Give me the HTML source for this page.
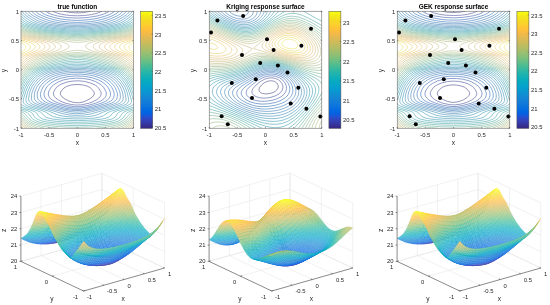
<!DOCTYPE html>
<html><head><meta charset="utf-8"><style>
html,body{margin:0;padding:0;background:#fff;}
body{width:550px;height:305px;overflow:hidden;}
svg{display:block;filter:blur(0.35px);}
text{font-family:"Liberation Sans",Arial,sans-serif;fill:#262626;}
.tk{font-size:5.9px;}
.lb{font-size:6.6px;}
.tt{font-size:6.5px;font-weight:bold;fill:#000;}
.ct path{fill:none;stroke-width:5.5;}
.sf path{stroke-width:2.5;stroke-linejoin:round;}
.c0{fill:#7c75b1;stroke:#352a87}.c1{fill:#7c79b9;stroke:#363093}.c2{fill:#7c7dc1;stroke:#3637a0}.c3{fill:#7c81c9;stroke:#353dad}.c4{fill:#7a85d2;stroke:#3243ba}.c5{fill:#768ada;stroke:#2c4ac7}.c6{fill:#6e8fe3;stroke:#2053d4}.c7{fill:#6395e9;stroke:#0f5cdd}.c8{fill:#5b99eb;stroke:#0363e1}.c9{fill:#5a9dec;stroke:#0268e1}.c10{fill:#5ca0eb;stroke:#046de0}.c11{fill:#5fa3ea;stroke:#0871de}.c12{fill:#62a5e8;stroke:#0d75dc}.c13{fill:#64a8e7;stroke:#1079da}.c14{fill:#65aae6;stroke:#127dd8}.c15{fill:#66ade4;stroke:#1481d6}.c16{fill:#66afe3;stroke:#1485d4}.c17{fill:#66b2e2;stroke:#1389d3}.c18{fill:#64b6e2;stroke:#108ed2}.c19{fill:#61b9e2;stroke:#0c93d2}.c20{fill:#5fbce1;stroke:#0998d1}.c21{fill:#5ebfe0;stroke:#079ccf}.c22{fill:#5dc1de;stroke:#06a0cd}.c23{fill:#5dc4dc;stroke:#06a4ca}.c24{fill:#5dc6da;stroke:#06a7c6}.c25{fill:#5ec7d7;stroke:#07a9c2}.c26{fill:#60c9d5;stroke:#0aacbe}.c27{fill:#63cbd1;stroke:#0faeb9}.c28{fill:#67ccce;stroke:#15b1b4}.c29{fill:#6ccecb;stroke:#1db3af}.c30{fill:#71cfc7;stroke:#25b5a9}.c31{fill:#77d0c4;stroke:#2eb7a4}.c32{fill:#7dd1c0;stroke:#38b99e}.c33{fill:#84d3bc;stroke:#42bb98}.c34{fill:#8bd4b8;stroke:#4dbc92}.c35{fill:#93d4b4;stroke:#59bd8c}.c36{fill:#9bd5b0;stroke:#65be86}.c37{fill:#a3d5ad;stroke:#71bf80}.c38{fill:#aad5a9;stroke:#7cbf7b}.c39{fill:#b1d5a7;stroke:#87bf77}.c40{fill:#b8d5a4;stroke:#92bf73}.c41{fill:#bed5a1;stroke:#9cbf6f}.c42{fill:#c5d59f;stroke:#a5be6b}.c43{fill:#cbd49c;stroke:#aebe67}.c44{fill:#d0d49a;stroke:#b7bd64}.c45{fill:#d6d498;stroke:#c0bc60}.c46{fill:#dbd395;stroke:#c8bc5d}.c47{fill:#e1d393;stroke:#d1bb59}.c48{fill:#e6d291;stroke:#d9ba56}.c49{fill:#ecd28f;stroke:#e1b952}.c50{fill:#f1d28c;stroke:#e9b94e}.c51{fill:#f6d289;stroke:#f1b94a}.c52{fill:#fbd285;stroke:#f8bb44}.c53{fill:#fed581;stroke:#fdbe3d}.c54{fill:#ffd87d;stroke:#ffc337}.c55{fill:#fedc7a;stroke:#fec832}.c56{fill:#fddf77;stroke:#fcce2e}.c57{fill:#fce274;stroke:#fad32a}.c58{fill:#fae672;stroke:#f7d826}.c59{fill:#f9ea6f;stroke:#f5de21}.c60{fill:#f8ee6c;stroke:#f5e41d}.c61{fill:#f8f269;stroke:#f5eb18}.c62{fill:#f9f766;stroke:#f6f313}.c63{fill:#fbfc62;stroke:#f9fb0e}
</style></head><body>
<svg width="550" height="305" viewBox="0 0 550 305">
<defs><linearGradient id="pg" x1="0" y1="1" x2="0" y2="0"><stop offset="0.008" stop-color="#352a87"/><stop offset="0.023" stop-color="#363093"/><stop offset="0.039" stop-color="#3637a0"/><stop offset="0.055" stop-color="#353dad"/><stop offset="0.070" stop-color="#3243ba"/><stop offset="0.086" stop-color="#2c4ac7"/><stop offset="0.102" stop-color="#2053d4"/><stop offset="0.117" stop-color="#0f5cdd"/><stop offset="0.133" stop-color="#0363e1"/><stop offset="0.148" stop-color="#0268e1"/><stop offset="0.164" stop-color="#046de0"/><stop offset="0.180" stop-color="#0871de"/><stop offset="0.195" stop-color="#0d75dc"/><stop offset="0.211" stop-color="#1079da"/><stop offset="0.227" stop-color="#127dd8"/><stop offset="0.242" stop-color="#1481d6"/><stop offset="0.258" stop-color="#1485d4"/><stop offset="0.273" stop-color="#1389d3"/><stop offset="0.289" stop-color="#108ed2"/><stop offset="0.305" stop-color="#0c93d2"/><stop offset="0.320" stop-color="#0998d1"/><stop offset="0.336" stop-color="#079ccf"/><stop offset="0.352" stop-color="#06a0cd"/><stop offset="0.367" stop-color="#06a4ca"/><stop offset="0.383" stop-color="#06a7c6"/><stop offset="0.398" stop-color="#07a9c2"/><stop offset="0.414" stop-color="#0aacbe"/><stop offset="0.430" stop-color="#0faeb9"/><stop offset="0.445" stop-color="#15b1b4"/><stop offset="0.461" stop-color="#1db3af"/><stop offset="0.477" stop-color="#25b5a9"/><stop offset="0.492" stop-color="#2eb7a4"/><stop offset="0.508" stop-color="#38b99e"/><stop offset="0.523" stop-color="#42bb98"/><stop offset="0.539" stop-color="#4dbc92"/><stop offset="0.555" stop-color="#59bd8c"/><stop offset="0.570" stop-color="#65be86"/><stop offset="0.586" stop-color="#71bf80"/><stop offset="0.602" stop-color="#7cbf7b"/><stop offset="0.617" stop-color="#87bf77"/><stop offset="0.633" stop-color="#92bf73"/><stop offset="0.648" stop-color="#9cbf6f"/><stop offset="0.664" stop-color="#a5be6b"/><stop offset="0.680" stop-color="#aebe67"/><stop offset="0.695" stop-color="#b7bd64"/><stop offset="0.711" stop-color="#c0bc60"/><stop offset="0.727" stop-color="#c8bc5d"/><stop offset="0.742" stop-color="#d1bb59"/><stop offset="0.758" stop-color="#d9ba56"/><stop offset="0.773" stop-color="#e1b952"/><stop offset="0.789" stop-color="#e9b94e"/><stop offset="0.805" stop-color="#f1b94a"/><stop offset="0.820" stop-color="#f8bb44"/><stop offset="0.836" stop-color="#fdbe3d"/><stop offset="0.852" stop-color="#ffc337"/><stop offset="0.867" stop-color="#fec832"/><stop offset="0.883" stop-color="#fcce2e"/><stop offset="0.898" stop-color="#fad32a"/><stop offset="0.914" stop-color="#f7d826"/><stop offset="0.930" stop-color="#f5de21"/><stop offset="0.945" stop-color="#f5e41d"/><stop offset="0.961" stop-color="#f5eb18"/><stop offset="0.977" stop-color="#f6f313"/><stop offset="0.992" stop-color="#f9fb0e"/></linearGradient></defs>
<g clip-path="url(#clip0)"><g class="ct" transform="scale(.1)"><path d="M835 851l37 10 28 14 28 27 10 14 5 15-2 15-15 22-28 21-41 21-28 10-35 7-35 0-35-6-42-14-34-18-28-21-15-22-2-15 10-22 27-29 27-16 36-12 42-6 42-1 48 6M909 112l-66 13-70 4-70-4-66-13" stroke="#3a3b7f"/><path d="M845 814l62 17 49 23 15 11 13 13 24 38 4 22-4 15-8 15-13 14-19 15-43 22-38 14-72 15-49 3-49-5-58-13-38-14-31-15-31-22-13-14-8-15-4-15 2-14 6-15 13-22 21-23 20-13 22-12 50-18 56-10 63-3 58 6M1021 112l-51 21-56 13-71 9-70 3-70-3-71-9-56-13-51-21" stroke="#3b4693"/><path d="M835 785l65 11 52 18 51 29 19 15 13 14 24 44 4 15-2 22-6 15-15 19-11 10-24 14-50 22-83 23-71 11-56 0-72-12-57-14-44-15-31-15-24-14-16-15-10-14-7-16-1-21 7-22 16-29 11-15 16-14 46-30 53-21 64-13 70-6 69 4M1092 112l-23 15-31 14-68 19-98 16-99 5-99-5-98-16-68-19-31-14-23-15" stroke="#3253a6"/><path d="M843 763l78 14 63 22 28 14 21 15 21 17 20 20 14 22 13 29 4 15 0 22-8 22-10 14-16 15-17 10-42 19-74 22-59 15-71 10-63 1-35-4-50-9-126-35-34-14-25-15-16-15-10-14-8-22 0-22 6-22 15-29 10-15 21-22 29-22 24-14 58-24 78-17 77-7 84 4M1146 112l-28 21-30 16-41 14-49 14-56 12-56 8-57 5-56 2-56-2-57-5-56-8-56-12-49-14-41-14-30-16-28-21" stroke="#205eb0"/><path d="M809 741l84 9 35 7 42 12 40 16 28 14 22 15 23 19 21 22 13 17 18 37 6 22 1 22-5 22-13 22-17 14-43 22-70 22-66 18-92 18-42 3-35 0-49-3-57-10-70-17-77-23-24-8-31-14-22-15-13-15-9-21-3-22 3-22 8-22 14-30 13-17 28-28 29-22 22-13 34-15 41-14 36-9 85-12 92-1M1192 112l-25 22-35 20-56 23-57 17-56 13-56 9-66 6-68 2-68-2-66-6-56-9-56-13-57-17-56-23-35-20-25-22" stroke="#2266b1"/><path d="M840 726l88 12 70 20 35 15 36 19 21 15 24 22 20 22 15 21 17 37 8 29-1 30-6 21-10 15-25 19-21 11-65 21-132 35-85 13-77 3-49-4-61-10-136-35-52-16-33-14-24-16-14-14-7-15-3-14-1-30 5-22 16-36 13-22 26-29 24-22 28-19 34-18 36-14 43-13 42-9 50-6 49-4 49 0 53 2M1231 112l-22 22-32 22-66 30-59 21-62 15-62 9-78 7-77 2-77-2-78-7-62-9-62-15-59-21-66-30-32-22-22-22" stroke="#2a6eb1"/><path d="M848 712l94 13 77 21 28 12 36 18 28 20 21 18 28 31 18 27 17 37 7 29 2 37-6 22-10 14-21 16-28 13-44 15-139 39-120 23-42 3-35 1-56-5-78-15-63-14-88-24-84-30-25-16-17-20-6-22 2-37 7-29 17-37 18-27 28-31 26-22 34-22 29-14 39-15 48-13 47-9 52-7 56-3 103 3M1266 112l-27 29-33 22-67 34-63 23-64 14-70 11-85 7-84 2-84-2-85-7-70-11-64-14-63-23-67-34-33-22-27-29" stroke="#3075b0"/><path d="M841 697l101 13 49 11 42 13 37 14 27 15 32 22 24 20 27 31 21 29 17 37 9 29 5 37-2 29-7 14-6 8-19 14-45 19-56 18-183 48-78 15-77 4-49-4-50-8-134-33-77-22-56-18-45-19-19-14-11-15-4-22 3-44 9-29 18-41 21-31 26-30 26-22 32-22 28-15 43-17 42-12 56-12 49-7 57-4 56-1 61 2M1297 112l-11 15-20 20-43 29-56 31-60 22-64 15-87 12-92 8-91 3-91-3-92-8-87-12-64-15-60-22-56-31-43-29-20-20-11-15" stroke="#337cb0"/><path d="M895 690l90 14 48 14 43 15 31 15 24 15 28 22 23 22 29 36 18 29 18 44 8 37 5 36-1 15-14 22-21 15-35 14-43 15-239 70-71 11-84 3-63-5-50-9-239-70-43-15-35-14-21-15-11-15-4-22 7-51 9-29 19-44 23-34 27-32 34-29 37-24 42-19 49-15 57-14 49-7 64-6 63-2 63 1 66 6M1325 112l-16 22-14 15-58 41-42 25-57 21-69 16-99 15-98 9-99 3-99-3-98-9-99-15-69-16-57-21-42-25-58-41-14-15-16-22" stroke="#3284b0"/><path d="M865 675l110 15 37 7 42 12 43 17 31 15 25 16 28 23 28 29 30 42 12 21 20 52 15 65 1 15-7 22-17 15-47 22-144 43-41 15-54 25-28 9-42 8-43 5-105 4-99-6-70-13-28-10-67-29-172-54-40-19-17-15-7-22 2-22 14-58 24-59 24-37 22-29 34-31 35-25 42-20 50-18 42-11 56-10 63-8 71-5 63 0 64 4M1336 135l-28 27-60 45-42 22-46 16-84 19-99 14-105 10-99 3-99-3-105-10-99-14-84-19-46-16-42-22-60-45-28-27" stroke="#2e8bb0"/><path d="M849 660l121 17 89 20 38 13 36 16 27 16 28 21 36 36 27 37 21 36 17 44 24 81 2 14-3 15-3 7-19 15-47 22-138 44-30 14-41 30-36 12-48 10-57 5-71 4-77 0-127-7-49-7-35-9-28-12-48-33-37-15-134-42-31-16-19-15-5-14 1-22 24-81 21-51 27-44 23-29 30-29 35-25 42-22 49-18 50-13 63-11 70-11 64-5 56-1 62 3M1336 162l-45 38-32 22-43 19-57 17-83 17-106 15-98 9-99 3-99-3-98-9-106-15-83-17-57-17-43-19-32-22-45-38" stroke="#2e92af"/><path d="M1336 1042l-16 13-30 15-114 36-35 15-19 15-17 22-8 7-12 7-23 9-50 11-63 7-85 5-91 2-91-2-85-5-63-7-50-11-23-9-12-7-8-7-17-22-19-15-35-15-114-36-30-15-16-13M210 995l42-115 21-41 21-32 22-26 26-25 30-23 35-20 39-16 88-23 126-24 57-6 56-2 56 2 57 6 126 24 88 23 39 16 35 20 30 23 26 25 22 26 21 32 21 41 42 115M1336 186l-33 28-37 22-50 19-68 18-86 16-99 13-99 8-91 3-91-3-99-8-99-13-86-16-68-18-50-19-37-22-33-28" stroke="#2f97ac"/><path d="M1336 1070l-39 15-72 21-34 15-17 15-12 22-12 14-24 15-22 8-57 11-77 9-98 6-99 2-99-2-98-6-77-9-57-11-22-8-24-15-12-14-12-22-17-15-34-15-72-21-39-15M210 946l28-77 37-62 43-51 26-22 28-18 35-17 28-11 134-36 113-20 91-6 91 6 113 20 134 36 28 11 35 17 28 18 26 22 43 51 37 62 28 77M1336 211l-35 24-35 16-64 21-70 16-84 14-99 12-92 7-84 2-84-2-92-7-99-12-84-14-70-16-64-21-35-16-35-24" stroke="#329ca7"/><path d="M1336 1088l-62 18-35 15-19 15-16 29-12 15-23 14-39 15-61 12-85 10-105 6-106 2-106-2-105-6-85-10-61-12-39-15-23-14-12-15-16-29-19-15-35-15-62-18M210 895l12-30 16-29 21-34 21-28 21-23 20-17 51-33 35-15 70-23 106-28 106-20 84-5 84 5 106 20 106 28 70 23 35 15 51 33 20 17 21 23 21 28 21 34 16 29 12 30M1336 232l-35 19-49 18-64 18-63 13-92 14-98 11-85 7-77 2-77-2-85-7-98-11-92-14-63-13-64-18-49-18-35-19" stroke="#3ca1a3"/><path d="M1336 1102l-35 12-30 14-15 15-25 37-15 12-29 17-41 14-70 14-85 10-105 7-113 2-113-2-105-7-85-10-70-14-41-14-29-17-15-12-25-37-15-15-30-14-35-12M210 857l28-50 38-51 40-36 42-26 112-43 106-30 106-21 49-5 42-1 42 1 49 5 106 21 106 30 112 43 42 26 40 36 38 51 28 50M1336 249l-42 18-57 19-49 12-63 13-92 13-105 12-85 7-70 2-70-2-85-7-105-12-92-13-63-13-49-12-57-19-42-18" stroke="#48a59e"/><path d="M1336 1117l-24 11-18 13-38 46-26 20-34 17-43 13-70 15-85 11-112 7-113 2-113-2-112-7-85-11-70-15-43-13-34-17-26-20-38-46-18-13-24-11M210 827l28-46 35-43 41-34 44-22 105-43 113-34 106-20 49-5 42-2 42 2 49 5 106 20 113 34 105 43 44 22 41 34 35 43 28 46M1336 263l-42 17-47 15-59 14-63 12-204 26-78 7-70 2-70-2-78-7-204-26-63-12-59-14-47-15-42-17" stroke="#5ead96"/><path d="M581 1282l-75-7-64-10-49-11-49-16-32-14-25-16-23-21-33-36-21-16M1336 1135l-21 16-33 36-23 21-25 16-32 14-49 16-49 11-64 10-75 7M210 799l41-58 40-37 32-18 91-43 92-33 91-25 92-16 84-6 84 6 92 16 91 25 92 33 91 43 32 18 40 37 41 58M1336 276l-49 19-42 12-134 26-190 25-78 6-70 3-70-3-78-6-190-25-134-26-42-12-49-19" stroke="#6fb190"/><path d="M444 1282l-72-18-35-13-28-13-25-14-20-15-54-54M1336 1155l-54 54-20 15-25 14-28 13-35 13-72 18M210 774l30-40 40-37 85-46 70-32 85-29 91-22 78-12 84-5 84 5 78 12 91 22 85 29 70 32 85 46 40 37 30 40M1336 289l-36 13-55 15-155 29-190 24-71 6-56 2-56-2-71-6-190-24-155-29-55-15-36-13" stroke="#81b48c"/><path d="M375 1282l-52-20-43-24-29-22-41-42M1336 1174l-41 42-29 22-43 24-52 20M210 750l28-34 32-26 95-55 84-37 71-23 77-18 99-14 77-4 77 4 99 14 77 18 71 23 84 37 95 55 32 26 28 34M1336 302l-91 25-141 27-204 27-71 7-56 2-56-2-71-7-204-27-141-27-91-25" stroke="#92b687"/><path d="M331 1282l-37-19-28-18-28-24-28-29M1336 1192l-28 29-28 24-28 18-37 19M210 728l30-31 76-51 63-35 63-27 64-19 77-17 106-17 84-6 84 6 106 17 77 17 64 19 63 27 63 35 76 51 30 31M1336 313l-91 24-120 23-268 39-84 5-84-5-268-39-120-23-91-24" stroke="#a1b884"/><path d="M298 1282l-46-32-42-41M1336 1209l-42 41-46 32M210 709l21-20 92-64 49-28 49-20 71-21 204-44 42-7 35-2 35 2 42 7 204 44 71 21 49 20 49 28 92 64 21 20M1336 324l-77 21-80 16-181 29-148 27-42 5-35 2-35-2-42-5-148-27-181-29-80-16-77-21" stroke="#afb980"/><path d="M272 1282l-34-27-28-29M1336 1226l-28 29-34 27M210 691l91-71 57-33 35-15 41-14 125-29 73-22 33-15 18-14 6-8 3-7-3-7-7-8-21-14-43-15-96-22-228-41-84-21M1336 335l-84 21-228 41-96 22-43 15-21 14-7 8-3 7 3 7 6 8 18 14 33 15 73 22 125 29 41 14 35 15 57 33 91 71" stroke="#bbb97d"/><path d="M251 1282l-41-40M1336 1242l-41 40M210 676l70-60 50-33 60-25 114-29 65-22 26-15 14-14 5-15-8-15-17-14-38-15-90-22-181-34-70-17M1336 346l-70 17-181 34-90 22-38 15-17 14-8 15 5 15 14 14 26 15 65 22 114 29 60 25 50 33 70 60" stroke="#c7b97a"/><path d="M232 1282l-22-23M1336 1259l-22 23M210 659l56-54 36-25 47-22 104-29 60-22 25-15 12-14 4-15-8-15-17-14-37-15-87-22-195-40M1336 357l-195 40-87 22-37 15-17 14-8 15 4 15 12 14 25 15 60 22 104 29 47 22 36 25 56 54" stroke="#d3b976"/><path d="M216 1282l-6-7M1336 1275l-6 7M210 638l41-43 30-22 35-17 90-27 56-22 24-15 11-14 3-15-8-15-18-14-37-15-85-22-142-30M1336 367l-142 30-85 22-37 15-18 14-8 15 3 15 11 14 24 15 56 22 90 27 35 17 30 22 41 43" stroke="#dfbb72"/><path d="M210 612l28-31 28-19 27-11 87-30 47-21 9-8 10-14 3-15-3-7-14-15-26-15-75-22-121-27M1336 377l-121 27-75 22-26 15-14 15-3 7 3 15 10 14 9 8 47 21 87 30 27 11 28 19 28 31" stroke="#e9c06c"/><path d="M210 581l30-23 96-37 43-21 14-15 7-15 0-7-10-15-20-14-15-8-74-22-71-17M1336 387l-71 17-74 22-15 8-20 14-10 15 0 7 7 15 14 15 43 21 96 37 30 23" stroke="#ebc866"/><path d="M210 557l82-36 29-14 20-15 11-22-1-7-3-7-27-22-37-15-74-21M1336 398l-74 21-37 15-27 22-3 7-1 7 11 22 20 15 29 14 82 36" stroke="#e9d062"/><path d="M210 540l41-19 37-21 11-15 6-15-1-7-4-7-27-22-16-8-47-15M1336 411l-47 15-16 8-27 22-4 7-1 7 6 15 11 15 37 21 41 19" stroke="#e8d95e"/><path d="M210 522l33-22 11-15 4-15-1-7-12-15-20-14-15-8M1336 426l-15 8-20 14-12 15-1 7 4 15 11 15 33 22" stroke="#eae45b"/></g></g>
<clipPath id="clip0"><rect x="21" y="11.2" width="112.6" height="117"/></clipPath>
<rect x="21" y="11.2" width="112.6" height="117" fill="none" stroke="#4d4d4d" stroke-width="0.5"/>
<path d="M21 128.2v-1.2M21 11.2v1.2M21 128.2h1.2M133.6 128.2h-1.2M49.1 128.2v-1.2M49.1 11.2v1.2M21 98.9h1.2M133.6 98.9h-1.2M77.3 128.2v-1.2M77.3 11.2v1.2M21 69.7h1.2M133.6 69.7h-1.2M105.4 128.2v-1.2M105.4 11.2v1.2M21 40.5h1.2M133.6 40.5h-1.2M133.6 128.2v-1.2M133.6 11.2v1.2M21 11.2h1.2M133.6 11.2h-1.2" stroke="#4d4d4d" stroke-width="0.5"/>
<text x="21" y="136.9" class="tk" text-anchor="middle">-1</text>
<text x="19.1" y="130.7" class="tk" text-anchor="end">-1</text>
<text x="49.1" y="136.9" class="tk" text-anchor="middle">-0.5</text>
<text x="19.1" y="101.4" class="tk" text-anchor="end">-0.5</text>
<text x="77.3" y="136.9" class="tk" text-anchor="middle">0</text>
<text x="19.1" y="72.2" class="tk" text-anchor="end">0</text>
<text x="105.4" y="136.9" class="tk" text-anchor="middle">0.5</text>
<text x="19.1" y="43" class="tk" text-anchor="end">0.5</text>
<text x="133.6" y="136.9" class="tk" text-anchor="middle">1</text>
<text x="19.1" y="13.7" class="tk" text-anchor="end">1</text>
<text x="77.3" y="145.2" class="lb" text-anchor="middle">x</text>
<text class="lb" text-anchor="middle" transform="translate(6.4 70.5) rotate(-90)">y</text>
<text x="77.3" y="8.6" class="tt" text-anchor="middle">true function</text>
<rect x="140.7" y="11.3" width="12" height="117.1" fill="url(#pg)"/>
<rect x="140.7" y="11.3" width="12" height="117.1" fill="none" stroke="#4d4d4d" stroke-width="0.5"/>
<text x="154.8" y="129.5" class="tk">20.5</text>
<text x="154.8" y="111" class="tk">21</text>
<text x="154.8" y="92.5" class="tk">21.5</text>
<text x="154.8" y="73.9" class="tk">22</text>
<text x="154.8" y="55.4" class="tk">22.5</text>
<text x="154.8" y="36.9" class="tk">23</text>
<text x="154.8" y="18.3" class="tk">23.5</text>
<path d="M152.7 126.9h-1.2M152.7 108.4h-1.2M152.7 89.9h-1.2M152.7 71.3h-1.2M152.7 52.8h-1.2M152.7 34.3h-1.2M152.7 15.7h-1.2" stroke="#4d4d4d" stroke-width="0.5"/>
<g clip-path="url(#clip1)"><g class="ct" transform="scale(.1)"><path d="M2744 814l24 16 9 13 5 15 0 14-6 15-11 15-11 10-21 12-20 7-44 8-21-1-21-3-21-9-10-10-4-7-2-15 7-22 17-21 27-22 28-14 28-7 21 0 26 6" stroke="#3a3b7f"/><path d="M2755 785l27 12 22 17 16 22 8 22 1 22-7 22-15 22-25 20-32 16-39 12-42 8-35 1-35-3-35-10-27-15-13-15-3-7-2-15 3-14 7-15 31-36 46-37 41-22 36-11 35-3 37 7" stroke="#3b4693"/><path d="M2755 763l39 14 32 22 24 30 13 29 2 29-7 29-20 29-28 23-42 21-50 15-56 8-49 1-42-5-43-12-21-10-18-11-20-22-6-15-1-14 3-15 8-15 12-14 22-22 67-51 52-30 43-14 42-5 44 5" stroke="#3253a6"/><path d="M2713 741l26 2 29 5 42 17 21 12 18 15 15 15 16 22 15 36 3 22-1 22-7 22-8 15-11 14-19 18-42 26-56 21-71 13-63 3-64-7-53-15-44-22-19-15-14-14-12-22-2-15 2-15 7-14 11-15 32-29 84-59 58-32 28-12 28-8 28-5 23-1" stroke="#205eb0"/><path d="M2713 726l26 2 31 6 26 8 30 14 26 16 25 20 20 22 14 22 10 22 6 22 2 22-2 22-8 22-12 22-20 21-18 15-24 15-28 14-63 20-78 12-70 1-35-4-36-7-63-22-53-29-19-15-20-21-8-15-4-15 0-14 4-15 15-22 34-29 105-66 73-39 56-20 28-5 30-2M2484 112l-2 15-4 7-14 15-27 11-28 3-36-5-29-9-28-15-25-22" stroke="#2266b1"/><path d="M2766 719l30 8 33 14 27 15 30 21 23 22 18 22 14 22 12 29 6 30-1 22-5 22-9 21-15 21-14 16-21 18-28 19-29 14-34 13-71 16-77 7-42-2-35-4-42-8-36-10-70-29-35-19-29-21-16-16-16-22-8-22 0-14 3-15 8-15 13-14 17-15 59-36 133-73 68-29 35-9 35-5 35 1 34 5M2533 112l-1 15-5 14-10 15-17 14-14 8-21 8-42 6-50-6-45-15-29-15-23-15-32-29" stroke="#2a6eb1"/><path d="M2753 704l36 8 39 14 31 16 33 21 27 22 27 29 21 29 13 29 7 30 0 22-5 29-9 22-15 24-22 24-28 24-28 18-35 16-35 13-35 9-43 7-42 3-42 1-77-8-43-10-42-13-42-16-42-20-37-21-31-22-23-22-16-22-7-14-3-15 1-15 5-14 9-15 14-15 42-29 200-102 53-22 39-11 35-6 35-1 35 3M2573 112l-4 22-6 15-17 22-18 14-27 15-22 7-21 4-28 2-28-2-29-5-28-8-35-14-28-14-34-21-19-15-22-22" stroke="#3075b0"/><path d="M2716 690l45 4 41 10 39 15 43 22 42 29 32 29 24 30 22 36 9 29 3 30-5 29-11 29-18 29-24 28-29 25-30 21-33 16-35 14-35 10-42 8-43 4-42 0-42-2-49-7-50-12-49-15-56-23-48-23-44-25-35-26-23-22-16-22-9-22-2-14 1-15 6-15 10-14 15-15 32-22 282-131 35-12 28-6 28-4 33 0M2608 112l-4 22-11 22-19 22-25 20-21 12-28 12-33 7-30 2-28-2-36-6-35-10-35-13-43-22-34-22-29-22-22-22" stroke="#337cb0"/><path d="M2753 682l43 9 49 17 42 21 43 27 37 29 35 36 25 37 12 29 4 29-2 30-9 29-20 36-26 35-28 27-36 27-35 20-35 16-35 11-42 9-43 5-42 1-42-3-42-5-50-11-56-16-55-21-57-24-53-27-48-29-30-22-29-29-14-22-7-22-1-15 3-14 6-15 11-15 15-14 41-25 155-64 123-57 46-18 35-9 35-5 35-1 42 3M2642 112l-6 22-18 29-19 22-27 22-30 17-29 12-34 8-35 3-35-2-43-8-42-13-41-17-42-22-35-22-30-22-31-29" stroke="#3284b0"/><path d="M2770 675l47 12 49 19 54 28 44 29 36 29 34 37 24 36 10 29 2 30-6 36-15 37-21 33-28 34-37 35-41 30-42 23-35 15-35 10-35 6-43 4-42-1-49-5-42-7-50-13-63-20-63-25-70-31-57-30-49-29-29-22-23-22-20-29-8-22-1-15 4-22 7-14 11-15 16-14 22-15 28-14 162-60 133-59 57-21 35-8 42-5 42 0 45 6M2675 112l-12 29-21 30-30 29-30 22-33 17-35 14-35 7-35 2-35-3-43-8-42-13-42-17-44-21-50-29-40-30-32-29" stroke="#2e8bb0"/><path d="M2739 660l50 9 56 17 59 26 52 29 52 36 41 37 29 37 16 36 4 37-7 36-16 37-26 41-35 43-42 40-43 33-49 28-35 14-35 10-35 6-43 2-42-2-42-6-42-8-50-14-63-22-77-31-88-39-73-37-49-29-30-22-23-22-20-29-8-22-2-15 3-22 6-14 10-15 14-14 20-15 26-15 55-22 152-49 140-60 50-17 35-9 35-5 35-1 35 2M2709 112l-16 29-23 30-30 29-41 30-35 20-36 14-38 9-39 3-42-3-43-8-44-14-47-19-52-25-51-29-43-29-37-32" stroke="#2e92af"/><path d="M2092 868l15-17 28-22 27-15 35-15 198-58 49-18 105-45 43-15 56-12 63-2 64 7 70 20 69 28 79 44 61 44 38 37 24 36 7 22 3 22-1 22-8 29-24 51-23 34-25 32-59 61-57 45-56 33-56 19-56 8-64-2-70-14-78-24-98-39-180-79-87-44-54-37-23-22-15-20M2746 112l-21 29-34 37-43 36-35 25-35 20-36 15-35 10-42 5-35-1-42-6-43-10-49-18-57-25-56-29-49-29-42-29" stroke="#2f97ac"/><path d="M2092 819l42-20 42-14 155-39 64-19 147-59 45-15 33-8 35-5 63-1 71 11 77 23 74 31 80 44 66 44 40 37 11 14 11 22 5 15 3 22-2 22-7 29-13 29-16 29-48 66-63 71-63 56-57 38-49 22-28 7-28 5-43 1-49-7-49-12-56-19-71-29-323-140-60-29-39-25M2789 112l-36 37-42 36-47 37-44 29-35 20-36 15-35 10-35 5-35 1-42-5-43-9-42-13-49-20-56-26-69-37-51-30" stroke="#329ca7"/><path d="M2621 1282l-269-125-260-102M2092 788l63-18 155-33 63-17 50-16 112-45 50-17 49-10 49-3 42 2 50 7 49 12 49 15 49 20 59 27 71 36 49 29 32 22 25 22 12 15 12 22 6 22 1 22-4 22-10 29-18 36-29 44-37 49-42 50-49 53-42 41-36 30-37 26M2852 112l-56 34-128 90-59 37-60 27-35 9-28 5-35 1-42-4-43-9-42-13-49-18-60-27-123-65M3218 212l-53-27-131-73" stroke="#3ca1a3"/><path d="M2557 1282l-120-66-111-51-107-39-127-37M3218 927l-12 26-17 29-52 73-109 132-86 95M2092 763l197-36 70-16 64-21 119-46 50-15 56-9 56 0 57 6 63 14 64 20 74 30 112 51 72 36 44 30 16 14 12 18M3218 254l-134-73-63-29-56-16-29-2-28 0-49 10-49 21-56 32-119 76-64 33-36 12-28 6-28 3-35 0-63-9-78-24-91-39-120-59" stroke="#48a59e"/><path d="M2507 1282l-46-29-52-29-57-28-49-21-49-17-56-16-57-13-49-8M3218 984l-157 196-77 102M2092 741l162-23 77-14 78-22 119-46 43-14 56-11 56-2 42 3 50 8 98 26 82 29 263 104M3218 288l-91-56-71-36-63-24-57-9-28-1-28 3-56 16-63 30-120 73-49 26-57 21-28 6-28 3-35 0-35-4-36-8-42-12-91-36-148-69" stroke="#5ead96"/><path d="M2461 1282l-43-29-39-22-48-23-54-21-49-15-45-9-49-7-42-1M3218 1022l-63 73-57 70-42 59-36 58M2092 720l141-13 91-15 78-21 119-46 43-13 49-10 56-3 70 6 78 15 86 26 195 67 64 16 56 10M3218 317l-84-56-78-41-63-24-57-11-28-1-28 3-35 7-28 9-63 29-120 70-49 25-57 19-49 7-28 0-35-4-35-7-43-12-84-32-162-73" stroke="#6fb190"/><path d="M2417 1282l-33-22-39-22-49-21-42-14-42-10-43-5-42-1-35 5M3218 1055l-54 59-46 58-38 59-27 51M2092 701l127-7 98-14 85-23 112-43 42-13 50-10 49-3 70 5 78 15 77 21 162 51 63 16 64 8 49 0M3218 346l-77-57-71-42-35-16-35-13-35-9-29-4-28-2-28 2-28 5-35 9-63 28-127 73-42 21-50 18-28 5-28 3-28-1-35-4-35-7-43-13-77-29-169-74" stroke="#81b48c"/><path d="M2368 1282l-36-22-31-15-40-13-36-8-34-4-36 0-35 7-28 12M3218 1087l-45 49-39 51-30 51-18 44M2092 683l120-4 56-5 49-8 78-21 147-55 43-9 49-5 70 4 78 14 77 19 155 45 70 16 35 5 36 1 35-3 28-7M3218 376l-32-30-37-29-72-46-35-18-35-15-35-10-36-6-35-2-28 2-28 5-35 10-71 32-112 65-42 22-50 18-49 7-28 0-35-4-71-18-70-26-190-80" stroke="#92b687"/><path d="M2304 1282l-50-19-21-4-28-2-22 2-21 4-21 9-14 10M3218 1119l-35 39-31 44-22 43-12 37M2092 665l113 0 56-5 49-7 42-10 41-12 142-54 43-10 42-3 63 3 71 12 77 18 169 45 77 14 42 3 36-3 35-8 28-14M3218 408l-29-33-32-29-37-29-36-24-42-23-35-15-35-11-36-6-35-2-28 1-35 7-35 10-64 29-119 70-42 22-50 16-42 6-28-1-35-5-71-18-63-24-197-82" stroke="#a1b884"/><path d="M3218 1155l-25 32-18 29-16 37-6 29M2092 648l56 3 57-1 56-4 49-8 79-21 139-56 28-7 36-5 56 2 70 11 78 17 183 46 49 10 42 5 49-1 43-10 21-9 14-9 21-22M3218 450l-19-31-30-36-30-30-37-29-39-25-42-22-42-15-35-8-36-3-35 1-35 6-35 10-35 14-36 18-119 73-35 19-43 16-42 6-28 0-28-4-71-19-56-20-148-63-70-27" stroke="#afb980"/><path d="M3218 1205l-10 19-9 21-4 22 0 15M2092 630l56 5 57 0 56-5 49-8 42-10 36-12 133-60 28-7 36-3 49 4 63 12 289 69 56 7 49 0 28-4 22-7 21-10 17-14 12-14 9-15 7-22 2-22-6-36-15-37-25-37-33-36-44-37-44-27-42-20-49-14-43-5-35 1-35 5-42 13-35 15-43 23-112 75-35 20-36 14-35 5-49-4-63-17-71-27-155-67-70-25" stroke="#bbb97d"/><path d="M2092 612l63 6 71-1 63-7 49-12 49-18 54-29 62-44 17-15 3-7-142-54-212-93-77-27M2922 280l-42-1-42 6-42 13-42 19-50 29-50 37-105 87-8 8-3 7 66 22 133 36 143 37 92 20 49 6 42 1 35-5 36-14 20-15 12-15 11-22 4-22-1-22-5-22-8-22-17-29-23-29-21-22-26-22-32-22-34-18-28-12-35-10-29-4" stroke="#c7b97a"/><path d="M2092 594l56 6 57 1 56-5 45-9 43-14 42-22 25-22 9-15 2-7-2-15-12-14-20-15-39-22-150-73-56-23-56-18M2922 294l-42-1-49 7-49 17-50 27-53 39-24 21-20 22-9 15-6 15 1 14 4 8 9 8 20 14 54 21 116 35 105 25 64 9 49 1 35-5 35-14 19-14 11-15 8-14 4-22 0-22-5-22-9-22-13-22-16-22-21-22-26-22-29-19-28-15-28-12-28-8-29-5" stroke="#d3b976"/><path d="M2092 574l49 7 50 2 45-3 42-7 39-13 30-17 16-14 5-8 4-14-3-15-10-14-26-22-35-22-54-30-62-29-48-18-42-13M2929 309l-42-3-42 5-45 13-46 23-42 28-36 37-10 14-7 15-1 15 5 14 13 15 10 7 44 22 89 29 89 22 57 9 49 3 42-6 34-13 15-11 10-11 8-15 6-21 0-15-4-22-8-22-13-22-31-36-45-36-49-25-50-13" stroke="#dfbb72"/><path d="M2092 552l35 6 42 4 43-2 35-5 34-12 22-13 13-16 3-14-5-15-18-22-19-15-33-22-75-37-36-14-41-11M2929 324l-42-4-42 5-45 14-42 22-37 29-23 29-7 15-2 14 4 15 5 7 25 22 45 22 63 21 64 16 56 9 49 1 35-4 34-14 10-7 13-15 7-14 4-15-2-29-15-37-29-36-36-29-42-23-50-14" stroke="#e9c06c"/><path d="M2922 338l-42-3-35 5-35 11-34 17-29 22-13 14-9 15-6 22 6 22 22 22 35 19 46 17 59 16 49 7 50 2 35-6 26-11 10-8 12-14 7-22-2-29-5-15-12-22-26-29-31-23-35-18-43-11M2092 525l28 7 28 3 28 0 29-3 21-5 21-11 9-9 4-15-4-14-11-15-38-29-58-30-57-16" stroke="#ebc866"/><path d="M2915 353l-35-2-35 5-33 12-26 15-24 21-12 22-1 22 8 15 25 22 28 14 42 15 35 9 42 6 36 1 35-6 23-10 16-14 9-22 0-22-13-30-21-26-28-21-35-17-36-9M2092 482l28 10 28 1 21-6 8-9-1-8-4-7-17-15-30-14-33-5" stroke="#e9d062"/><path d="M2929 375l-28-5-28 0-28 6-28 12-22 16-11 15-3 7-1 15 6 15 13 14 23 15 30 12 35 10 35 4 29 0 25-4 18-7 16-15 7-15 1-14-7-22-17-22-17-15-25-14-23-8" stroke="#e8d95e"/><path d="M2922 397l-21-4-21 0-21 4-14 5-14 10-11 14-1 15 3 7 9 12 14 10 35 14 42 5 22-2 14-5 14-10 5-9 2-7-2-15-8-15-11-11-17-11-19-7" stroke="#eae45b"/></g></g>
<clipPath id="clip1"><rect x="209.2" y="11.2" width="112.6" height="117"/></clipPath>
<g fill="#000"><circle cx="217.4" cy="20.4" r="2"/><circle cx="243.1" cy="15.9" r="2"/><circle cx="211" cy="32.5" r="2"/><circle cx="267" cy="39.3" r="2"/><circle cx="242" cy="54.9" r="2"/><circle cx="260.2" cy="63" r="2"/><circle cx="311" cy="28.7" r="2"/><circle cx="301.4" cy="45.7" r="2"/><circle cx="273.6" cy="50" r="2"/><circle cx="277.9" cy="65.6" r="2"/><circle cx="287.5" cy="72.6" r="2"/><circle cx="255.8" cy="79.3" r="2"/><circle cx="231.8" cy="83.1" r="2"/><circle cx="252" cy="98" r="2"/><circle cx="221.6" cy="116.2" r="2"/><circle cx="227.8" cy="124.3" r="2"/><circle cx="298.3" cy="87.8" r="2"/><circle cx="290.7" cy="103.4" r="2"/><circle cx="306.4" cy="108.7" r="2"/><circle cx="320.4" cy="116.6" r="2"/></g>
<rect x="209.2" y="11.2" width="112.6" height="117" fill="none" stroke="#4d4d4d" stroke-width="0.5"/>
<path d="M209.2 128.2v-1.2M209.2 11.2v1.2M209.2 128.2h1.2M321.8 128.2h-1.2M237.3 128.2v-1.2M237.3 11.2v1.2M209.2 98.9h1.2M321.8 98.9h-1.2M265.5 128.2v-1.2M265.5 11.2v1.2M209.2 69.7h1.2M321.8 69.7h-1.2M293.6 128.2v-1.2M293.6 11.2v1.2M209.2 40.5h1.2M321.8 40.5h-1.2M321.8 128.2v-1.2M321.8 11.2v1.2M209.2 11.2h1.2M321.8 11.2h-1.2" stroke="#4d4d4d" stroke-width="0.5"/>
<text x="209.2" y="136.9" class="tk" text-anchor="middle">-1</text>
<text x="207.3" y="130.7" class="tk" text-anchor="end">-1</text>
<text x="237.3" y="136.9" class="tk" text-anchor="middle">-0.5</text>
<text x="207.3" y="101.4" class="tk" text-anchor="end">-0.5</text>
<text x="265.5" y="136.9" class="tk" text-anchor="middle">0</text>
<text x="207.3" y="72.2" class="tk" text-anchor="end">0</text>
<text x="293.6" y="136.9" class="tk" text-anchor="middle">0.5</text>
<text x="207.3" y="43" class="tk" text-anchor="end">0.5</text>
<text x="321.8" y="136.9" class="tk" text-anchor="middle">1</text>
<text x="207.3" y="13.7" class="tk" text-anchor="end">1</text>
<text x="265.5" y="145.2" class="lb" text-anchor="middle">x</text>
<text class="lb" text-anchor="middle" transform="translate(194.6 70.5) rotate(-90)">y</text>
<text x="265.5" y="8.6" class="tt" text-anchor="middle">Kriging response surface</text>
<rect x="328.9" y="11.3" width="12" height="117.1" fill="url(#pg)"/>
<rect x="328.9" y="11.3" width="12" height="117.1" fill="none" stroke="#4d4d4d" stroke-width="0.5"/>
<text x="343" y="122.4" class="tk">20.5</text>
<text x="343" y="102.8" class="tk">21</text>
<text x="343" y="83.2" class="tk">21.5</text>
<text x="343" y="63.6" class="tk">22</text>
<text x="343" y="44.1" class="tk">22.5</text>
<text x="343" y="24.5" class="tk">23</text>
<path d="M340.9 119.8h-1.2M340.9 100.2h-1.2M340.9 80.6h-1.2M340.9 61h-1.2M340.9 41.5h-1.2M340.9 21.9h-1.2" stroke="#4d4d4d" stroke-width="0.5"/>
<g clip-path="url(#clip2)"><g class="ct" transform="scale(.1)"><path d="M4567 851l41 7 38 14 27 22 18 22 5 15 0 7-5 15-21 22-33 22-34 14-33 9-35 4-28-2-40-11-34-14-33-22-21-22-5-15 0-7 5-15 18-22 27-22 34-13 35-7 35-3 39 2M4653 112l-55 10-63 3-63-3-55-10" stroke="#3a3b7f"/><path d="M4584 814l57 11 49 18 36 22 25 29 15 30 2 14-4 15-9 15-13 14-32 22-48 22-53 15-60 8-49-2-70-14-56-22-37-22-16-14-11-15-8-22 2-14 6-15 26-37 30-21 49-21 57-14 56-5 56 3M4774 112l-42 17-56 14-64 9-77 3-77-3-64-9-56-14-42-17" stroke="#3b4693"/><path d="M4566 785l63 7 61 16 28 12 28 15 23 16 17 14 11 15 16 29 6 15 1 14-4 20-9 17-13 14-20 15-28 15-36 14-83 22-64 10-56 0-71-11-51-13-44-15-32-15-24-14-16-15-11-14-6-15-2-15 1-14 9-22 24-37 17-14 23-16 49-25 56-16 71-9 66 0M4847 112l-23 15-29 13-63 18-98 15-99 6-99-6-98-15-63-18-29-13-23-15" stroke="#3253a6"/><path d="M4579 763l76 10 70 20 49 24 28 20 23 21 13 15 18 36 7 22 0 15-5 22-8 14-13 15-21 14-48 22-120 34-78 12-63 0-42-4-43-8-120-34-34-14-25-15-17-15-10-14-8-22-1-22 7-22 11-22 13-22 14-14 49-37 28-15 30-11 70-18 71-8 79 1M4903 112l-30 22-30 15-41 14-49 13-49 10-56 9-57 5-56 1-56-1-57-5-56-9-49-10-49-13-41-14-30-15-30-22" stroke="#205eb0"/><path d="M4630 748l74 15 35 11 35 15 43 25 28 23 21 23 13 20 16 36 4 15 1 22-5 22-8 15-13 14-29 18-25 11-60 19-105 27-78 12-70 1-49-5-64-12-74-20-66-20-48-24-17-14-10-15-8-22 0-29 6-22 18-37 17-21 27-26 24-18 26-15 33-15 37-12 38-9 43-8 46-4 49-2 49 2 46 4M4949 112l-25 22-30 18-56 22-59 18-61 14-56 8-64 6-63 2-63-2-64-6-56-8-61-14-59-18-56-22-30-18-25-22" stroke="#2266b1"/><path d="M4573 726l89 9 77 18 35 13 35 16 28 17 22 17 27 27 17 22 19 37 9 29 2 29-5 22-13 22-19 15-28 14-30 11-78 23-70 18-92 16-77 4-49-4-57-8-126-32-87-28-33-18-20-18-9-22-3-29 3-22 12-30 15-29 16-21 30-30 26-19 31-18 33-14 35-12 40-10 44-8 50-5 49-2 52 0M4989 112l-22 22-33 22-68 31-61 20-59 14-56 8-78 7-77 2-77-2-78-7-56-8-59-14-61-20-68-31-33-22-22-22" stroke="#2a6eb1"/><path d="M4585 712l98 11 49 10 35 10 32 13 32 15 33 21 23 19 28 30 18 24 17 37 10 29 3 29-4 29-14 22-19 15-25 12-49 17-134 37-120 23-42 4-35 0-56-5-78-14-63-15-82-22-85-30-24-14-8-8-11-14-6-22 1-37 8-29 16-37 20-29 27-29 24-21 24-16 33-17 35-14 40-12 44-10 49-7 56-5 100 0M5024 112l-28 29-32 21-70 36-56 20-64 15-76 11-86 6-77 2-77-2-86-6-76-11-64-15-56-20-70-36-32-21-28-29" stroke="#3075b0"/><path d="M4573 697l103 10 49 9 49 13 35 12 33 15 35 21 28 22 31 33 24 33 16 37 10 29 5 37-2 29-11 17-21 18-42 18-62 20-78 22-106 26-78 14-70 3-42-3-50-8-126-30-64-18-63-19-45-16-27-15-15-15-9-22 0-36 8-37 18-44 14-21 30-37 23-22 30-22 29-17 36-15 42-13 49-12 52-9 54-5 108-2M5055 112l-25 29-45 32-62 34-57 21-70 16-78 11-92 8-91 2-91-2-92-8-78-11-70-16-57-21-62-34-45-32-25-29" stroke="#337cb0"/><path d="M4643 690l96 14 77 23 34 14 28 15 30 21 26 22 25 30 25 36 16 37 10 29 8 44 0 22-4 14-5 8-17 15-42 20-48 16-233 67-71 12-77 3-56-4-57-9-232-67-52-17-35-14-22-15-11-15-5-22 7-51 9-29 19-44 25-36 25-30 33-28 36-23 34-16 50-17 49-12 56-10 64-6 63-3 63 2 59 4M5083 112l-13 19-17 18-54 38-47 27-58 22-70 16-93 14-97 8-99 3-99-3-97-8-93-14-70-16-58-22-47-27-54-38-17-18-13-19" stroke="#3284b0"/><path d="M4607 675l111 13 48 9 36 10 43 15 35 16 29 18 28 21 29 30 32 44 12 21 20 52 14 58 2 22-8 22-18 15-56 24-137 41-41 15-54 24-28 8-78 13-105 4-92-6-42-6-31-8-113-44-88-25-63-21-42-19-18-15-8-22 2-22 14-58 23-59 22-33 25-33 31-28 31-23 39-20 42-16 50-15 42-8 70-10 71-5 63-1 58 2M5098 130l-24 26-67 50-45 23-43 15-81 18-99 14-105 10-99 3-99-3-105-10-99-14-81-18-43-15-45-23-67-50-24-26" stroke="#2e8bb0"/><path d="M4585 660l112 13 63 11 56 13 42 15 32 14 26 15 27 19 34 32 23 29 28 44 18 44 24 80 3 22-3 15-4 7-17 14-51 23-138 44-31 14-41 28-35 13-42 8-56 6-71 4-70 0-127-7-49-7-34-8-29-13-48-31-37-15-134-42-33-16-19-15-6-14 1-22 22-80 21-52 28-44 22-27 32-31 30-22 36-20 42-17 43-12 49-11 70-11 71-8 63-3 57 1M5098 159l-49 41-33 22-45 20-56 16-84 17-99 14-98 9-99 3-99-3-98-9-99-14-84-17-56-16-45-20-33-22-49-41" stroke="#2e92af"/><path d="M5098 1035l-22 20-27 13-118 38-35 15-19 15-18 21-10 8-32 15-50 10-63 7-78 5-91 2-91-2-78-5-63-7-50-10-32-15-10-8-18-21-19-15-35-15-118-38-27-13-22-20M3972 1005l35-103 14-34 14-25 21-32 22-26 29-29 30-22 32-18 35-16 85-23 70-15 63-10 57-6 56-2 56 2 57 6 63 10 70 15 85 23 35 16 32 18 30 22 29 29 22 26 21 32 14 25 14 34 35 103M5098 182l-37 32-38 22-45 17-63 17-90 18-93 12-106 9-91 2-91-2-106-9-93-12-90-18-63-17-45-17-38-22-37-32" stroke="#2f97ac"/><path d="M5098 1067l-46 18-71 21-35 15-17 15-12 22-13 14-24 14-24 8-54 11-77 8-91 6-99 1-99-1-91-6-77-8-54-11-24-8-24-14-13-14-12-22-17-15-35-15-71-21-46-18M3972 953l29-81 38-65 44-51 23-19 28-19 28-14 36-14 126-34 112-21 50-5 49-2 49 2 50 5 112 21 126 34 36 14 28 14 28 19 23 19 44 51 38 65 29 81M5098 207l-29 22-45 22-60 19-70 16-85 15-91 11-99 7-84 3-84-3-99-7-91-11-85-15-70-16-60-19-45-22-29-22" stroke="#329ca7"/><path d="M5098 1086l-69 20-35 15-18 15-16 29-13 15-23 14-43 15-57 11-85 9-98 6-106 2-106-2-98-6-85-9-57-11-43-15-23-14-13-15-16-29-18-15-35-15-69-20M3972 901l26-58 22-36 22-30 36-36 28-22 25-15 33-14 54-19 127-34 106-19 84-6 84 6 106 19 127 34 54 19 33 14 25 15 28 22 36 36 22 30 22 36 26 58M5098 229l-35 20-44 17-62 18-70 15-85 13-98 11-92 7-77 2-77-2-92-7-98-11-85-13-70-15-62-18-44-17-35-20" stroke="#3ca1a3"/><path d="M5098 1100l-42 14-29 14-13 14-20 30-14 15-30 18-42 15-70 14-85 10-105 7-113 2-113-2-105-7-85-10-70-14-42-15-30-18-14-15-20-30-13-14-29-14-42-14M3972 862l31-55 38-51 37-34 42-26 112-43 113-31 104-20 86-6 86 6 104 20 113 31 112 43 42 26 37 34 38 51 31 55M5098 246l-43 20-56 18-49 13-65 12-90 14-105 12-85 6-70 2-70-2-85-6-105-12-90-14-65-12-49-13-56-18-43-20" stroke="#48a59e"/><path d="M5098 1115l-21 9-20 12-15 14-28 37-22 16-35 18-42 14-70 15-85 10-112 8-113 2-113-2-112-8-85-10-70-15-42-14-35-18-22-16-28-37-15-14-20-12-21-9M3972 831l28-46 35-44 43-35 35-19 105-43 113-34 56-13 54-10 52-5 42-2 42 2 52 5 54 10 56 13 113 34 105 43 35 19 43 35 35 44 28 46M5098 261l-42 17-53 17-116 24-99 15-105 12-78 6-70 2-70-2-78-6-105-12-99-15-116-24-53-17-42-17" stroke="#5ead96"/><path d="M4380 1282l-84-7-71-9-56-11-49-14-41-17-24-15-26-22-32-37-25-17M5098 1133l-25 17-32 37-26 22-24 15-41 17-49 14-56 11-71 9-84 7M3972 803l38-55 39-38 36-22 84-40 92-34 98-27 92-16 84-5 84 5 92 16 98 27 92 34 84 40 36 22 39 38 38 55M5098 274l-42 17-42 12-60 14-74 13-197 26-78 7-70 2-70-2-78-7-197-26-74-13-60-14-42-12-42-17" stroke="#6fb190"/><path d="M4220 1282l-79-18-35-12-35-16-41-27-58-57M5098 1152l-58 57-41 27-35 16-35 12-79 18M3972 778l33-44 40-37 82-44 70-31 85-30 91-22 78-13 84-4 84 4 78 13 91 22 85 30 70 31 82 44 40 37 33 44M5098 287l-42 15-57 15-154 29-183 23-71 5-56 2-56-2-71-5-183-23-154-29-57-15-42-15" stroke="#81b48c"/><path d="M4146 1282l-54-20-43-22-35-26-42-43M5098 1171l-42 43-35 26-43 22-54 20M3972 754l28-35 35-29 85-49 86-39 76-25 82-19 94-13 77-4 77 4 94 13 82 19 76 25 86 39 85 49 35 29 28 35M5098 300l-42 13-57 14-139 26-205 27-64 6-56 2-56-2-64-6-205-27-139-26-57-14-42-13" stroke="#92b687"/><path d="M4099 1282l-36-17-35-23-28-23-28-29M5098 1190l-28 29-28 23-35 23-36 17M3972 732l33-35 66-44 70-39 62-27 71-22 71-15 113-17 77-5 77 5 113 17 71 15 71 22 62 27 70 39 66 44 33 35M5098 311l-91 25-127 24-239 34-64 6-42 2-42-2-64-6-239-34-127-24-91-25" stroke="#a1b884"/><path d="M4065 1282l-51-34-42-42M5098 1206l-42 42-51 34M3972 712l23-22 90-62 49-28 49-21 56-18 57-13 176-35 63-5 63 5 176 35 57 13 56 18 49 21 49 28 90 62 23 22M5098 323l-84 22-82 16-320 53-77 6-77-6-320-53-82-16-84-22" stroke="#afb980"/><path d="M4038 1282l-31-24-35-35M5098 1223l-35 35-31 24M3972 694l91-71 34-21 30-16 35-14 41-14 128-29 75-22 35-15 21-14 8-8 2-7-3-7-8-8-23-14-46-15-97-22-232-41-91-23M5098 333l-91 23-232 41-97 22-46 15-23 14-8 8-3 7 2 7 8 8 21 14 35 15 75 22 128 29 41 14 35 14 30 16 34 21 91 71" stroke="#bbb97d"/><path d="M4016 1282l-44-43M5098 1239l-44 43M3972 679l77-65 50-31 60-25 116-29 66-22 27-15 14-14 6-15-8-15-18-14-38-15-91-22-184-34-77-18M5098 345l-77 18-184 34-91 22-38 15-18 14-8 15 6 15 14 14 27 15 66 22 116 29 60 25 50 31 77 65" stroke="#c7b97a"/><path d="M3997 1282l-25-26M5098 1256l-25 26M3972 662l56-53 41-29 49-22 106-29 61-22 25-15 12-14 4-15-8-15-17-14-37-15-88-22-204-42M5098 355l-204 42-88 22-37 15-17 14-8 15 4 15 12 14 25 15 61 22 106 29 49 22 41 29 56 53" stroke="#d3b976"/><path d="M3981 1282l-9-10M5098 1272l-9 10M3972 642l42-44 35-25 36-17 91-27 57-22 24-15 11-14 4-15-9-15-18-14-37-15-85-22-151-32M5098 365l-151 32-85 22-37 15-18 14-9 15 4 15 11 14 24 15 57 22 91 27 36 17 35 25 42 44" stroke="#dfbb72"/><path d="M3972 617l28-31 35-24 26-11 90-30 46-21 10-8 10-14 3-15-3-7-14-15-26-15-75-22-130-29M5098 375l-130 29-75 22-26 15-14 15-3 7 3 15 10 14 10 8 46 21 90 30 26 11 35 24 28 31" stroke="#e9c06c"/><path d="M3972 587l14-14 22-15 98-37 44-21 14-15 7-15 0-7-10-15-19-14-16-8-74-22-80-19M5098 385l-80 19-74 22-16 8-19 14-10 15 0 7 7 15 14 15 44 21 98 37 22 15 14 14" stroke="#ebc866"/><path d="M3972 561l18-10 56-22 45-22 20-15 12-22-1-7-3-7-27-22-37-15-83-23M5098 396l-83 23-37 15-27 22-3 7-1 7 12 22 20 15 45 22 56 22 18 10" stroke="#e9d062"/><path d="M3972 543l49-22 37-21 12-15 6-15-1-7-4-7-27-22-16-8-56-18M5098 408l-56 18-16 8-27 22-4 7-1 7 6 15 12 15 37 21 49 22" stroke="#e8d95e"/><path d="M3972 526l42-26 10-15 5-15-1-7-12-15-20-14-24-11M5098 423l-24 11-20 14-12 15-1 7 5 15 10 15 42 26" stroke="#eae45b"/></g></g>
<clipPath id="clip2"><rect x="397.2" y="11.2" width="112.6" height="117"/></clipPath>
<g fill="#000"><circle cx="405.4" cy="20.4" r="2"/><circle cx="431.1" cy="15.9" r="2"/><circle cx="399" cy="32.5" r="2"/><circle cx="455" cy="39.3" r="2"/><circle cx="430" cy="54.9" r="2"/><circle cx="448.2" cy="63" r="2"/><circle cx="499" cy="28.7" r="2"/><circle cx="489.4" cy="45.7" r="2"/><circle cx="461.6" cy="50" r="2"/><circle cx="465.9" cy="65.6" r="2"/><circle cx="475.5" cy="72.6" r="2"/><circle cx="443.8" cy="79.3" r="2"/><circle cx="419.8" cy="83.1" r="2"/><circle cx="440" cy="98" r="2"/><circle cx="409.6" cy="116.2" r="2"/><circle cx="415.8" cy="124.3" r="2"/><circle cx="486.3" cy="87.8" r="2"/><circle cx="478.7" cy="103.4" r="2"/><circle cx="494.4" cy="108.7" r="2"/><circle cx="508.4" cy="116.6" r="2"/></g>
<rect x="397.2" y="11.2" width="112.6" height="117" fill="none" stroke="#4d4d4d" stroke-width="0.5"/>
<path d="M397.2 128.2v-1.2M397.2 11.2v1.2M397.2 128.2h1.2M509.8 128.2h-1.2M425.3 128.2v-1.2M425.3 11.2v1.2M397.2 98.9h1.2M509.8 98.9h-1.2M453.5 128.2v-1.2M453.5 11.2v1.2M397.2 69.7h1.2M509.8 69.7h-1.2M481.6 128.2v-1.2M481.6 11.2v1.2M397.2 40.5h1.2M509.8 40.5h-1.2M509.8 128.2v-1.2M509.8 11.2v1.2M397.2 11.2h1.2M509.8 11.2h-1.2" stroke="#4d4d4d" stroke-width="0.5"/>
<text x="397.2" y="136.9" class="tk" text-anchor="middle">-1</text>
<text x="395.3" y="130.7" class="tk" text-anchor="end">-1</text>
<text x="425.3" y="136.9" class="tk" text-anchor="middle">-0.5</text>
<text x="395.3" y="101.4" class="tk" text-anchor="end">-0.5</text>
<text x="453.5" y="136.9" class="tk" text-anchor="middle">0</text>
<text x="395.3" y="72.2" class="tk" text-anchor="end">0</text>
<text x="481.6" y="136.9" class="tk" text-anchor="middle">0.5</text>
<text x="395.3" y="43" class="tk" text-anchor="end">0.5</text>
<text x="509.8" y="136.9" class="tk" text-anchor="middle">1</text>
<text x="395.3" y="13.7" class="tk" text-anchor="end">1</text>
<text x="453.5" y="145.2" class="lb" text-anchor="middle">x</text>
<text class="lb" text-anchor="middle" transform="translate(382.6 70.5) rotate(-90)">y</text>
<text x="453.5" y="8.6" class="tt" text-anchor="middle">GEK response surface</text>
<rect x="516.9" y="11.3" width="12" height="117.1" fill="url(#pg)"/>
<rect x="516.9" y="11.3" width="12" height="117.1" fill="none" stroke="#4d4d4d" stroke-width="0.5"/>
<text x="531" y="129.1" class="tk">20.5</text>
<text x="531" y="110.6" class="tk">21</text>
<text x="531" y="92" class="tk">21.5</text>
<text x="531" y="73.4" class="tk">22</text>
<text x="531" y="54.8" class="tk">22.5</text>
<text x="531" y="36.2" class="tk">23</text>
<text x="531" y="17.6" class="tk">23.5</text>
<path d="M528.9 126.5h-1.2M528.9 108h-1.2M528.9 89.4h-1.2M528.9 70.8h-1.2M528.9 52.2h-1.2M528.9 33.6h-1.2M528.9 15h-1.2" stroke="#4d4d4d" stroke-width="0.5"/>
<path d="M83.6 291L20.9 261.4M20.9 261.4L20.9 196.2M103.8 285.2L41.1 255.6M41.1 255.6L41.1 190.4M124.1 279.5L61.4 249.9M61.4 249.9L61.4 184.7M144.3 273.8L81.7 244.1M81.7 244.1L81.7 178.9M164.6 268L101.9 238.4M101.9 238.4L101.9 173.2M83.6 291L164.6 268M164.6 268L164.6 202.8M52.2 276.2L133.2 253.2M133.2 253.2L133.2 188M20.9 261.4L101.9 238.4M101.9 238.4L101.9 173.2M20.9 261.4L101.9 238.4M101.9 238.4L164.6 268M20.9 245.1L101.9 222.1M101.9 222.1L164.6 251.7M20.9 228.8L101.9 205.8M101.9 205.8L164.6 235.4M20.9 212.5L101.9 189.5M101.9 189.5L164.6 219.1M20.9 196.2L101.9 173.2M101.9 173.2L164.6 202.8" stroke="#e3e3e3" stroke-width="0.5" fill="none"/>
<g class="sf" transform="scale(.1)"><path class="c19" d="M1015 2167l17-19-13 5-16 18z"/><path class="c17" d="M999 2184l16-17-12 4-16 17z"/><path class="c16" d="M983 2201l16-17-12 4-17 17z"/><path class="c14" d="M967 2217l16-16-13 4-16 16z"/><path class="c13" d="M951 2232l16-15-13 4-16 15z"/><path class="c11" d="M934 2246l17-14-13 4-16 14z"/><path class="c10" d="M918 2259l16-13-12 4-16 13z"/><path class="c9" d="M902 2272l16-13-12 4-17 13z"/><path class="c8" d="M886 2284l16-12-13 4-16 12z"/><path class="c7" d="M870 2296l16-12-13 4-16 12zm-17 11l17-11-13 4-16 11z"/><path class="c6" d="M837 2317l16-10-12 4-16 10z"/><path class="c5" d="M821 2327l16-10-12 4-17 10zm-16 9l16-9-13 4-16 9z"/><path class="c4" d="M789 2345l16-9-13 4-16 9z"/><path class="c3" d="M772 2353l17-8-13 4-16 8zm-16 8l16-8-12 4-16 8zm-16 8l16-8-12 4-17 8z"/><path class="c2" d="M724 2376l16-7-13 4-16 7zm-16 6l16-6-13 4-16 7zm-17 7l17-7-13 5-16 6zm-16 6l16-6-12 4-16 6z"/><path class="c1" d="M659 2400l16-5-12 4-17 5zm-16 5l16-5-13 4-16 5zm-16 5l16-5-13 4-16 5zm-17 5l17-5-13 4-16 5zm-16 4l16-4-12 4-16 4zm-16 3l16-3-12 4-17 3z"/><path class="c2" d="M562 2426l16-4-13 4-16 4zm-16 2l16-2-13 4-16 3zm-17 3l17-3-13 5-16 2zm-16 2l16-2-12 4-16 2z"/><path class="c3" d="M497 2435l16-2-12 4-17 2zm-16 1l16-1-13 4-16 1zm-16 1l16-1-13 4-16 1z"/><path class="c4" d="M448 2437l17 0-13 4-16 0z"/><path class="c5" d="M432 2437l16 0-12 4-16 0zm-16 0l16 0-12 4-17 0z"/><path class="c6" d="M400 2435l16 2-13 4-16-1z"/><path class="c7" d="M384 2434l16 1-13 5-16-2zm-17-3l17 3-13 4-16-3z"/><path class="c8" d="M351 2428l16 3-12 4-16-2z"/><path class="c9" d="M335 2425l16 3-12 5-17-4z"/><path class="c10" d="M319 2421l16 4-13 4-16-4z"/><path class="c11" d="M303 2416l16 5-13 4-16-5z"/><path class="c13" d="M286 2410l17 6-13 4-16-6z"/><path class="c14" d="M270 2403l16 7-12 4-16-7z"/><path class="c16" d="M254 2396l16 7-12 4-17-7z"/><path class="c17" d="M238 2388l16 8-13 4-16-8z"/><path class="c19" d="M222 2378l16 10-13 4-16-9z"/><path class="c20" d="M1028 2159l16-19-12 8-17 19z"/><path class="c19" d="M1012 2176l16-17-13 8-16 17z"/><path class="c17" d="M995 2192l17-16-13 8-16 17z"/><path class="c16" d="M979 2208l16-16-12 9-16 16z"/><path class="c14" d="M963 2223l16-15-12 9-16 15z"/><path class="c13" d="M947 2237l16-14-12 9-17 14z"/><path class="c12" d="M931 2251l16-14-13 9-16 13z"/><path class="c11" d="M914 2264l17-13-13 8-16 13z"/><path class="c10" d="M898 2276l16-12-12 8-16 12z"/><path class="c9" d="M882 2287l16-11-12 8-16 12z"/><path class="c8" d="M866 2298l16-11-12 9-17 11z"/><path class="c7" d="M850 2308l16-10-13 9-16 10zm-17 10l17-10-13 9-16 10z"/><path class="c6" d="M817 2328l16-10-12 9-16 9zm-16 8l16-8-12 8-16 9z"/><path class="c5" d="M785 2345l16-9-12 9-17 8zm-16 8l16-8-13 8-16 8z"/><path class="c4" d="M752 2360l17-7-13 8-16 8zm-16 7l16-7-12 9-16 7zm-16 7l16-7-12 9-16 6z"/><path class="c3" d="M704 2380l16-6-12 8-17 7zm-16 6l16-6-13 9-16 6zm-17 6l17-6-13 9-16 5zm-16 5l16-5-12 8-16 5zm-16 5l16-5-12 8-16 5zm-16 4l16-4-12 8-17 5zm-16 4l16-4-13 9-16 4zm-17 4l17-4-13 9-16 3zm-16 3l16-3-12 8-16 4zm-16 3l16-3-12 9-16 2z"/><path class="c4" d="M542 2423l16-3-12 8-17 3zm-16 2l16-2-13 8-16 2zm-17 1l17-1-13 8-16 2z"/><path class="c5" d="M493 2428l16-2-12 9-16 1zm-16 0l16 0-12 8-16 1z"/><path class="c6" d="M461 2429l16-1-12 9-17 0zm-16 0l16 0-13 8-16 0z"/><path class="c7" d="M428 2428l17 1-13 8-16 0zm-16-1l16 1-12 9-16-2z"/><path class="c8" d="M396 2425l16 2-12 8-16-1z"/><path class="c9" d="M380 2423l16 2-12 9-17-3z"/><path class="c10" d="M364 2420l16 3-13 8-16-3z"/><path class="c11" d="M347 2416l17 4-13 8-16-3z"/><path class="c12" d="M331 2412l16 4-12 9-16-4z"/><path class="c13" d="M315 2407l16 5-12 9-16-5z"/><path class="c14" d="M299 2401l16 6-12 9-17-6z"/><path class="c16" d="M283 2395l16 6-13 9-16-7z"/><path class="c17" d="M266 2388l17 7-13 8-16-7z"/><path class="c19" d="M250 2379l16 9-12 8-16-8z"/><path class="c20" d="M234 2370l16 9-12 9-16-10z"/><path class="c22" d="M1040 2148l17-18-13 10-16 19z"/><path class="c20" d="M1024 2165l16-17-12 11-16 17z"/><path class="c19" d="M1008 2182l16-17-12 11-17 16z"/><path class="c18" d="M992 2197l16-15-13 10-16 16z"/><path class="c16" d="M976 2212l16-15-13 11-16 15z"/><path class="c15" d="M959 2226l17-14-13 11-16 14z"/><path class="c14" d="M943 2240l16-14-12 11-16 14z"/><path class="c13" d="M927 2253l16-13-12 11-17 13z"/><path class="c12" d="M911 2265l16-12-13 11-16 12z"/><path class="c11" d="M895 2276l16-11-13 11-16 11z"/><path class="c10" d="M878 2287l17-11-13 11-16 11z"/><path class="c9" d="M862 2297l16-10-12 11-16 10zm-16 10l16-10-12 11-17 10z"/><path class="c8" d="M830 2317l16-10-13 11-16 10z"/><path class="c7" d="M814 2326l16-9-13 11-16 8zm-17 8l17-8-13 10-16 9zm-16 8l16-8-12 11-16 8z"/><path class="c6" d="M765 2349l16-7-12 11-17 7zm-16 8l16-8-13 11-16 7z"/><path class="c5" d="M733 2363l16-6-13 10-16 7zm-17 7l17-7-13 11-16 6zm-16 6l16-6-12 10-16 6zm-16 5l16-5-12 10-17 6zm-16 5l16-5-13 11-16 5zm-16 5l16-5-13 11-16 5zm-17 5l17-5-13 11-16 4zm-16 4l16-4-12 10-16 4zm-16 3l16-3-12 10-17 4zm-16 3l16-3-13 11-16 3zm-16 3l16-3-13 11-16 3zm-17 3l17-3-13 11-16 3z"/><path class="c6" d="M538 2414l16-2-12 11-16 2zm-16 1l16-1-12 11-17 1z"/><path class="c7" d="M506 2417l16-2-13 11-16 2zm-16 1l16-1-13 11-16 0zm-17 0l17 0-13 10-16 1z"/><path class="c8" d="M457 2418l16 0-12 11-16 0z"/><path class="c9" d="M441 2417l16 1-12 11-17-1zm-16-1l16 1-13 11-16-1z"/><path class="c10" d="M409 2414l16 2-13 11-16-2z"/><path class="c11" d="M392 2412l17 2-13 11-16-2z"/><path class="c12" d="M376 2409l16 3-12 11-16-3z"/><path class="c13" d="M360 2405l16 4-12 11-17-4z"/><path class="c14" d="M344 2401l16 4-13 11-16-4z"/><path class="c15" d="M328 2396l16 5-13 11-16-5z"/><path class="c16" d="M311 2391l17 5-13 11-16-6z"/><path class="c18" d="M295 2384l16 7-12 10-16-6z"/><path class="c19" d="M279 2377l16 7-12 11-17-7z"/><path class="c20" d="M263 2369l16 8-13 11-16-9z"/><path class="c22" d="M247 2360l16 9-13 10-16-9z"/><path class="c24" d="M1053 2138l16-18-12 10-17 18z"/><path class="c22" d="M1037 2155l16-17-13 10-16 17z"/><path class="c21" d="M1021 2171l16-16-13 10-16 17z"/><path class="c20" d="M1004 2187l17-16-13 11-16 15z"/><path class="c18" d="M988 2202l16-15-12 10-16 15z"/><path class="c17" d="M972 2216l16-14-12 10-17 14z"/><path class="c16" d="M956 2229l16-13-13 10-16 14z"/><path class="c15" d="M940 2241l16-12-13 11-16 13z"/><path class="c14" d="M923 2253l17-12-13 12-16 12z"/><path class="c13" d="M907 2265l16-12-12 12-16 11z"/><path class="c12" d="M891 2276l16-11-12 11-17 11z"/><path class="c11" d="M875 2286l16-10-13 11-16 10zm-16 10l16-10-13 11-16 10z"/><path class="c10" d="M842 2305l17-9-13 11-16 10zm-16 9l16-9-12 12-16 9z"/><path class="c9" d="M810 2322l16-8-12 12-17 8zm-16 8l16-8-13 12-16 8z"/><path class="c8" d="M778 2338l16-8-13 12-16 7zm-17 7l17-7-13 11-16 8zm-16 7l16-7-12 12-16 6z"/><path class="c7" d="M729 2358l16-6-12 11-17 7zm-16 6l16-6-13 12-16 6zm-16 6l16-6-13 12-16 5zm-17 5l17-5-13 11-16 5zm-16 5l16-5-12 11-16 5zm-16 4l16-4-12 11-17 5zm-16 4l16-4-13 12-16 4zm-16 4l16-4-13 12-16 3zm-17 3l17-3-13 11-16 3zm-16 3l16-3-12 11-16 3z"/><path class="c8" d="M567 2400l16-2-12 11-17 3zm-16 2l16-2-13 12-16 2zm-16 2l16-2-13 12-16 1z"/><path class="c9" d="M518 2405l17-1-13 11-16 2zm-16 1l16-1-12 12-16 1z"/><path class="c10" d="M486 2406l16 0-12 12-17 0zm-16 0l16 0-13 12-16 0z"/><path class="c11" d="M454 2406l16 0-13 12-16-1zm-17-1l17 1-13 11-16-1z"/><path class="c12" d="M421 2403l16 2-12 11-16-2z"/><path class="c13" d="M405 2401l16 2-12 11-17-2z"/><path class="c14" d="M389 2398l16 3-13 11-16-3z"/><path class="c15" d="M373 2394l16 4-13 11-16-4z"/><path class="c16" d="M356 2390l17 4-13 11-16-4z"/><path class="c17" d="M340 2386l16 4-12 11-16-5z"/><path class="c18" d="M324 2380l16 6-12 10-17-5z"/><path class="c20" d="M308 2374l16 6-13 11-16-7z"/><path class="c21" d="M292 2367l16 7-13 10-16-7z"/><path class="c22" d="M275 2359l17 8-13 10-16-8z"/><path class="c24" d="M259 2350l16 9-12 10-16-9z"/><path class="c26" d="M1066 2126l16-17-13 11-16 18z"/><path class="c25" d="M1049 2143l17-17-13 12-16 17z"/><path class="c23" d="M1033 2159l16-16-12 12-16 16z"/><path class="c22" d="M1017 2174l16-15-12 12-17 16z"/><path class="c20" d="M1001 2188l16-14-13 13-16 15z"/><path class="c19" d="M984 2202l17-14-13 14-16 14z"/><path class="c18" d="M968 2215l16-13-12 14-16 13z"/><path class="c17" d="M952 2227l16-12-12 14-16 12z"/><path class="c16" d="M936 2239l16-12-12 14-17 12z"/><path class="c15" d="M920 2251l16-12-13 14-16 12zm-16 10l16-10-13 14-16 11z"/><path class="c14" d="M887 2272l17-11-13 15-16 10z"/><path class="c13" d="M871 2281l16-9-12 14-16 10z"/><path class="c12" d="M855 2291l16-10-12 15-17 9zm-16 9l16-9-13 14-16 9z"/><path class="c11" d="M822 2308l17-8-13 14-16 8zm-16 8l16-8-12 14-16 8zm-16 8l16-8-12 14-16 8z"/><path class="c10" d="M774 2331l16-7-12 14-17 7zm-16 7l16-7-13 14-16 7zm-17 6l17-6-13 14-16 6z"/><path class="c9" d="M725 2350l16-6-12 14-16 6zm-16 6l16-6-12 14-16 6zm-16 5l16-5-12 14-17 5zm-16 5l16-5-13 14-16 5zm-17 4l17-4-13 14-16 4zm-16 4l16-4-12 14-16 4zm-16 4l16-4-12 14-16 4zm-16 3l16-3-12 14-17 3z"/><path class="c10" d="M596 2384l16-3-13 14-16 3zm-16 2l16-2-13 14-16 2zm-17 2l17-2-13 14-16 2z"/><path class="c11" d="M547 2390l16-2-12 14-16 2zm-16 1l16-1-12 14-17 1zm-16 1l16-1-13 14-16 1z"/><path class="c12" d="M499 2392l16 0-13 14-16 0zm-17 0l17 0-13 14-16 0z"/><path class="c13" d="M466 2391l16 1-12 14-16 0z"/><path class="c14" d="M450 2390l16 1-12 15-17-1z"/><path class="c15" d="M434 2389l16 1-13 15-16-2zm-16-2l16 2-13 14-16-2z"/><path class="c16" d="M401 2384l17 3-13 14-16-3z"/><path class="c17" d="M385 2381l16 3-12 14-16-4z"/><path class="c18" d="M369 2377l16 4-12 13-17-4z"/><path class="c19" d="M353 2372l16 5-13 13-16-4z"/><path class="c20" d="M337 2367l16 5-13 14-16-6z"/><path class="c22" d="M320 2361l17 6-13 13-16-6z"/><path class="c23" d="M304 2355l16 6-12 13-16-7z"/><path class="c25" d="M288 2347l16 8-12 12-17-8z"/><path class="c26" d="M272 2339l16 8-13 12-16-9z"/><path class="c29" d="M1078 2108l16-17-12 18-16 17z"/><path class="c27" d="M1062 2124l16-16-12 18-17 17z"/><path class="c26" d="M1046 2140l16-16-13 19-16 16z"/><path class="c24" d="M1029 2155l17-15-13 19-16 15z"/><path class="c23" d="M1013 2169l16-14-12 19-16 14z"/><path class="c22" d="M997 2182l16-13-12 19-17 14z"/><path class="c21" d="M981 2195l16-13-13 20-16 13z"/><path class="c20" d="M965 2207l16-12-13 20-16 12z"/><path class="c19" d="M948 2219l17-12-13 20-16 12z"/><path class="c18" d="M932 2230l16-11-12 20-16 12z"/><path class="c17" d="M916 2241l16-11-12 21-16 10zm-16 10l16-10-12 20-17 11z"/><path class="c16" d="M884 2261l16-10-13 21-16 9z"/><path class="c15" d="M867 2270l17-9-13 20-16 10zm-16 9l16-9-12 21-16 9z"/><path class="c14" d="M835 2287l16-8-12 21-17 8zm-16 8l16-8-13 21-16 8z"/><path class="c13" d="M803 2303l16-8-13 21-16 8zm-17 7l17-7-13 21-16 7zm-16 7l16-7-12 21-16 7zm-16 7l16-7-12 21-17 6z"/><path class="c12" d="M738 2330l16-6-13 20-16 6zm-16 5l16-5-13 20-16 6zm-17 6l17-6-13 21-16 5zm-16 4l16-4-12 20-16 5zm-16 5l16-5-12 21-17 4zm-16 4l16-4-13 20-16 4zm-16 3l16-3-13 20-16 4zm-17 3l17-3-13 21-16 3z"/><path class="c13" d="M608 2363l16-3-12 21-16 3zm-16 2l16-2-12 21-16 2zm-16 2l16-2-12 21-17 2zm-16 2l16-2-13 21-16 2z"/><path class="c14" d="M543 2370l17-1-13 21-16 1zm-16 1l16-1-12 21-16 1z"/><path class="c15" d="M511 2371l16 0-12 21-16 0zm-16 0l16 0-12 21-17 0z"/><path class="c16" d="M479 2370l16 1-13 21-16-1z"/><path class="c17" d="M462 2369l17 1-13 21-16-1zm-16-1l16 1-12 21-16-1z"/><path class="c18" d="M430 2366l16 2-12 21-16-2z"/><path class="c19" d="M414 2364l16 2-12 21-17-3z"/><path class="c20" d="M398 2360l16 4-13 20-16-3z"/><path class="c21" d="M381 2357l17 3-13 21-16-4z"/><path class="c22" d="M365 2353l16 4-12 20-16-5z"/><path class="c23" d="M349 2348l16 5-12 19-16-5z"/><path class="c24" d="M333 2342l16 6-12 19-17-6z"/><path class="c26" d="M317 2336l16 6-13 19-16-6z"/><path class="c27" d="M300 2329l17 7-13 19-16-8z"/><path class="c29" d="M284 2321l16 8-12 18-16-8z"/><path class="c32" d="M1091 2085l16-16-13 22-16 17z"/><path class="c31" d="M1074 2101l17-16-13 23-16 16z"/><path class="c29" d="M1058 2116l16-15-12 23-16 16z"/><path class="c28" d="M1042 2130l16-14-12 24-17 15z"/><path class="c27" d="M1026 2144l16-14-13 25-16 14z"/><path class="c26" d="M1010 2157l16-13-13 25-16 13z"/><path class="c25" d="M993 2169l17-12-13 25-16 13z"/><path class="c24" d="M977 2181l16-12-12 26-16 12z"/><path class="c23" d="M961 2193l16-12-12 26-17 12z"/><path class="c22" d="M945 2204l16-11-13 26-16 11z"/><path class="c21" d="M929 2215l16-11-13 26-16 11z"/><path class="c20" d="M912 2225l17-10-13 26-16 10zm-16 9l16-9-12 26-16 10z"/><path class="c19" d="M880 2244l16-10-12 27-17 9z"/><path class="c18" d="M864 2253l16-9-13 26-16 9zm-16 8l16-8-13 26-16 8zm-17 8l17-8-13 26-16 8z"/><path class="c17" d="M815 2277l16-8-12 26-16 8zm-16 8l16-8-12 26-17 7z"/><path class="c16" d="M783 2292l16-7-13 25-16 7zm-16 6l16-6-13 25-16 7zm-17 6l17-6-13 26-16 6zm-16 6l16-6-12 26-16 5zm-16 5l16-5-12 25-17 6zm-16 5l16-5-13 26-16 4zm-16 5l16-5-13 25-16 5zm-17 4l17-4-13 25-16 4zm-16 3l16-3-12 25-16 3zm-16 3l16-3-12 25-17 3zm-16 3l16-3-13 25-16 3zm-16 2l16-2-13 25-16 2z"/><path class="c17" d="M588 2342l17-2-13 25-16 2zm-16 1l16-1-12 25-16 2z"/><path class="c18" d="M556 2344l16-1-12 26-17 1zm-16 1l16-1-13 26-16 1zm-16 0l16 0-13 26-16 0z"/><path class="c19" d="M507 2345l17 0-13 26-16 0z"/><path class="c20" d="M491 2344l16 1-12 26-16-1zm-16-1l16 1-12 26-17-1z"/><path class="c21" d="M459 2342l16 1-13 26-16-1z"/><path class="c22" d="M443 2340l16 2-13 26-16-2z"/><path class="c23" d="M426 2338l17 2-13 26-16-2z"/><path class="c24" d="M410 2335l16 3-12 26-16-4z"/><path class="c25" d="M394 2331l16 4-12 25-17-3z"/><path class="c26" d="M378 2328l16 3-13 26-16-4z"/><path class="c27" d="M362 2323l16 5-13 25-16-5z"/><path class="c28" d="M345 2318l17 5-13 25-16-6z"/><path class="c29" d="M329 2312l16 6-12 24-16-6z"/><path class="c31" d="M313 2306l16 6-12 24-17-7z"/><path class="c32" d="M297 2299l16 7-13 23-16-8z"/><path class="c36" d="M1103 2060l16-16-12 25-16 16z"/><path class="c34" d="M1087 2075l16-15-12 25-17 16z"/><path class="c33" d="M1071 2089l16-14-13 26-16 15z"/><path class="c32" d="M1055 2103l16-14-13 27-16 14z"/><path class="c31" d="M1038 2116l17-13-13 27-16 14z"/><path class="c30" d="M1022 2129l16-13-12 28-16 13z"/><path class="c29" d="M1006 2141l16-12-12 28-17 12z"/><path class="c28" d="M990 2153l16-12-13 28-16 12z"/><path class="c27" d="M974 2165l16-12-13 28-16 12z"/><path class="c26" d="M957 2175l17-10-13 28-16 11z"/><path class="c25" d="M941 2186l16-11-12 29-16 11z"/><path class="c24" d="M925 2196l16-10-12 29-17 10zm-16 10l16-10-13 29-16 9z"/><path class="c23" d="M893 2215l16-9-13 28-16 10zm-17 9l17-9-13 29-16 9z"/><path class="c22" d="M860 2233l16-9-12 29-16 8zm-16 8l16-8-12 28-17 8z"/><path class="c21" d="M828 2249l16-8-13 28-16 8zm-16 8l16-8-13 28-16 8z"/><path class="c20" d="M795 2264l17-7-13 28-16 7zm-16 7l16-7-12 28-16 6zm-16 6l16-6-12 27-17 6zm-16 6l16-6-13 27-16 6zm-16 5l16-5-13 27-16 5zm-17 5l17-5-13 27-16 5zm-16 4l16-4-12 27-16 5zm-16 4l16-4-12 28-17 4zm-16 4l16-4-13 28-16 3zm-16 3l16-3-13 27-16 3zm-17 2l17-2-13 27-16 3zm-16 2l16-2-12 28-16 2z"/><path class="c21" d="M601 2314l16-2-12 28-17 2zm-16 1l16-1-13 28-16 1z"/><path class="c22" d="M569 2316l16-1-13 28-16 1zm-17 0l17 0-13 28-16 1z"/><path class="c23" d="M536 2317l16-1-12 29-16 0zm-16-1l16 1-12 28-17 0z"/><path class="c24" d="M504 2316l16 0-13 29-16-1zm-16-1l16 1-13 28-16-1z"/><path class="c25" d="M471 2313l17 2-13 28-16-1z"/><path class="c26" d="M455 2312l16 1-12 29-16-2z"/><path class="c27" d="M439 2310l16 2-12 28-17-2z"/><path class="c28" d="M423 2307l16 3-13 28-16-3z"/><path class="c29" d="M407 2304l16 3-13 28-16-4z"/><path class="c30" d="M390 2300l17 4-13 27-16-3z"/><path class="c31" d="M374 2296l16 4-12 28-16-5z"/><path class="c32" d="M358 2292l16 4-12 27-17-5z"/><path class="c33" d="M342 2286l16 6-13 26-16-6z"/><path class="c34" d="M326 2281l16 5-13 26-16-6z"/><path class="c36" d="M309 2274l17 7-13 25-16-7z"/><path class="c40" d="M1116 2031l16-15-13 28-16 16z"/><path class="c38" d="M1099 2045l17-14-13 29-16 15z"/><path class="c37" d="M1083 2059l16-14-12 30-16 14z"/><path class="c36" d="M1067 2072l16-13-12 30-16 14z"/><path class="c35" d="M1051 2085l16-13-12 31-17 13z"/><path class="c34" d="M1035 2097l16-12-13 31-16 13z"/><path class="c33" d="M1018 2109l17-12-13 32-16 12z"/><path class="c32" d="M1002 2121l16-12-12 32-16 12z"/><path class="c31" d="M986 2132l16-11-12 32-16 12z"/><path class="c30" d="M970 2143l16-11-12 33-17 10zm-16 10l16-10-13 32-16 11z"/><path class="c29" d="M937 2163l17-10-13 33-16 10z"/><path class="c28" d="M921 2173l16-10-12 33-16 10zm-16 10l16-10-12 33-16 9z"/><path class="c27" d="M889 2192l16-9-12 32-17 9zm-16 9l16-9-13 32-16 9z"/><path class="c26" d="M856 2209l17-8-13 32-16 8zm-16 8l16-8-12 32-16 8z"/><path class="c25" d="M824 2225l16-8-12 32-16 8zm-16 8l16-8-12 32-17 7zm-16 7l16-7-13 31-16 7z"/><path class="c24" d="M775 2246l17-6-13 31-16 6zm-16 6l16-6-12 31-16 6zm-16 6l16-6-12 31-16 5zm-16 4l16-4-12 30-17 5zm-16 5l16-5-13 31-16 4zm-17 3l17-3-13 30-16 4zm-16 4l16-4-12 31-16 4zm-16 2l16-2-12 31-16 3z"/><path class="c25" d="M646 2279l16-3-12 32-17 2zm-16 1l16-1-13 31-16 2zm-17 2l17-2-13 32-16 2z"/><path class="c26" d="M597 2283l16-1-12 32-16 1zm-16 1l16-1-12 32-16 1z"/><path class="c27" d="M565 2284l16 0-12 32-17 0zm-16 0l16 0-13 32-16 1z"/><path class="c28" d="M532 2284l17 0-13 33-16-1zm-16-1l16 1-12 32-16 0z"/><path class="c29" d="M500 2282l16 1-12 33-16-1z"/><path class="c30" d="M484 2281l16 1-12 33-17-2zm-16-2l16 2-13 32-16-1z"/><path class="c31" d="M451 2277l17 2-13 33-16-2z"/><path class="c32" d="M435 2275l16 2-12 33-16-3z"/><path class="c33" d="M419 2272l16 3-12 32-16-3z"/><path class="c34" d="M403 2269l16 3-12 32-17-4z"/><path class="c35" d="M387 2265l16 4-13 31-16-4z"/><path class="c36" d="M370 2261l17 4-13 31-16-4z"/><path class="c37" d="M354 2257l16 4-12 31-16-6z"/><path class="c38" d="M338 2252l16 5-12 29-16-5z"/><path class="c40" d="M322 2246l16 6-12 29-17-7z"/><path class="c44" d="M1128 2001l16-14-12 29-16 15z"/><path class="c43" d="M1112 2014l16-13-12 30-17 14z"/><path class="c42" d="M1096 2027l16-13-13 31-16 14z"/><path class="c41" d="M1080 2040l16-13-13 32-16 13z"/><path class="c40" d="M1063 2053l17-13-13 32-16 13z"/><path class="c39" d="M1047 2065l16-12-12 32-16 12z"/><path class="c38" d="M1031 2076l16-11-12 32-17 12z"/><path class="c37" d="M1015 2088l16-12-13 33-16 12z"/><path class="c36" d="M999 2099l16-11-13 33-16 11z"/><path class="c35" d="M982 2110l17-11-13 33-16 11zm-16 10l16-10-12 33-16 10z"/><path class="c34" d="M950 2131l16-11-12 33-17 10z"/><path class="c33" d="M934 2141l16-10-13 32-16 10zm-16 9l16-9-13 32-16 10z"/><path class="c32" d="M901 2160l17-10-13 33-16 9z"/><path class="c31" d="M885 2169l16-9-12 32-16 9zm-16 8l16-8-12 32-17 8z"/><path class="c30" d="M853 2186l16-9-13 32-16 8zm-16 8l16-8-13 31-16 8zm-17 8l17-8-13 31-16 8z"/><path class="c29" d="M804 2209l16-7-12 31-16 7zm-16 7l16-7-12 31-17 6zm-16 6l16-6-13 30-16 6zm-16 5l16-5-13 30-16 6z"/><path class="c28" d="M739 2232l17-5-13 31-16 4zm-16 5l16-5-12 30-16 5z"/><path class="c29" d="M707 2240l16-3-12 30-17 3zm-16 3l16-3-13 30-16 4zm-16 3l16-3-13 31-16 2zm-17 2l17-2-13 30-16 3z"/><path class="c30" d="M642 2249l16-1-12 31-16 1zm-16 1l16-1-12 31-17 2zm-16 1l16-1-13 32-16 1z"/><path class="c31" d="M594 2252l16-1-13 32-16 1zm-17 0l17 0-13 32-16 0z"/><path class="c32" d="M561 2251l16 1-12 32-16 0z"/><path class="c33" d="M545 2251l16 0-12 33-17 0zm-16-1l16 1-13 33-16-1z"/><path class="c34" d="M513 2249l16 1-13 33-16-1z"/><path class="c35" d="M496 2248l17 1-13 33-16-1zm-16-2l16 2-12 33-16-2z"/><path class="c36" d="M464 2244l16 2-12 33-17-2z"/><path class="c37" d="M448 2242l16 2-13 33-16-2z"/><path class="c38" d="M432 2239l16 3-13 33-16-3z"/><path class="c39" d="M415 2237l17 2-13 33-16-3z"/><path class="c40" d="M399 2233l16 4-12 32-16-4z"/><path class="c41" d="M383 2230l16 3-12 32-17-4z"/><path class="c42" d="M367 2226l16 4-13 31-16-4z"/><path class="c43" d="M351 2222l16 4-13 31-16-5z"/><path class="c44" d="M334 2217l17 5-13 30-16-6z"/><path class="c49" d="M1141 1968l16-13-13 32-16 14z"/><path class="c48" d="M1125 1981l16-13-13 33-16 13z"/><path class="c47" d="M1108 1994l17-13-13 33-16 13z"/><path class="c46" d="M1092 2006l16-12-12 33-16 13z"/><path class="c45" d="M1076 2018l16-12-12 34-17 13z"/><path class="c44" d="M1060 2030l16-12-13 35-16 12z"/><path class="c43" d="M1044 2042l16-12-13 35-16 11z"/><path class="c42" d="M1027 2053l17-11-13 34-16 12z"/><path class="c41" d="M1011 2065l16-12-12 35-16 11z"/><path class="c40" d="M995 2076l16-11-12 34-17 11z"/><path class="c39" d="M979 2086l16-10-13 34-16 10zm-16 11l16-11-13 34-16 11z"/><path class="c38" d="M946 2107l17-10-13 34-16 10z"/><path class="c37" d="M930 2117l16-10-12 34-16 9zm-16 10l16-10-12 33-17 10z"/><path class="c36" d="M898 2136l16-9-13 33-16 9zm-16 9l16-9-13 33-16 8z"/><path class="c35" d="M865 2154l17-9-13 32-16 9zm-16 9l16-9-12 32-16 8z"/><path class="c34" d="M833 2171l16-8-12 31-17 8zm-16 7l16-7-13 31-16 7z"/><path class="c33" d="M801 2185l16-7-13 31-16 7zm-17 7l17-7-13 31-16 6zm-16 5l16-5-12 30-16 5zm-16 5l16-5-12 30-17 5zm-16 5l16-5-13 30-16 5zm-16 3l16-3-13 30-16 3zm-17 3l17-3-13 30-16 3zm-16 2l16-2-12 30-16 3z"/><path class="c34" d="M671 2217l16-2-12 31-17 2zm-16 1l16-1-13 31-16 1z"/><path class="c35" d="M639 2219l16-1-13 31-16 1zm-17 0l17 0-13 31-16 1z"/><path class="c36" d="M606 2219l16 0-12 32-16 1zm-16 0l16 0-12 33-17 0z"/><path class="c37" d="M574 2218l16 1-13 33-16-1zm-16-1l16 1-13 33-16 0z"/><path class="c38" d="M541 2216l17 1-13 34-16-1z"/><path class="c39" d="M525 2215l16 1-12 34-16-1zm-16-1l16 1-12 34-17-1z"/><path class="c40" d="M493 2212l16 2-13 34-16-2z"/><path class="c41" d="M477 2210l16 2-13 34-16-2z"/><path class="c42" d="M460 2208l17 2-13 34-16-2z"/><path class="c43" d="M444 2205l16 3-12 34-16-3z"/><path class="c44" d="M428 2202l16 3-12 34-17-2z"/><path class="c45" d="M412 2199l16 3-13 35-16-4z"/><path class="c46" d="M396 2196l16 3-13 34-16-3z"/><path class="c47" d="M379 2193l17 3-13 34-16-4z"/><path class="c48" d="M363 2189l16 4-12 33-16-4z"/><path class="c49" d="M347 2185l16 4-12 33-17-5z"/><path class="c53" d="M1153 1935l16-13-12 33-16 13z"/><path class="c52" d="M1137 1948l16-13-12 33-16 13z"/><path class="c51" d="M1121 1960l16-12-12 33-17 13z"/><path class="c50" d="M1105 1973l16-13-13 34-16 12z"/><path class="c49" d="M1088 1985l17-12-13 33-16 12zm-16 12l16-12-12 33-16 12z"/><path class="c48" d="M1056 2008l16-11-12 33-16 12z"/><path class="c47" d="M1040 2020l16-12-12 34-17 11z"/><path class="c46" d="M1024 2031l16-11-13 33-16 12z"/><path class="c45" d="M1007 2043l17-12-13 34-16 11z"/><path class="c44" d="M991 2054l16-11-12 33-16 10zm-16 11l16-11-12 32-16 11z"/><path class="c43" d="M959 2075l16-10-12 32-17 10z"/><path class="c42" d="M943 2086l16-11-13 32-16 10z"/><path class="c41" d="M926 2096l17-10-13 31-16 10zm-16 10l16-10-12 31-16 9z"/><path class="c40" d="M894 2116l16-10-12 30-16 9zm-16 9l16-9-12 29-17 9z"/><path class="c39" d="M862 2134l16-9-13 29-16 9zm-17 8l17-8-13 29-16 8z"/><path class="c38" d="M829 2150l16-8-12 29-16 7zm-16 8l16-8-12 28-16 7zm-16 6l16-6-12 27-17 7z"/><path class="c37" d="M781 2170l16-6-13 28-16 5zm-17 5l17-5-13 27-16 5zm-16 4l16-4-12 27-16 5zm-16 4l16-4-12 28-16 3z"/><path class="c38" d="M716 2185l16-2-12 27-17 3zm-16 2l16-2-13 28-16 2zm-17 1l17-1-13 28-16 2z"/><path class="c39" d="M667 2189l16-1-12 29-16 1zm-16 0l16 0-12 29-16 1z"/><path class="c40" d="M635 2189l16 0-12 30-17 0zm-16 0l16 0-13 30-16 0z"/><path class="c41" d="M602 2188l17 1-13 30-16 0zm-16-1l16 1-12 31-16-1z"/><path class="c42" d="M570 2186l16 1-12 31-16-1z"/><path class="c43" d="M554 2184l16 2-12 31-17-1z"/><path class="c44" d="M538 2183l16 1-13 32-16-1zm-17-2l17 2-13 32-16-1z"/><path class="c45" d="M505 2179l16 2-12 33-16-2z"/><path class="c46" d="M489 2176l16 3-12 33-16-2z"/><path class="c47" d="M473 2174l16 2-12 34-17-2z"/><path class="c48" d="M457 2171l16 3-13 34-16-3z"/><path class="c49" d="M440 2169l17 2-13 34-16-3zm-16-3l16 3-12 33-16-3z"/><path class="c50" d="M408 2163l16 3-12 33-16-3z"/><path class="c51" d="M392 2159l16 4-12 33-17-3z"/><path class="c52" d="M376 2156l16 3-13 34-16-4z"/><path class="c53" d="M359 2152l17 4-13 33-16-4z"/><path class="c58" d="M1166 1911l16-13-13 24-16 13z"/><path class="c57" d="M1150 1923l16-12-13 24-16 13z"/><path class="c56" d="M1133 1936l17-13-13 25-16 12z"/><path class="c55" d="M1117 1948l16-12-12 24-16 13z"/><path class="c54" d="M1101 1960l16-12-12 25-17 12z"/><path class="c53" d="M1085 1972l16-12-13 25-16 12z"/><path class="c52" d="M1069 1984l16-12-13 25-16 11z"/><path class="c51" d="M1052 1996l17-12-13 24-16 12z"/><path class="c50" d="M1036 2008l16-12-12 24-16 11z"/><path class="c49" d="M1020 2019l16-11-12 23-17 12zm-16 12l16-12-13 24-16 11z"/><path class="c48" d="M988 2042l16-11-13 23-16 11z"/><path class="c47" d="M971 2053l17-11-13 23-16 10z"/><path class="c46" d="M955 2064l16-11-12 22-16 11z"/><path class="c45" d="M939 2075l16-11-12 22-17 10zm-16 10l16-10-13 21-16 10z"/><path class="c44" d="M907 2095l16-10-13 21-16 10z"/><path class="c43" d="M890 2105l17-10-13 21-16 9zm-16 10l16-10-12 20-16 9z"/><path class="c42" d="M858 2124l16-9-12 19-17 8zm-16 8l16-8-13 18-16 8z"/><path class="c41" d="M826 2140l16-8-13 18-16 8zm-17 7l17-7-13 18-16 6zm-16 6l16-6-12 17-16 6zm-16 5l16-5-12 17-17 5zm-16 4l16-4-13 17-16 4zm-16 3l16-3-13 17-16 4zm-17 2l17-2-13 18-16 2zm-16 2l16-2-12 18-16 2z"/><path class="c42" d="M696 2170l16-1-12 18-17 1zm-16 0l16 0-13 18-16 1z"/><path class="c43" d="M664 2170l16 0-13 19-16 0zm-17-1l17 1-13 19-16 0z"/><path class="c44" d="M631 2168l16 1-12 20-16 0z"/><path class="c45" d="M615 2167l16 1-12 21-17-1zm-16-2l16 2-13 21-16-1z"/><path class="c46" d="M583 2164l16 1-13 22-16-1z"/><path class="c47" d="M566 2162l17 2-13 22-16-2z"/><path class="c48" d="M550 2160l16 2-12 22-16-1z"/><path class="c49" d="M534 2157l16 3-12 23-17-2zm-16-2l16 2-13 24-16-2z"/><path class="c50" d="M502 2152l16 3-13 24-16-3z"/><path class="c51" d="M485 2150l17 2-13 24-16-2z"/><path class="c52" d="M469 2147l16 3-12 24-16-3z"/><path class="c53" d="M453 2144l16 3-12 24-17-2z"/><path class="c54" d="M437 2141l16 3-13 25-16-3z"/><path class="c55" d="M421 2138l16 3-13 25-16-3z"/><path class="c56" d="M404 2135l17 3-13 25-16-4z"/><path class="c57" d="M388 2131l16 4-12 24-16-3z"/><path class="c58" d="M372 2128l16 3-12 25-17-4z"/><path class="c61" d="M1178 1898l17-13-13 13-16 13z"/><path class="c60" d="M1162 1910l16-12-12 13-16 12z"/><path class="c59" d="M1146 1923l16-13-12 13-17 13z"/><path class="c58" d="M1130 1935l16-12-13 13-16 12z"/><path class="c57" d="M1114 1947l16-12-13 13-16 12z"/><path class="c56" d="M1097 1959l17-12-13 13-16 12z"/><path class="c55" d="M1081 1972l16-13-12 13-16 12z"/><path class="c54" d="M1065 1984l16-12-12 12-17 12z"/><path class="c53" d="M1049 1996l16-12-13 12-16 12z"/><path class="c52" d="M1033 2008l16-12-13 12-16 11z"/><path class="c51" d="M1016 2020l17-12-13 11-16 12zm-16 11l16-11-12 11-16 11z"/><path class="c50" d="M984 2043l16-12-12 11-17 11z"/><path class="c49" d="M968 2054l16-11-13 10-16 11z"/><path class="c48" d="M952 2065l16-11-13 10-16 11z"/><path class="c47" d="M935 2076l17-11-13 10-16 10zm-16 11l16-11-12 9-16 10z"/><path class="c46" d="M903 2097l16-10-12 8-17 10z"/><path class="c45" d="M887 2107l16-10-13 8-16 10zm-16 10l16-10-13 8-16 9z"/><path class="c44" d="M854 2125l17-8-13 7-16 8zm-16 8l16-8-12 7-16 8z"/><path class="c43" d="M822 2140l16-7-12 7-17 7zm-16 7l16-7-13 7-16 6zm-16 5l16-5-13 6-16 5zm-17 4l17-4-13 6-16 4zm-16 3l16-3-12 6-16 3zm-16 2l16-2-12 6-17 2z"/><path class="c44" d="M725 2162l16-1-13 6-16 2zm-16 1l16-1-13 7-16 1z"/><path class="c45" d="M692 2162l17 1-13 7-16 0zm-16 0l16 0-12 8-16 0z"/><path class="c46" d="M660 2161l16 1-12 8-17-1z"/><path class="c47" d="M644 2159l16 2-13 8-16-1zm-16-2l16 2-13 9-16-1z"/><path class="c48" d="M611 2155l17 2-13 10-16-2z"/><path class="c49" d="M595 2153l16 2-12 10-16-1z"/><path class="c50" d="M579 2151l16 2-12 11-17-2z"/><path class="c51" d="M563 2148l16 3-13 11-16-2zm-16-2l16 2-13 12-16-3z"/><path class="c52" d="M530 2143l17 3-13 11-16-2z"/><path class="c53" d="M514 2140l16 3-12 12-16-3z"/><path class="c54" d="M498 2137l16 3-12 12-17-2z"/><path class="c55" d="M482 2134l16 3-13 13-16-3z"/><path class="c56" d="M466 2131l16 3-13 13-16-3z"/><path class="c57" d="M449 2128l17 3-13 13-16-3z"/><path class="c58" d="M433 2125l16 3-12 13-16-3z"/><path class="c59" d="M417 2122l16 3-12 13-17-3z"/><path class="c60" d="M401 2118l16 4-13 13-16-4z"/><path class="c61" d="M385 2115l16 3-13 13-16-3z"/><path class="c62" d="M1191 1895l16-12-12 2-17 13zm-16 13l16-13-13 3-16 12z"/><path class="c61" d="M1158 1921l17-13-13 2-16 13z"/><path class="c60" d="M1142 1933l16-12-12 2-16 12z"/><path class="c59" d="M1126 1946l16-13-12 2-16 12z"/><path class="c58" d="M1110 1958l16-12-12 1-17 12z"/><path class="c57" d="M1094 1970l16-12-13 1-16 13z"/><path class="c56" d="M1077 1983l17-13-13 2-16 12z"/><path class="c55" d="M1061 1995l16-12-12 1-16 12z"/><path class="c54" d="M1045 2007l16-12-12 1-16 12z"/><path class="c53" d="M1029 2019l16-12-12 1-17 12z"/><path class="c52" d="M1013 2031l16-12-13 1-16 11z"/><path class="c51" d="M996 2043l17-12-13 0-16 12z"/><path class="c50" d="M980 2055l16-12-12 0-16 11z"/><path class="c49" d="M964 2066l16-11-12-1-16 11zm-16 11l16-11-12-1-17 11z"/><path class="c48" d="M932 2088l16-11-13-1-16 11z"/><path class="c47" d="M916 2099l16-11-13-1-16 10z"/><path class="c46" d="M899 2109l17-10-13-2-16 10zm-16 9l16-9-12-2-16 10z"/><path class="c45" d="M867 2127l16-9-12-1-17 8zm-16 9l16-9-13-2-16 8z"/><path class="c44" d="M834 2143l17-7-13-3-16 7zm-16 6l16-6-12-3-16 7zm-16 5l16-5-12-2-16 5zm-16 4l16-4-12-2-17 4zm-16 3l16-3-13-2-16 3zm-16 2l16-2-13-2-16 2z"/><path class="c45" d="M737 2164l17-1-13-2-16 1zm-16 0l16 0-12-2-16 1z"/><path class="c46" d="M705 2164l16 0-12-1-17-1zm-16-1l16 1-13-2-16 0z"/><path class="c47" d="M672 2162l17 1-13-1-16-1z"/><path class="c48" d="M656 2160l16 2-12-1-16-2z"/><path class="c49" d="M640 2158l16 2-12-1-16-2zm-16-2l16 2-12-1-17-2z"/><path class="c50" d="M608 2153l16 3-13-1-16-2z"/><path class="c51" d="M591 2151l17 2-13 0-16-2z"/><path class="c52" d="M575 2148l16 3-12 0-16-3z"/><path class="c53" d="M559 2145l16 3-12 0-16-2z"/><path class="c54" d="M543 2142l16 3-12 1-17-3z"/><path class="c55" d="M527 2139l16 3-13 1-16-3z"/><path class="c56" d="M510 2136l17 3-13 1-16-3z"/><path class="c57" d="M494 2133l16 3-12 1-16-3z"/><path class="c58" d="M478 2130l16 3-12 1-16-3z"/><path class="c59" d="M462 2126l16 4-12 1-17-3z"/><path class="c60" d="M446 2123l16 3-13 2-16-3z"/><path class="c61" d="M429 2120l17 3-13 2-16-3z"/><path class="c62" d="M413 2116l16 4-12 2-16-4zm-16-3l16 3-12 2-16-3z"/><path class="c63" d="M1203 1902l17-13-13-6-16 12z"/><path class="c62" d="M1187 1915l16-13-12-7-16 13z"/><path class="c61" d="M1171 1928l16-13-12-7-17 13z"/><path class="c60" d="M1155 1941l16-13-13-7-16 12z"/><path class="c59" d="M1139 1954l16-13-13-8-16 13z"/><path class="c58" d="M1122 1966l17-12-13-8-16 12z"/><path class="c57" d="M1106 1979l16-13-12-8-16 12z"/><path class="c56" d="M1090 1991l16-12-12-9-17 13z"/><path class="c55" d="M1074 2004l16-13-13-8-16 12z"/><path class="c54" d="M1058 2016l16-12-13-9-16 12z"/><path class="c53" d="M1041 2028l17-12-13-9-16 12z"/><path class="c52" d="M1025 2040l16-12-12-9-16 12z"/><path class="c51" d="M1009 2052l16-12-12-9-17 12z"/><path class="c50" d="M993 2064l16-12-13-9-16 12zm-16 11l16-11-13-9-16 11z"/><path class="c49" d="M960 2086l17-11-13-9-16 11z"/><path class="c48" d="M944 2097l16-11-12-9-16 11z"/><path class="c47" d="M928 2108l16-11-12-9-16 11z"/><path class="c46" d="M912 2118l16-10-12-9-17 10zm-16 10l16-10-13-9-16 9z"/><path class="c45" d="M879 2137l17-9-13-10-16 9zm-16 8l16-8-12-10-16 9z"/><path class="c44" d="M847 2152l16-7-12-9-17 7zm-16 6l16-6-13-9-16 6zm-16 6l16-6-13-9-16 5zm-17 4l17-4-13-10-16 4zm-16 3l16-3-12-10-16 3zm-16 2l16-2-12-10-16 2z"/><path class="c45" d="M750 2174l16-1-12-10-17 1zm-16 0l16 0-13-10-16 0z"/><path class="c46" d="M717 2173l17 1-13-10-16 0zm-16-1l16 1-12-9-16-1z"/><path class="c47" d="M685 2171l16 1-12-9-17-1z"/><path class="c48" d="M669 2169l16 2-13-9-16-2z"/><path class="c49" d="M653 2167l16 2-13-9-16-2z"/><path class="c50" d="M636 2165l17 2-13-9-16-2zm-16-3l16 3-12-9-16-3z"/><path class="c51" d="M604 2160l16 2-12-9-17-2z"/><path class="c52" d="M588 2157l16 3-13-9-16-3z"/><path class="c53" d="M572 2154l16 3-13-9-16-3z"/><path class="c54" d="M555 2151l17 3-13-9-16-3z"/><path class="c55" d="M539 2148l16 3-12-9-16-3z"/><path class="c56" d="M523 2144l16 4-12-9-17-3z"/><path class="c57" d="M507 2141l16 3-13-8-16-3z"/><path class="c58" d="M491 2138l16 3-13-8-16-3z"/><path class="c59" d="M474 2134l17 4-13-8-16-4z"/><path class="c60" d="M458 2131l16 3-12-8-16-3z"/><path class="c61" d="M442 2127l16 4-12-8-17-3z"/><path class="c62" d="M426 2123l16 4-13-7-16-4z"/><path class="c63" d="M410 2119l16 4-13-7-16-3z"/><path class="c62" d="M1216 1917l16-13-12-15-17 13z"/><path class="c61" d="M1200 1931l16-14-13-15-16 13z"/><path class="c60" d="M1184 1944l16-13-13-16-16 13z"/><path class="c59" d="M1167 1957l17-13-13-16-16 13z"/><path class="c58" d="M1151 1970l16-13-12-16-16 13z"/><path class="c57" d="M1135 1983l16-13-12-16-17 12z"/><path class="c56" d="M1119 1996l16-13-13-17-16 13z"/><path class="c55" d="M1103 2008l16-12-13-17-16 12z"/><path class="c54" d="M1086 2021l17-13-13-17-16 13z"/><path class="c53" d="M1070 2033l16-12-12-17-16 12z"/><path class="c52" d="M1054 2046l16-13-12-17-17 12z"/><path class="c51" d="M1038 2058l16-12-13-18-16 12z"/><path class="c50" d="M1022 2070l16-12-13-18-16 12z"/><path class="c49" d="M1005 2081l17-11-13-18-16 12zm-16 12l16-12-12-17-16 11z"/><path class="c48" d="M973 2104l16-11-12-18-17 11z"/><path class="c47" d="M957 2115l16-11-13-18-16 11z"/><path class="c46" d="M941 2125l16-10-13-18-16 11zm-17 10l17-10-13-17-16 10z"/><path class="c45" d="M908 2145l16-10-12-17-16 10z"/><path class="c44" d="M892 2153l16-8-12-17-17 9zm-16 8l16-8-13-16-16 8z"/><path class="c43" d="M860 2169l16-8-13-16-16 7zm-17 6l17-6-13-17-16 6zm-16 5l16-5-12-17-16 6zm-16 4l16-4-12-16-17 4zm-16 3l16-3-13-16-16 3zm-16 2l16-2-13-16-16 2z"/><path class="c44" d="M762 2190l17-1-13-16-16 1zm-16 1l16-1-12-16-16 0z"/><path class="c45" d="M730 2190l16 1-12-17-17-1z"/><path class="c46" d="M714 2189l16 1-13-17-16-1zm-16-1l16 1-13-17-16-1z"/><path class="c47" d="M681 2187l17 1-13-17-16-2z"/><path class="c48" d="M665 2185l16 2-12-18-16-2z"/><path class="c49" d="M649 2182l16 3-12-18-17-2zm-16-2l16 2-13-17-16-3z"/><path class="c50" d="M617 2177l16 3-13-18-16-2z"/><path class="c51" d="M600 2174l17 3-13-17-16-3z"/><path class="c52" d="M584 2171l16 3-12-17-16-3z"/><path class="c53" d="M568 2168l16 3-12-17-17-3z"/><path class="c54" d="M552 2165l16 3-13-17-16-3z"/><path class="c55" d="M536 2161l16 4-13-17-16-4z"/><path class="c56" d="M519 2158l17 3-13-17-16-3z"/><path class="c57" d="M503 2154l16 4-12-17-16-3z"/><path class="c58" d="M487 2150l16 4-12-16-17-4z"/><path class="c59" d="M471 2146l16 4-13-16-16-3z"/><path class="c60" d="M455 2142l16 4-13-15-16-4z"/><path class="c61" d="M438 2138l17 4-13-15-16-4z"/><path class="c62" d="M422 2134l16 4-12-15-16-4z"/><path class="c61" d="M1229 1941l16-14-13-23-16 13z"/><path class="c60" d="M1212 1955l17-14-13-24-16 14z"/><path class="c58" d="M1196 1970l16-15-12-24-16 13z"/><path class="c57" d="M1180 1983l16-13-12-26-17 13z"/><path class="c56" d="M1164 1997l16-14-13-26-16 13z"/><path class="c55" d="M1148 2010l16-13-13-27-16 13z"/><path class="c54" d="M1131 2024l17-14-13-27-16 13z"/><path class="c53" d="M1115 2037l16-13-12-28-16 12z"/><path class="c52" d="M1099 2049l16-12-12-29-17 13z"/><path class="c51" d="M1083 2062l16-13-13-28-16 12z"/><path class="c50" d="M1067 2074l16-12-13-29-16 13z"/><path class="c49" d="M1050 2086l17-12-13-28-16 12z"/><path class="c48" d="M1034 2098l16-12-12-28-16 12z"/><path class="c47" d="M1018 2110l16-12-12-28-17 11z"/><path class="c46" d="M1002 2121l16-11-13-29-16 12zm-16 11l16-11-13-28-16 11z"/><path class="c45" d="M969 2143l17-11-13-28-16 11z"/><path class="c44" d="M953 2153l16-10-12-28-16 10z"/><path class="c43" d="M937 2163l16-10-12-28-17 10zm-16 9l16-9-13-28-16 10z"/><path class="c42" d="M905 2181l16-9-13-27-16 8zm-17 8l17-8-13-28-16 8z"/><path class="c41" d="M872 2196l16-7-12-28-16 8zm-16 6l16-6-12-27-17 6zm-16 5l16-5-13-27-16 5zm-16 4l16-4-13-27-16 4zm-17 3l17-3-13-27-16 3zm-16 3l16-3-12-27-16 2z"/><path class="c42" d="M775 2218l16-1-12-28-17 1zm-16 0l16 0-13-28-16 1z"/><path class="c43" d="M743 2218l16 0-13-27-16-1zm-17 0l17 0-13-28-16-1z"/><path class="c44" d="M710 2217l16 1-12-29-16-1z"/><path class="c45" d="M694 2215l16 2-12-29-17-1z"/><path class="c46" d="M678 2213l16 2-13-28-16-2zm-16-2l16 2-13-28-16-3z"/><path class="c47" d="M645 2209l17 2-13-29-16-2z"/><path class="c48" d="M629 2206l16 3-12-29-16-3z"/><path class="c49" d="M613 2203l16 3-12-29-17-3z"/><path class="c50" d="M597 2200l16 3-13-29-16-3z"/><path class="c51" d="M581 2197l16 3-13-29-16-3z"/><path class="c52" d="M564 2193l17 4-13-29-16-3z"/><path class="c53" d="M548 2189l16 4-12-28-16-4z"/><path class="c54" d="M532 2185l16 4-12-28-17-3z"/><path class="c55" d="M516 2181l16 4-13-27-16-4z"/><path class="c56" d="M500 2177l16 4-13-27-16-4z"/><path class="c57" d="M483 2172l17 5-13-27-16-4z"/><path class="c58" d="M467 2167l16 5-12-26-16-4z"/><path class="c60" d="M451 2162l16 5-12-25-17-4z"/><path class="c61" d="M435 2157l16 5-13-24-16-4z"/><path class="c58" d="M1241 1972l16-16-12-29-16 14z"/><path class="c57" d="M1225 1988l16-16-12-31-17 14z"/><path class="c56" d="M1209 2003l16-15-13-33-16 15z"/><path class="c54" d="M1192 2018l17-15-13-33-16 13z"/><path class="c53" d="M1176 2033l16-15-12-35-16 14z"/><path class="c52" d="M1160 2047l16-14-12-36-16 13z"/><path class="c51" d="M1144 2061l16-14-12-37-17 14z"/><path class="c50" d="M1128 2074l16-13-13-37-16 13z"/><path class="c49" d="M1111 2088l17-14-13-37-16 12z"/><path class="c48" d="M1095 2101l16-13-12-39-16 13z"/><path class="c47" d="M1079 2113l16-12-12-39-16 12z"/><path class="c46" d="M1063 2126l16-13-12-39-17 12z"/><path class="c45" d="M1047 2138l16-12-13-40-16 12z"/><path class="c44" d="M1030 2149l17-11-13-40-16 12z"/><path class="c43" d="M1014 2161l16-12-12-39-16 11z"/><path class="c42" d="M998 2172l16-11-12-40-16 11z"/><path class="c41" d="M982 2182l16-10-12-40-17 11zm-16 10l16-10-13-39-16 10z"/><path class="c40" d="M949 2202l17-10-13-39-16 10z"/><path class="c39" d="M933 2211l16-9-12-39-16 9zm-16 9l16-9-12-39-16 9z"/><path class="c38" d="M901 2227l16-7-12-39-17 8zm-16 7l16-7-13-38-16 7zm-17 6l17-6-13-38-16 6zm-16 6l16-6-12-38-16 5zm-16 4l16-4-12-39-16 4zm-16 3l16-3-12-39-17 3zm-16 2l16-2-13-39-16 3zm-17 2l17-2-13-38-16 1z"/><path class="c39" d="M771 2257l16 0-12-39-16 0zm-16 0l16 0-12-39-16 0z"/><path class="c40" d="M739 2257l16 0-12-39-17 0z"/><path class="c41" d="M723 2256l16 1-13-39-16-1zm-17-2l17 2-13-39-16-2z"/><path class="c42" d="M690 2253l16 1-12-39-16-2z"/><path class="c43" d="M674 2251l16 2-12-40-16-2z"/><path class="c44" d="M658 2248l16 3-12-40-17-2z"/><path class="c45" d="M642 2245l16 3-13-39-16-3z"/><path class="c46" d="M625 2242l17 3-13-39-16-3z"/><path class="c47" d="M609 2239l16 3-12-39-16-3z"/><path class="c48" d="M593 2235l16 4-12-39-16-3z"/><path class="c49" d="M577 2231l16 4-12-38-17-4z"/><path class="c50" d="M561 2226l16 5-13-38-16-4z"/><path class="c51" d="M544 2222l17 4-13-37-16-4z"/><path class="c52" d="M528 2217l16 5-12-37-16-4z"/><path class="c53" d="M512 2211l16 6-12-36-16-4z"/><path class="c54" d="M496 2206l16 5-12-34-17-5z"/><path class="c56" d="M480 2200l16 6-13-34-16-5z"/><path class="c57" d="M463 2193l17 7-13-33-16-5z"/><path class="c58" d="M447 2186l16 7-12-31-16-5z"/><path class="c56" d="M1254 1996l16-18-13-22-16 16z"/><path class="c54" d="M1237 2013l17-17-13-24-16 16z"/><path class="c53" d="M1221 2030l16-17-12-25-16 15z"/><path class="c51" d="M1205 2046l16-16-12-27-17 15z"/><path class="c50" d="M1189 2062l16-16-13-28-16 15z"/><path class="c49" d="M1173 2077l16-15-13-29-16 14z"/><path class="c47" d="M1156 2092l17-15-13-30-16 14z"/><path class="c46" d="M1140 2106l16-14-12-31-16 13z"/><path class="c45" d="M1124 2120l16-14-12-32-17 14z"/><path class="c44" d="M1108 2134l16-14-13-32-16 13z"/><path class="c43" d="M1092 2147l16-13-13-33-16 12z"/><path class="c42" d="M1075 2159l17-12-13-34-16 13z"/><path class="c41" d="M1059 2172l16-13-12-33-16 12z"/><path class="c40" d="M1043 2183l16-11-12-34-17 11z"/><path class="c39" d="M1027 2195l16-12-13-34-16 12z"/><path class="c38" d="M1011 2206l16-11-13-34-16 11zm-17 10l17-10-13-34-16 10z"/><path class="c37" d="M978 2226l16-10-12-34-16 10z"/><path class="c36" d="M962 2236l16-10-12-34-17 10zm-16 9l16-9-13-34-16 9z"/><path class="c35" d="M930 2253l16-8-13-34-16 9zm-17 8l17-8-13-33-16 7z"/><path class="c34" d="M897 2268l16-7-12-34-16 7zm-16 6l16-6-12-34-17 6zm-16 5l16-5-13-34-16 6zm-16 4l16-4-13-33-16 4zm-17 3l17-3-13-33-16 3zm-16 2l16-2-12-33-16 2z"/><path class="c35" d="M800 2290l16-2-12-33-17 2zm-16 1l16-1-13-33-16 0z"/><path class="c36" d="M768 2291l16 0-13-34-16 0zm-17 0l17 0-13-34-16 0z"/><path class="c37" d="M735 2290l16 1-12-34-16-1z"/><path class="c38" d="M719 2289l16 1-12-34-17-2zm-16-2l16 2-13-35-16-1z"/><path class="c39" d="M687 2285l16 2-13-34-16-2z"/><path class="c40" d="M670 2282l17 3-13-34-16-3z"/><path class="c41" d="M654 2279l16 3-12-34-16-3z"/><path class="c42" d="M638 2276l16 3-12-34-17-3z"/><path class="c43" d="M622 2272l16 4-13-34-16-3z"/><path class="c44" d="M606 2267l16 5-13-33-16-4z"/><path class="c45" d="M589 2263l17 4-13-32-16-4z"/><path class="c46" d="M573 2258l16 5-12-32-16-5z"/><path class="c47" d="M557 2252l16 6-12-32-17-4z"/><path class="c49" d="M541 2246l16 6-13-30-16-5z"/><path class="c50" d="M525 2239l16 7-13-29-16-6z"/><path class="c51" d="M508 2232l17 7-13-28-16-5z"/><path class="c53" d="M492 2225l16 7-12-26-16-6z"/><path class="c54" d="M476 2217l16 8-12-25-17-7z"/><path class="c56" d="M460 2208l16 9-13-24-16-7z"/><path class="c54" d="M1266 2016l16-19-12-19-16 18z"/><path class="c52" d="M1250 2036l16-20-12-20-17 17z"/><path class="c50" d="M1234 2054l16-18-13-23-16 17z"/><path class="c49" d="M1218 2071l16-17-13-24-16 16z"/><path class="c47" d="M1201 2088l17-17-13-25-16 16z"/><path class="c46" d="M1185 2105l16-17-12-26-16 15z"/><path class="c44" d="M1169 2120l16-15-12-28-17 15z"/><path class="c43" d="M1153 2136l16-16-13-28-16 14z"/><path class="c42" d="M1137 2150l16-14-13-30-16 14z"/><path class="c41" d="M1120 2164l17-14-13-30-16 14z"/><path class="c40" d="M1104 2178l16-14-12-30-16 13z"/><path class="c39" d="M1088 2191l16-13-12-31-17 12z"/><path class="c38" d="M1072 2203l16-12-13-32-16 13z"/><path class="c37" d="M1056 2215l16-12-13-31-16 11z"/><path class="c36" d="M1039 2226l17-11-13-32-16 12z"/><path class="c35" d="M1023 2237l16-11-12-31-16 11z"/><path class="c34" d="M1007 2248l16-11-12-31-17 10zm-16 10l16-10-13-32-16 10z"/><path class="c33" d="M975 2267l16-9-13-32-16 10z"/><path class="c32" d="M958 2276l17-9-13-31-16 9zm-16 8l16-8-12-31-16 8z"/><path class="c31" d="M926 2292l16-8-12-31-17 8zm-16 6l16-6-13-31-16 7zm-16 6l16-6-13-30-16 6zm-17 5l17-5-13-30-16 5zm-16 4l16-4-12-30-16 4zm-16 4l16-4-12-30-17 3zm-16 2l16-2-13-31-16 2zm-16 2l16-2-13-31-16 2z"/><path class="c32" d="M796 2322l17-1-13-31-16 1zm-16 0l16 0-12-31-16 0z"/><path class="c33" d="M764 2322l16 0-12-31-17 0z"/><path class="c34" d="M748 2321l16 1-13-31-16-1zm-16-1l16 1-13-31-16-1z"/><path class="c35" d="M715 2318l17 2-13-31-16-2z"/><path class="c36" d="M699 2316l16 2-12-31-16-2z"/><path class="c37" d="M683 2313l16 3-12-31-17-3z"/><path class="c38" d="M667 2310l16 3-13-31-16-3z"/><path class="c39" d="M651 2306l16 4-13-31-16-3z"/><path class="c40" d="M634 2302l17 4-13-30-16-4z"/><path class="c41" d="M618 2297l16 5-12-30-16-5z"/><path class="c42" d="M602 2292l16 5-12-30-17-4z"/><path class="c43" d="M586 2286l16 6-13-29-16-5z"/><path class="c44" d="M570 2280l16 6-13-28-16-6z"/><path class="c46" d="M553 2272l17 8-13-28-16-6z"/><path class="c47" d="M537 2265l16 7-12-26-16-7z"/><path class="c49" d="M521 2256l16 9-12-26-17-7z"/><path class="c50" d="M505 2247l16 9-13-24-16-7z"/><path class="c52" d="M489 2237l16 10-13-22-16-8z"/><path class="c54" d="M472 2227l17 10-13-20-16-9z"/><path class="c52" d="M1279 2038l16-22-13-19-16 19z"/><path class="c50" d="M1262 2058l17-20-13-22-16 20z"/><path class="c48" d="M1246 2078l16-20-12-22-16 18z"/><path class="c46" d="M1230 2097l16-19-12-24-16 17z"/><path class="c45" d="M1214 2115l16-18-12-26-17 17z"/><path class="c43" d="M1198 2132l16-17-13-27-16 17z"/><path class="c42" d="M1181 2149l17-17-13-27-16 15z"/><path class="c40" d="M1165 2165l16-16-12-29-16 16z"/><path class="c39" d="M1149 2180l16-15-12-29-16 14z"/><path class="c38" d="M1133 2194l16-14-12-30-17 14z"/><path class="c37" d="M1117 2208l16-14-13-30-16 14z"/><path class="c36" d="M1100 2221l17-13-13-30-16 13z"/><path class="c34" d="M1084 2234l16-13-12-30-16 12zm-16 12l16-12-12-31-16 12z"/><path class="c33" d="M1052 2258l16-12-12-31-17 11z"/><path class="c32" d="M1036 2268l16-10-13-32-16 11z"/><path class="c31" d="M1019 2279l17-11-13-31-16 11z"/><path class="c30" d="M1003 2289l16-10-12-31-16 10zm-16 9l16-9-12-31-16 9z"/><path class="c29" d="M971 2306l16-8-12-31-17 9zm-16 8l16-8-13-30-16 8z"/><path class="c28" d="M938 2322l17-8-13-30-16 8zm-16 6l16-6-12-30-16 6zm-16 6l16-6-12-30-16 6zm-16 5l16-5-12-30-17 5zm-16 4l16-4-13-30-16 4zm-17 4l17-4-13-30-16 4zm-16 2l16-2-12-30-16 2zm-16 2l16-2-12-30-16 2z"/><path class="c29" d="M809 2352l16-1-12-30-17 1zm-16 1l16-1-13-30-16 0z"/><path class="c30" d="M776 2353l17 0-13-31-16 0zm-16-1l16 1-12-31-16-1z"/><path class="c31" d="M744 2351l16 1-12-31-16-1z"/><path class="c32" d="M728 2350l16 1-12-31-17-2z"/><path class="c33" d="M712 2347l16 3-13-32-16-2z"/><path class="c34" d="M695 2344l17 3-13-31-16-3zm-16-3l16 3-12-31-16-3z"/><path class="c36" d="M663 2337l16 4-12-31-16-4z"/><path class="c37" d="M647 2332l16 5-12-31-17-4z"/><path class="c38" d="M631 2327l16 5-13-30-16-5z"/><path class="c39" d="M614 2321l17 6-13-30-16-5z"/><path class="c40" d="M598 2315l16 6-12-29-16-6z"/><path class="c42" d="M582 2307l16 8-12-29-16-6z"/><path class="c43" d="M566 2299l16 8-12-27-17-8z"/><path class="c45" d="M550 2290l16 9-13-27-16-7z"/><path class="c46" d="M533 2280l17 10-13-25-16-9z"/><path class="c48" d="M517 2270l16 10-12-24-16-9z"/><path class="c50" d="M501 2258l16 12-12-23-16-10z"/><path class="c52" d="M485 2246l16 12-12-21-17-10z"/><path class="c50" d="M1291 2062l16-23-12-23-16 22z"/><path class="c48" d="M1275 2084l16-22-12-24-17 20z"/><path class="c46" d="M1259 2105l16-21-13-26-16 20z"/><path class="c44" d="M1243 2125l16-20-13-27-16 19z"/><path class="c42" d="M1226 2144l17-19-13-28-16 18z"/><path class="c40" d="M1210 2162l16-18-12-29-16 17z"/><path class="c39" d="M1194 2179l16-17-12-30-17 17z"/><path class="c37" d="M1178 2196l16-17-13-30-16 16z"/><path class="c36" d="M1162 2211l16-15-13-31-16 15z"/><path class="c35" d="M1145 2226l17-15-13-31-16 14z"/><path class="c33" d="M1129 2240l16-14-12-32-16 14z"/><path class="c32" d="M1113 2254l16-14-12-32-17 13z"/><path class="c31" d="M1097 2266l16-12-13-33-16 13z"/><path class="c30" d="M1081 2278l16-12-13-32-16 12z"/><path class="c29" d="M1064 2290l17-12-13-32-16 12zm-16 11l16-11-12-32-16 10z"/><path class="c28" d="M1032 2311l16-10-12-33-17 11z"/><path class="c27" d="M1016 2320l16-9-13-32-16 10zm-16 9l16-9-13-31-16 9z"/><path class="c26" d="M983 2338l17-9-13-31-16 8zm-16 8l16-8-12-32-16 8z"/><path class="c25" d="M951 2353l16-7-12-32-17 8zm-16 6l16-6-13-31-16 6zm-16 6l16-6-13-31-16 6zm-17 5l17-5-13-31-16 5zm-16 4l16-4-12-31-16 4zm-16 3l16-3-12-31-17 4zm-16 3l16-3-13-30-16 2zm-16 2l16-2-13-31-16 2z"/><path class="c26" d="M821 2384l17-2-13-31-16 1zm-16 1l16-1-12-32-16 1z"/><path class="c27" d="M789 2385l16 0-12-32-17 0zm-16-1l16 1-13-32-16-1z"/><path class="c28" d="M757 2383l16 1-13-32-16-1z"/><path class="c29" d="M740 2382l17 1-13-32-16-1zm-16-2l16 2-12-32-16-3z"/><path class="c30" d="M708 2377l16 3-12-33-17-3z"/><path class="c31" d="M692 2373l16 4-13-33-16-3z"/><path class="c32" d="M676 2369l16 4-13-32-16-4z"/><path class="c33" d="M659 2364l17 5-13-32-16-5z"/><path class="c35" d="M643 2359l16 5-12-32-16-5z"/><path class="c36" d="M627 2352l16 7-12-32-17-6z"/><path class="c37" d="M611 2345l16 7-13-31-16-6z"/><path class="c39" d="M595 2337l16 8-13-30-16-8z"/><path class="c40" d="M578 2328l17 9-13-30-16-8z"/><path class="c42" d="M562 2318l16 10-12-29-16-9z"/><path class="c44" d="M546 2308l16 10-12-28-17-10z"/><path class="c46" d="M530 2296l16 12-13-28-16-10z"/><path class="c48" d="M514 2283l16 13-13-26-16-12z"/><path class="c50" d="M497 2269l17 14-13-25-16-12z"/><path class="c47" d="M1304 2090l16-24-13-27-16 23z"/><path class="c45" d="M1288 2114l16-24-13-28-16 22z"/><path class="c43" d="M1271 2135l17-21-13-30-16 21z"/><path class="c41" d="M1255 2156l16-21-12-30-16 20z"/><path class="c39" d="M1239 2176l16-20-12-31-17 19z"/><path class="c37" d="M1223 2195l16-19-13-32-16 18z"/><path class="c36" d="M1207 2213l16-18-13-33-16 17z"/><path class="c34" d="M1190 2229l17-16-13-34-16 17z"/><path class="c33" d="M1174 2245l16-16-12-33-16 15z"/><path class="c31" d="M1158 2260l16-15-12-34-17 15z"/><path class="c30" d="M1142 2275l16-15-13-34-16 14z"/><path class="c29" d="M1126 2288l16-13-13-35-16 14z"/><path class="c28" d="M1109 2301l17-13-13-34-16 12z"/><path class="c27" d="M1093 2313l16-12-12-35-16 12z"/><path class="c26" d="M1077 2325l16-12-12-35-17 12z"/><path class="c25" d="M1061 2335l16-10-13-35-16 11z"/><path class="c24" d="M1045 2346l16-11-13-34-16 10zm-17 9l17-9-13-35-16 9z"/><path class="c23" d="M1012 2364l16-9-12-35-16 9zm-16 8l16-8-12-35-17 9z"/><path class="c22" d="M980 2380l16-8-13-34-16 8zm-16 7l16-7-13-34-16 7zm-17 6l17-6-13-34-16 6zm-16 6l16-6-12-34-16 6z"/><path class="c21" d="M915 2404l16-5-12-34-17 5zm-16 4l16-4-13-34-16 4z"/><path class="c22" d="M883 2411l16-3-13-34-16 3zm-17 3l17-3-13-34-16 3zm-16 3l16-3-12-34-16 2zm-16 1l16-1-12-35-17 2z"/><path class="c23" d="M818 2419l16-1-13-34-16 1zm-16 0l16 0-13-34-16 0z"/><path class="c24" d="M785 2419l17 0-13-34-16-1zm-16-1l16 1-12-35-16-1z"/><path class="c25" d="M753 2417l16 1-12-35-17-1z"/><path class="c26" d="M737 2414l16 3-13-35-16-2z"/><path class="c27" d="M721 2412l16 2-13-34-16-3z"/><path class="c28" d="M704 2408l17 4-13-35-16-4z"/><path class="c29" d="M688 2404l16 4-12-35-16-4z"/><path class="c30" d="M672 2398l16 6-12-35-17-5z"/><path class="c31" d="M656 2393l16 5-13-34-16-5z"/><path class="c33" d="M640 2386l16 7-13-34-16-7z"/><path class="c34" d="M623 2378l17 8-13-34-16-7z"/><path class="c36" d="M607 2370l16 8-12-33-16-8z"/><path class="c37" d="M591 2360l16 10-12-33-17-9z"/><path class="c39" d="M575 2349l16 11-13-32-16-10z"/><path class="c41" d="M559 2338l16 11-13-31-16-10z"/><path class="c43" d="M542 2325l17 13-13-30-16-12z"/><path class="c45" d="M526 2311l16 14-12-29-16-13z"/><path class="c47" d="M510 2296l16 15-12-28-17-14z"/><path class="c44" d="M1316 2123l16-26-12-31-16 24z"/><path class="c42" d="M1300 2147l16-24-12-33-16 24z"/><path class="c40" d="M1284 2170l16-23-12-33-17 21z"/><path class="c38" d="M1268 2192l16-22-13-35-16 21z"/><path class="c36" d="M1252 2212l16-20-13-36-16 20z"/><path class="c34" d="M1235 2231l17-19-13-36-16 19z"/><path class="c32" d="M1219 2250l16-19-12-36-16 18z"/><path class="c30" d="M1203 2267l16-17-12-37-17 16z"/><path class="c29" d="M1187 2283l16-16-13-38-16 16z"/><path class="c28" d="M1170 2299l17-16-13-38-16 15z"/><path class="c26" d="M1154 2313l16-14-12-39-16 15z"/><path class="c25" d="M1138 2327l16-14-12-38-16 13z"/><path class="c24" d="M1122 2340l16-13-12-39-17 13z"/><path class="c23" d="M1106 2352l16-12-13-39-16 12z"/><path class="c22" d="M1090 2364l16-12-13-39-16 12z"/><path class="c21" d="M1073 2374l17-10-13-39-16 10zm-16 11l16-11-12-39-16 11z"/><path class="c20" d="M1041 2394l16-9-12-39-17 9z"/><path class="c19" d="M1025 2403l16-9-13-39-16 9zm-17 8l17-8-13-39-16 8zm-16 7l16-7-12-39-16 8z"/><path class="c18" d="M976 2425l16-7-12-38-16 7zm-16 7l16-7-12-38-17 6zm-16 5l16-5-13-39-16 6zm-16 5l16-5-13-38-16 5zm-17 4l17-4-13-38-16 4zm-16 4l16-4-12-38-16 3zm-16 3l16-3-12-39-17 3zm-16 2l16-2-13-39-16 3z"/><path class="c19" d="M846 2457l17-2-13-38-16 1zm-16 1l16-1-12-39-16 1zm-16 0l16 0-12-39-16 0z"/><path class="c20" d="M798 2458l16 0-12-39-17 0z"/><path class="c21" d="M782 2457l16 1-13-39-16-1zm-16-1l16 1-13-39-16-1z"/><path class="c22" d="M749 2453l17 3-13-39-16-3z"/><path class="c23" d="M733 2450l16 3-12-39-16-2z"/><path class="c24" d="M717 2447l16 3-12-38-17-4z"/><path class="c25" d="M701 2442l16 5-13-39-16-4z"/><path class="c26" d="M684 2437l17 5-13-38-16-6z"/><path class="c28" d="M668 2430l16 7-12-39-16-5z"/><path class="c29" d="M652 2423l16 7-12-37-16-7z"/><path class="c30" d="M636 2415l16 8-12-37-17-8z"/><path class="c32" d="M620 2406l16 9-13-37-16-8z"/><path class="c34" d="M604 2396l16 10-13-36-16-10z"/><path class="c36" d="M587 2385l17 11-13-36-16-11z"/><path class="c38" d="M571 2372l16 13-12-36-16-11z"/><path class="c40" d="M555 2359l16 13-12-34-17-13z"/><path class="c42" d="M539 2344l16 15-13-34-16-14z"/><path class="c44" d="M522 2327l17 17-13-33-16-15z"/><path class="c42" d="M1329 2150l16-26-13-27-16 26z"/><path class="c39" d="M1313 2175l16-25-13-27-16 24z"/><path class="c37" d="M1296 2199l17-24-13-28-16 23z"/><path class="c34" d="M1280 2221l16-22-12-29-16 22z"/><path class="c32" d="M1264 2242l16-21-12-29-16 20z"/><path class="c30" d="M1248 2262l16-20-12-30-17 19z"/><path class="c29" d="M1232 2281l16-19-13-31-16 19z"/><path class="c27" d="M1215 2299l17-18-13-31-16 17z"/><path class="c25" d="M1199 2315l16-16-12-32-16 16z"/><path class="c24" d="M1183 2331l16-16-12-32-17 16z"/><path class="c23" d="M1167 2346l16-15-13-32-16 14z"/><path class="c21" d="M1151 2360l16-14-13-33-16 14z"/><path class="c20" d="M1134 2373l17-13-13-33-16 13z"/><path class="c19" d="M1118 2385l16-12-12-33-16 12z"/><path class="c18" d="M1102 2397l16-12-12-33-16 12zm-16 10l16-10-12-33-17 10z"/><path class="c17" d="M1070 2418l16-11-13-33-16 11z"/><path class="c16" d="M1053 2427l17-9-13-33-16 9zm-16 9l16-9-12-33-16 9z"/><path class="c15" d="M1021 2444l16-8-12-33-17 8zm-16 7l16-7-13-33-16 7z"/><path class="c14" d="M989 2458l16-7-13-33-16 7zm-17 6l17-6-13-33-16 7zm-16 6l16-6-12-32-16 5zm-16 5l16-5-12-33-16 5zm-16 4l16-4-12-33-17 4zm-16 4l16-4-13-33-16 4zm-17 3l17-3-13-33-16 3zm-16 2l16-2-12-33-16 2z"/><path class="c15" d="M859 2490l16-2-12-33-17 2zm-16 1l16-1-13-33-16 1z"/><path class="c16" d="M827 2491l16 0-13-33-16 0zm-17 0l17 0-13-33-16 0z"/><path class="c17" d="M794 2490l16 1-12-33-16-1z"/><path class="c18" d="M778 2489l16 1-12-33-16-1zm-16-3l16 3-12-33-17-3z"/><path class="c19" d="M746 2483l16 3-13-33-16-3z"/><path class="c20" d="M729 2479l17 4-13-33-16-3z"/><path class="c21" d="M713 2475l16 4-12-32-16-5z"/><path class="c23" d="M697 2469l16 6-12-33-17-5z"/><path class="c24" d="M681 2462l16 7-13-32-16-7z"/><path class="c25" d="M665 2455l16 7-13-32-16-7z"/><path class="c27" d="M648 2446l17 9-13-32-16-8z"/><path class="c29" d="M632 2437l16 9-12-31-16-9z"/><path class="c30" d="M616 2426l16 11-12-31-16-10z"/><path class="c32" d="M600 2414l16 12-12-30-17-11z"/><path class="c34" d="M584 2401l16 13-13-29-16-13z"/><path class="c37" d="M567 2387l17 14-13-29-16-13z"/><path class="c39" d="M551 2371l16 16-12-28-16-15z"/><path class="c42" d="M535 2354l16 17-12-27-17-17z"/><path class="c39" d="M1341 2176l17-27-13-25-16 26z"/><path class="c36" d="M1325 2201l16-25-12-26-16 25z"/><path class="c34" d="M1309 2225l16-24-12-26-17 24z"/><path class="c32" d="M1293 2248l16-23-13-26-16 22z"/><path class="c29" d="M1277 2270l16-22-13-27-16 21z"/><path class="c27" d="M1260 2290l17-20-13-28-16 20z"/><path class="c26" d="M1244 2309l16-19-12-28-16 19z"/><path class="c24" d="M1228 2327l16-18-12-28-17 18z"/><path class="c22" d="M1212 2344l16-17-13-28-16 16z"/><path class="c21" d="M1196 2360l16-16-13-29-16 16z"/><path class="c20" d="M1179 2375l17-15-13-29-16 15z"/><path class="c18" d="M1163 2389l16-14-12-29-16 14z"/><path class="c17" d="M1147 2402l16-13-12-29-17 13z"/><path class="c16" d="M1131 2414l16-12-13-29-16 12z"/><path class="c15" d="M1115 2426l16-12-13-29-16 12z"/><path class="c14" d="M1098 2437l17-11-13-29-16 10zm-16 10l16-10-12-30-16 11z"/><path class="c13" d="M1066 2457l16-10-12-29-17 9zm-16 8l16-8-13-30-16 9z"/><path class="c12" d="M1034 2473l16-8-13-29-16 8zm-17 8l17-8-13-29-16 7z"/><path class="c11" d="M1001 2488l16-7-12-30-16 7zm-16 6l16-6-12-30-17 6zm-16 5l16-5-13-30-16 6zm-16 5l16-5-13-29-16 5zm-17 5l17-5-13-29-16 4zm-16 3l16-3-12-30-16 4zm-16 3l16-3-12-29-17 3zm-16 3l16-3-13-29-16 2z"/><path class="c12" d="M872 2519l16-1-13-30-16 2zm-17 2l17-2-13-29-16 1z"/><path class="c13" d="M839 2521l16 0-12-30-16 0zm-16 0l16 0-12-30-17 0z"/><path class="c14" d="M807 2520l16 1-13-30-16-1zm-16-2l16 2-13-30-16-1z"/><path class="c15" d="M774 2516l17 2-13-29-16-3z"/><path class="c16" d="M758 2512l16 4-12-30-16-3z"/><path class="c17" d="M742 2508l16 4-12-29-17-4z"/><path class="c18" d="M726 2504l16 4-13-29-16-4z"/><path class="c20" d="M710 2498l16 6-13-29-16-6z"/><path class="c21" d="M693 2491l17 7-13-29-16-7z"/><path class="c22" d="M677 2483l16 8-12-29-16-7z"/><path class="c24" d="M661 2474l16 9-12-28-17-9z"/><path class="c26" d="M645 2465l16 9-13-28-16-9z"/><path class="c27" d="M629 2454l16 11-13-28-16-11z"/><path class="c29" d="M612 2441l17 13-13-28-16-12z"/><path class="c32" d="M596 2428l16 13-12-27-16-13z"/><path class="c34" d="M580 2413l16 15-12-27-17-14z"/><path class="c36" d="M564 2396l16 17-13-26-16-16z"/><path class="c39" d="M548 2379l16 17-13-25-16-17z"/><path class="c37" d="M1354 2198l16-27-12-22-17 27z"/><path class="c34" d="M1338 2224l16-26-13-22-16 25z"/><path class="c32" d="M1322 2249l16-25-13-23-16 24z"/><path class="c29" d="M1305 2272l17-23-13-24-16 23z"/><path class="c27" d="M1289 2294l16-22-12-24-16 22z"/><path class="c25" d="M1273 2314l16-20-12-24-17 20z"/><path class="c23" d="M1257 2333l16-19-13-24-16 19z"/><path class="c21" d="M1241 2352l16-19-13-24-16 18z"/><path class="c20" d="M1224 2369l17-17-13-25-16 17z"/><path class="c18" d="M1208 2385l16-16-12-25-16 16z"/><path class="c17" d="M1192 2400l16-15-12-25-17 15z"/><path class="c16" d="M1176 2414l16-14-13-25-16 14z"/><path class="c15" d="M1160 2427l16-13-13-25-16 13z"/><path class="c14" d="M1143 2440l17-13-13-25-16 12z"/><path class="c13" d="M1127 2451l16-11-12-26-16 12z"/><path class="c12" d="M1111 2462l16-11-12-25-17 11z"/><path class="c11" d="M1095 2473l16-11-13-25-16 10z"/><path class="c10" d="M1079 2482l16-9-13-26-16 10zm-17 9l17-9-13-25-16 8z"/><path class="c9" d="M1046 2499l16-8-12-26-16 8zm-16 7l16-7-12-26-17 8zm-16 7l16-7-13-25-16 7z"/><path class="c8" d="M998 2519l16-6-13-25-16 6zm-17 6l17-6-13-25-16 5zm-16 5l16-5-12-26-16 5zm-16 4l16-4-12-26-17 5zm-16 4l16-4-13-25-16 3zm-16 3l16-3-13-26-16 3z"/><path class="c9" d="M900 2543l17-2-13-26-16 3zm-16 2l16-2-12-25-16 1zm-16 1l16-1-12-26-17 2z"/><path class="c10" d="M852 2546l16 0-13-25-16 0zm-16 0l16 0-13-25-16 0z"/><path class="c11" d="M819 2545l17 1-13-25-16-1z"/><path class="c12" d="M803 2543l16 2-12-25-16-2z"/><path class="c13" d="M787 2541l16 2-12-25-17-2z"/><path class="c14" d="M771 2538l16 3-13-25-16-4z"/><path class="c15" d="M755 2534l16 4-13-26-16-4z"/><path class="c16" d="M738 2529l17 5-13-26-16-4z"/><path class="c17" d="M722 2523l16 6-12-25-16-6z"/><path class="c18" d="M706 2516l16 7-12-25-17-7z"/><path class="c20" d="M690 2508l16 8-13-25-16-8z"/><path class="c21" d="M674 2499l16 9-13-25-16-9z"/><path class="c23" d="M657 2489l17 10-13-25-16-9z"/><path class="c25" d="M641 2478l16 11-12-24-16-11z"/><path class="c27" d="M625 2465l16 13-12-24-17-13z"/><path class="c29" d="M609 2451l16 14-13-24-16-13z"/><path class="c32" d="M593 2436l16 15-13-23-16-15z"/><path class="c34" d="M576 2419l17 17-13-23-16-17z"/><path class="c37" d="M560 2401l16 18-12-23-16-17z"/><path class="c35" d="M1366 2220l17-27-13-22-16 27z"/><path class="c32" d="M1350 2246l16-26-12-22-16 26z"/><path class="c30" d="M1334 2271l16-25-12-22-16 25z"/><path class="c27" d="M1318 2294l16-23-12-22-17 23z"/><path class="c25" d="M1302 2316l16-22-13-22-16 22z"/><path class="c23" d="M1285 2336l17-20-13-22-16 20z"/><path class="c21" d="M1269 2356l16-20-12-22-16 19z"/><path class="c19" d="M1253 2374l16-18-12-23-16 19z"/><path class="c18" d="M1237 2391l16-17-12-22-17 17z"/><path class="c16" d="M1221 2407l16-16-13-22-16 16z"/><path class="c15" d="M1204 2422l17-15-13-22-16 15z"/><path class="c13" d="M1188 2437l16-15-12-22-16 14z"/><path class="c12" d="M1172 2450l16-13-12-23-16 13z"/><path class="c11" d="M1156 2462l16-12-12-23-17 13z"/><path class="c10" d="M1140 2474l16-12-13-22-16 11zm-17 11l17-11-13-23-16 11z"/><path class="c9" d="M1107 2495l16-10-12-23-16 11z"/><path class="c8" d="M1091 2505l16-10-12-22-16 9zm-16 8l16-8-12-23-17 9z"/><path class="c7" d="M1059 2521l16-8-13-22-16 8zm-17 8l17-8-13-22-16 7z"/><path class="c6" d="M1026 2536l16-7-12-23-16 7zm-16 6l16-6-12-23-16 6zm-16 5l16-5-12-23-17 6zm-16 5l16-5-13-22-16 5zm-17 4l17-4-13-22-16 4zm-16 4l16-4-12-22-16 4zm-16 3l16-3-12-22-16 3zm-16 3l16-3-12-22-17 2z"/><path class="c7" d="M897 2567l16-1-13-23-16 2zm-17 1l17-1-13-22-16 1z"/><path class="c8" d="M864 2569l16-1-12-22-16 0zm-16 0l16 0-12-23-16 0z"/><path class="c9" d="M832 2568l16 1-12-23-17-1z"/><path class="c10" d="M816 2566l16 2-13-23-16-2zm-17-2l17 2-13-23-16-2z"/><path class="c11" d="M783 2560l16 4-12-23-16-3z"/><path class="c12" d="M767 2556l16 4-12-22-16-4z"/><path class="c13" d="M751 2551l16 5-12-22-17-5z"/><path class="c15" d="M735 2545l16 6-13-22-16-6z"/><path class="c16" d="M718 2538l17 7-13-22-16-7z"/><path class="c18" d="M702 2530l16 8-12-22-16-8z"/><path class="c19" d="M686 2521l16 9-12-22-16-9z"/><path class="c21" d="M670 2511l16 10-12-22-17-10z"/><path class="c23" d="M654 2500l16 11-13-22-16-11z"/><path class="c25" d="M637 2487l17 13-13-22-16-13z"/><path class="c27" d="M621 2473l16 14-12-22-16-14z"/><path class="c30" d="M605 2458l16 15-12-22-16-15z"/><path class="c32" d="M589 2441l16 17-12-22-17-17z"/><path class="c35" d="M573 2423l16 18-13-22-16-18z"/><path class="c33" d="M1379 2241l16-28-12-20-17 27z"/><path class="c30" d="M1363 2267l16-26-13-21-16 26z"/><path class="c28" d="M1347 2291l16-24-13-21-16 25z"/><path class="c25" d="M1330 2314l17-23-13-20-16 23z"/><path class="c23" d="M1314 2336l16-22-12-20-16 22z"/><path class="c21" d="M1298 2357l16-21-12-20-17 20z"/><path class="c19" d="M1282 2376l16-19-13-21-16 20z"/><path class="c17" d="M1266 2394l16-18-13-20-16 18z"/><path class="c16" d="M1249 2411l17-17-13-20-16 17z"/><path class="c14" d="M1233 2427l16-16-12-20-16 16z"/><path class="c13" d="M1217 2442l16-15-12-20-17 15z"/><path class="c12" d="M1201 2456l16-14-13-20-16 15z"/><path class="c10" d="M1185 2470l16-14-13-19-16 13z"/><path class="c9" d="M1168 2482l17-12-13-20-16 12z"/><path class="c8" d="M1152 2494l16-12-12-20-16 12zm-16 11l16-11-12-20-17 11z"/><path class="c7" d="M1120 2515l16-10-13-20-16 10z"/><path class="c6" d="M1104 2524l16-9-13-20-16 10zm-17 9l17-9-13-19-16 8z"/><path class="c5" d="M1071 2541l16-8-12-20-16 8zm-16 7l16-7-12-20-17 8zm-16 7l16-7-13-19-16 7z"/><path class="c4" d="M1023 2561l16-6-13-19-16 6zm-17 6l17-6-13-19-16 5zm-16 5l16-5-12-20-16 5zm-16 4l16-4-12-20-17 4zm-16 4l16-4-13-20-16 4zm-16 3l16-3-13-20-16 3z"/><path class="c5" d="M925 2585l17-2-13-20-16 3zm-16 2l16-2-12-19-16 1zm-16 1l16-1-12-20-17 1z"/><path class="c6" d="M877 2588l16 0-13-20-16 1zm-16 0l16 0-13-19-16 0z"/><path class="c7" d="M844 2587l17 1-13-19-16-1z"/><path class="c8" d="M828 2586l16 1-12-19-16-2zm-16-3l16 3-12-20-17-2z"/><path class="c9" d="M796 2580l16 3-13-19-16-4z"/><path class="c10" d="M780 2576l16 4-13-20-16-4z"/><path class="c12" d="M763 2571l17 5-13-20-16-5z"/><path class="c13" d="M747 2565l16 6-12-20-16-6z"/><path class="c14" d="M731 2558l16 7-12-20-17-7z"/><path class="c16" d="M715 2550l16 8-13-20-16-8z"/><path class="c17" d="M699 2542l16 8-13-20-16-9z"/><path class="c19" d="M682 2531l17 11-13-21-16-10z"/><path class="c21" d="M666 2520l16 11-12-20-16-11z"/><path class="c23" d="M650 2508l16 12-12-20-17-13z"/><path class="c25" d="M634 2494l16 14-13-21-16-14z"/><path class="c28" d="M618 2478l16 16-13-21-16-15z"/><path class="c30" d="M601 2462l17 16-13-20-16-17z"/><path class="c33" d="M585 2443l16 19-12-21-16-18z"/><path class="c31" d="M1392 2260l16-27-13-20-16 28z"/><path class="c28" d="M1375 2286l17-26-13-19-16 26z"/><path class="c26" d="M1359 2310l16-24-12-19-16 24z"/><path class="c24" d="M1343 2333l16-23-12-19-17 23z"/><path class="c21" d="M1327 2354l16-21-13-19-16 22z"/><path class="c19" d="M1311 2375l16-21-13-18-16 21z"/><path class="c17" d="M1294 2394l17-19-13-18-16 19z"/><path class="c16" d="M1278 2412l16-18-12-18-16 18z"/><path class="c14" d="M1262 2429l16-17-12-18-17 17z"/><path class="c13" d="M1246 2445l16-16-13-18-16 16z"/><path class="c11" d="M1230 2460l16-15-13-18-16 15z"/><path class="c10" d="M1213 2474l17-14-13-18-16 14z"/><path class="c9" d="M1197 2487l16-13-12-18-16 14z"/><path class="c8" d="M1181 2499l16-12-12-17-17 12z"/><path class="c7" d="M1165 2511l16-12-13-17-16 12z"/><path class="c6" d="M1149 2521l16-10-13-17-16 11z"/><path class="c5" d="M1132 2531l17-10-13-16-16 10zm-16 10l16-10-12-16-16 9z"/><path class="c4" d="M1100 2549l16-8-12-17-17 9zm-16 8l16-8-13-16-16 8z"/><path class="c3" d="M1068 2565l16-8-13-16-16 7zm-17 6l17-6-13-17-16 7zm-16 7l16-7-12-16-16 6zm-16 5l16-5-12-17-17 6zm-16 5l16-5-13-16-16 5zm-16 4l16-4-13-16-16 4zm-17 4l17-4-13-16-16 4zm-16 3l16-3-12-16-16 3zm-16 3l16-3-12-16-17 2zm-16 1l16-1-13-17-16 2z"/><path class="c4" d="M906 2605l16-2-13-16-16 1zm-17 0l17 0-13-17-16 0z"/><path class="c5" d="M873 2605l16 0-12-17-16 0zm-16-1l16 1-12-17-17-1z"/><path class="c6" d="M841 2603l16 1-13-17-16-1z"/><path class="c7" d="M825 2600l16 3-13-17-16-3z"/><path class="c8" d="M808 2597l17 3-13-17-16-3z"/><path class="c9" d="M792 2593l16 4-12-17-16-4z"/><path class="c10" d="M776 2588l16 5-12-17-17-5z"/><path class="c11" d="M760 2583l16 5-13-17-16-6z"/><path class="c13" d="M744 2576l16 7-13-18-16-7z"/><path class="c14" d="M727 2568l17 8-13-18-16-8z"/><path class="c16" d="M711 2559l16 9-12-18-16-8z"/><path class="c17" d="M695 2549l16 10-12-17-17-11z"/><path class="c19" d="M679 2538l16 11-13-18-16-11z"/><path class="c21" d="M663 2526l16 12-13-18-16-12z"/><path class="c24" d="M646 2512l17 14-13-18-16-14z"/><path class="c26" d="M630 2497l16 15-12-18-16-16z"/><path class="c28" d="M614 2481l16 16-12-19-17-16z"/><path class="c31" d="M598 2463l16 18-13-19-16-19z"/><path class="c30" d="M1404 2278l16-27-12-18-16 27z"/><path class="c27" d="M1388 2303l16-25-12-18-17 26z"/><path class="c24" d="M1372 2327l16-24-13-17-16 24z"/><path class="c22" d="M1355 2350l17-23-13-17-16 23z"/><path class="c20" d="M1339 2371l16-21-12-17-16 21z"/><path class="c18" d="M1323 2391l16-20-12-17-16 21z"/><path class="c16" d="M1307 2410l16-19-12-16-17 19z"/><path class="c14" d="M1291 2428l16-18-13-16-16 18z"/><path class="c13" d="M1274 2445l17-17-13-16-16 17z"/><path class="c11" d="M1258 2460l16-15-12-16-16 16z"/><path class="c10" d="M1242 2475l16-15-12-15-16 15z"/><path class="c9" d="M1226 2489l16-14-12-15-17 14z"/><path class="c8" d="M1210 2502l16-13-13-15-16 13z"/><path class="c7" d="M1193 2514l17-12-13-15-16 12z"/><path class="c6" d="M1177 2526l16-12-12-15-16 12z"/><path class="c5" d="M1161 2536l16-10-12-15-16 10z"/><path class="c4" d="M1145 2546l16-10-12-15-17 10zm-16 10l16-10-13-15-16 10z"/><path class="c3" d="M1112 2564l17-8-13-15-16 8zm-16 8l16-8-12-15-16 8z"/><path class="c2" d="M1080 2579l16-7-12-15-16 8zm-16 7l16-7-12-14-17 6zm-16 6l16-6-13-15-16 7z"/><path class="c1" d="M1031 2598l17-6-13-14-16 5zm-16 5l16-5-12-15-16 5zm-16 4l16-4-12-15-16 4zm-16 4l16-4-12-15-17 4z"/><path class="c2" d="M967 2614l16-3-13-15-16 3zm-17 2l17-2-13-15-16 3zm-16 2l16-2-12-14-16 1z"/><path class="c3" d="M918 2619l16-1-12-15-16 2zm-16 1l16-1-12-14-17 0z"/><path class="c4" d="M886 2620l16 0-13-15-16 0zm-17-1l17 1-13-15-16-1z"/><path class="c5" d="M853 2618l16 1-12-15-16-1z"/><path class="c6" d="M837 2616l16 2-12-15-16-3z"/><path class="c7" d="M821 2613l16 3-12-16-17-3z"/><path class="c8" d="M805 2609l16 4-13-16-16-4z"/><path class="c9" d="M788 2604l17 5-13-16-16-5z"/><path class="c10" d="M772 2598l16 6-12-16-16-5z"/><path class="c11" d="M756 2592l16 6-12-15-16-7z"/><path class="c13" d="M740 2584l16 8-12-16-17-8z"/><path class="c14" d="M724 2576l16 8-13-16-16-9z"/><path class="c16" d="M707 2566l17 10-13-17-16-10z"/><path class="c18" d="M691 2555l16 11-12-17-16-11z"/><path class="c20" d="M675 2543l16 12-12-17-16-12z"/><path class="c22" d="M659 2530l16 13-12-17-17-14z"/><path class="c24" d="M643 2515l16 15-13-18-16-15z"/><path class="c27" d="M626 2499l17 16-13-18-16-16z"/><path class="c30" d="M610 2481l16 18-12-18-16-18z"/><path class="c28" d="M1417 2294l16-27-13-16-16 27z"/><path class="c26" d="M1400 2319l17-25-13-16-16 25z"/><path class="c23" d="M1384 2342l16-23-12-16-16 24z"/><path class="c21" d="M1368 2364l16-22-12-15-17 23z"/><path class="c19" d="M1352 2385l16-21-13-14-16 21z"/><path class="c17" d="M1336 2405l16-20-13-14-16 20z"/><path class="c15" d="M1319 2424l17-19-13-14-16 19z"/><path class="c13" d="M1303 2441l16-17-12-14-16 18z"/><path class="c12" d="M1287 2458l16-17-12-13-17 17z"/><path class="c10" d="M1271 2473l16-15-13-13-16 15z"/><path class="c9" d="M1255 2488l16-15-13-13-16 15z"/><path class="c8" d="M1238 2501l17-13-13-13-16 14z"/><path class="c7" d="M1222 2514l16-13-12-12-16 13z"/><path class="c6" d="M1206 2526l16-12-12-12-17 12z"/><path class="c5" d="M1190 2538l16-12-13-12-16 12z"/><path class="c4" d="M1174 2548l16-10-13-12-16 10z"/><path class="c3" d="M1157 2558l17-10-13-12-16 10zm-16 9l16-9-12-12-16 10z"/><path class="c2" d="M1125 2576l16-9-12-11-17 8zm-16 7l16-7-13-12-16 8z"/><path class="c1" d="M1093 2591l16-8-13-11-16 7zm-17 6l17-6-13-12-16 7zm-16 6l16-6-12-11-16 6zm-16 6l16-6-12-11-17 6zm-16 5l16-5-13-11-16 5zm-16 4l16-4-13-11-16 4zm-17 4l17-4-13-11-16 4zm-16 3l16-3-12-11-16 3zm-16 3l16-3-12-11-17 2zm-16 1l16-1-13-12-16 2z"/><path class="c2" d="M931 2631l16-2-13-11-16 1zm-17 0l17 0-13-12-16 1z"/><path class="c3" d="M898 2632l16-1-12-11-16 0zm-16-1l16 1-12-12-17-1z"/><path class="c4" d="M866 2630l16 1-13-12-16-1z"/><path class="c5" d="M850 2627l16 3-13-12-16-2z"/><path class="c6" d="M833 2625l17 2-13-11-16-3z"/><path class="c7" d="M817 2621l16 4-12-12-16-4z"/><path class="c8" d="M801 2617l16 4-12-12-17-5z"/><path class="c9" d="M785 2611l16 6-13-13-16-6z"/><path class="c10" d="M769 2605l16 6-13-13-16-6z"/><path class="c12" d="M752 2598l17 7-13-13-16-8z"/><path class="c13" d="M736 2589l16 9-12-14-16-8z"/><path class="c15" d="M720 2580l16 9-12-13-17-10z"/><path class="c17" d="M704 2569l16 11-13-14-16-11z"/><path class="c19" d="M688 2558l16 11-13-14-16-12z"/><path class="c21" d="M671 2545l17 13-13-15-16-13z"/><path class="c23" d="M655 2530l16 15-12-15-16-15z"/><path class="c26" d="M639 2515l16 15-12-15-17-16z"/><path class="c28" d="M623 2497l16 18-13-16-16-18z"/><path class="c27" d="M1429 2308l16-26-12-15-16 27z"/><path class="c24" d="M1413 2333l16-25-12-14-17 25z"/><path class="c22" d="M1397 2356l16-23-13-14-16 23z"/><path class="c20" d="M1381 2377l16-21-13-14-16 22z"/><path class="c18" d="M1364 2398l17-21-13-13-16 21z"/><path class="c16" d="M1348 2417l16-19-12-13-16 20z"/><path class="c14" d="M1332 2436l16-19-12-12-17 19z"/><path class="c12" d="M1316 2453l16-17-13-12-16 17z"/><path class="c11" d="M1300 2469l16-16-13-12-16 17z"/><path class="c9" d="M1283 2484l17-15-13-11-16 15z"/><path class="c8" d="M1267 2498l16-14-12-11-16 15z"/><path class="c7" d="M1251 2512l16-14-12-10-17 13z"/><path class="c6" d="M1235 2525l16-13-13-11-16 13z"/><path class="c5" d="M1219 2536l16-11-13-11-16 12z"/><path class="c4" d="M1202 2548l17-12-13-10-16 12z"/><path class="c3" d="M1186 2558l16-10-12-10-16 10zm-16 10l16-10-12-10-17 10z"/><path class="c2" d="M1154 2577l16-9-13-10-16 9zm-16 8l16-8-13-10-16 9z"/><path class="c1" d="M1121 2593l17-8-13-9-16 7zm-16 7l16-7-12-10-16 8z"/><path class="c0" d="M1089 2607l16-7-12-9-17 6zm-16 6l16-6-13-10-16 6zm-16 5l16-5-13-10-16 6zm-17 5l17-5-13-9-16 5zm-16 5l16-5-12-9-16 4zm-16 3l16-3-12-10-17 4zm-16 3l16-3-13-9-16 3zm-16 3l16-3-13-9-16 3z"/><path class="c1" d="M959 2639l17-2-13-9-16 1zm-16 1l16-1-12-10-16 2z"/><path class="c2" d="M927 2641l16-1-12-9-17 0zm-16 0l16 0-13-10-16 1z"/><path class="c3" d="M895 2641l16 0-13-9-16-1zm-17-1l17 1-13-10-16-1z"/><path class="c4" d="M862 2638l16 2-12-10-16-3z"/><path class="c5" d="M846 2635l16 3-12-11-17-2z"/><path class="c6" d="M830 2632l16 3-13-10-16-4z"/><path class="c7" d="M814 2627l16 5-13-11-16-4z"/><path class="c8" d="M797 2622l17 5-13-10-16-6z"/><path class="c9" d="M781 2616l16 6-12-11-16-6z"/><path class="c11" d="M765 2609l16 7-12-11-17-7z"/><path class="c12" d="M749 2601l16 8-13-11-16-9z"/><path class="c14" d="M733 2592l16 9-13-12-16-9z"/><path class="c16" d="M716 2582l17 10-13-12-16-11z"/><path class="c18" d="M700 2571l16 11-12-13-16-11z"/><path class="c20" d="M684 2558l16 13-12-13-17-13z"/><path class="c22" d="M668 2544l16 14-13-13-16-15z"/><path class="c24" d="M652 2529l16 15-13-14-16-15z"/><path class="c27" d="M635 2512l17 17-13-14-16-18z"/><path class="c26" d="M1442 2321l16-25-13-14-16 26z"/><path class="c24" d="M1425 2345l17-24-13-13-16 25z"/><path class="c21" d="M1409 2368l16-23-12-12-16 23z"/><path class="c19" d="M1393 2389l16-21-12-12-16 21z"/><path class="c17" d="M1377 2409l16-20-12-12-17 21z"/><path class="c15" d="M1361 2428l16-19-13-11-16 19z"/><path class="c13" d="M1344 2446l17-18-13-11-16 19z"/><path class="c12" d="M1328 2462l16-16-12-10-16 17z"/><path class="c10" d="M1312 2478l16-16-12-9-16 16z"/><path class="c9" d="M1296 2493l16-15-12-9-17 15z"/><path class="c8" d="M1280 2507l16-14-13-9-16 14z"/><path class="c7" d="M1264 2521l16-14-13-9-16 14z"/><path class="c5" d="M1247 2533l17-12-13-9-16 13zm-16 12l16-12-12-8-16 11z"/><path class="c4" d="M1215 2556l16-11-12-9-17 12z"/><path class="c3" d="M1199 2566l16-10-13-8-16 10z"/><path class="c2" d="M1183 2576l16-10-13-8-16 10zm-17 9l17-9-13-8-16 9z"/><path class="c1" d="M1150 2593l16-8-12-8-16 8zm-16 8l16-8-12-8-17 8z"/><path class="c0" d="M1118 2608l16-7-13-8-16 7zm-16 7l16-7-13-8-16 7zm-17 6l17-6-13-8-16 6zm-16 5l16-5-12-8-16 5zm-16 5l16-5-12-8-17 5zm-16 4l16-4-13-8-16 5zm-16 4l16-4-13-7-16 3zm-17 3l17-3-13-8-16 3zm-16 3l16-3-12-8-16 3zm-16 2l16-2-12-8-17 2z"/><path class="c1" d="M956 2648l16-1-13-8-16 1zm-16 1l16-1-13-8-16 1z"/><path class="c2" d="M923 2649l17 0-13-8-16 0zm-16 0l16 0-12-8-16 0z"/><path class="c3" d="M891 2648l16 1-12-8-17-1z"/><path class="c4" d="M875 2646l16 2-13-8-16-2z"/><path class="c5" d="M859 2643l16 3-13-8-16-3zm-17-3l17 3-13-8-16-3z"/><path class="c7" d="M826 2636l16 4-12-8-16-5z"/><path class="c8" d="M810 2631l16 5-12-9-17-5z"/><path class="c9" d="M794 2625l16 6-13-9-16-6z"/><path class="c10" d="M778 2619l16 6-13-9-16-7z"/><path class="c12" d="M761 2611l17 8-13-10-16-8z"/><path class="c13" d="M745 2603l16 8-12-10-16-9z"/><path class="c15" d="M729 2593l16 10-12-11-17-10z"/><path class="c17" d="M713 2582l16 11-13-11-16-11z"/><path class="c19" d="M696 2570l17 12-13-11-16-13z"/><path class="c21" d="M680 2557l16 13-12-12-16-14z"/><path class="c24" d="M664 2542l16 15-12-13-16-15z"/><path class="c26" d="M648 2526l16 16-12-13-17-17z"/><path class="c25" d="M1454 2333l16-24-12-13-16 25z"/><path class="c23" d="M1438 2356l16-23-12-12-17 24z"/><path class="c21" d="M1422 2377l16-21-13-11-16 23z"/><path class="c18" d="M1406 2398l16-21-13-9-16 21z"/><path class="c16" d="M1389 2417l17-19-13-9-16 20z"/><path class="c15" d="M1373 2435l16-18-12-8-16 19z"/><path class="c13" d="M1357 2453l16-18-12-7-17 18z"/><path class="c11" d="M1341 2469l16-16-13-7-16 16z"/><path class="c10" d="M1325 2484l16-15-13-7-16 16z"/><path class="c9" d="M1308 2499l17-15-13-6-16 15z"/><path class="c8" d="M1292 2513l16-14-12-6-16 14z"/><path class="c6" d="M1276 2526l16-13-12-6-16 14z"/><path class="c5" d="M1260 2538l16-12-12-5-17 12z"/><path class="c4" d="M1244 2550l16-12-13-5-16 12zm-17 11l17-11-13-5-16 11z"/><path class="c3" d="M1211 2571l16-10-12-5-16 10z"/><path class="c2" d="M1195 2580l16-9-12-5-16 10zm-16 9l16-9-12-4-17 9z"/><path class="c1" d="M1163 2598l16-9-13-4-16 8zm-17 8l17-8-13-5-16 8z"/><path class="c0" d="M1130 2613l16-7-12-5-16 7zm-16 7l16-7-12-5-16 7zm-16 6l16-6-12-5-17 6zm-16 5l16-5-13-5-16 5zm-17 5l17-5-13-5-16 5zm-16 5l16-5-12-5-16 4zm-16 3l16-3-12-6-16 4zm-16 3l16-3-12-5-17 3zm-16 3l16-3-13-5-16 3zm-17 2l17-2-13-5-16 2z"/><path class="c1" d="M968 2653l16-1-12-5-16 1zm-16 1l16-1-12-5-16 1z"/><path class="c2" d="M936 2654l16 0-12-5-17 0zm-16 0l16 0-13-5-16 0z"/><path class="c3" d="M903 2653l17 1-13-5-16-1z"/><path class="c4" d="M887 2651l16 2-12-5-16-2zm-16-3l16 3-12-5-16-3z"/><path class="c5" d="M855 2645l16 3-12-5-17-3z"/><path class="c6" d="M839 2642l16 3-13-5-16-4z"/><path class="c8" d="M822 2637l17 5-13-6-16-5z"/><path class="c9" d="M806 2632l16 5-12-6-16-6z"/><path class="c10" d="M790 2625l16 7-12-7-16-6z"/><path class="c11" d="M774 2618l16 7-12-6-17-8z"/><path class="c13" d="M758 2610l16 8-13-7-16-8z"/><path class="c15" d="M741 2601l17 9-13-7-16-10z"/><path class="c16" d="M725 2591l16 10-12-8-16-11z"/><path class="c18" d="M709 2580l16 11-12-9-17-12z"/><path class="c21" d="M693 2567l16 13-13-10-16-13z"/><path class="c23" d="M677 2554l16 13-13-10-16-15z"/><path class="c25" d="M660 2539l17 15-13-12-16-16z"/><path class="c24" d="M1467 2345l16-22-13-14-16 24z"/><path class="c22" d="M1451 2366l16-21-13-12-16 23z"/><path class="c20" d="M1434 2386l17-20-13-10-16 21z"/><path class="c18" d="M1418 2405l16-19-12-9-16 21z"/><path class="c16" d="M1402 2423l16-18-12-7-17 19z"/><path class="c15" d="M1386 2441l16-18-13-6-16 18z"/><path class="c13" d="M1370 2457l16-16-13-6-16 18z"/><path class="c12" d="M1353 2473l17-16-13-4-16 16z"/><path class="c10" d="M1337 2487l16-14-12-4-16 15z"/><path class="c9" d="M1321 2502l16-15-12-3-17 15z"/><path class="c8" d="M1305 2515l16-13-13-3-16 14z"/><path class="c7" d="M1289 2528l16-13-13-2-16 13z"/><path class="c6" d="M1272 2540l17-12-13-2-16 12z"/><path class="c5" d="M1256 2551l16-11-12-2-16 12z"/><path class="c4" d="M1240 2562l16-11-12-1-17 11z"/><path class="c3" d="M1224 2572l16-10-13-1-16 10zm-16 10l16-10-13-1-16 9z"/><path class="c2" d="M1191 2591l17-9-13-2-16 9z"/><path class="c1" d="M1175 2600l16-9-12-2-16 9zm-16 8l16-8-12-2-17 8zm-16 7l16-7-13-2-16 7z"/><path class="c0" d="M1127 2622l16-7-13-2-16 7zm-17 7l17-7-13-2-16 6zm-16 5l16-5-12-3-16 5zm-16 5l16-5-12-3-17 5zm-16 5l16-5-13-3-16 5zm-16 3l16-3-13-3-16 3zm-17 3l17-3-13-3-16 3zm-16 2l16-2-12-3-16 3z"/><path class="c1" d="M997 2654l16-2-12-2-17 2zm-16 1l16-1-13-2-16 1zm-16 1l16-1-13-2-16 1z"/><path class="c2" d="M948 2656l17 0-13-2-16 0z"/><path class="c3" d="M932 2655l16 1-12-2-16 0zm-16-1l16 1-12-1-17-1z"/><path class="c4" d="M900 2652l16 2-13-1-16-2z"/><path class="c5" d="M884 2650l16 2-13-1-16-3z"/><path class="c6" d="M867 2647l17 3-13-2-16-3z"/><path class="c7" d="M851 2644l16 3-12-2-16-3z"/><path class="c8" d="M835 2640l16 4-12-2-17-5z"/><path class="c9" d="M819 2635l16 5-13-3-16-5z"/><path class="c10" d="M803 2629l16 6-13-3-16-7z"/><path class="c12" d="M786 2623l17 6-13-4-16-7z"/><path class="c13" d="M770 2616l16 7-12-5-16-8z"/><path class="c15" d="M754 2607l16 9-12-6-17-9z"/><path class="c16" d="M738 2599l16 8-13-6-16-10z"/><path class="c18" d="M722 2589l16 10-13-8-16-11z"/><path class="c20" d="M705 2578l17 11-13-9-16-13z"/><path class="c22" d="M689 2566l16 12-12-11-16-13z"/><path class="c24" d="M673 2553l16 13-12-12-17-15zm806-197l17-20-13-13-16 22z"/><path class="c22" d="M1463 2375l16-19-12-11-16 21z"/><path class="c20" d="M1447 2393l16-18-12-9-17 20z"/><path class="c18" d="M1431 2410l16-17-13-7-16 19z"/><path class="c16" d="M1415 2427l16-17-13-5-16 18z"/><path class="c15" d="M1398 2443l17-16-13-4-16 18z"/><path class="c13" d="M1382 2458l16-15-12-2-16 16z"/><path class="c12" d="M1366 2473l16-15-12-1-17 16z"/><path class="c11" d="M1350 2487l16-14-13 0-16 14z"/><path class="c10" d="M1334 2500l16-13-13 0-16 15z"/><path class="c8" d="M1317 2513l17-13-13 2-16 13z"/><path class="c7" d="M1301 2526l16-13-12 2-16 13z"/><path class="c6" d="M1285 2538l16-12-12 2-17 12zm-16 11l16-11-13 2-16 11z"/><path class="c5" d="M1253 2560l16-11-13 2-16 11z"/><path class="c4" d="M1236 2571l17-11-13 2-16 10z"/><path class="c3" d="M1220 2581l16-10-12 1-16 10zm-16 9l16-9-12 1-17 9z"/><path class="c2" d="M1188 2599l16-9-13 1-16 9zm-16 9l16-9-13 1-16 8z"/><path class="c1" d="M1155 2616l17-8-13 0-16 7zm-16 7l16-7-12-1-16 7zm-16 7l16-7-12-1-17 7z"/><path class="c0" d="M1107 2636l16-6-13-1-16 5zm-16 5l16-5-13-2-16 5zm-17 4l17-4-13-2-16 5zm-16 4l16-4-12-1-16 3z"/><path class="c1" d="M1042 2651l16-2-12-2-17 3zm-16 2l16-2-13-1-16 2zm-16 1l16-1-13-1-16 2z"/><path class="c2" d="M993 2655l17-1-13 0-16 1zm-16 0l16 0-12 0-16 1z"/><path class="c3" d="M961 2654l16 1-12 1-17 0zm-16 0l16 0-13 2-16-1z"/><path class="c4" d="M929 2652l16 2-13 1-16-1z"/><path class="c5" d="M912 2650l17 2-13 2-16-2z"/><path class="c6" d="M896 2648l16 2-12 2-16-2zm-16-3l16 3-12 2-17-3z"/><path class="c7" d="M864 2642l16 3-13 2-16-3z"/><path class="c8" d="M848 2638l16 4-13 2-16-4z"/><path class="c10" d="M831 2634l17 4-13 2-16-5z"/><path class="c11" d="M815 2629l16 5-12 1-16-6z"/><path class="c12" d="M799 2624l16 5-12 0-17-6z"/><path class="c13" d="M783 2618l16 6-13-1-16-7z"/><path class="c15" d="M767 2611l16 7-13-2-16-9z"/><path class="c16" d="M750 2603l17 8-13-4-16-8z"/><path class="c18" d="M734 2595l16 8-12-4-16-10z"/><path class="c20" d="M718 2586l16 9-12-6-17-11z"/><path class="c22" d="M702 2577l16 9-13-8-16-12z"/><path class="c24" d="M686 2566l16 11-13-11-16-13z"/><path class="c23" d="M1492 2361l16-17-12-8-17 20z"/><path class="c21" d="M1476 2378l16-17-13-5-16 19z"/><path class="c20" d="M1459 2394l17-16-13-3-16 18z"/><path class="c18" d="M1443 2409l16-15-12-1-16 17z"/><path class="c17" d="M1427 2424l16-15-12 1-16 17z"/><path class="c16" d="M1411 2439l16-15-12 3-17 16z"/><path class="c14" d="M1395 2453l16-14-13 4-16 15z"/><path class="c13" d="M1378 2467l17-14-13 5-16 15z"/><path class="c12" d="M1362 2480l16-13-12 6-16 14z"/><path class="c11" d="M1346 2493l16-13-12 7-16 13z"/><path class="c10" d="M1330 2506l16-13-12 7-17 13z"/><path class="c9" d="M1314 2518l16-12-13 7-16 13z"/><path class="c8" d="M1297 2530l17-12-13 8-16 12z"/><path class="c7" d="M1281 2542l16-12-12 8-16 11z"/><path class="c6" d="M1265 2553l16-11-12 7-16 11z"/><path class="c5" d="M1249 2564l16-11-12 7-17 11zm-16 11l16-11-13 7-16 10z"/><path class="c4" d="M1216 2585l17-10-13 6-16 9z"/><path class="c3" d="M1200 2595l16-10-12 5-16 9zm-16 9l16-9-12 4-16 9z"/><path class="c2" d="M1168 2613l16-9-12 4-17 8zm-16 8l16-8-13 3-16 7z"/><path class="c1" d="M1135 2628l17-7-13 2-16 7zm-16 7l16-7-12 2-16 6zm-16 5l16-5-12 1-16 5zm-16 4l16-4-12 1-17 4zm-16 3l16-3-13 1-16 4zm-17 2l17-2-13 2-16 2z"/><path class="c2" d="M1038 2650l16-1-12 2-16 2zm-16 0l16 0-12 3-16 1z"/><path class="c3" d="M1006 2650l16 0-12 4-17 1zm-16-1l16 1-13 5-16 0z"/><path class="c4" d="M973 2648l17 1-13 6-16-1z"/><path class="c5" d="M957 2647l16 1-12 6-16 0zm-16-2l16 2-12 7-16-2z"/><path class="c6" d="M925 2643l16 2-12 7-17-2z"/><path class="c7" d="M909 2641l16 2-13 7-16-2z"/><path class="c8" d="M892 2638l17 3-13 7-16-3z"/><path class="c9" d="M876 2635l16 3-12 7-16-3z"/><path class="c10" d="M860 2631l16 4-12 7-16-4z"/><path class="c11" d="M844 2627l16 4-12 7-17-4z"/><path class="c12" d="M828 2623l16 4-13 7-16-5z"/><path class="c13" d="M811 2619l17 4-13 6-16-5z"/><path class="c14" d="M795 2614l16 5-12 5-16-6z"/><path class="c16" d="M779 2608l16 6-12 4-16-7z"/><path class="c17" d="M763 2602l16 6-12 3-17-8z"/><path class="c18" d="M747 2596l16 6-13 1-16-8z"/><path class="c20" d="M730 2589l17 7-13-1-16-9z"/><path class="c21" d="M714 2582l16 7-12-3-16-9z"/><path class="c23" d="M698 2574l16 8-12-5-16-11z"/><path class="c24" d="M1504 2358l17-14-13 0-16 17z"/><path class="c22" d="M1488 2372l16-14-12 3-16 17z"/><path class="c21" d="M1472 2386l16-14-12 6-17 16z"/><path class="c20" d="M1456 2400l16-14-13 8-16 15z"/><path class="c18" d="M1440 2413l16-13-13 9-16 15z"/><path class="c17" d="M1423 2426l17-13-13 11-16 15z"/><path class="c16" d="M1407 2439l16-13-12 13-16 14z"/><path class="c15" d="M1391 2452l16-13-12 14-17 14z"/><path class="c14" d="M1375 2465l16-13-13 15-16 13z"/><path class="c13" d="M1359 2478l16-13-13 15-16 13z"/><path class="c12" d="M1342 2490l17-12-13 15-16 13z"/><path class="c11" d="M1326 2502l16-12-12 16-16 12z"/><path class="c10" d="M1310 2514l16-12-12 16-17 12z"/><path class="c9" d="M1294 2526l16-12-13 16-16 12z"/><path class="c8" d="M1278 2538l16-12-13 16-16 11z"/><path class="c7" d="M1261 2549l17-11-13 15-16 11zm-16 12l16-12-12 15-16 11z"/><path class="c6" d="M1229 2571l16-10-12 14-17 10z"/><path class="c5" d="M1213 2582l16-11-13 14-16 10z"/><path class="c4" d="M1197 2592l16-10-13 13-16 9zm-17 9l17-9-13 12-16 9z"/><path class="c3" d="M1164 2610l16-9-12 12-16 8zm-16 8l16-8-12 11-17 7zm-16 7l16-7-13 10-16 7z"/><path class="c2" d="M1116 2630l16-5-13 10-16 5zm-17 4l17-4-13 10-16 4z"/><path class="c3" d="M1083 2636l16-2-12 10-16 3zm-16 2l16-2-12 11-17 2zm-16 0l16 0-13 11-16 1z"/><path class="c4" d="M1035 2638l16 0-13 12-16 0zm-17-1l17 1-13 12-16 0z"/><path class="c5" d="M1002 2636l16 1-12 13-16-1z"/><path class="c6" d="M986 2634l16 2-12 13-17-1z"/><path class="c7" d="M970 2632l16 2-13 14-16-1zm-16-2l16 2-13 15-16-2z"/><path class="c8" d="M937 2628l17 2-13 15-16-2z"/><path class="c9" d="M921 2625l16 3-12 15-16-2z"/><path class="c10" d="M905 2622l16 3-12 16-17-3z"/><path class="c11" d="M889 2619l16 3-13 16-16-3z"/><path class="c12" d="M873 2616l16 3-13 16-16-4z"/><path class="c13" d="M856 2612l17 4-13 15-16-4z"/><path class="c14" d="M840 2609l16 3-12 15-16-4z"/><path class="c15" d="M824 2605l16 4-12 14-17-4z"/><path class="c16" d="M808 2601l16 4-13 14-16-5z"/><path class="c17" d="M792 2597l16 4-13 13-16-6z"/><path class="c18" d="M775 2593l17 4-13 11-16-6z"/><path class="c20" d="M759 2588l16 5-12 9-16-6z"/><path class="c21" d="M743 2584l16 4-12 8-17-7z"/><path class="c22" d="M727 2579l16 5-13 5-16-7z"/><path class="c24" d="M711 2574l16 5-13 3-16-8z"/><path class="c25" d="M1517 2347l16-12-12 9-17 14z"/><path class="c24" d="M1501 2360l16-13-13 11-16 14z"/><path class="c23" d="M1485 2372l16-12-13 12-16 14z"/><path class="c22" d="M1468 2385l17-13-13 14-16 14z"/><path class="c21" d="M1452 2397l16-12-12 15-16 13z"/><path class="c20" d="M1436 2410l16-13-12 16-17 13z"/><path class="c19" d="M1420 2422l16-12-13 16-16 13z"/><path class="c18" d="M1404 2434l16-12-13 17-16 13z"/><path class="c17" d="M1387 2446l17-12-13 18-16 13z"/><path class="c16" d="M1371 2459l16-13-12 19-16 13z"/><path class="c15" d="M1355 2471l16-12-12 19-17 12z"/><path class="c14" d="M1339 2483l16-12-13 19-16 12z"/><path class="c13" d="M1323 2495l16-12-13 19-16 12z"/><path class="c12" d="M1306 2507l17-12-13 19-16 12z"/><path class="c11" d="M1290 2518l16-11-12 19-16 12z"/><path class="c10" d="M1274 2530l16-12-12 20-17 11z"/><path class="c9" d="M1258 2541l16-11-13 19-16 12zm-16 11l16-11-13 20-16 10z"/><path class="c8" d="M1225 2563l17-11-13 19-16 11z"/><path class="c7" d="M1209 2574l16-11-12 19-16 10z"/><path class="c6" d="M1193 2584l16-10-12 18-17 9zm-16 9l16-9-13 17-16 9z"/><path class="c5" d="M1161 2601l16-8-13 17-16 8zm-17 7l17-7-13 17-16 7zm-16 5l16-5-12 17-16 5zm-16 4l16-4-12 17-17 4zm-16 2l16-2-13 17-16 2zm-16 1l16-1-13 17-16 2z"/><path class="c6" d="M1063 2620l17 0-13 18-16 0zm-16 0l16 0-12 18-16 0z"/><path class="c7" d="M1031 2619l16 1-12 18-17-1z"/><path class="c8" d="M1015 2617l16 2-13 18-16-1z"/><path class="c9" d="M999 2615l16 2-13 19-16-2zm-17-2l17 2-13 19-16-2z"/><path class="c10" d="M966 2610l16 3-12 19-16-2z"/><path class="c11" d="M950 2608l16 2-12 20-17-2z"/><path class="c12" d="M934 2605l16 3-13 20-16-3z"/><path class="c13" d="M918 2602l16 3-13 20-16-3z"/><path class="c14" d="M901 2600l17 2-13 20-16-3z"/><path class="c15" d="M885 2597l16 3-12 19-16-3z"/><path class="c16" d="M869 2594l16 3-12 19-17-4z"/><path class="c17" d="M853 2591l16 3-13 18-16-3z"/><path class="c18" d="M837 2588l16 3-13 18-16-4z"/><path class="c19" d="M820 2584l17 4-13 17-16-4z"/><path class="c20" d="M804 2581l16 3-12 17-16-4z"/><path class="c21" d="M788 2578l16 3-12 16-17-4z"/><path class="c22" d="M772 2575l16 3-13 15-16-5z"/><path class="c23" d="M756 2571l16 4-13 13-16-4z"/><path class="c24" d="M739 2568l17 3-13 13-16-5z"/><path class="c25" d="M723 2565l16 3-12 11-16-5z"/><path class="c27" d="M1529 2330l17-12-13 17-16 12z"/><path class="c26" d="M1513 2342l16-12-12 17-16 13z"/><path class="c25" d="M1497 2354l16-12-12 18-16 12zm-16 12l16-12-12 18-17 13z"/><path class="c24" d="M1465 2379l16-13-13 19-16 12z"/><path class="c23" d="M1448 2391l17-12-13 18-16 13z"/><path class="c22" d="M1432 2403l16-12-12 19-16 12z"/><path class="c21" d="M1416 2415l16-12-12 19-16 12z"/><path class="c20" d="M1400 2427l16-12-12 19-17 12z"/><path class="c19" d="M1384 2439l16-12-13 19-16 13z"/><path class="c18" d="M1367 2450l17-11-13 20-16 12z"/><path class="c17" d="M1351 2462l16-12-12 21-16 12z"/><path class="c16" d="M1335 2474l16-12-12 21-16 12z"/><path class="c15" d="M1319 2485l16-11-12 21-17 12z"/><path class="c14" d="M1303 2497l16-12-13 22-16 11zm-17 11l17-11-13 21-16 12z"/><path class="c13" d="M1270 2519l16-11-12 22-16 11z"/><path class="c12" d="M1254 2530l16-11-12 22-16 11z"/><path class="c11" d="M1238 2541l16-11-12 22-17 11z"/><path class="c10" d="M1222 2551l16-10-13 22-16 11zm-17 10l17-10-13 23-16 10z"/><path class="c9" d="M1189 2569l16-8-12 23-16 9zm-16 8l16-8-12 24-16 8z"/><path class="c8" d="M1157 2584l16-7-12 24-17 7zm-16 6l16-6-13 24-16 5zm-17 3l17-3-13 23-16 4zm-16 3l16-3-12 24-16 2z"/><path class="c9" d="M1092 2597l16-1-12 23-16 1zm-16 0l16 0-12 23-17 0z"/><path class="c10" d="M1060 2597l16 0-13 23-16 0zm-17-1l17 1-13 23-16-1z"/><path class="c11" d="M1027 2595l16 1-12 23-16-2z"/><path class="c12" d="M1011 2593l16 2-12 22-16-2z"/><path class="c13" d="M995 2591l16 2-12 22-17-2z"/><path class="c14" d="M979 2589l16 2-13 22-16-3zm-17-2l17 2-13 21-16-2z"/><path class="c15" d="M946 2584l16 3-12 21-16-3z"/><path class="c16" d="M930 2582l16 2-12 21-16-3z"/><path class="c17" d="M914 2579l16 3-12 20-17-2z"/><path class="c18" d="M898 2577l16 2-13 21-16-3z"/><path class="c19" d="M881 2574l17 3-13 20-16-3z"/><path class="c20" d="M865 2571l16 3-12 20-16-3z"/><path class="c21" d="M849 2568l16 3-12 20-16-3z"/><path class="c22" d="M833 2565l16 3-12 20-17-4z"/><path class="c23" d="M817 2563l16 2-13 19-16-3z"/><path class="c24" d="M800 2560l17 3-13 18-16-3z"/><path class="c25" d="M784 2557l16 3-12 18-16-3zm-16-3l16 3-12 18-16-4z"/><path class="c26" d="M752 2551l16 3-12 17-17-3z"/><path class="c27" d="M736 2548l16 3-13 17-16-3z"/><path class="c30" d="M1542 2310l16-13-12 21-17 12z"/><path class="c29" d="M1526 2323l16-13-13 20-16 12z"/><path class="c28" d="M1510 2336l16-13-13 19-16 12z"/><path class="c27" d="M1493 2349l17-13-13 18-16 12zm-16 12l16-12-12 17-16 13z"/><path class="c26" d="M1461 2374l16-13-12 18-17 12z"/><path class="c25" d="M1445 2386l16-12-13 17-16 12z"/><path class="c24" d="M1429 2398l16-12-13 17-16 12z"/><path class="c23" d="M1412 2410l17-12-13 17-16 12z"/><path class="c22" d="M1396 2422l16-12-12 17-16 12z"/><path class="c21" d="M1380 2433l16-11-12 17-17 11z"/><path class="c20" d="M1364 2445l16-12-13 17-16 12z"/><path class="c19" d="M1348 2456l16-11-13 17-16 12z"/><path class="c18" d="M1331 2467l17-11-13 18-16 11zm-16 11l16-11-12 18-16 12z"/><path class="c17" d="M1299 2489l16-11-12 19-17 11z"/><path class="c16" d="M1283 2499l16-10-13 19-16 11z"/><path class="c15" d="M1267 2509l16-10-13 20-16 11zm-17 10l17-10-13 21-16 11z"/><path class="c14" d="M1234 2529l16-10-12 22-16 10z"/><path class="c13" d="M1218 2538l16-9-12 22-17 10zm-16 8l16-8-13 23-16 8z"/><path class="c12" d="M1186 2553l16-7-13 23-16 8zm-17 7l17-7-13 24-16 7zm-16 5l16-5-12 24-16 6zm-16 4l16-4-12 25-17 3zm-16 3l16-3-13 24-16 3zm-16 2l16-2-13 24-16 1z"/><path class="c13" d="M1088 2574l17 0-13 23-16 0zm-16 1l16-1-12 23-16 0z"/><path class="c14" d="M1056 2574l16 1-12 22-17-1z"/><path class="c15" d="M1040 2574l16 0-13 22-16-1zm-16-1l16 1-13 21-16-2z"/><path class="c16" d="M1007 2571l17 2-13 20-16-2z"/><path class="c17" d="M991 2570l16 1-12 20-16-2z"/><path class="c18" d="M975 2568l16 2-12 19-17-2zm-16-2l16 2-13 19-16-3z"/><path class="c19" d="M943 2564l16 2-13 18-16-2z"/><path class="c20" d="M926 2562l17 2-13 18-16-3z"/><path class="c21" d="M910 2560l16 2-12 17-16-2z"/><path class="c22" d="M894 2557l16 3-12 17-17-3z"/><path class="c23" d="M878 2555l16 2-13 17-16-3z"/><path class="c24" d="M862 2552l16 3-13 16-16-3z"/><path class="c25" d="M845 2549l17 3-13 16-16-3z"/><path class="c26" d="M829 2545l16 4-12 16-16-2z"/><path class="c27" d="M813 2542l16 3-12 18-17-3zm-16-3l16 3-13 18-16-3z"/><path class="c28" d="M781 2535l16 4-13 18-16-3z"/><path class="c29" d="M764 2531l17 4-13 19-16-3z"/><path class="c30" d="M748 2527l16 4-12 20-16-3z"/><path class="c33" d="M1555 2298l16-16-13 15-16 13z"/><path class="c32" d="M1538 2314l17-16-13 12-16 13z"/><path class="c31" d="M1522 2329l16-15-12 9-16 13z"/><path class="c30" d="M1506 2343l16-14-12 7-17 13z"/><path class="c29" d="M1490 2357l16-14-13 6-16 12z"/><path class="c28" d="M1474 2370l16-13-13 4-16 13z"/><path class="c27" d="M1457 2383l17-13-13 4-16 12z"/><path class="c26" d="M1441 2395l16-12-12 3-16 12z"/><path class="c25" d="M1425 2407l16-12-12 3-17 12z"/><path class="c24" d="M1409 2418l16-11-13 3-16 12z"/><path class="c23" d="M1393 2429l16-11-13 4-16 11z"/><path class="c22" d="M1376 2440l17-11-13 4-16 12z"/><path class="c21" d="M1360 2450l16-10-12 5-16 11zm-16 10l16-10-12 6-17 11z"/><path class="c20" d="M1328 2470l16-10-13 7-16 11z"/><path class="c19" d="M1312 2479l16-9-13 8-16 11zm-17 10l17-10-13 10-16 10z"/><path class="c18" d="M1279 2498l16-9-12 10-16 10z"/><path class="c17" d="M1263 2506l16-8-12 11-17 10zm-16 8l16-8-13 13-16 10z"/><path class="c16" d="M1231 2522l16-8-13 15-16 9zm-17 7l17-7-13 16-16 8zm-16 7l16-7-12 17-16 7z"/><path class="c15" d="M1182 2542l16-6-12 17-17 7zm-16 5l16-5-13 18-16 5zm-16 4l16-4-13 18-16 4zm-17 3l17-3-13 18-16 3z"/><path class="c16" d="M1117 2557l16-3-12 18-16 2zm-16 2l16-2-12 17-17 0zm-16 1l16-1-13 15-16 1z"/><path class="c17" d="M1069 2561l16-1-13 15-16-1zm-17 1l17-1-13 13-16 0z"/><path class="c18" d="M1036 2562l16 0-12 12-16-1z"/><path class="c19" d="M1020 2562l16 0-12 11-17-2zm-16 0l16 0-13 9-16-1z"/><path class="c20" d="M988 2561l16 1-13 8-16-2z"/><path class="c21" d="M971 2561l17 0-13 7-16-2zm-16-2l16 2-12 5-16-2z"/><path class="c22" d="M939 2558l16 1-12 5-17-2z"/><path class="c23" d="M923 2556l16 2-13 4-16-2z"/><path class="c24" d="M907 2554l16 2-13 4-16-3z"/><path class="c25" d="M890 2551l17 3-13 3-16-2z"/><path class="c26" d="M874 2548l16 3-12 4-16-3z"/><path class="c27" d="M858 2545l16 3-12 4-17-3z"/><path class="c28" d="M842 2541l16 4-13 4-16-4z"/><path class="c29" d="M826 2537l16 4-13 4-16-3z"/><path class="c30" d="M809 2531l17 6-13 5-16-3z"/><path class="c31" d="M793 2526l16 5-12 8-16-4z"/><path class="c32" d="M777 2519l16 7-12 9-17-4z"/><path class="c33" d="M761 2512l16 7-13 12-16-4z"/><path class="c36" d="M1567 2289l16-21-12 14-16 16z"/><path class="c34" d="M1551 2309l16-20-12 9-17 16z"/><path class="c32" d="M1535 2327l16-18-13 5-16 15z"/><path class="c31" d="M1519 2343l16-16-13 2-16 14z"/><path class="c30" d="M1502 2358l17-15-13 0-16 14z"/><path class="c29" d="M1486 2372l16-14-12-1-16 13z"/><path class="c27" d="M1470 2385l16-13-12-2-17 13z"/><path class="c26" d="M1454 2397l16-12-13-2-16 12zm-16 11l16-11-13-2-16 12z"/><path class="c25" d="M1421 2419l17-11-13-1-16 11z"/><path class="c24" d="M1405 2429l16-10-12-1-16 11z"/><path class="c23" d="M1389 2438l16-9-12 0-17 11zm-16 10l16-10-13 2-16 10z"/><path class="c22" d="M1356 2456l17-8-13 2-16 10z"/><path class="c21" d="M1340 2465l16-9-12 4-16 10zm-16 8l16-8-12 5-16 9z"/><path class="c20" d="M1308 2481l16-8-12 6-17 10zm-16 7l16-7-13 8-16 9z"/><path class="c19" d="M1276 2495l16-7-13 10-16 8zm-17 7l17-7-13 11-16 8zm-16 7l16-7-12 12-16 8z"/><path class="c18" d="M1227 2515l16-6-12 13-17 7zm-16 6l16-6-13 14-16 7zm-17 5l17-5-13 15-16 6zm-16 5l16-5-12 16-16 5zm-16 4l16-4-12 16-16 4zm-16 4l16-4-12 16-17 3zm-16 3l16-3-13 15-16 3zm-16 3l16-3-13 15-16 2z"/><path class="c19" d="M1097 2548l17-3-13 14-16 1zm-16 3l16-3-12 12-16 1zm-16 2l16-2-12 10-17 1z"/><path class="c20" d="M1049 2554l16-1-13 9-16 0zm-17 2l17-2-13 8-16 0z"/><path class="c21" d="M1016 2557l16-1-12 6-16 0zm-16 1l16-1-12 5-16-1z"/><path class="c22" d="M984 2558l16 0-12 3-17 0z"/><path class="c23" d="M968 2558l16 0-13 3-16-2zm-17-1l17 1-13 1-16-1z"/><path class="c24" d="M935 2557l16 0-12 1-16-2z"/><path class="c25" d="M919 2555l16 2-12-1-16-2z"/><path class="c26" d="M903 2553l16 2-12-1-17-3zm-16-3l16 3-13-2-16-3z"/><path class="c27" d="M870 2546l17 4-13-2-16-3z"/><path class="c29" d="M854 2542l16 4-12-1-16-4z"/><path class="c30" d="M838 2536l16 6-12-1-16-4z"/><path class="c31" d="M822 2529l16 7-12 1-17-6z"/><path class="c32" d="M806 2520l16 9-13 2-16-5z"/><path class="c34" d="M790 2510l16 10-13 6-16-7z"/><path class="c36" d="M773 2498l17 12-13 9-16-7z"/><path class="c38" d="M1580 2278l16-25-13 15-16 21z"/><path class="c36" d="M1563 2301l17-23-13 11-16 20z"/><path class="c34" d="M1547 2321l16-20-12 8-16 18z"/><path class="c32" d="M1531 2339l16-18-12 6-16 16z"/><path class="c31" d="M1515 2354l16-15-12 4-17 15z"/><path class="c29" d="M1499 2369l16-15-13 4-16 14z"/><path class="c28" d="M1482 2381l17-12-13 3-16 13z"/><path class="c27" d="M1466 2393l16-12-12 4-16 12z"/><path class="c26" d="M1450 2404l16-11-12 4-16 11zm-16 10l16-10-12 4-17 11z"/><path class="c25" d="M1418 2423l16-9-13 5-16 10z"/><path class="c24" d="M1401 2432l17-9-13 6-16 9zm-16 8l16-8-12 6-16 10z"/><path class="c23" d="M1369 2448l16-8-12 8-17 8zm-16 8l16-8-13 8-16 9zm-16 7l16-7-13 9-16 8z"/><path class="c22" d="M1320 2469l17-6-13 10-16 8zm-16 7l16-7-12 12-16 7zm-16 6l16-6-12 12-16 7z"/><path class="c21" d="M1272 2488l16-6-12 13-17 7zm-16 6l16-6-13 14-16 7zm-17 6l17-6-13 15-16 6zm-16 5l16-5-12 15-16 6zm-16 5l16-5-12 16-17 5zm-16 5l16-5-13 16-16 5zm-16 4l16-4-13 16-16 4zm-17 4l17-4-13 16-16 4zm-16 4l16-4-12 16-16 3zm-16 4l16-4-12 15-16 3zm-16 3l16-3-12 14-17 3zm-16 3l16-3-13 14-16 3z"/><path class="c22" d="M1077 2540l17-3-13 14-16 2zm-16 3l16-3-12 13-16 1zm-16 2l16-2-12 11-17 2z"/><path class="c23" d="M1029 2548l16-3-13 11-16 1zm-16 1l16-1-13 9-16 1zm-17 2l17-2-13 9-16 0z"/><path class="c24" d="M980 2552l16-1-12 7-16 0zm-16 0l16 0-12 6-17-1z"/><path class="c25" d="M948 2552l16 0-13 5-16 0z"/><path class="c26" d="M932 2551l16 1-13 5-16-2zm-17-1l17 1-13 4-16-2z"/><path class="c27" d="M899 2547l16 3-12 3-16-3z"/><path class="c28" d="M883 2543l16 4-12 3-17-4z"/><path class="c29" d="M867 2538l16 5-13 3-16-4z"/><path class="c31" d="M851 2532l16 6-13 4-16-6z"/><path class="c32" d="M834 2523l17 9-13 4-16-7z"/><path class="c34" d="M818 2513l16 10-12 6-16-9z"/><path class="c36" d="M802 2499l16 14-12 7-16-10z"/><path class="c38" d="M786 2483l16 16-12 11-17-12z"/><path class="c40" d="M1592 2264l16-28-12 17-16 25z"/><path class="c38" d="M1576 2288l16-24-12 14-17 23z"/><path class="c36" d="M1560 2309l16-21-13 13-16 20z"/><path class="c34" d="M1544 2327l16-18-13 12-16 18z"/><path class="c32" d="M1527 2344l17-17-13 12-16 15z"/><path class="c31" d="M1511 2358l16-14-12 10-16 15z"/><path class="c30" d="M1495 2371l16-13-12 11-17 12z"/><path class="c29" d="M1479 2382l16-11-13 10-16 12z"/><path class="c28" d="M1463 2393l16-11-13 11-16 11z"/><path class="c27" d="M1446 2402l17-9-13 11-16 10zm-16 9l16-9-12 12-16 9z"/><path class="c26" d="M1414 2419l16-8-12 12-17 9zm-16 8l16-8-13 13-16 8z"/><path class="c25" d="M1382 2434l16-7-13 13-16 8zm-17 7l17-7-13 14-16 8zm-16 7l16-7-12 15-16 7zm-16 6l16-6-12 15-17 6z"/><path class="c24" d="M1317 2460l16-6-13 15-16 7zm-16 6l16-6-13 16-16 6zm-17 6l17-6-13 16-16 6zm-16 5l16-5-12 16-16 6zm-16 6l16-6-12 17-17 6zm-16 5l16-5-13 17-16 5zm-16 5l16-5-13 17-16 5zm-17 4l17-4-13 17-16 5zm-16 5l16-5-12 18-16 4zm-16 4l16-4-12 17-17 4zm-16 4l16-4-13 17-16 4zm-16 4l16-4-13 17-16 4zm-17 4l17-4-13 17-16 3zm-16 3l16-3-12 16-16 3zm-16 4l16-4-12 16-17 3zm-16 3l16-3-13 15-16 3z"/><path class="c25" d="M1058 2531l16-3-13 15-16 2zm-17 2l17-2-13 14-16 3zm-16 2l16-2-12 15-16 1zm-16 2l16-2-12 14-17 2z"/><path class="c26" d="M993 2539l16-2-13 14-16 1zm-16 1l16-1-13 13-16 0z"/><path class="c27" d="M960 2540l17 0-13 12-16 0zm-16 0l16 0-12 12-16-1z"/><path class="c28" d="M928 2539l16 1-12 11-17-1z"/><path class="c29" d="M912 2536l16 3-13 11-16-3z"/><path class="c30" d="M896 2533l16 3-13 11-16-4z"/><path class="c31" d="M879 2528l17 5-13 10-16-5z"/><path class="c32" d="M863 2521l16 7-12 10-16-6z"/><path class="c34" d="M847 2511l16 10-12 11-17-9z"/><path class="c36" d="M831 2499l16 12-13 12-16-10z"/><path class="c38" d="M815 2484l16 15-13 14-16-14z"/><path class="c40" d="M798 2466l17 18-13 15-16-16z"/><path class="c43" d="M1605 2246l16-28-13 18-16 28z"/><path class="c41" d="M1589 2271l16-25-13 18-16 24z"/><path class="c38" d="M1572 2292l17-21-13 17-16 21z"/><path class="c36" d="M1556 2311l16-19-12 17-16 18z"/><path class="c35" d="M1540 2327l16-16-12 16-17 17z"/><path class="c33" d="M1524 2341l16-14-13 17-16 14z"/><path class="c32" d="M1508 2354l16-13-13 17-16 13z"/><path class="c31" d="M1491 2366l17-12-13 17-16 11zm-16 10l16-10-12 16-16 11z"/><path class="c30" d="M1459 2385l16-9-12 17-17 9z"/><path class="c29" d="M1443 2394l16-9-13 17-16 9zm-16 8l16-8-13 17-16 8z"/><path class="c28" d="M1410 2410l17-8-13 17-16 8zm-16 7l16-7-12 17-16 7zm-16 7l16-7-12 17-17 7zm-16 6l16-6-13 17-16 7z"/><path class="c27" d="M1346 2437l16-7-13 18-16 6zm-17 6l17-6-13 17-16 6zm-16 6l16-6-12 17-16 6zm-16 5l16-5-12 17-17 6zm-16 6l16-6-13 18-16 5zm-16 5l16-5-13 17-16 6zm-17 5l17-5-13 18-16 5z"/><path class="c26" d="M1232 2475l16-5-12 18-16 5zm-16 5l16-5-12 18-17 4zm-16 4l16-4-13 17-16 5zm-16 5l16-5-13 18-16 4z"/><path class="c27" d="M1167 2493l17-4-13 17-16 4zm-16 4l16-4-12 17-16 4zm-16 3l16-3-12 17-17 4zm-16 4l16-4-13 18-16 3zm-16 3l16-3-13 17-16 4zm-17 3l17-3-13 18-16 3zm-16 3l16-3-12 18-16 3z"/><path class="c28" d="M1054 2516l16-3-12 18-17 2zm-16 2l16-2-13 17-16 2zm-16 2l16-2-13 17-16 2zm-17 2l17-2-13 17-16 2z"/><path class="c29" d="M989 2523l16-1-12 17-16 1zm-16 0l16 0-12 17-17 0z"/><path class="c30" d="M957 2523l16 0-13 17-16 0z"/><path class="c31" d="M941 2522l16 1-13 17-16-1zm-17-2l17 2-13 17-16-3z"/><path class="c32" d="M908 2516l16 4-12 16-16-3z"/><path class="c33" d="M892 2511l16 5-12 17-17-5z"/><path class="c35" d="M876 2504l16 7-13 17-16-7z"/><path class="c36" d="M860 2495l16 9-13 17-16-10z"/><path class="c38" d="M843 2482l17 13-13 16-16-12z"/><path class="c41" d="M827 2467l16 15-12 17-16-15z"/><path class="c43" d="M811 2448l16 19-12 17-17-18z"/><path class="c46" d="M1617 2229l16-29-12 18-16 28z"/><path class="c43" d="M1601 2253l16-24-12 17-16 25z"/><path class="c41" d="M1585 2275l16-22-12 18-17 21z"/><path class="c39" d="M1569 2293l16-18-13 17-16 19z"/><path class="c38" d="M1552 2310l17-17-13 18-16 16z"/><path class="c36" d="M1536 2324l16-14-12 17-16 14z"/><path class="c35" d="M1520 2337l16-13-12 17-16 13z"/><path class="c34" d="M1504 2348l16-11-12 17-17 12z"/><path class="c33" d="M1488 2358l16-10-13 18-16 10zm-17 10l17-10-13 18-16 9z"/><path class="c32" d="M1455 2377l16-9-12 17-16 9zm-16 8l16-8-12 17-16 8z"/><path class="c31" d="M1423 2392l16-7-12 17-17 8zm-16 8l16-8-13 18-16 7zm-17 6l17-6-13 17-16 7z"/><path class="c30" d="M1374 2413l16-7-12 18-16 6zm-16 6l16-6-12 17-16 7zm-16 6l16-6-12 18-17 6zm-16 6l16-6-13 18-16 6zm-17 6l17-6-13 18-16 5zm-16 5l16-5-12 17-16 6z"/><path class="c29" d="M1277 2447l16-5-12 18-16 5zm-16 6l16-6-12 18-17 5zm-16 4l16-4-13 17-16 5zm-17 5l17-5-13 18-16 5zm-16 5l16-5-12 18-16 4zm-16 4l16-4-12 17-16 5zm-16 4l16-4-12 18-17 4zm-16 4l16-4-13 18-16 4z"/><path class="c30" d="M1147 2483l17-4-13 18-16 3zm-16 3l16-3-12 17-16 4zm-16 4l16-4-12 18-16 3zm-16 3l16-3-12 17-17 3zm-16 3l16-3-13 17-16 3zm-17 2l17-2-13 17-16 3z"/><path class="c31" d="M1050 2501l16-3-12 18-16 2zm-16 2l16-2-12 17-16 2zm-16 1l16-1-12 17-17 2z"/><path class="c32" d="M1002 2505l16-1-13 18-16 1zm-17 1l17-1-13 18-16 0z"/><path class="c33" d="M969 2506l16 0-12 17-16 0zm-16-2l16 2-12 17-16-1z"/><path class="c34" d="M937 2502l16 2-12 18-17-2z"/><path class="c35" d="M921 2499l16 3-13 18-16-4z"/><path class="c36" d="M904 2494l17 5-13 17-16-5z"/><path class="c38" d="M888 2486l16 8-12 17-16-7z"/><path class="c39" d="M872 2477l16 9-12 18-16-9z"/><path class="c41" d="M856 2465l16 12-12 18-17-13z"/><path class="c43" d="M840 2450l16 15-13 17-16-15z"/><path class="c46" d="M823 2430l17 20-13 17-16-19z"/><path class="c49" d="M1630 2211l16-28-13 17-16 29z"/><path class="c46" d="M1614 2236l16-25-13 18-16 24z"/><path class="c44" d="M1597 2257l17-21-13 17-16 22z"/><path class="c42" d="M1581 2276l16-19-12 18-16 18z"/><path class="c41" d="M1565 2292l16-16-12 17-17 17z"/><path class="c39" d="M1549 2306l16-14-13 18-16 14z"/><path class="c38" d="M1533 2319l16-13-13 18-16 13z"/><path class="c37" d="M1516 2331l17-12-13 18-16 11z"/><path class="c36" d="M1500 2341l16-10-12 17-16 10zm-16 9l16-9-12 17-17 10z"/><path class="c35" d="M1468 2359l16-9-13 18-16 9zm-16 8l16-8-13 18-16 8z"/><path class="c34" d="M1435 2375l17-8-13 18-16 7zm-16 7l16-7-12 17-16 8zm-16 7l16-7-12 18-17 6z"/><path class="c33" d="M1387 2395l16-6-13 17-16 7zm-16 7l16-7-13 18-16 6zm-17 6l17-6-13 17-16 6zm-16 6l16-6-12 17-16 6zm-16 5l16-5-12 17-17 6zm-16 6l16-6-13 18-16 5z"/><path class="c32" d="M1290 2430l16-5-13 17-16 5zm-17 5l17-5-13 17-16 6zm-16 5l16-5-12 18-16 4zm-16 5l16-5-12 17-17 5zm-16 4l16-4-13 17-16 5zm-16 4l16-4-13 18-16 4zm-17 5l17-5-13 18-16 4zm-16 3l16-3-12 17-16 4z"/><path class="c33" d="M1160 2465l16-4-12 18-17 4zm-16 4l16-4-13 18-16 3zm-16 3l16-3-13 17-16 4zm-17 3l17-3-13 18-16 3zm-16 3l16-3-12 18-16 3zm-16 3l16-3-12 18-17 2z"/><path class="c34" d="M1063 2483l16-2-13 17-16 3zm-16 2l16-2-13 18-16 2zm-17 2l17-2-13 18-16 1z"/><path class="c35" d="M1014 2488l16-1-12 17-16 1zm-16 0l16 0-12 17-17 1z"/><path class="c36" d="M982 2488l16 0-13 18-16 0zm-16-1l16 1-13 18-16-2z"/><path class="c37" d="M949 2485l17 2-13 17-16-2z"/><path class="c38" d="M933 2481l16 4-12 17-16-3z"/><path class="c39" d="M917 2476l16 5-12 18-17-5z"/><path class="c41" d="M901 2469l16 7-13 18-16-8z"/><path class="c42" d="M885 2459l16 10-13 17-16-9z"/><path class="c44" d="M868 2447l17 12-13 18-16-12z"/><path class="c46" d="M852 2432l16 15-12 18-16-15z"/><path class="c49" d="M836 2413l16 19-12 18-17-20z"/></g>
<path d="M20.9 261.4L20.9 196.2M20.9 261.4L83.6 291M83.6 291L164.6 268M20.9 261.4h-1.5M20.9 245.1h-1.5M20.9 228.8h-1.5M20.9 212.5h-1.5M20.9 196.2h-1.5" stroke="#262626" stroke-width="0.5" fill="none"/>
<text x="17.3" y="263.4" class="tk" text-anchor="end">20</text>
<text x="17.3" y="247.1" class="tk" text-anchor="end">21</text>
<text x="17.3" y="230.8" class="tk" text-anchor="end">22</text>
<text x="17.3" y="214.5" class="tk" text-anchor="end">23</text>
<text x="17.3" y="198.2" class="tk" text-anchor="end">24</text>
<text x="15.5" y="269.1" class="tk" text-anchor="middle">1</text>
<text x="46.4" y="284" class="tk" text-anchor="middle">0</text>
<text x="75.5" y="298.9" class="tk" text-anchor="middle">-1</text>
<text x="86.9" y="299.1" class="tk">-1</text>
<text x="107.1" y="293.4" class="tk">-0.5</text>
<text x="127.4" y="287.6" class="tk">0</text>
<text x="147.7" y="281.9" class="tk">0.5</text>
<text x="167.9" y="276.1" class="tk">1</text>
<text x="123.2" y="301.3" class="lb" text-anchor="middle">x</text>
<path d="M83.6 291L82.3 290.4M103.8 285.2L102.6 284.7M124.1 279.5L122.8 278.9M144.3 273.8L143.1 273.2M164.6 268L163.3 267.4M83.6 291L85.2 290.5M52.2 276.2L53.9 275.7M20.9 261.4L22.5 260.9" stroke="#262626" stroke-width="0.5" fill="none"/>
<text x="51.8" y="300.7" class="lb" text-anchor="middle">y</text>
<text class="lb" text-anchor="middle" transform="translate(6.4 230.3) rotate(-90)">z</text>
<path d="M271.8 291L209.1 261.4M209.1 261.4L209.1 196.2M292.1 285.2L229.3 255.6M229.3 255.6L229.3 190.4M312.3 279.5L249.6 249.9M249.6 249.9L249.6 184.7M332.6 273.8L269.8 244.1M269.8 244.1L269.8 178.9M352.8 268L290.1 238.4M290.1 238.4L290.1 173.2M271.8 291L352.8 268M352.8 268L352.8 202.8M240.4 276.2L321.4 253.2M321.4 253.2L321.4 188M209.1 261.4L290.1 238.4M290.1 238.4L290.1 173.2M209.1 261.4L290.1 238.4M290.1 238.4L352.8 268M209.1 245.1L290.1 222.1M290.1 222.1L352.8 251.7M209.1 228.8L290.1 205.8M290.1 205.8L352.8 235.4M209.1 212.5L290.1 189.5M290.1 189.5L352.8 219.1M209.1 196.2L290.1 173.2M290.1 173.2L352.8 202.8" stroke="#e3e3e3" stroke-width="0.5" fill="none"/>
<g class="sf" transform="scale(.1)"><path class="c27" d="M2897 2142l17-4-13-5-16 5zm-16 3l16-3-12-4-16 3zm-16 3l16-3-12-4-17 4zm-16 2l16-2-13-3-16 2zm-16 1l16-1-13-3-16 3z"/><path class="c28" d="M2816 2153l17-2-13-1-16 2zm-16 1l16-1-12-1-16 2z"/><path class="c29" d="M2784 2155l16-1-12 0-17 1zm-16 1l16-1-13 0-16 3zm-16 2l16-2-13 2-16 2z"/><path class="c30" d="M2735 2160l17-2-13 2-16 3zm-16 3l16-3-12 3-16 3zm-16 4l16-4-12 3-17 5zm-16 6l16-6-13 4-16 5zm-16 6l16-6-13 3-16 7z"/><path class="c29" d="M2654 2187l17-8-13 4-16 8zm-16 9l16-9-12 4-16 9z"/><path class="c28" d="M2622 2207l16-11-12 4-17 10z"/><path class="c27" d="M2606 2219l16-12-13 3-16 11z"/><path class="c26" d="M2590 2231l16-12-13 2-16 12z"/><path class="c25" d="M2573 2245l17-14-13 2-16 14z"/><path class="c24" d="M2557 2260l16-15-12 2-16 14z"/><path class="c23" d="M2541 2276l16-16-12 1-17 14z"/><path class="c21" d="M2525 2292l16-16-13-1-16 15z"/><path class="c20" d="M2509 2308l16-16-13-2-16 16z"/><path class="c18" d="M2492 2324l17-16-13-2-16 15z"/><path class="c17" d="M2476 2339l16-15-12-3-16 15z"/><path class="c16" d="M2460 2355l16-16-12-3-17 15z"/><path class="c14" d="M2444 2369l16-14-13-4-16 14z"/><path class="c13" d="M2428 2383l16-14-13-4-16 14z"/><path class="c12" d="M2411 2396l17-13-13-4-16 12z"/><path class="c11" d="M2395 2408l16-12-12-5-16 12z"/><path class="c10" d="M2379 2418l16-10-12-5-17 11z"/><path class="c9" d="M2363 2427l16-9-13-4-16 9zm-16 8l16-8-13-4-16 8z"/><path class="c8" d="M2330 2441l17-6-13-4-16 7zm-16 4l16-4-12-3-16 5zm-16 3l16-3-12-2-17 4z"/><path class="c9" d="M2282 2449l16-1-13-1-16 2zm-16 0l16 0-13 0-16 1z"/><path class="c10" d="M2249 2448l17 1-13 1-16-1z"/><path class="c11" d="M2233 2445l16 3-12 1-16-2z"/><path class="c12" d="M2217 2440l16 5-12 2-17-3z"/><path class="c13" d="M2201 2435l16 5-13 4-16-4z"/><path class="c14" d="M2185 2429l16 6-13 5-16-6z"/><path class="c16" d="M2168 2421l17 8-13 5-16-6z"/><path class="c17" d="M2152 2414l16 7-12 7-16-7z"/><path class="c19" d="M2136 2406l16 8-12 7-17-8z"/><path class="c20" d="M2120 2398l16 8-13 7-16-7z"/><path class="c22" d="M2104 2390l16 8-13 8-16-8z"/><path class="c27" d="M2910 2145l16-3-12-4-17 4zm-16 2l16-2-13-3-16 3zm-17 2l17-2-13-2-16 3z"/><path class="c28" d="M2861 2150l16-1-12-1-16 2zm-16 1l16-1-12 0-16 1z"/><path class="c29" d="M2829 2151l16 0-12 0-17 2zm-16 0l16 0-13 2-16 1z"/><path class="c30" d="M2796 2151l17 0-13 3-16 1zm-16 1l16-1-12 4-16 1z"/><path class="c31" d="M2764 2153l16-1-12 4-16 2zm-16 1l16-1-12 5-17 2zm-16 3l16-3-13 6-16 3zm-17 4l17-4-13 6-16 4zm-16 5l16-5-12 6-16 6zm-16 6l16-6-12 7-16 6zm-16 8l16-8-12 7-17 8z"/><path class="c30" d="M2651 2189l16-9-13 7-16 9zm-17 11l17-11-13 7-16 11z"/><path class="c29" d="M2618 2212l16-12-12 7-16 12z"/><path class="c28" d="M2602 2226l16-14-12 7-16 12z"/><path class="c27" d="M2586 2241l16-15-12 5-17 14z"/><path class="c25" d="M2570 2256l16-15-13 4-16 15z"/><path class="c24" d="M2553 2272l17-16-13 4-16 16z"/><path class="c22" d="M2537 2289l16-17-12 4-16 16z"/><path class="c21" d="M2521 2306l16-17-12 3-16 16z"/><path class="c19" d="M2505 2323l16-17-12 2-17 16z"/><path class="c18" d="M2489 2339l16-16-13 1-16 15z"/><path class="c16" d="M2472 2355l17-16-13 0-16 16z"/><path class="c15" d="M2456 2370l16-15-12 0-16 14z"/><path class="c13" d="M2440 2384l16-14-12-1-16 14z"/><path class="c12" d="M2424 2397l16-13-12-1-17 13z"/><path class="c11" d="M2408 2408l16-11-13-1-16 12zm-17 10l17-10-13 0-16 10z"/><path class="c10" d="M2375 2427l16-9-12 0-16 9z"/><path class="c9" d="M2359 2434l16-7-12 0-16 8zm-16 5l16-5-12 1-17 6zm-16 4l16-4-13 2-16 4zm-17 2l17-2-13 2-16 3z"/><path class="c10" d="M2294 2445l16 0-12 3-16 1zm-16-1l16 1-12 4-16 0z"/><path class="c11" d="M2262 2441l16 3-12 5-17-1z"/><path class="c12" d="M2246 2437l16 4-13 7-16-3z"/><path class="c13" d="M2229 2432l17 5-13 8-16-5z"/><path class="c14" d="M2213 2426l16 6-12 8-16-5z"/><path class="c16" d="M2197 2419l16 7-12 9-16-6z"/><path class="c17" d="M2181 2411l16 8-12 10-17-8z"/><path class="c19" d="M2165 2403l16 8-13 10-16-7z"/><path class="c21" d="M2148 2394l17 9-13 11-16-8z"/><path class="c22" d="M2132 2386l16 8-12 12-16-8z"/><path class="c24" d="M2116 2378l16 8-12 12-16-8z"/><path class="c27" d="M2922 2146l17-2-13-2-16 3z"/><path class="c28" d="M2906 2147l16-1-12-1-16 2zm-16 1l16-1-12 0-17 2zm-16 0l16 0-13 1-16 1z"/><path class="c29" d="M2858 2148l16 0-13 2-16 1z"/><path class="c30" d="M2841 2147l17 1-13 3-16 0zm-16-1l16 1-12 4-16 0z"/><path class="c31" d="M2809 2145l16 1-12 5-17 0z"/><path class="c32" d="M2793 2144l16 1-13 6-16 1zm-16 0l16 0-13 8-16 1z"/><path class="c33" d="M2760 2145l17-1-13 9-16 1zm-16 2l16-2-12 9-16 3zm-16 3l16-3-12 10-17 4zm-16 5l16-5-13 11-16 5zm-16 6l16-6-13 11-16 6zm-17 8l17-8-13 11-16 8z"/><path class="c32" d="M2663 2179l16-10-12 11-16 9zm-16 11l16-11-12 10-17 11z"/><path class="c31" d="M2631 2203l16-13-13 10-16 12z"/><path class="c29" d="M2615 2217l16-14-13 9-16 14z"/><path class="c28" d="M2598 2232l17-15-13 9-16 15z"/><path class="c27" d="M2582 2248l16-16-12 9-16 15z"/><path class="c25" d="M2566 2265l16-17-12 8-17 16z"/><path class="c24" d="M2550 2283l16-18-13 7-16 17z"/><path class="c22" d="M2534 2300l16-17-13 6-16 17z"/><path class="c20" d="M2517 2318l17-18-13 6-16 17z"/><path class="c19" d="M2501 2335l16-17-12 5-16 16z"/><path class="c17" d="M2485 2351l16-16-12 4-17 16z"/><path class="c16" d="M2469 2366l16-15-13 4-16 15z"/><path class="c14" d="M2453 2380l16-14-13 4-16 14z"/><path class="c13" d="M2436 2393l17-13-13 4-16 13z"/><path class="c12" d="M2420 2404l16-11-12 4-16 11zm-16 10l16-10-12 4-17 10z"/><path class="c11" d="M2388 2422l16-8-13 4-16 9zm-16 6l16-6-13 5-16 7z"/><path class="c10" d="M2355 2433l17-5-13 6-16 5zm-16 3l16-3-12 6-16 4z"/><path class="c11" d="M2323 2437l16-1-12 7-17 2zm-16-1l16 1-13 8-16 0z"/><path class="c12" d="M2291 2434l16 2-13 9-16-1z"/><path class="c13" d="M2274 2431l17 3-13 10-16-3z"/><path class="c14" d="M2258 2426l16 5-12 10-16-4z"/><path class="c15" d="M2242 2419l16 7-12 11-17-5z"/><path class="c17" d="M2226 2412l16 7-13 13-16-6z"/><path class="c18" d="M2210 2405l16 7-13 14-16-7z"/><path class="c20" d="M2193 2396l17 9-13 14-16-8z"/><path class="c22" d="M2177 2388l16 8-12 15-16-8z"/><path class="c23" d="M2161 2379l16 9-12 15-17-9z"/><path class="c25" d="M2145 2371l16 8-13 15-16-8z"/><path class="c27" d="M2129 2363l16 8-13 15-16-8z"/><path class="c28" d="M2935 2145l16-1-12 0-17 2zm-16 0l16 0-13 1-16 1z"/><path class="c29" d="M2903 2145l16 0-13 2-16 1z"/><path class="c30" d="M2886 2144l17 1-13 3-16 0zm-16-2l16 2-12 4-16 0z"/><path class="c31" d="M2854 2140l16 2-12 6-17-1z"/><path class="c32" d="M2838 2138l16 2-13 7-16-1z"/><path class="c33" d="M2822 2136l16 2-13 8-16-1zm-17-2l17 2-13 9-16-1z"/><path class="c34" d="M2789 2133l16 1-12 10-16 0z"/><path class="c35" d="M2773 2133l16 0-12 11-17 1zm-16 2l16-2-13 12-16 2z"/><path class="c36" d="M2741 2137l16-2-13 12-16 3zm-17 4l17-4-13 13-16 5zm-16 6l16-6-12 14-16 6z"/><path class="c35" d="M2692 2155l16-8-12 14-17 8zm-16 10l16-10-13 14-16 10z"/><path class="c34" d="M2660 2176l16-11-13 14-16 11z"/><path class="c33" d="M2643 2189l17-13-13 14-16 13z"/><path class="c32" d="M2627 2204l16-15-12 14-16 14z"/><path class="c30" d="M2611 2220l16-16-12 13-17 15z"/><path class="c29" d="M2595 2237l16-17-13 12-16 16z"/><path class="c27" d="M2579 2255l16-18-13 11-16 17z"/><path class="c26" d="M2562 2273l17-18-13 10-16 18z"/><path class="c24" d="M2546 2291l16-18-12 10-16 17z"/><path class="c22" d="M2530 2309l16-18-12 9-17 18z"/><path class="c20" d="M2514 2326l16-17-13 9-16 17z"/><path class="c19" d="M2498 2343l16-17-13 9-16 16z"/><path class="c17" d="M2481 2358l17-15-13 8-16 15z"/><path class="c16" d="M2465 2372l16-14-12 8-16 14z"/><path class="c15" d="M2449 2385l16-13-12 8-17 13z"/><path class="c14" d="M2433 2396l16-11-13 8-16 11z"/><path class="c13" d="M2417 2406l16-10-13 8-16 10zm-17 7l17-7-13 8-16 8z"/><path class="c12" d="M2384 2419l16-6-12 9-16 6zm-16 4l16-4-12 9-17 5zm-16 2l16-2-13 10-16 3z"/><path class="c13" d="M2336 2425l16 0-13 11-16 1zm-17-2l17 2-13 12-16-1z"/><path class="c14" d="M2303 2420l16 3-12 13-16-2z"/><path class="c15" d="M2287 2416l16 4-12 14-17-3z"/><path class="c17" d="M2271 2410l16 6-13 15-16-5z"/><path class="c18" d="M2255 2403l16 7-13 16-16-7z"/><path class="c19" d="M2238 2395l17 8-13 16-16-7z"/><path class="c21" d="M2222 2387l16 8-12 17-16-7z"/><path class="c23" d="M2206 2378l16 9-12 18-17-9z"/><path class="c24" d="M2190 2370l16 8-13 18-16-8z"/><path class="c26" d="M2174 2361l16 9-13 18-16-9z"/><path class="c28" d="M2157 2353l17 8-13 18-16-8z"/><path class="c29" d="M2141 2346l16 7-12 18-16-8zm807-204l16 0-13 2-16 1zm-17-1l17 1-13 3-16 0z"/><path class="c30" d="M2915 2140l16 1-12 4-16 0z"/><path class="c31" d="M2899 2137l16 3-12 5-17-1z"/><path class="c32" d="M2883 2134l16 3-13 7-16-2z"/><path class="c33" d="M2867 2131l16 3-13 8-16-2z"/><path class="c34" d="M2850 2128l17 3-13 9-16-2z"/><path class="c35" d="M2834 2124l16 4-12 10-16-2z"/><path class="c36" d="M2818 2122l16 2-12 12-17-2zm-16-2l16 2-13 12-16-1z"/><path class="c37" d="M2786 2119l16 1-13 13-16 0z"/><path class="c38" d="M2769 2119l17 0-13 14-16 2zm-16 2l16-2-12 16-16 2zm-16 4l16-4-12 16-17 4zm-16 6l16-6-13 16-16 6zm-17 7l17-7-13 16-16 8z"/><path class="c37" d="M2688 2148l16-10-12 17-16 10zm-16 12l16-12-12 17-16 11z"/><path class="c36" d="M2656 2173l16-13-12 16-17 13z"/><path class="c34" d="M2640 2188l16-15-13 16-16 15z"/><path class="c33" d="M2624 2205l16-17-13 16-16 16z"/><path class="c31" d="M2607 2222l17-17-13 15-16 17z"/><path class="c30" d="M2591 2240l16-18-12 15-16 18z"/><path class="c28" d="M2575 2259l16-19-12 15-17 18z"/><path class="c26" d="M2559 2278l16-19-13 14-16 18z"/><path class="c24" d="M2542 2296l17-18-13 13-16 18z"/><path class="c23" d="M2526 2314l16-18-12 13-16 17z"/><path class="c21" d="M2510 2331l16-17-12 12-16 17z"/><path class="c19" d="M2494 2346l16-15-12 12-17 15z"/><path class="c18" d="M2478 2361l16-15-13 12-16 14z"/><path class="c17" d="M2462 2373l16-12-13 11-16 13z"/><path class="c16" d="M2445 2384l17-11-13 12-16 11z"/><path class="c15" d="M2429 2393l16-9-12 12-16 10zm-16 7l16-7-12 13-17 7zm-16 5l16-5-13 13-16 6zm-17 3l17-3-13 14-16 4zm-16 1l16-1-12 15-16 2zm-16 0l16 0-12 16-16 0z"/><path class="c16" d="M2332 2406l16 3-12 16-17-2z"/><path class="c17" d="M2316 2402l16 4-13 17-16-3z"/><path class="c18" d="M2299 2397l17 5-13 18-16-4z"/><path class="c20" d="M2283 2391l16 6-12 19-16-6z"/><path class="c21" d="M2267 2383l16 8-12 19-16-7z"/><path class="c23" d="M2251 2375l16 8-12 20-17-8z"/><path class="c24" d="M2235 2366l16 9-13 20-16-8z"/><path class="c26" d="M2218 2358l17 8-13 21-16-9z"/><path class="c28" d="M2202 2349l16 9-12 20-16-8z"/><path class="c29" d="M2186 2341l16 8-12 21-16-9z"/><path class="c31" d="M2170 2333l16 8-12 20-17-8z"/><path class="c33" d="M2154 2327l16 6-13 20-16-7z"/><path class="c30" d="M2960 2138l16 1-12 3-16 0z"/><path class="c31" d="M2944 2136l16 2-12 4-17-1z"/><path class="c32" d="M2928 2133l16 3-13 5-16-1z"/><path class="c33" d="M2911 2129l17 4-13 7-16-3z"/><path class="c34" d="M2895 2124l16 5-12 8-16-3z"/><path class="c35" d="M2879 2120l16 4-12 10-16-3z"/><path class="c36" d="M2863 2115l16 5-12 11-17-3z"/><path class="c37" d="M2847 2111l16 4-13 13-16-4z"/><path class="c38" d="M2830 2107l17 4-13 13-16-2z"/><path class="c39" d="M2814 2104l16 3-12 15-16-2z"/><path class="c40" d="M2798 2102l16 2-12 16-16-1z"/><path class="c41" d="M2782 2101l16 1-12 17-17 0zm-16 2l16-2-13 18-16 2zm-17 3l17-3-13 18-16 4zm-16 5l16-5-12 19-16 6zm-16 8l16-8-12 20-17 7zm-16 10l16-10-13 19-16 10z"/><path class="c40" d="M2685 2140l16-11-13 19-16 12z"/><path class="c39" d="M2668 2154l17-14-13 20-16 13z"/><path class="c37" d="M2652 2170l16-16-12 19-16 15z"/><path class="c36" d="M2636 2186l16-16-12 18-16 17z"/><path class="c34" d="M2620 2204l16-18-12 19-17 17z"/><path class="c33" d="M2604 2223l16-19-13 18-16 18z"/><path class="c31" d="M2587 2242l17-19-13 17-16 19z"/><path class="c29" d="M2571 2262l16-20-12 17-16 19z"/><path class="c27" d="M2555 2280l16-18-12 16-17 18z"/><path class="c25" d="M2539 2298l16-18-13 16-16 18z"/><path class="c23" d="M2523 2315l16-17-13 16-16 17z"/><path class="c22" d="M2506 2331l17-16-13 16-16 15z"/><path class="c21" d="M2490 2345l16-14-12 15-16 15z"/><path class="c19" d="M2474 2358l16-13-12 16-16 12zm-16 10l16-10-12 15-17 11z"/><path class="c18" d="M2442 2377l16-9-13 16-16 9z"/><path class="c17" d="M2425 2383l17-6-13 16-16 7zm-16 5l16-5-12 17-16 5zm-16 2l16-2-12 17-17 3z"/><path class="c18" d="M2377 2390l16 0-13 18-16 1zm-16-1l16 1-13 19-16 0z"/><path class="c19" d="M2344 2386l17 3-13 20-16-3z"/><path class="c20" d="M2328 2381l16 5-12 20-16-4z"/><path class="c22" d="M2312 2375l16 6-12 21-17-5z"/><path class="c23" d="M2296 2368l16 7-13 22-16-6z"/><path class="c25" d="M2280 2361l16 7-13 23-16-8z"/><path class="c26" d="M2263 2352l17 9-13 22-16-8z"/><path class="c28" d="M2247 2344l16 8-12 23-16-9z"/><path class="c30" d="M2231 2335l16 9-12 22-17-8z"/><path class="c31" d="M2215 2327l16 8-13 23-16-9z"/><path class="c33" d="M2199 2319l16 8-13 22-16-8z"/><path class="c35" d="M2182 2312l17 7-13 22-16-8z"/><path class="c36" d="M2166 2306l16 6-12 21-16-6z"/><path class="c31" d="M2973 2132l16 2-13 5-16-1z"/><path class="c32" d="M2956 2128l17 4-13 6-16-2z"/><path class="c33" d="M2940 2124l16 4-12 8-16-3z"/><path class="c35" d="M2924 2119l16 5-12 9-17-4z"/><path class="c36" d="M2908 2113l16 6-13 10-16-5z"/><path class="c37" d="M2892 2107l16 6-13 11-16-4z"/><path class="c38" d="M2875 2101l17 6-13 13-16-5z"/><path class="c40" d="M2859 2095l16 6-12 14-16-4z"/><path class="c41" d="M2843 2090l16 5-12 16-17-4z"/><path class="c42" d="M2827 2086l16 4-13 17-16-3z"/><path class="c43" d="M2811 2083l16 3-13 18-16-2z"/><path class="c44" d="M2794 2082l17 1-13 19-16-1zm-16 1l16-1-12 19-16 2z"/><path class="c45" d="M2762 2086l16-3-12 20-17 3zm-16 5l16-5-13 20-16 5zm-16 7l16-7-13 20-16 8z"/><path class="c44" d="M2713 2108l17-10-13 21-16 10z"/><path class="c43" d="M2697 2120l16-12-12 21-16 11z"/><path class="c42" d="M2681 2134l16-14-12 20-17 14z"/><path class="c41" d="M2665 2149l16-15-13 20-16 16z"/><path class="c39" d="M2649 2166l16-17-13 21-16 16z"/><path class="c38" d="M2632 2185l17-19-13 20-16 18z"/><path class="c36" d="M2616 2204l16-19-12 19-16 19z"/><path class="c34" d="M2600 2223l16-19-12 19-17 19z"/><path class="c32" d="M2584 2243l16-20-13 19-16 20z"/><path class="c30" d="M2568 2262l16-19-13 19-16 18z"/><path class="c28" d="M2551 2280l17-18-13 18-16 18z"/><path class="c26" d="M2535 2297l16-17-12 18-16 17z"/><path class="c25" d="M2519 2313l16-16-12 18-17 16z"/><path class="c24" d="M2503 2327l16-14-13 18-16 14z"/><path class="c22" d="M2487 2339l16-12-13 18-16 13zm-17 10l17-10-13 19-16 10z"/><path class="c21" d="M2454 2357l16-8-12 19-16 9zm-16 6l16-6-12 20-17 6zm-16 4l16-4-13 20-16 5zm-16 2l16-2-13 21-16 2zm-17 0l17 0-13 21-16 0z"/><path class="c22" d="M2373 2367l16 2-12 21-16-1z"/><path class="c23" d="M2357 2363l16 4-12 22-17-3z"/><path class="c24" d="M2341 2358l16 5-13 23-16-5z"/><path class="c25" d="M2325 2352l16 6-13 23-16-6z"/><path class="c27" d="M2308 2345l17 7-13 23-16-7z"/><path class="c28" d="M2292 2337l16 8-12 23-16-7z"/><path class="c30" d="M2276 2328l16 9-12 24-17-9z"/><path class="c32" d="M2260 2320l16 8-13 24-16-8z"/><path class="c33" d="M2244 2312l16 8-13 24-16-9z"/><path class="c35" d="M2227 2304l17 8-13 23-16-8z"/><path class="c37" d="M2211 2297l16 7-12 23-16-8z"/><path class="c38" d="M2195 2291l16 6-12 22-17-7z"/><path class="c40" d="M2179 2286l16 5-13 21-16-6z"/><path class="c33" d="M2985 2125l16 3-12 6-16-2z"/><path class="c34" d="M2969 2120l16 5-12 7-17-4z"/><path class="c35" d="M2953 2114l16 6-13 8-16-4z"/><path class="c37" d="M2937 2107l16 7-13 10-16-5z"/><path class="c38" d="M2920 2100l17 7-13 12-16-6z"/><path class="c40" d="M2904 2093l16 7-12 13-16-6z"/><path class="c41" d="M2888 2086l16 7-12 14-17-6z"/><path class="c42" d="M2872 2079l16 7-13 15-16-6z"/><path class="c44" d="M2856 2073l16 6-13 16-16-5z"/><path class="c45" d="M2839 2068l17 5-13 17-16-4z"/><path class="c46" d="M2823 2064l16 4-12 18-16-3z"/><path class="c47" d="M2807 2062l16 2-12 19-17-1z"/><path class="c48" d="M2791 2063l16-1-13 20-16 1zm-16 2l16-2-13 20-16 3zm-17 5l17-5-13 21-16 5zm-16 7l16-7-12 21-16 7zm-16 9l16-9-12 21-17 10z"/><path class="c47" d="M2710 2098l16-12-13 22-16 12z"/><path class="c46" d="M2694 2112l16-14-13 22-16 14z"/><path class="c44" d="M2677 2128l17-16-13 22-16 15z"/><path class="c43" d="M2661 2146l16-18-12 21-16 17z"/><path class="c41" d="M2645 2164l16-18-12 20-17 19z"/><path class="c39" d="M2629 2184l16-20-13 21-16 19z"/><path class="c37" d="M2613 2203l16-19-13 20-16 19z"/><path class="c35" d="M2596 2223l17-20-13 20-16 20z"/><path class="c33" d="M2580 2242l16-19-12 20-16 19z"/><path class="c31" d="M2564 2260l16-18-12 20-17 18z"/><path class="c30" d="M2548 2278l16-18-13 20-16 17z"/><path class="c28" d="M2532 2293l16-15-13 19-16 16z"/><path class="c27" d="M2515 2307l17-14-13 20-16 14z"/><path class="c26" d="M2499 2319l16-12-12 20-16 12z"/><path class="c25" d="M2483 2328l16-9-12 20-17 10z"/><path class="c24" d="M2467 2336l16-8-13 21-16 8zm-16 5l16-5-13 21-16 6zm-17 4l17-4-13 22-16 4zm-16 1l16-1-12 22-16 2z"/><path class="c25" d="M2402 2345l16 1-12 23-17 0z"/><path class="c26" d="M2386 2343l16 2-13 24-16-2z"/><path class="c27" d="M2370 2339l16 4-13 24-16-4z"/><path class="c28" d="M2353 2333l17 6-13 24-16-5z"/><path class="c29" d="M2337 2327l16 6-12 25-16-6z"/><path class="c31" d="M2321 2320l16 7-12 25-17-7z"/><path class="c32" d="M2305 2312l16 8-13 25-16-8z"/><path class="c34" d="M2289 2304l16 8-13 25-16-9z"/><path class="c36" d="M2272 2296l17 8-13 24-16-8z"/><path class="c37" d="M2256 2288l16 8-12 24-16-8z"/><path class="c39" d="M2240 2281l16 7-12 24-17-8z"/><path class="c41" d="M2224 2275l16 6-13 23-16-7z"/><path class="c42" d="M2208 2270l16 5-13 22-16-6z"/><path class="c43" d="M2191 2266l17 4-13 21-16-5z"/><path class="c35" d="M2998 2117l16 5-13 6-16-3z"/><path class="c36" d="M2981 2111l17 6-13 8-16-5z"/><path class="c37" d="M2965 2104l16 7-12 9-16-6z"/><path class="c39" d="M2949 2096l16 8-12 10-16-7z"/><path class="c40" d="M2933 2088l16 8-12 11-17-7z"/><path class="c42" d="M2917 2079l16 9-13 12-16-7z"/><path class="c44" d="M2900 2071l17 8-13 14-16-7z"/><path class="c45" d="M2884 2063l16 8-12 15-16-7z"/><path class="c47" d="M2868 2056l16 7-12 16-16-6z"/><path class="c48" d="M2852 2050l16 6-12 17-17-5z"/><path class="c49" d="M2836 2046l16 4-13 18-16-4z"/><path class="c50" d="M2819 2043l17 3-13 18-16-2z"/><path class="c51" d="M2803 2043l16 0-12 19-16 1z"/><path class="c52" d="M2787 2045l16-2-12 20-16 2zm-16 4l16-4-12 20-17 5zm-16 7l16-7-13 21-16 7z"/><path class="c51" d="M2738 2066l17-10-13 21-16 9z"/><path class="c50" d="M2722 2078l16-12-12 20-16 12z"/><path class="c49" d="M2706 2092l16-14-12 20-16 14z"/><path class="c48" d="M2690 2108l16-16-12 20-17 16z"/><path class="c46" d="M2674 2125l16-17-13 20-16 18z"/><path class="c45" d="M2657 2144l17-19-13 21-16 18z"/><path class="c43" d="M2641 2163l16-19-12 20-16 20z"/><path class="c41" d="M2625 2183l16-20-12 21-16 19z"/><path class="c39" d="M2609 2203l16-20-12 20-17 20z"/><path class="c37" d="M2593 2222l16-19-13 20-16 19z"/><path class="c35" d="M2576 2240l17-18-13 20-16 18z"/><path class="c33" d="M2560 2257l16-17-12 20-16 18z"/><path class="c32" d="M2544 2272l16-15-12 21-16 15z"/><path class="c30" d="M2528 2286l16-14-12 21-17 14z"/><path class="c29" d="M2512 2297l16-11-13 21-16 12zm-17 9l17-9-13 22-16 9z"/><path class="c28" d="M2479 2313l16-7-12 22-16 8zm-16 5l16-5-12 23-16 5zm-16 3l16-3-12 23-17 4zm-16 1l16-1-13 24-16 1z"/><path class="c29" d="M2414 2321l17 1-13 24-16-1z"/><path class="c30" d="M2398 2318l16 3-12 24-16-2z"/><path class="c31" d="M2382 2314l16 4-12 25-16-4z"/><path class="c32" d="M2366 2308l16 6-12 25-17-6z"/><path class="c33" d="M2350 2302l16 6-13 25-16-6z"/><path class="c35" d="M2333 2295l17 7-13 25-16-7z"/><path class="c36" d="M2317 2287l16 8-12 25-16-8z"/><path class="c38" d="M2301 2280l16 7-12 25-16-8z"/><path class="c40" d="M2285 2272l16 8-12 24-17-8z"/><path class="c41" d="M2269 2265l16 7-13 24-16-8z"/><path class="c43" d="M2252 2259l17 6-13 23-16-7z"/><path class="c44" d="M2236 2254l16 5-12 22-16-6z"/><path class="c45" d="M2220 2251l16 3-12 21-16-5z"/><path class="c46" d="M2204 2248l16 3-12 19-17-4z"/><path class="c36" d="M3010 2109l16 6-12 7-16-5z"/><path class="c38" d="M2994 2101l16 8-12 8-17-6z"/><path class="c39" d="M2978 2093l16 8-13 10-16-7z"/><path class="c41" d="M2962 2084l16 9-13 11-16-8z"/><path class="c43" d="M2945 2075l17 9-13 12-16-8z"/><path class="c45" d="M2929 2066l16 9-12 13-16-9z"/><path class="c46" d="M2913 2056l16 10-12 13-17-8z"/><path class="c48" d="M2897 2048l16 8-13 15-16-8z"/><path class="c50" d="M2881 2040l16 8-13 15-16-7z"/><path class="c51" d="M2864 2033l17 7-13 16-16-6z"/><path class="c52" d="M2848 2029l16 4-12 17-16-4z"/><path class="c54" d="M2832 2026l16 3-12 17-17-3zm-16-1l16 1-13 17-16 0z"/><path class="c55" d="M2800 2027l16-2-13 18-16 2zm-17 4l17-4-13 18-16 4zm-16 7l16-7-12 18-16 7z"/><path class="c54" d="M2751 2048l16-10-12 18-17 10zm-16 11l16-11-13 18-16 12z"/><path class="c53" d="M2719 2073l16-14-13 19-16 14z"/><path class="c51" d="M2702 2089l17-16-13 19-16 16z"/><path class="c50" d="M2686 2107l16-18-12 19-16 17z"/><path class="c48" d="M2670 2125l16-18-12 18-17 19z"/><path class="c46" d="M2654 2145l16-20-13 19-16 19z"/><path class="c44" d="M2638 2164l16-19-13 18-16 20z"/><path class="c42" d="M2621 2184l17-20-13 19-16 20z"/><path class="c40" d="M2605 2202l16-18-12 19-16 19z"/><path class="c38" d="M2589 2220l16-18-12 20-17 18z"/><path class="c37" d="M2573 2237l16-17-13 20-16 17z"/><path class="c35" d="M2557 2252l16-15-13 20-16 15z"/><path class="c34" d="M2540 2265l17-13-13 20-16 14z"/><path class="c33" d="M2524 2276l16-11-12 21-16 11z"/><path class="c32" d="M2508 2284l16-8-12 21-17 9zm-16 7l16-7-13 22-16 7zm-16 4l16-4-13 22-16 5zm-17 3l17-3-13 23-16 3zm-16 0l16 0-12 23-16 1z"/><path class="c33" d="M2427 2297l16 1-12 24-17-1z"/><path class="c34" d="M2411 2294l16 3-13 24-16-3z"/><path class="c35" d="M2395 2290l16 4-13 24-16-4z"/><path class="c36" d="M2378 2284l17 6-13 24-16-6z"/><path class="c37" d="M2362 2278l16 6-12 24-16-6z"/><path class="c39" d="M2346 2271l16 7-12 24-17-7z"/><path class="c40" d="M2330 2264l16 7-13 24-16-8z"/><path class="c42" d="M2314 2257l16 7-13 23-16-7z"/><path class="c43" d="M2297 2251l17 6-13 23-16-8z"/><path class="c45" d="M2281 2245l16 6-12 21-16-7z"/><path class="c46" d="M2265 2240l16 5-12 20-17-6z"/><path class="c48" d="M2249 2236l16 4-13 19-16-5z"/><path class="c49" d="M2233 2234l16 2-13 18-16-3z"/><path class="c50" d="M2216 2233l17 1-13 17-16-3z"/><path class="c38" d="M3023 2101l16 7-13 7-16-6z"/><path class="c40" d="M3007 2093l16 8-13 8-16-8z"/><path class="c41" d="M2990 2083l17 10-13 8-16-8z"/><path class="c43" d="M2974 2074l16 9-12 10-16-9z"/><path class="c45" d="M2958 2064l16 10-12 10-17-9z"/><path class="c47" d="M2942 2053l16 11-13 11-16-9z"/><path class="c49" d="M2926 2044l16 9-13 13-16-10z"/><path class="c51" d="M2909 2034l17 10-13 12-16-8z"/><path class="c52" d="M2893 2026l16 8-12 14-16-8z"/><path class="c54" d="M2877 2019l16 7-12 14-17-7z"/><path class="c55" d="M2861 2014l16 5-13 14-16-4z"/><path class="c56" d="M2845 2011l16 3-13 15-16-3z"/><path class="c57" d="M2828 2011l17 0-13 15-16-1z"/><path class="c58" d="M2812 2012l16-1-12 14-16 2zm-16 5l16-5-12 15-17 4zm-16 6l16-6-13 14-16 7z"/><path class="c57" d="M2764 2033l16-10-13 15-16 10zm-17 12l17-12-13 15-16 11z"/><path class="c56" d="M2731 2059l16-14-12 14-16 14z"/><path class="c54" d="M2715 2074l16-15-12 14-17 16z"/><path class="c53" d="M2699 2092l16-18-13 15-16 18z"/><path class="c51" d="M2683 2110l16-18-13 15-16 18z"/><path class="c49" d="M2666 2129l17-19-13 15-16 20z"/><path class="c47" d="M2650 2148l16-19-12 16-16 19z"/><path class="c45" d="M2634 2167l16-19-12 16-17 20z"/><path class="c43" d="M2618 2185l16-18-13 17-16 18z"/><path class="c41" d="M2602 2203l16-18-13 17-16 18z"/><path class="c40" d="M2585 2219l17-16-13 17-16 17z"/><path class="c38" d="M2569 2233l16-14-12 18-16 15z"/><path class="c37" d="M2553 2245l16-12-12 19-17 13z"/><path class="c36" d="M2537 2255l16-10-13 20-16 11zm-16 9l16-9-13 21-16 8z"/><path class="c35" d="M2504 2270l17-6-13 20-16 7zm-16 4l16-4-12 21-16 4zm-16 2l16-2-12 21-17 3z"/><path class="c36" d="M2456 2276l16 0-13 22-16 0z"/><path class="c37" d="M2440 2274l16 2-13 22-16-1zm-17-3l17 3-13 23-16-3z"/><path class="c39" d="M2407 2267l16 4-12 23-16-4z"/><path class="c40" d="M2391 2262l16 5-12 23-17-6z"/><path class="c41" d="M2375 2256l16 6-13 22-16-6z"/><path class="c43" d="M2359 2250l16 6-13 22-16-7z"/><path class="c44" d="M2342 2244l17 6-13 21-16-7z"/><path class="c45" d="M2326 2238l16 6-12 20-16-7z"/><path class="c47" d="M2310 2232l16 6-12 19-17-6z"/><path class="c48" d="M2294 2227l16 5-13 19-16-6z"/><path class="c49" d="M2278 2224l16 3-13 18-16-5z"/><path class="c51" d="M2261 2221l17 3-13 16-16-4zm-16-1l16 1-12 15-16-2z"/><path class="c52" d="M2229 2221l16-1-12 14-17-1z"/><path class="c40" d="M3035 2094l16 8-12 6-16-7z"/><path class="c42" d="M3019 2085l16 9-12 7-16-8z"/><path class="c43" d="M3003 2075l16 10-12 8-17-10z"/><path class="c45" d="M2987 2065l16 10-13 8-16-9z"/><path class="c47" d="M2970 2054l17 11-13 9-16-10z"/><path class="c49" d="M2954 2044l16 10-12 10-16-11z"/><path class="c51" d="M2938 2033l16 11-12 9-16-9z"/><path class="c53" d="M2922 2024l16 9-12 11-17-10z"/><path class="c55" d="M2906 2016l16 8-13 10-16-8z"/><path class="c56" d="M2889 2009l17 7-13 10-16-7z"/><path class="c58" d="M2873 2004l16 5-12 10-16-5z"/><path class="c59" d="M2857 2001l16 3-12 10-16-3z"/><path class="c60" d="M2841 2000l16 1-12 10-17 0zm-16 2l16-2-13 11-16 1zm-17 5l17-5-13 10-16 5zm-16 7l16-7-12 10-16 6zm-16 9l16-9-12 9-16 10z"/><path class="c59" d="M2760 2035l16-12-12 10-17 12z"/><path class="c58" d="M2744 2049l16-14-13 10-16 14z"/><path class="c57" d="M2727 2064l17-15-13 10-16 15z"/><path class="c55" d="M2711 2081l16-17-12 10-16 18z"/><path class="c53" d="M2695 2099l16-18-12 11-16 18z"/><path class="c52" d="M2679 2118l16-19-12 11-17 19z"/><path class="c50" d="M2663 2136l16-18-13 11-16 19z"/><path class="c48" d="M2646 2154l17-18-13 12-16 19z"/><path class="c46" d="M2630 2172l16-18-12 13-16 18z"/><path class="c44" d="M2614 2188l16-16-12 13-16 18z"/><path class="c43" d="M2598 2203l16-15-12 15-17 16z"/><path class="c41" d="M2582 2217l16-14-13 16-16 14z"/><path class="c40" d="M2565 2228l17-11-13 16-16 12zm-16 10l16-10-12 17-16 10z"/><path class="c39" d="M2533 2245l16-7-12 17-16 9zm-16 6l16-6-12 19-17 6zm-16 3l16-3-13 19-16 4zm-17 2l17-2-13 20-16 2zm-16 0l16 0-12 20-16 0z"/><path class="c40" d="M2452 2254l16 2-12 20-16-2z"/><path class="c41" d="M2436 2251l16 3-12 20-17-3z"/><path class="c42" d="M2420 2247l16 4-13 20-16-4z"/><path class="c43" d="M2403 2242l17 5-13 20-16-5z"/><path class="c45" d="M2387 2237l16 5-12 20-16-6z"/><path class="c46" d="M2371 2232l16 5-12 19-16-6z"/><path class="c47" d="M2355 2226l16 6-12 18-17-6z"/><path class="c49" d="M2339 2221l16 5-13 18-16-6z"/><path class="c50" d="M2322 2217l17 4-13 17-16-6z"/><path class="c51" d="M2306 2214l16 3-12 15-16-5z"/><path class="c52" d="M2290 2211l16 3-12 13-16-3z"/><path class="c53" d="M2274 2210l16 1-12 13-17-3z"/><path class="c54" d="M2258 2211l16-1-13 11-16-1zm-17 2l17-2-13 9-16 1z"/><path class="c41" d="M3048 2089l16 8-13 5-16-8z"/><path class="c43" d="M3032 2079l16 10-13 5-16-9z"/><path class="c45" d="M3015 2069l17 10-13 6-16-10z"/><path class="c47" d="M2999 2058l16 11-12 6-16-10z"/><path class="c49" d="M2983 2047l16 11-12 7-17-11z"/><path class="c51" d="M2967 2037l16 10-13 7-16-10z"/><path class="c53" d="M2951 2027l16 10-13 7-16-11z"/><path class="c55" d="M2934 2017l17 10-13 6-16-9z"/><path class="c57" d="M2918 2009l16 8-12 7-16-8z"/><path class="c58" d="M2902 2003l16 6-12 7-17-7z"/><path class="c60" d="M2886 1998l16 5-13 6-16-5z"/><path class="c61" d="M2870 1996l16 2-13 6-16-3zm-17-1l17 1-13 5-16-1z"/><path class="c62" d="M2837 1998l16-3-12 5-16 2zm-16 4l16-4-12 4-17 5zm-16 8l16-8-13 5-16 7z"/><path class="c61" d="M2789 2019l16-9-13 4-16 9zm-17 12l17-12-13 4-16 12z"/><path class="c60" d="M2756 2045l16-14-12 4-16 14z"/><path class="c58" d="M2740 2060l16-15-12 4-17 15z"/><path class="c57" d="M2724 2077l16-17-13 4-16 17z"/><path class="c55" d="M2708 2094l16-17-13 4-16 18z"/><path class="c53" d="M2691 2112l17-18-13 5-16 19z"/><path class="c52" d="M2675 2130l16-18-12 6-16 18z"/><path class="c50" d="M2659 2147l16-17-12 6-17 18z"/><path class="c48" d="M2643 2164l16-17-13 7-16 18z"/><path class="c47" d="M2627 2179l16-15-13 8-16 16z"/><path class="c45" d="M2610 2193l17-14-13 9-16 15z"/><path class="c44" d="M2594 2205l16-12-12 10-16 14z"/><path class="c43" d="M2578 2215l16-10-12 12-17 11z"/><path class="c42" d="M2562 2224l16-9-13 13-16 10zm-16 7l16-7-13 14-16 7zm-17 4l17-4-13 14-16 6zm-16 3l16-3-12 16-16 3zm-16 1l16-1-12 16-17 2z"/><path class="c43" d="M2481 2239l16 0-13 17-16 0zm-16-2l16 2-13 17-16-2z"/><path class="c44" d="M2448 2235l17 2-13 17-16-3z"/><path class="c45" d="M2432 2231l16 4-12 16-16-4z"/><path class="c46" d="M2416 2227l16 4-12 16-17-5z"/><path class="c48" d="M2400 2222l16 5-13 15-16-5z"/><path class="c49" d="M2384 2218l16 4-13 15-16-5z"/><path class="c50" d="M2367 2213l17 5-13 14-16-6z"/><path class="c51" d="M2351 2210l16 3-12 13-16-5z"/><path class="c52" d="M2335 2206l16 4-12 11-17-4z"/><path class="c54" d="M2319 2204l16 2-13 11-16-3zm-16-1l16 1-13 10-16-3z"/><path class="c55" d="M2286 2203l17 0-13 8-16-1z"/><path class="c56" d="M2270 2205l16-2-12 7-16 1zm-16 4l16-4-12 6-17 2z"/><path class="c43" d="M3060 2085l17 9-13 3-16-8z"/><path class="c45" d="M3044 2076l16 9-12 4-16-10z"/><path class="c46" d="M3028 2065l16 11-12 3-17-10z"/><path class="c48" d="M3012 2055l16 10-13 4-16-11z"/><path class="c50" d="M2996 2044l16 11-13 3-16-11z"/><path class="c52" d="M2979 2034l17 10-13 3-16-10z"/><path class="c54" d="M2963 2024l16 10-12 3-16-10z"/><path class="c56" d="M2947 2015l16 9-12 3-17-10z"/><path class="c58" d="M2931 2008l16 7-13 2-16-8z"/><path class="c59" d="M2915 2002l16 6-13 1-16-6z"/><path class="c61" d="M2898 1998l17 4-13 1-16-5z"/><path class="c62" d="M2882 1996l16 2-12 0-16-2zm-16 1l16-1-12 0-17-1z"/><path class="c63" d="M2850 2000l16-3-13-2-16 3zm-16 5l16-5-13-2-16 4zm-17 8l17-8-13-3-16 8z"/><path class="c62" d="M2801 2023l16-10-12-3-16 9z"/><path class="c61" d="M2785 2034l16-11-12-4-17 12z"/><path class="c60" d="M2769 2048l16-14-13-3-16 14z"/><path class="c59" d="M2753 2063l16-15-13-3-16 15z"/><path class="c58" d="M2736 2079l17-16-13-3-16 17z"/><path class="c56" d="M2720 2096l16-17-12-2-16 17z"/><path class="c54" d="M2704 2113l16-17-12-2-17 18z"/><path class="c53" d="M2688 2129l16-16-13-1-16 18z"/><path class="c51" d="M2672 2146l16-17-13 1-16 17z"/><path class="c50" d="M2655 2161l17-15-13 1-16 17z"/><path class="c48" d="M2639 2175l16-14-12 3-16 15z"/><path class="c47" d="M2623 2187l16-12-12 4-17 14z"/><path class="c46" d="M2607 2198l16-11-13 6-16 12z"/><path class="c45" d="M2591 2208l16-10-13 7-16 10zm-17 7l17-7-13 7-16 9z"/><path class="c44" d="M2558 2221l16-6-12 9-16 7zm-16 3l16-3-12 10-17 4zm-16 3l16-3-13 11-16 3z"/><path class="c45" d="M2510 2227l16 0-13 11-16 1zm-17 0l17 0-13 12-16 0z"/><path class="c46" d="M2477 2225l16 2-12 12-16-2z"/><path class="c47" d="M2461 2222l16 3-12 12-17-2z"/><path class="c48" d="M2445 2219l16 3-13 13-16-4z"/><path class="c49" d="M2429 2216l16 3-13 12-16-4z"/><path class="c50" d="M2412 2212l17 4-13 11-16-5z"/><path class="c51" d="M2396 2208l16 4-12 10-16-4z"/><path class="c52" d="M2380 2205l16 3-12 10-17-5z"/><path class="c53" d="M2364 2202l16 3-13 8-16-3z"/><path class="c54" d="M2348 2201l16 1-13 8-16-4z"/><path class="c55" d="M2331 2200l17 1-13 5-16-2z"/><path class="c56" d="M2315 2200l16 0-12 4-16-1z"/><path class="c57" d="M2299 2202l16-2-12 3-17 0zm-16 3l16-3-13 1-16 2zm-16 4l16-4-13 0-16 4z"/><path class="c44" d="M3073 2084l16 9-12 1-17-9z"/><path class="c46" d="M3057 2075l16 9-13 1-16-9z"/><path class="c48" d="M3040 2065l17 10-13 1-16-11z"/><path class="c49" d="M3024 2054l16 11-12 0-16-10z"/><path class="c51" d="M3008 2044l16 10-12 1-16-11z"/><path class="c53" d="M2992 2035l16 9-12 0-17-10z"/><path class="c55" d="M2976 2026l16 9-13-1-16-10z"/><path class="c57" d="M2960 2018l16 8-13-2-16-9z"/><path class="c59" d="M2943 2011l17 7-13-3-16-7z"/><path class="c60" d="M2927 2007l16 4-12-3-16-6z"/><path class="c61" d="M2911 2004l16 3-12-5-17-4z"/><path class="c62" d="M2895 2003l16 1-13-6-16-2z"/><path class="c63" d="M2878 2005l17-2-13-7-16 1zm-16 4l16-4-12-8-16 3zm-16 6l16-6-12-9-16 5zm-16 8l16-8-12-10-17 8z"/><path class="c62" d="M2814 2033l16-10-13-10-16 10z"/><path class="c61" d="M2797 2045l17-12-13-10-16 11z"/><path class="c60" d="M2781 2059l16-14-12-11-16 14z"/><path class="c59" d="M2765 2074l16-15-12-11-16 15z"/><path class="c58" d="M2749 2089l16-15-12-11-17 16z"/><path class="c56" d="M2733 2105l16-16-13-10-16 17z"/><path class="c55" d="M2716 2121l17-16-13-9-16 17z"/><path class="c53" d="M2700 2136l16-15-12-8-16 16z"/><path class="c52" d="M2684 2151l16-15-12-7-16 17z"/><path class="c50" d="M2668 2165l16-14-12-5-17 15z"/><path class="c49" d="M2652 2177l16-12-13-4-16 14z"/><path class="c48" d="M2635 2188l17-11-13-2-16 12z"/><path class="c47" d="M2619 2198l16-10-12-1-16 11z"/><path class="c46" d="M2603 2205l16-7-12 0-16 10zm-16 6l16-6-12 3-17 7zm-16 5l16-5-13 4-16 6zm-17 3l17-3-13 5-16 3zm-16 1l16-1-12 5-16 3z"/><path class="c47" d="M2522 2220l16 0-12 7-16 0zm-16-1l16 1-12 7-17 0z"/><path class="c48" d="M2490 2218l16 1-13 8-16-2z"/><path class="c49" d="M2474 2215l16 3-13 7-16-3z"/><path class="c50" d="M2457 2213l17 2-13 7-16-3z"/><path class="c51" d="M2441 2210l16 3-12 6-16-3z"/><path class="c52" d="M2425 2207l16 3-12 6-17-4z"/><path class="c53" d="M2409 2204l16 3-13 5-16-4z"/><path class="c54" d="M2392 2202l17 2-13 4-16-3z"/><path class="c55" d="M2376 2200l16 2-12 3-16-3z"/><path class="c56" d="M2360 2200l16 0-12 2-16-1zm-16 0l16 0-12 1-17-1z"/><path class="c57" d="M2328 2202l16-2-13 0-16 0zm-16 2l16-2-13-2-16 2z"/><path class="c58" d="M2295 2209l17-5-13-2-16 3zm-16 5l16-5-12-4-16 4z"/><path class="c45" d="M3085 2086l17 9-13-2-16-9z"/><path class="c46" d="M3069 2077l16 9-12-2-16-9z"/><path class="c48" d="M3053 2067l16 10-12-2-17-10z"/><path class="c50" d="M3037 2058l16 9-13-2-16-11z"/><path class="c52" d="M3021 2049l16 9-13-4-16-10z"/><path class="c54" d="M3004 2040l17 9-13-5-16-9z"/><path class="c56" d="M2988 2032l16 8-12-5-16-9z"/><path class="c57" d="M2972 2026l16 6-12-6-16-8z"/><path class="c59" d="M2956 2021l16 5-12-8-17-7z"/><path class="c60" d="M2940 2018l16 3-13-10-16-4z"/><path class="c61" d="M2923 2016l17 2-13-11-16-3z"/><path class="c62" d="M2907 2017l16-1-12-12-16-1zm-16 3l16-3-12-14-17 2zm-16 5l16-5-13-15-16 4zm-16 7l16-7-13-16-16 6zm-17 9l17-9-13-17-16 8z"/><path class="c61" d="M2826 2052l16-11-12-18-16 10z"/><path class="c60" d="M2810 2064l16-12-12-19-17 12z"/><path class="c59" d="M2794 2078l16-14-13-19-16 14z"/><path class="c58" d="M2778 2092l16-14-13-19-16 15z"/><path class="c56" d="M2761 2107l17-15-13-18-16 15z"/><path class="c55" d="M2745 2122l16-15-12-18-16 16z"/><path class="c54" d="M2729 2136l16-14-12-17-17 16z"/><path class="c52" d="M2713 2150l16-14-13-15-16 15z"/><path class="c51" d="M2697 2164l16-14-13-14-16 15z"/><path class="c50" d="M2680 2176l17-12-13-13-16 14z"/><path class="c49" d="M2664 2186l16-10-12-11-16 12z"/><path class="c48" d="M2648 2196l16-10-12-9-17 11z"/><path class="c47" d="M2632 2203l16-7-13-8-16 10zm-16 6l16-6-13-5-16 7zm-17 5l17-5-13-4-16 6zm-16 3l16-3-12-3-16 5zm-16 2l16-2-12-1-17 3zm-16 0l16 0-13 0-16 1z"/><path class="c48" d="M2535 2219l16 0-13 1-16 0z"/><path class="c49" d="M2518 2218l17 1-13 1-16-1zm-16-2l16 2-12 1-16-1z"/><path class="c50" d="M2486 2214l16 2-12 2-16-3z"/><path class="c51" d="M2470 2211l16 3-12 1-17-2z"/><path class="c52" d="M2454 2209l16 2-13 2-16-3z"/><path class="c53" d="M2437 2207l17 2-13 1-16-3z"/><path class="c54" d="M2421 2205l16 2-12 0-16-3z"/><path class="c55" d="M2405 2204l16 1-12-1-17-2z"/><path class="c56" d="M2389 2204l16 0-13-2-16-2zm-16 0l16 0-13-4-16 0z"/><path class="c57" d="M2356 2206l17-2-13-4-16 0zm-16 2l16-2-12-6-16 2z"/><path class="c58" d="M2324 2212l16-4-12-6-16 2zm-16 5l16-5-12-8-17 5zm-16 7l16-7-13-8-16 5z"/><path class="c45" d="M3098 2090l16 8-12-3-17-9z"/><path class="c47" d="M3082 2082l16 8-13-4-16-9z"/><path class="c48" d="M3066 2073l16 9-13-5-16-10z"/><path class="c50" d="M3049 2065l17 8-13-6-16-9z"/><path class="c52" d="M3033 2057l16 8-12-7-16-9z"/><path class="c54" d="M3017 2050l16 7-12-8-17-9z"/><path class="c55" d="M3001 2044l16 6-13-10-16-8z"/><path class="c57" d="M2985 2039l16 5-13-12-16-6z"/><path class="c58" d="M2968 2036l17 3-13-13-16-5z"/><path class="c59" d="M2952 2034l16 2-12-15-16-3z"/><path class="c60" d="M2936 2035l16-1-12-16-17-2zm-16 2l16-2-13-19-16 1z"/><path class="c61" d="M2904 2042l16-5-13-20-16 3zm-17 6l17-6-13-22-16 5z"/><path class="c60" d="M2871 2056l16-8-12-23-16 7zm-16 10l16-10-12-24-17 9z"/><path class="c59" d="M2839 2078l16-12-13-25-16 11z"/><path class="c58" d="M2823 2090l16-12-13-26-16 12z"/><path class="c57" d="M2806 2104l17-14-13-26-16 14z"/><path class="c56" d="M2790 2118l16-14-12-26-16 14z"/><path class="c54" d="M2774 2132l16-14-12-26-17 15z"/><path class="c53" d="M2758 2146l16-14-13-25-16 15z"/><path class="c52" d="M2742 2159l16-13-13-24-16 14z"/><path class="c51" d="M2725 2172l17-13-13-23-16 14z"/><path class="c50" d="M2709 2183l16-11-12-22-16 14z"/><path class="c49" d="M2693 2194l16-11-12-19-17 12z"/><path class="c48" d="M2677 2202l16-8-13-18-16 10z"/><path class="c47" d="M2661 2210l16-8-13-16-16 10zm-17 5l17-5-13-14-16 7zm-16 5l16-5-12-12-16 6zm-16 3l16-3-12-11-17 5zm-16 1l16-1-13-9-16 3zm-16 1l16-1-13-7-16 2z"/><path class="c48" d="M2563 2225l17 0-13-6-16 0zm-16-1l16 1-12-6-16 0z"/><path class="c49" d="M2531 2222l16 2-12-5-17-1z"/><path class="c50" d="M2515 2220l16 2-13-4-16-2z"/><path class="c51" d="M2499 2218l16 2-13-4-16-2z"/><path class="c52" d="M2482 2216l17 2-13-4-16-3z"/><path class="c53" d="M2466 2214l16 2-12-5-16-2z"/><path class="c54" d="M2450 2213l16 1-12-5-17-2zm-16-1l16 1-13-6-16-2z"/><path class="c55" d="M2418 2211l16 1-13-7-16-1z"/><path class="c56" d="M2401 2212l17-1-13-7-16 0zm-16 2l16-2-12-8-16 0z"/><path class="c57" d="M2369 2216l16-2-12-10-17 2zm-16 4l16-4-13-10-16 2zm-16 4l16-4-13-12-16 4zm-17 6l17-6-13-12-16 5zm-16 7l16-7-12-13-16 7z"/><path class="c45" d="M3111 2097l16 8-13-7-16-8z"/><path class="c47" d="M3094 2090l17 7-13-7-16-8z"/><path class="c48" d="M3078 2083l16 7-12-8-16-9z"/><path class="c50" d="M3062 2076l16 7-12-10-17-8z"/><path class="c51" d="M3046 2069l16 7-13-11-16-8z"/><path class="c53" d="M3030 2064l16 5-13-12-16-7z"/><path class="c54" d="M3013 2060l17 4-13-14-16-6z"/><path class="c56" d="M2997 2057l16 3-12-16-16-5z"/><path class="c57" d="M2981 2056l16 1-12-18-17-3zm-16 0l16 0-13-20-16-2z"/><path class="c58" d="M2949 2059l16-3-13-22-16 1zm-17 4l17-4-13-24-16 2zm-16 6l16-6-12-26-16 5zm-16 8l16-8-12-27-17 6z"/><path class="c57" d="M2884 2087l16-10-13-29-16 8zm-16 11l16-11-13-31-16 10z"/><path class="c56" d="M2851 2110l17-12-13-32-16 12z"/><path class="c55" d="M2835 2123l16-13-12-32-16 12z"/><path class="c54" d="M2819 2137l16-14-12-33-17 14z"/><path class="c53" d="M2803 2151l16-14-13-33-16 14z"/><path class="c51" d="M2787 2164l16-13-13-33-16 14z"/><path class="c50" d="M2770 2177l17-13-13-32-16 14z"/><path class="c49" d="M2754 2189l16-12-12-31-16 13z"/><path class="c48" d="M2738 2200l16-11-12-30-17 13z"/><path class="c47" d="M2722 2210l16-10-13-28-16 11zm-16 8l16-8-13-27-16 11z"/><path class="c46" d="M2689 2225l17-7-13-24-16 8zm-16 5l16-5-12-23-16 8zm-16 4l16-4-12-20-17 5zm-16 2l16-2-13-19-16 5zm-16 1l16-1-13-16-16 3zm-17 1l17-1-13-14-16 1z"/><path class="c47" d="M2592 2237l16 1-12-14-16 1zm-16-1l16 1-12-12-17 0z"/><path class="c48" d="M2560 2234l16 2-13-11-16-1z"/><path class="c49" d="M2544 2232l16 2-13-10-16-2z"/><path class="c50" d="M2527 2230l17 2-13-10-16-2z"/><path class="c51" d="M2511 2228l16 2-12-10-16-2z"/><path class="c52" d="M2495 2226l16 2-12-10-17-2z"/><path class="c53" d="M2479 2224l16 2-13-10-16-2zm-16 0l16 0-13-10-16-1z"/><path class="c54" d="M2446 2223l17 1-13-11-16-1z"/><path class="c55" d="M2430 2224l16-1-12-11-16-1zm-16 1l16-1-12-13-17 1z"/><path class="c56" d="M2398 2228l16-3-13-13-16 2zm-16 3l16-3-13-14-16 2zm-17 4l17-4-13-15-16 4zm-16 6l16-6-12-15-16 4zm-16 6l16-6-12-17-17 6zm-16 8l16-8-13-17-16 7z"/><path class="c45" d="M3123 2107l16 6-12-8-16-8z"/><path class="c46" d="M3107 2101l16 6-12-10-17-7z"/><path class="c48" d="M3091 2095l16 6-13-11-16-7z"/><path class="c49" d="M3074 2090l17 5-13-12-16-7z"/><path class="c51" d="M3058 2086l16 4-12-14-16-7z"/><path class="c52" d="M3042 2082l16 4-12-17-16-5z"/><path class="c53" d="M3026 2080l16 2-12-18-17-4z"/><path class="c54" d="M3010 2079l16 1-13-20-16-3z"/><path class="c55" d="M2993 2080l17-1-13-22-16-1zm-16 3l16-3-12-24-16 0zm-16 5l16-5-12-27-16 3zm-16 6l16-6-12-29-17 4zm-16 8l16-8-13-31-16 6zm-17 10l17-10-13-33-16 8z"/><path class="c54" d="M2896 2123l16-11-12-35-16 10z"/><path class="c53" d="M2880 2135l16-12-12-36-16 11z"/><path class="c52" d="M2864 2148l16-13-12-37-17 12z"/><path class="c51" d="M2848 2162l16-14-13-38-16 13z"/><path class="c50" d="M2831 2176l17-14-13-39-16 14z"/><path class="c49" d="M2815 2189l16-13-12-39-16 14z"/><path class="c48" d="M2799 2202l16-13-12-38-16 13z"/><path class="c46" d="M2783 2213l16-11-12-38-17 13zm-16 11l16-11-13-36-16 12z"/><path class="c45" d="M2750 2234l17-10-13-35-16 11z"/><path class="c44" d="M2734 2241l16-7-12-34-16 10zm-16 7l16-7-12-31-16 8z"/><path class="c43" d="M2702 2253l16-5-12-30-17 7zm-16 3l16-3-13-28-16 5zm-17 2l17-2-13-26-16 4z"/><path class="c44" d="M2653 2258l16 0-12-24-16 2zm-16 0l16 0-12-22-16 1z"/><path class="c45" d="M2621 2257l16 1-12-21-17 1z"/><path class="c46" d="M2605 2255l16 2-13-19-16-1zm-17-3l17 3-13-18-16-1z"/><path class="c47" d="M2572 2250l16 2-12-16-16-2z"/><path class="c48" d="M2556 2247l16 3-12-16-16-2z"/><path class="c49" d="M2540 2245l16 2-12-15-17-2z"/><path class="c50" d="M2524 2243l16 2-13-15-16-2z"/><path class="c51" d="M2507 2241l17 2-13-15-16-2z"/><path class="c52" d="M2491 2240l16 1-12-15-16-2zm-16 0l16 0-12-16-16 0z"/><path class="c53" d="M2459 2240l16 0-12-16-17-1zm-16 1l16-1-13-17-16 1z"/><path class="c54" d="M2426 2243l17-2-13-17-16 1zm-16 3l16-3-12-18-16 3zm-16 4l16-4-12-18-16 3z"/><path class="c55" d="M2378 2255l16-5-12-19-17 4z"/><path class="c54" d="M2362 2261l16-6-13-20-16 6zm-17 7l17-7-13-20-16 6zm-16 7l16-7-12-21-16 8z"/><path class="c44" d="M3136 2119l16 5-13-11-16-6z"/><path class="c45" d="M3119 2115l17 4-13-12-16-6z"/><path class="c47" d="M3103 2111l16 4-12-14-16-6z"/><path class="c48" d="M3087 2107l16 4-12-16-17-5z"/><path class="c49" d="M3071 2105l16 2-13-17-16-4z"/><path class="c50" d="M3055 2104l16 1-13-19-16-4z"/><path class="c51" d="M3038 2104l17 0-13-22-16-2z"/><path class="c52" d="M3022 2105l16-1-12-24-16-1zm-16 4l16-4-12-26-17 1zm-16 5l16-5-13-29-16 3zm-16 7l16-7-13-31-16 5zm-17 8l17-8-13-33-16 6z"/><path class="c51" d="M2941 2139l16-10-12-35-16 8zm-16 12l16-12-12-37-17 10z"/><path class="c50" d="M2909 2164l16-13-13-39-16 11z"/><path class="c49" d="M2893 2177l16-13-13-41-16 12z"/><path class="c48" d="M2876 2191l17-14-13-42-16 13z"/><path class="c46" d="M2860 2205l16-14-12-43-16 14z"/><path class="c45" d="M2844 2219l16-14-12-43-17 14z"/><path class="c44" d="M2828 2232l16-13-13-43-16 13z"/><path class="c43" d="M2812 2244l16-12-13-43-16 13z"/><path class="c42" d="M2795 2255l17-11-13-42-16 11z"/><path class="c41" d="M2779 2264l16-9-12-42-16 11zm-16 8l16-8-12-40-17 10z"/><path class="c40" d="M2747 2278l16-6-13-38-16 7zm-16 4l16-4-13-37-16 7zm-17 3l17-3-13-34-16 5zm-16 2l16-2-12-32-16 3z"/><path class="c41" d="M2682 2286l16 1-12-31-17 2zm-16-1l16 1-13-28-16 0z"/><path class="c42" d="M2650 2283l16 2-13-27-16 0z"/><path class="c43" d="M2633 2280l17 3-13-25-16-1z"/><path class="c44" d="M2617 2277l16 3-12-23-16-2z"/><path class="c45" d="M2601 2274l16 3-12-22-17-3z"/><path class="c46" d="M2585 2271l16 3-13-22-16-2z"/><path class="c47" d="M2569 2267l16 4-13-21-16-3z"/><path class="c48" d="M2552 2265l17 2-13-20-16-2zm-16-2l16 2-12-20-16-2z"/><path class="c49" d="M2520 2261l16 2-12-20-17-2z"/><path class="c50" d="M2504 2260l16 1-13-20-16-1z"/><path class="c51" d="M2488 2260l16 0-13-20-16 0zm-17 1l17-1-13-20-16 0z"/><path class="c52" d="M2455 2263l16-2-12-21-16 1zm-16 2l16-2-12-22-17 2zm-16 4l16-4-13-22-16 3zm-16 4l16-4-13-23-16 4z"/><path class="c53" d="M2390 2278l17-5-13-23-16 5z"/><path class="c52" d="M2374 2284l16-6-12-23-16 6zm-16 7l16-7-12-23-17 7zm-16 7l16-7-13-23-16 7z"/><path class="c43" d="M3148 2134l16 3-12-13-16-5z"/><path class="c44" d="M3132 2131l16 3-12-15-17-4z"/><path class="c45" d="M3116 2129l16 2-13-16-16-4z"/><path class="c46" d="M3100 2127l16 2-13-18-16-4z"/><path class="c47" d="M3083 2127l17 0-13-20-16-2z"/><path class="c48" d="M3067 2128l16-1-12-22-16-1z"/><path class="c49" d="M3051 2130l16-2-12-24-17 0zm-16 4l16-4-13-26-16 1zm-16 6l16-6-13-29-16 4zm-17 7l17-7-13-31-16 5zm-16 10l16-10-12-33-16 7z"/><path class="c48" d="M2970 2167l16-10-12-36-17 8z"/><path class="c47" d="M2954 2179l16-12-13-38-16 10z"/><path class="c46" d="M2938 2193l16-14-13-40-16 12z"/><path class="c45" d="M2921 2207l17-14-13-42-16 13z"/><path class="c44" d="M2905 2221l16-14-12-43-16 13z"/><path class="c43" d="M2889 2236l16-15-12-44-17 14z"/><path class="c41" d="M2873 2250l16-14-13-45-16 14z"/><path class="c40" d="M2857 2264l16-14-13-45-16 14z"/><path class="c39" d="M2840 2277l17-13-13-45-16 13z"/><path class="c38" d="M2824 2289l16-12-12-45-16 12z"/><path class="c37" d="M2808 2298l16-9-12-45-17 11zm-16 9l16-9-13-43-16 9z"/><path class="c36" d="M2776 2313l16-6-13-43-16 8zm-17 5l17-5-13-41-16 6zm-16 2l16-2-12-40-16 4zm-16 1l16-1-12-38-17 3z"/><path class="c37" d="M2711 2321l16 0-13-36-16 2zm-16-2l16 2-13-34-16-1z"/><path class="c38" d="M2678 2316l17 3-13-33-16-1z"/><path class="c39" d="M2662 2313l16 3-12-31-16-2z"/><path class="c40" d="M2646 2308l16 5-12-30-17-3z"/><path class="c41" d="M2630 2304l16 4-13-28-16-3z"/><path class="c42" d="M2614 2300l16 4-13-27-16-3z"/><path class="c43" d="M2597 2296l17 4-13-26-16-3z"/><path class="c44" d="M2581 2292l16 4-12-25-16-4z"/><path class="c45" d="M2565 2289l16 3-12-25-17-2z"/><path class="c46" d="M2549 2287l16 2-13-24-16-2z"/><path class="c47" d="M2533 2285l16 2-13-24-16-2z"/><path class="c48" d="M2516 2285l17 0-13-24-16-1z"/><path class="c49" d="M2500 2285l16 0-12-25-16 0zm-16 1l16-1-12-25-17 1zm-16 2l16-2-13-25-16 2z"/><path class="c50" d="M2452 2291l16-3-13-25-16 2zm-17 3l17-3-13-26-16 4zm-16 5l16-5-12-25-16 4zm-16 5l16-5-12-26-17 5zm-16 5l16-5-13-26-16 6zm-16 7l16-7-13-25-16 7z"/><path class="c49" d="M2354 2323l17-7-13-25-16 7z"/><path class="c42" d="M3161 2150l16 1-13-14-16-3z"/><path class="c43" d="M3144 2149l17 1-13-16-16-3z"/><path class="c44" d="M3128 2148l16 1-12-18-16-2z"/><path class="c45" d="M3112 2149l16-1-12-19-16-2zm-16 2l16-2-12-22-17 0z"/><path class="c46" d="M3080 2154l16-3-13-24-16 1zm-17 5l17-5-13-26-16 2zm-16 6l16-6-12-29-16 4zm-16 8l16-8-12-31-16 6z"/><path class="c45" d="M3015 2183l16-10-12-33-17 7zm-16 11l16-11-13-36-16 10z"/><path class="c44" d="M2982 2207l17-13-13-37-16 10z"/><path class="c43" d="M2966 2221l16-14-12-40-16 12z"/><path class="c42" d="M2950 2236l16-15-12-42-16 14z"/><path class="c40" d="M2934 2251l16-15-12-43-17 14z"/><path class="c39" d="M2918 2267l16-16-13-44-16 14z"/><path class="c38" d="M2901 2282l17-15-13-46-16 15z"/><path class="c36" d="M2885 2297l16-15-12-46-16 14z"/><path class="c35" d="M2869 2311l16-14-12-47-16 14z"/><path class="c34" d="M2853 2324l16-13-12-47-17 13z"/><path class="c33" d="M2837 2335l16-11-13-47-16 12z"/><path class="c32" d="M2820 2344l17-9-13-46-16 9zm-16 7l16-7-12-46-16 9z"/><path class="c31" d="M2788 2356l16-5-12-44-16 6zm-16 3l16-3-12-43-17 5z"/><path class="c32" d="M2756 2360l16-1-13-41-16 2zm-17 0l17 0-13-40-16 1z"/><path class="c33" d="M2723 2357l16 3-12-39-16 0zm-16-3l16 3-12-36-16-2z"/><path class="c35" d="M2691 2350l16 4-12-35-17-3z"/><path class="c36" d="M2675 2345l16 5-13-34-16-3z"/><path class="c37" d="M2658 2340l17 5-13-32-16-5z"/><path class="c38" d="M2642 2334l16 6-12-32-16-4z"/><path class="c39" d="M2626 2329l16 5-12-30-16-4z"/><path class="c40" d="M2610 2324l16 5-12-29-17-4z"/><path class="c42" d="M2594 2320l16 4-13-28-16-4z"/><path class="c43" d="M2577 2317l17 3-13-28-16-3z"/><path class="c44" d="M2561 2315l16 2-12-28-16-2z"/><path class="c45" d="M2545 2313l16 2-12-28-16-2zm-16-1l16 1-12-28-17 0z"/><path class="c46" d="M2513 2313l16-1-13-27-16 0zm-17 1l17-1-13-28-16 1z"/><path class="c47" d="M2480 2316l16-2-12-28-16 2zm-16 3l16-3-12-28-16 3zm-16 3l16-3-12-28-17 3zm-16 4l16-4-13-28-16 5zm-17 5l17-5-13-27-16 5zm-16 6l16-6-12-27-16 5zm-16 6l16-6-12-28-16 7zm-16 7l16-7-12-27-17 7z"/><path class="c41" d="M3173 2167l16 0-12-16-16-1z"/><path class="c42" d="M3157 2168l16-1-12-17-17-1zm-16 1l16-1-13-19-16-1z"/><path class="c43" d="M3125 2172l16-3-13-21-16 1zm-17 4l17-4-13-23-16 2zm-16 5l16-5-12-25-16 3zm-16 7l16-7-12-27-17 5zm-16 9l16-9-13-29-16 6z"/><path class="c42" d="M3044 2207l16-10-13-32-16 8zm-17 12l17-12-13-34-16 10z"/><path class="c41" d="M3011 2232l16-13-12-36-16 11z"/><path class="c39" d="M2995 2247l16-15-12-38-17 13z"/><path class="c38" d="M2979 2262l16-15-13-40-16 14z"/><path class="c37" d="M2963 2279l16-17-13-41-16 15z"/><path class="c35" d="M2946 2295l17-16-13-43-16 15z"/><path class="c34" d="M2930 2312l16-17-12-44-16 16z"/><path class="c32" d="M2914 2328l16-16-12-45-17 15z"/><path class="c31" d="M2898 2343l16-15-13-46-16 15z"/><path class="c30" d="M2882 2357l16-14-13-46-16 14z"/><path class="c28" d="M2865 2370l17-13-13-46-16 13zm-16 10l16-10-12-46-16 11z"/><path class="c27" d="M2833 2389l16-9-12-45-17 9zm-16 6l16-6-13-45-16 7z"/><path class="c26" d="M2801 2399l16-4-13-44-16 5z"/><path class="c27" d="M2784 2401l17-2-13-43-16 3zm-16 0l16 0-12-42-16 1z"/><path class="c28" d="M2752 2399l16 2-12-41-17 0zm-16-4l16 4-13-39-16-3z"/><path class="c29" d="M2720 2391l16 4-13-38-16-3z"/><path class="c31" d="M2703 2385l17 6-13-37-16-4z"/><path class="c32" d="M2687 2379l16 6-12-35-16-5z"/><path class="c33" d="M2671 2373l16 6-12-34-17-5z"/><path class="c35" d="M2655 2367l16 6-13-33-16-6z"/><path class="c36" d="M2639 2361l16 6-13-33-16-5z"/><path class="c37" d="M2622 2356l17 5-13-32-16-5z"/><path class="c38" d="M2606 2351l16 5-12-32-16-4z"/><path class="c40" d="M2590 2348l16 3-12-31-17-3z"/><path class="c41" d="M2574 2345l16 3-13-31-16-2zm-16-2l16 2-13-30-16-2z"/><path class="c42" d="M2541 2343l17 0-13-30-16-1z"/><path class="c43" d="M2525 2343l16 0-12-31-16 1zm-16 1l16-1-12-30-17 1z"/><path class="c44" d="M2493 2346l16-2-13-30-16 2zm-16 2l16-2-13-30-16 3zm-17 4l17-4-13-29-16 3zm-16 3l16-3-12-30-16 4zm-16 5l16-5-12-29-17 5zm-16 5l16-5-13-29-16 6zm-16 5l16-5-13-28-16 6zm-17 6l17-6-13-27-16 7z"/><path class="c39" d="M3186 2185l16-2-13-16-16 0z"/><path class="c40" d="M3170 2188l16-3-13-18-16 1zm-17 3l17-3-13-20-16 1zm-16 5l16-5-12-22-16 3zm-16 6l16-6-12-24-17 4zm-16 7l16-7-13-26-16 5zm-16 9l16-9-13-28-16 7z"/><path class="c39" d="M3072 2229l17-11-13-30-16 9zm-16 12l16-12-12-32-16 10z"/><path class="c38" d="M3040 2255l16-14-12-34-17 12z"/><path class="c37" d="M3024 2270l16-15-13-36-16 13z"/><path class="c35" d="M3008 2286l16-16-13-38-16 15z"/><path class="c34" d="M2991 2303l17-17-13-39-16 15z"/><path class="c32" d="M2975 2320l16-17-12-41-16 17z"/><path class="c30" d="M2959 2338l16-18-12-41-17 16z"/><path class="c29" d="M2943 2355l16-17-13-43-16 17z"/><path class="c27" d="M2927 2372l16-17-13-43-16 16z"/><path class="c26" d="M2910 2388l17-16-13-44-16 15z"/><path class="c24" d="M2894 2402l16-14-12-45-16 14z"/><path class="c23" d="M2878 2414l16-12-12-45-17 13z"/><path class="c22" d="M2862 2424l16-10-13-44-16 10zm-16 8l16-8-13-44-16 9zm-17 5l17-5-13-43-16 6zm-16 3l16-3-12-42-16 4zm-16 1l16-1-12-41-17 2zm-16-1l16 1-13-40-16 0z"/><path class="c23" d="M2765 2437l16 3-13-39-16-2z"/><path class="c24" d="M2748 2433l17 4-13-38-16-4z"/><path class="c25" d="M2732 2427l16 6-12-38-16-4z"/><path class="c27" d="M2716 2421l16 6-12-36-17-6z"/><path class="c28" d="M2700 2414l16 7-13-36-16-6z"/><path class="c30" d="M2684 2407l16 7-13-35-16-6z"/><path class="c31" d="M2667 2401l17 6-13-34-16-6z"/><path class="c32" d="M2651 2394l16 7-12-34-16-6z"/><path class="c34" d="M2635 2389l16 5-12-33-17-5z"/><path class="c35" d="M2619 2384l16 5-13-33-16-5z"/><path class="c36" d="M2603 2380l16 4-13-33-16-3z"/><path class="c37" d="M2586 2377l17 3-13-32-16-3z"/><path class="c38" d="M2570 2375l16 2-12-32-16-2z"/><path class="c39" d="M2554 2375l16 0-12-32-17 0z"/><path class="c40" d="M2538 2375l16 0-13-32-16 0zm-16 0l16 0-13-32-16 1z"/><path class="c41" d="M2505 2377l17-2-13-31-16 2zm-16 2l16-2-12-31-16 2zm-16 3l16-3-12-31-17 4zm-16 3l16-3-13-30-16 3zm-16 4l16-4-13-30-16 5zm-17 4l17-4-13-29-16 5zm-16 5l16-5-12-28-16 5zm-16 5l16-5-12-28-17 6z"/><path class="c38" d="M3198 2204l16-4-12-17-16 2zm-16 4l16-4-12-19-16 3zm-16 5l16-5-12-20-17 3zm-16 7l16-7-13-22-16 5zm-17 8l17-8-13-24-16 6zm-16 9l16-9-12-26-16 7z"/><path class="c37" d="M3101 2248l16-11-12-28-16 9z"/><path class="c36" d="M3085 2260l16-12-12-30-17 11z"/><path class="c35" d="M3069 2274l16-14-13-31-16 12z"/><path class="c34" d="M3052 2289l17-15-13-33-16 14z"/><path class="c33" d="M3036 2306l16-17-12-34-16 15z"/><path class="c31" d="M3020 2323l16-17-12-36-16 16z"/><path class="c29" d="M3004 2341l16-18-12-37-17 17z"/><path class="c28" d="M2988 2360l16-19-13-38-16 17z"/><path class="c26" d="M2972 2378l16-18-13-40-16 18z"/><path class="c24" d="M2955 2396l17-18-13-40-16 17z"/><path class="c23" d="M2939 2413l16-17-12-41-16 17z"/><path class="c21" d="M2923 2429l16-16-12-41-17 16z"/><path class="c20" d="M2907 2443l16-14-13-41-16 14z"/><path class="c19" d="M2890 2455l17-12-13-41-16 12z"/><path class="c18" d="M2874 2464l16-9-12-41-16 10z"/><path class="c17" d="M2858 2472l16-8-12-40-16 8zm-16 5l16-5-12-40-17 5zm-16 2l16-2-13-40-16 3zm-16 1l16-1-13-39-16 1z"/><path class="c18" d="M2793 2478l17 2-13-39-16-1z"/><path class="c19" d="M2777 2474l16 4-12-38-16-3z"/><path class="c20" d="M2761 2469l16 5-12-37-17-4z"/><path class="c21" d="M2745 2463l16 6-13-36-16-6z"/><path class="c23" d="M2728 2456l17 7-13-36-16-6z"/><path class="c24" d="M2712 2449l16 7-12-35-16-7z"/><path class="c26" d="M2696 2442l16 7-12-35-16-7z"/><path class="c27" d="M2680 2435l16 7-12-35-17-6z"/><path class="c29" d="M2664 2428l16 7-13-34-16-7z"/><path class="c30" d="M2648 2422l16 6-13-34-16-5z"/><path class="c31" d="M2631 2417l17 5-13-33-16-5z"/><path class="c33" d="M2615 2413l16 4-12-33-16-4z"/><path class="c34" d="M2599 2410l16 3-12-33-17-3z"/><path class="c35" d="M2583 2408l16 2-13-33-16-2zm-17-1l17 1-13-33-16 0z"/><path class="c36" d="M2550 2407l16 0-12-32-16 0z"/><path class="c37" d="M2534 2407l16 0-12-32-16 0zm-16 2l16-2-12-32-17 2z"/><path class="c38" d="M2502 2410l16-1-13-32-16 2zm-16 3l16-3-13-31-16 3zm-17 2l17-2-13-31-16 3zm-16 3l16-3-12-30-16 4zm-16 4l16-4-12-29-17 4zm-16 4l16-4-13-29-16 5zm-17 4l17-4-13-28-16 5z"/><path class="c36" d="M3211 2222l16-5-13-17-16 4zm-16 6l16-6-13-18-16 4zm-17 7l17-7-13-20-16 5zm-16 8l16-8-12-22-16 7zm-16 10l16-10-12-23-17 8z"/><path class="c35" d="M3130 2264l16-11-13-25-16 9z"/><path class="c34" d="M3114 2276l16-12-13-27-16 11z"/><path class="c33" d="M3097 2290l17-14-13-28-16 12z"/><path class="c32" d="M3081 2305l16-15-12-30-16 14z"/><path class="c30" d="M3065 2322l16-17-12-31-17 15z"/><path class="c29" d="M3049 2339l16-17-13-33-16 17z"/><path class="c27" d="M3033 2358l16-19-13-33-16 17z"/><path class="c25" d="M3016 2377l17-19-13-35-16 18z"/><path class="c24" d="M3000 2396l16-19-12-36-16 19z"/><path class="c22" d="M2984 2414l16-18-12-36-16 18z"/><path class="c20" d="M2968 2433l16-19-12-36-17 18z"/><path class="c18" d="M2952 2450l16-17-13-37-16 17z"/><path class="c17" d="M2935 2466l17-16-13-37-16 16z"/><path class="c15" d="M2919 2479l16-13-12-37-16 14z"/><path class="c14" d="M2903 2491l16-12-12-36-17 12z"/><path class="c13" d="M2887 2501l16-10-13-36-16 9zm-16 7l16-7-13-37-16 8zm-17 4l17-4-13-36-16 5zm-16 3l16-3-12-35-16 2zm-16 0l16 0-12-36-16 1z"/><path class="c14" d="M2806 2512l16 3-12-35-17-2z"/><path class="c15" d="M2790 2509l16 3-13-34-16-4z"/><path class="c16" d="M2773 2503l17 6-13-35-16-5z"/><path class="c18" d="M2757 2497l16 6-12-34-16-6z"/><path class="c19" d="M2741 2490l16 7-12-34-17-7z"/><path class="c21" d="M2725 2483l16 7-13-34-16-7z"/><path class="c22" d="M2709 2475l16 8-13-34-16-7z"/><path class="c24" d="M2692 2468l17 7-13-33-16-7z"/><path class="c25" d="M2676 2462l16 6-12-33-16-7z"/><path class="c27" d="M2660 2456l16 6-12-34-16-6z"/><path class="c28" d="M2644 2451l16 5-12-34-17-5z"/><path class="c29" d="M2628 2447l16 4-13-34-16-4z"/><path class="c30" d="M2611 2444l17 3-13-34-16-3z"/><path class="c31" d="M2595 2441l16 3-12-34-16-2z"/><path class="c32" d="M2579 2440l16 1-12-33-17-1z"/><path class="c33" d="M2563 2439l16 1-13-33-16 0zm-16 0l16 0-13-32-16 0z"/><path class="c34" d="M2530 2440l17-1-13-32-16 2zm-16 1l16-1-12-31-16 1z"/><path class="c35" d="M2498 2443l16-2-12-31-16 3zm-16 2l16-2-12-30-17 2zm-16 2l16-2-13-30-16 3zm-17 2l17-2-13-29-16 4z"/><path class="c36" d="M2433 2452l16-3-12-27-16 4zm-16 3l16-3-12-26-17 4z"/><path class="c35" d="M3223 2240l17-7-13-16-16 5zm-16 7l16-7-12-18-16 6z"/><path class="c34" d="M3191 2256l16-9-12-19-17 7zm-16 10l16-10-13-21-16 8z"/><path class="c33" d="M3159 2277l16-11-13-23-16 10z"/><path class="c32" d="M3142 2289l17-12-13-24-16 11z"/><path class="c31" d="M3126 2303l16-14-12-25-16 12z"/><path class="c30" d="M3110 2318l16-15-12-27-17 14z"/><path class="c29" d="M3094 2334l16-16-13-28-16 15z"/><path class="c27" d="M3078 2351l16-17-13-29-16 17z"/><path class="c26" d="M3061 2370l17-19-13-29-16 17z"/><path class="c24" d="M3045 2389l16-19-12-31-16 19z"/><path class="c22" d="M3029 2408l16-19-12-31-17 19z"/><path class="c20" d="M3013 2428l16-20-13-31-16 19z"/><path class="c18" d="M2997 2447l16-19-13-32-16 18z"/><path class="c16" d="M2980 2465l17-18-13-33-16 19z"/><path class="c14" d="M2964 2482l16-17-12-32-16 17z"/><path class="c13" d="M2948 2498l16-16-12-32-17 16z"/><path class="c12" d="M2932 2511l16-13-13-32-16 13z"/><path class="c10" d="M2916 2523l16-12-13-32-16 12zm-17 9l17-9-13-32-16 10z"/><path class="c9" d="M2883 2539l16-7-12-31-16 7zm-16 5l16-5-12-31-17 4zm-16 2l16-2-13-32-16 3z"/><path class="c10" d="M2835 2546l16 0-13-31-16 0zm-17-2l17 2-13-31-16-3z"/><path class="c11" d="M2802 2540l16 4-12-32-16-3z"/><path class="c13" d="M2786 2535l16 5-12-31-17-6z"/><path class="c14" d="M2770 2528l16 7-13-32-16-6z"/><path class="c15" d="M2754 2522l16 6-13-31-16-7z"/><path class="c17" d="M2737 2514l17 8-13-32-16-7z"/><path class="c19" d="M2721 2507l16 7-12-31-16-8z"/><path class="c20" d="M2705 2500l16 7-12-32-17-7z"/><path class="c22" d="M2689 2494l16 6-13-32-16-6z"/><path class="c23" d="M2673 2488l16 6-13-32-16-6z"/><path class="c24" d="M2656 2483l17 5-13-32-16-5z"/><path class="c26" d="M2640 2479l16 4-12-32-16-4z"/><path class="c27" d="M2624 2476l16 3-12-32-17-3z"/><path class="c28" d="M2608 2474l16 2-13-32-16-3zm-16-2l16 2-13-33-16-1z"/><path class="c29" d="M2575 2471l17 1-13-32-16-1z"/><path class="c30" d="M2559 2470l16 1-12-32-16 0zm-16 0l16 0-12-31-17 1z"/><path class="c31" d="M2527 2471l16-1-13-30-16 1zm-16 1l16-1-13-30-16 2z"/><path class="c32" d="M2494 2473l17-1-13-29-16 2zm-16 1l16-1-12-28-16 2z"/><path class="c33" d="M2462 2475l16-1-12-27-17 2zm-16 2l16-2-13-26-16 3zm-16 2l16-2-13-25-16 3z"/><path class="c34" d="M3236 2256l16-8-12-15-17 7z"/><path class="c33" d="M3220 2265l16-9-13-16-16 7zm-16 10l16-10-13-18-16 9z"/><path class="c32" d="M3187 2287l17-12-13-19-16 10z"/><path class="c31" d="M3171 2299l16-12-12-21-16 11z"/><path class="c30" d="M3155 2312l16-13-12-22-17 12z"/><path class="c29" d="M3139 2327l16-15-13-23-16 14z"/><path class="c27" d="M3123 2343l16-16-13-24-16 15z"/><path class="c26" d="M3106 2360l17-17-13-25-16 16z"/><path class="c24" d="M3090 2378l16-18-12-26-16 17z"/><path class="c23" d="M3074 2397l16-19-12-27-17 19z"/><path class="c21" d="M3058 2416l16-19-13-27-16 19z"/><path class="c19" d="M3042 2436l16-20-13-27-16 19z"/><path class="c17" d="M3025 2455l17-19-13-28-16 20z"/><path class="c15" d="M3009 2474l16-19-12-27-16 19z"/><path class="c13" d="M2993 2492l16-18-12-27-17 18z"/><path class="c11" d="M2977 2509l16-17-13-27-16 17z"/><path class="c10" d="M2961 2525l16-16-13-27-16 16z"/><path class="c8" d="M2944 2538l17-13-13-27-16 13z"/><path class="c7" d="M2928 2550l16-12-12-27-16 12zm-16 9l16-9-12-27-17 9z"/><path class="c6" d="M2896 2566l16-7-13-27-16 7zm-16 4l16-4-13-27-16 5zm-17 2l17-2-13-26-16 2z"/><path class="c7" d="M2847 2572l16 0-12-26-16 0zm-16-1l16 1-12-26-17-2z"/><path class="c8" d="M2815 2567l16 4-13-27-16-4z"/><path class="c10" d="M2799 2562l16 5-13-27-16-5z"/><path class="c11" d="M2782 2557l17 5-13-27-16-7z"/><path class="c12" d="M2766 2550l16 7-12-29-16-6z"/><path class="c14" d="M2750 2544l16 6-12-28-17-8z"/><path class="c15" d="M2734 2537l16 7-13-30-16-7z"/><path class="c17" d="M2718 2530l16 7-13-30-16-7z"/><path class="c18" d="M2701 2524l17 6-13-30-16-6z"/><path class="c20" d="M2685 2519l16 5-12-30-16-6z"/><path class="c21" d="M2669 2514l16 5-12-31-17-5z"/><path class="c22" d="M2653 2510l16 4-13-31-16-4z"/><path class="c23" d="M2637 2507l16 3-13-31-16-3z"/><path class="c24" d="M2620 2504l17 3-13-31-16-2z"/><path class="c25" d="M2604 2502l16 2-12-30-16-2z"/><path class="c26" d="M2588 2501l16 1-12-30-17-1z"/><path class="c27" d="M2572 2500l16 1-13-30-16-1zm-16-1l16 1-13-30-16 0z"/><path class="c28" d="M2539 2499l17 0-13-29-16 1zm-16 0l16 0-12-28-16 1z"/><path class="c29" d="M2507 2499l16 0-12-27-17 1z"/><path class="c30" d="M2491 2499l16 0-13-26-16 1zm-16 1l16-1-13-25-16 1z"/><path class="c31" d="M2458 2500l17 0-13-25-16 2zm-16 1l16-1-12-23-16 2z"/><path class="c32" d="M3248 2272l17-10-13-14-16 8zm-16 10l16-10-12-16-16 9z"/><path class="c31" d="M3216 2293l16-11-12-17-16 10z"/><path class="c30" d="M3200 2306l16-13-12-18-17 12z"/><path class="c29" d="M3184 2319l16-13-13-19-16 12z"/><path class="c28" d="M3167 2334l17-15-13-20-16 13z"/><path class="c27" d="M3151 2349l16-15-12-22-16 15z"/><path class="c25" d="M3135 2366l16-17-12-22-16 16z"/><path class="c24" d="M3119 2384l16-18-12-23-17 17z"/><path class="c22" d="M3103 2402l16-18-13-24-16 18z"/><path class="c20" d="M3086 2421l17-19-13-24-16 19z"/><path class="c18" d="M3070 2440l16-19-12-24-16 19z"/><path class="c16" d="M3054 2460l16-20-12-24-16 20z"/><path class="c14" d="M3038 2479l16-19-12-24-17 19z"/><path class="c12" d="M3022 2497l16-18-13-24-16 19z"/><path class="c10" d="M3005 2515l17-18-13-23-16 18z"/><path class="c9" d="M2989 2532l16-17-12-23-16 17z"/><path class="c7" d="M2973 2547l16-15-12-23-16 16z"/><path class="c6" d="M2957 2560l16-13-12-22-17 13z"/><path class="c5" d="M2941 2571l16-11-13-22-16 12z"/><path class="c4" d="M2924 2580l17-9-13-21-16 9zm-16 7l16-7-12-21-16 7zm-16 5l16-5-12-21-16 4zm-16 2l16-2-12-22-17 2zm-16 1l16-1-13-22-16 0z"/><path class="c5" d="M2843 2593l17 2-13-23-16-1z"/><path class="c6" d="M2827 2591l16 2-12-22-16-4z"/><path class="c7" d="M2811 2587l16 4-12-24-16-5z"/><path class="c8" d="M2795 2582l16 5-12-25-17-5z"/><path class="c10" d="M2779 2576l16 6-13-25-16-7z"/><path class="c11" d="M2762 2570l17 6-13-26-16-6z"/><path class="c12" d="M2746 2564l16 6-12-26-16-7z"/><path class="c14" d="M2730 2558l16 6-12-27-16-7z"/><path class="c15" d="M2714 2553l16 5-12-28-17-6z"/><path class="c17" d="M2698 2548l16 5-13-29-16-5z"/><path class="c18" d="M2681 2543l17 5-13-29-16-5z"/><path class="c19" d="M2665 2539l16 4-12-29-16-4z"/><path class="c20" d="M2649 2536l16 3-12-29-16-3z"/><path class="c21" d="M2633 2533l16 3-12-29-17-3z"/><path class="c22" d="M2617 2531l16 2-13-29-16-2z"/><path class="c23" d="M2600 2529l17 2-13-29-16-1z"/><path class="c24" d="M2584 2527l16 2-12-28-16-1zm-16-1l16 1-12-27-16-1z"/><path class="c25" d="M2552 2525l16 1-12-27-17 0z"/><path class="c26" d="M2536 2524l16 1-13-26-16 0zm-17-1l17 1-13-25-16 0z"/><path class="c27" d="M2503 2522l16 1-12-24-16 0z"/><path class="c28" d="M2487 2522l16 0-12-23-16 1zm-16-1l16 1-12-22-17 0z"/><path class="c29" d="M2455 2521l16 0-13-21-16 1z"/><path class="c31" d="M3261 2286l16-11-12-13-17 10z"/><path class="c30" d="M3245 2297l16-11-13-14-16 10zm-16 13l16-13-13-15-16 11z"/><path class="c29" d="M3212 2323l17-13-13-17-16 13z"/><path class="c27" d="M3196 2337l16-14-12-17-16 13z"/><path class="c26" d="M3180 2353l16-16-12-18-17 15z"/><path class="c25" d="M3164 2369l16-16-13-19-16 15z"/><path class="c23" d="M3148 2386l16-17-13-20-16 17z"/><path class="c21" d="M3131 2404l17-18-13-20-16 18z"/><path class="c20" d="M3115 2422l16-18-12-20-16 18z"/><path class="c18" d="M3099 2441l16-19-12-20-17 19z"/><path class="c16" d="M3083 2460l16-19-13-20-16 19z"/><path class="c14" d="M3067 2479l16-19-13-20-16 20z"/><path class="c12" d="M3050 2498l17-19-13-19-16 19z"/><path class="c10" d="M3034 2516l16-18-12-19-16 18z"/><path class="c9" d="M3018 2533l16-17-12-19-17 18z"/><path class="c7" d="M3002 2549l16-16-13-18-16 17z"/><path class="c5" d="M2986 2564l16-15-13-17-16 15z"/><path class="c4" d="M2969 2577l17-13-13-17-16 13z"/><path class="c3" d="M2953 2588l16-11-12-17-16 11zm-16 9l16-9-12-17-17 9z"/><path class="c2" d="M2921 2604l16-7-13-17-16 7zm-16 5l16-5-13-17-16 5zm-17 3l17-3-13-17-16 2zm-16 1l16-1-12-18-16 1z"/><path class="c3" d="M2856 2612l16 1-12-18-17-2z"/><path class="c4" d="M2840 2610l16 2-13-19-16-2z"/><path class="c5" d="M2824 2607l16 3-13-19-16-4z"/><path class="c6" d="M2807 2603l17 4-13-20-16-5z"/><path class="c7" d="M2791 2598l16 5-12-21-16-6z"/><path class="c9" d="M2775 2593l16 5-12-22-17-6z"/><path class="c10" d="M2759 2588l16 5-13-23-16-6z"/><path class="c11" d="M2743 2583l16 5-13-24-16-6z"/><path class="c13" d="M2726 2578l17 5-13-25-16-5z"/><path class="c14" d="M2710 2573l16 5-12-25-16-5z"/><path class="c15" d="M2694 2569l16 4-12-25-17-5z"/><path class="c16" d="M2678 2565l16 4-13-26-16-4z"/><path class="c17" d="M2662 2562l16 3-13-26-16-3z"/><path class="c18" d="M2645 2559l17 3-13-26-16-3z"/><path class="c19" d="M2629 2556l16 3-12-26-16-2z"/><path class="c20" d="M2613 2554l16 2-12-25-17-2z"/><path class="c21" d="M2597 2552l16 2-13-25-16-2z"/><path class="c22" d="M2581 2550l16 2-13-25-16-1z"/><path class="c23" d="M2564 2548l17 2-13-24-16-1zm-16-2l16 2-12-23-16-1z"/><path class="c24" d="M2532 2545l16 1-12-22-17-1z"/><path class="c25" d="M2516 2543l16 2-13-22-16-1z"/><path class="c26" d="M2500 2542l16 1-13-21-16 0zm-17-2l17 2-13-20-16-1z"/><path class="c27" d="M2467 2539l16 1-12-19-16 0z"/><path class="c30" d="M3274 2298l16-12-13-11-16 11z"/><path class="c29" d="M3257 2310l17-12-13-12-16 11z"/><path class="c28" d="M3241 2324l16-14-12-13-16 13z"/><path class="c27" d="M3225 2338l16-14-12-14-17 13z"/><path class="c26" d="M3209 2353l16-15-13-15-16 14z"/><path class="c25" d="M3193 2369l16-16-13-16-16 16z"/><path class="c23" d="M3176 2386l17-17-13-16-16 16z"/><path class="c21" d="M3160 2403l16-17-12-17-16 17z"/><path class="c20" d="M3144 2421l16-18-12-17-17 18z"/><path class="c18" d="M3128 2440l16-19-13-17-16 18z"/><path class="c16" d="M3112 2458l16-18-13-18-16 19z"/><path class="c14" d="M3095 2477l17-19-13-17-16 19z"/><path class="c12" d="M3079 2495l16-18-12-17-16 19z"/><path class="c11" d="M3063 2513l16-18-12-16-17 19z"/><path class="c9" d="M3047 2531l16-18-13-15-16 18z"/><path class="c7" d="M3031 2547l16-16-13-15-16 17z"/><path class="c6" d="M3014 2562l17-15-13-14-16 16z"/><path class="c4" d="M2998 2577l16-15-12-13-16 15z"/><path class="c3" d="M2982 2589l16-12-12-13-17 13z"/><path class="c2" d="M2966 2600l16-11-13-12-16 11z"/><path class="c1" d="M2950 2609l16-9-13-12-16 9zm-17 7l17-7-13-12-16 7zm-16 5l16-5-12-12-16 5zm-16 4l16-4-12-12-17 3zm-16 1l16-1-13-13-16 1z"/><path class="c2" d="M2869 2627l16-1-13-13-16-1zm-17-1l17 1-13-15-16-2z"/><path class="c3" d="M2836 2623l16 3-12-16-16-3z"/><path class="c4" d="M2820 2620l16 3-12-16-17-4z"/><path class="c5" d="M2804 2617l16 3-13-17-16-5z"/><path class="c7" d="M2788 2613l16 4-13-19-16-5z"/><path class="c8" d="M2771 2608l17 5-13-20-16-5z"/><path class="c9" d="M2755 2604l16 4-12-20-16-5z"/><path class="c10" d="M2739 2600l16 4-12-21-17-5z"/><path class="c11" d="M2723 2596l16 4-13-22-16-5z"/><path class="c13" d="M2707 2592l16 4-13-23-16-4z"/><path class="c14" d="M2690 2588l17 4-13-23-16-4z"/><path class="c15" d="M2674 2585l16 3-12-23-16-3z"/><path class="c16" d="M2658 2582l16 3-12-23-17-3z"/><path class="c17" d="M2642 2579l16 3-13-23-16-3z"/><path class="c18" d="M2626 2576l16 3-13-23-16-2z"/><path class="c19" d="M2609 2573l17 3-13-22-16-2z"/><path class="c20" d="M2593 2571l16 2-12-21-16-2zm-16-3l16 3-12-21-17-2z"/><path class="c21" d="M2561 2566l16 2-13-20-16-2z"/><path class="c22" d="M2545 2563l16 3-13-20-16-1z"/><path class="c23" d="M2528 2561l17 2-13-18-16-2z"/><path class="c24" d="M2512 2559l16 2-12-18-16-1z"/><path class="c25" d="M2496 2556l16 3-12-17-17-2z"/><path class="c26" d="M2480 2555l16 1-13-16-16-1z"/><path class="c30" d="M3286 2307l16-12-12-9-16 12z"/><path class="c29" d="M3270 2321l16-14-12-9-17 12z"/><path class="c28" d="M3254 2335l16-14-13-11-16 14z"/><path class="c26" d="M3237 2351l17-16-13-11-16 14z"/><path class="c25" d="M3221 2366l16-15-12-13-16 15z"/><path class="c23" d="M3205 2383l16-17-12-13-16 16z"/><path class="c22" d="M3189 2400l16-17-12-14-17 17z"/><path class="c20" d="M3173 2418l16-18-13-14-16 17z"/><path class="c18" d="M3156 2435l17-17-13-15-16 18z"/><path class="c17" d="M3140 2453l16-18-12-14-16 19z"/><path class="c15" d="M3124 2472l16-19-12-13-16 18z"/><path class="c13" d="M3108 2490l16-18-12-14-17 19z"/><path class="c11" d="M3092 2507l16-17-13-13-16 18z"/><path class="c10" d="M3075 2525l17-18-13-12-16 18z"/><path class="c8" d="M3059 2541l16-16-12-12-16 18z"/><path class="c6" d="M3043 2557l16-16-12-10-16 16z"/><path class="c5" d="M3027 2572l16-15-12-10-17 15z"/><path class="c4" d="M3011 2585l16-13-13-10-16 15z"/><path class="c3" d="M2994 2597l17-12-13-8-16 12z"/><path class="c2" d="M2978 2608l16-11-12-8-16 11z"/><path class="c1" d="M2962 2617l16-9-12-8-16 9z"/><path class="c0" d="M2946 2624l16-7-12-8-17 7zm-16 6l16-6-13-8-16 5zm-17 4l17-4-13-9-16 4zm-16 2l16-2-12-9-16 1z"/><path class="c1" d="M2881 2637l16-1-12-10-16 1zm-16 0l16 0-12-10-17-1z"/><path class="c2" d="M2849 2636l16 1-13-11-16-3z"/><path class="c3" d="M2832 2634l17 2-13-13-16-3z"/><path class="c4" d="M2816 2632l16 2-12-14-16-3z"/><path class="c5" d="M2800 2629l16 3-12-15-16-4z"/><path class="c6" d="M2784 2626l16 3-12-16-17-5z"/><path class="c7" d="M2768 2622l16 4-13-18-16-4z"/><path class="c8" d="M2751 2618l17 4-13-18-16-4z"/><path class="c10" d="M2735 2615l16 3-12-18-16-4z"/><path class="c11" d="M2719 2611l16 4-12-19-16-4z"/><path class="c12" d="M2703 2608l16 3-12-19-17-4z"/><path class="c13" d="M2687 2604l16 4-13-20-16-3z"/><path class="c14" d="M2670 2601l17 3-13-19-16-3z"/><path class="c15" d="M2654 2598l16 3-12-19-16-3z"/><path class="c16" d="M2638 2595l16 3-12-19-16-3z"/><path class="c17" d="M2622 2591l16 4-12-19-17-3z"/><path class="c18" d="M2606 2588l16 3-13-18-16-2z"/><path class="c19" d="M2589 2585l17 3-13-17-16-3z"/><path class="c20" d="M2573 2582l16 3-12-17-16-2z"/><path class="c21" d="M2557 2579l16 3-12-16-16-3z"/><path class="c22" d="M2541 2576l16 3-12-16-17-2z"/><path class="c23" d="M2525 2573l16 3-13-15-16-2z"/><path class="c24" d="M2508 2570l17 3-13-14-16-3z"/><path class="c25" d="M2492 2568l16 2-12-14-16-1z"/><path class="c29" d="M3299 2315l16-13-13-7-16 12z"/><path class="c28" d="M3282 2330l17-15-13-8-16 14z"/><path class="c27" d="M3266 2345l16-15-12-9-16 14z"/><path class="c26" d="M3250 2361l16-16-12-10-17 16z"/><path class="c24" d="M3234 2377l16-16-13-10-16 15z"/><path class="c23" d="M3218 2394l16-17-13-11-16 17z"/><path class="c21" d="M3201 2411l17-17-13-11-16 17z"/><path class="c19" d="M3185 2429l16-18-12-11-16 18z"/><path class="c18" d="M3169 2447l16-18-12-11-17 17z"/><path class="c16" d="M3153 2464l16-17-13-12-16 18z"/><path class="c14" d="M3137 2482l16-18-13-11-16 19z"/><path class="c12" d="M3120 2499l17-17-13-10-16 18z"/><path class="c11" d="M3104 2517l16-18-12-9-16 17z"/><path class="c9" d="M3088 2533l16-16-12-10-17 18z"/><path class="c7" d="M3072 2549l16-16-13-8-16 16z"/><path class="c6" d="M3056 2564l16-15-13-8-16 16z"/><path class="c5" d="M3039 2578l17-14-13-7-16 15z"/><path class="c3" d="M3023 2591l16-13-12-6-16 13z"/><path class="c2" d="M3007 2602l16-11-12-6-17 12zm-16 10l16-10-13-5-16 11z"/><path class="c1" d="M2975 2621l16-9-13-4-16 9z"/><path class="c0" d="M2958 2629l17-8-13-4-16 7zm-16 6l16-6-12-5-16 6zm-16 4l16-4-12-5-17 4zm-16 4l16-4-13-5-16 2z"/><path class="c1" d="M2894 2645l16-2-13-7-16 1zm-17 1l17-1-13-8-16 0z"/><path class="c2" d="M2861 2646l16 0-12-9-16-1zm-16-1l16 1-12-10-17-2z"/><path class="c3" d="M2829 2644l16 1-13-11-16-2z"/><path class="c4" d="M2813 2642l16 2-13-12-16-3z"/><path class="c5" d="M2796 2639l17 3-13-13-16-3z"/><path class="c6" d="M2780 2636l16 3-12-13-16-4z"/><path class="c7" d="M2764 2633l16 3-12-14-17-4z"/><path class="c8" d="M2748 2630l16 3-13-15-16-3z"/><path class="c9" d="M2732 2627l16 3-13-15-16-4z"/><path class="c10" d="M2715 2624l17 3-13-16-16-3z"/><path class="c11" d="M2699 2620l16 4-12-16-16-4z"/><path class="c12" d="M2683 2617l16 3-12-16-17-3z"/><path class="c13" d="M2667 2613l16 4-13-16-16-3z"/><path class="c14" d="M2651 2610l16 3-13-15-16-3z"/><path class="c15" d="M2634 2606l17 4-13-15-16-4z"/><path class="c16" d="M2618 2602l16 4-12-15-16-3z"/><path class="c18" d="M2602 2598l16 4-12-14-17-3z"/><path class="c19" d="M2586 2595l16 3-13-13-16-3z"/><path class="c20" d="M2570 2591l16 4-13-13-16-3z"/><path class="c21" d="M2553 2587l17 4-13-12-16-3z"/><path class="c22" d="M2537 2584l16 3-12-11-16-3z"/><path class="c23" d="M2521 2581l16 3-12-11-17-3z"/><path class="c24" d="M2505 2578l16 3-13-11-16-2z"/><path class="c29" d="M3311 2321l16-15-12-4-16 13z"/><path class="c28" d="M3295 2336l16-15-12-6-17 15z"/><path class="c27" d="M3279 2352l16-16-13-6-16 15z"/><path class="c25" d="M3263 2368l16-16-13-7-16 16z"/><path class="c24" d="M3246 2385l17-17-13-7-16 16z"/><path class="c22" d="M3230 2403l16-18-12-8-16 17z"/><path class="c20" d="M3214 2420l16-17-12-9-17 17z"/><path class="c19" d="M3198 2438l16-18-13-9-16 18z"/><path class="c17" d="M3182 2455l16-17-13-9-16 18z"/><path class="c15" d="M3165 2473l17-18-13-8-16 17z"/><path class="c14" d="M3149 2490l16-17-12-9-16 18z"/><path class="c12" d="M3133 2507l16-17-12-8-17 17z"/><path class="c10" d="M3117 2523l16-16-13-8-16 18z"/><path class="c9" d="M3101 2538l16-15-13-6-16 16z"/><path class="c7" d="M3084 2553l17-15-13-5-16 16z"/><path class="c6" d="M3068 2568l16-15-12-4-16 15z"/><path class="c5" d="M3052 2581l16-13-12-4-17 14z"/><path class="c4" d="M3036 2593l16-12-13-3-16 13z"/><path class="c3" d="M3020 2604l16-11-13-2-16 11z"/><path class="c2" d="M3003 2614l17-10-13-2-16 10z"/><path class="c1" d="M2987 2623l16-9-12-2-16 9zm-16 8l16-8-12-2-17 8z"/><path class="c0" d="M2955 2637l16-6-13-2-16 6zm-16 5l16-5-13-2-16 4zm-17 4l17-4-13-3-16 4z"/><path class="c1" d="M2906 2649l16-3-12-3-16 2zm-16 2l16-2-12-4-17 1zm-16 1l16-1-13-5-16 0z"/><path class="c2" d="M2858 2652l16 0-13-6-16-1z"/><path class="c3" d="M2841 2652l17 0-13-7-16-1zm-16-1l16 1-12-8-16-2z"/><path class="c4" d="M2809 2649l16 2-12-9-17-3z"/><path class="c5" d="M2793 2647l16 2-13-10-16-3z"/><path class="c6" d="M2777 2645l16 2-13-11-16-3z"/><path class="c7" d="M2760 2642l17 3-13-12-16-3z"/><path class="c8" d="M2744 2639l16 3-12-12-16-3z"/><path class="c9" d="M2728 2636l16 3-12-12-17-3z"/><path class="c10" d="M2712 2632l16 4-13-12-16-4z"/><path class="c11" d="M2696 2628l16 4-13-12-16-3z"/><path class="c12" d="M2679 2625l17 3-13-11-16-4z"/><path class="c13" d="M2663 2621l16 4-12-12-16-3z"/><path class="c15" d="M2647 2617l16 4-12-11-17-4z"/><path class="c16" d="M2631 2612l16 5-13-11-16-4z"/><path class="c17" d="M2615 2608l16 4-13-10-16-4z"/><path class="c18" d="M2598 2604l17 4-13-10-16-3z"/><path class="c19" d="M2582 2600l16 4-12-9-16-4z"/><path class="c20" d="M2566 2596l16 4-12-9-17-4z"/><path class="c21" d="M2550 2592l16 4-13-9-16-3z"/><path class="c22" d="M2534 2589l16 3-13-8-16-3z"/><path class="c23" d="M2517 2586l17 3-13-8-16-3z"/><path class="c30" d="M3324 2324l16-15-13-3-16 15z"/><path class="c28" d="M3308 2340l16-16-13-3-16 15z"/><path class="c27" d="M3291 2356l17-16-13-4-16 16z"/><path class="c25" d="M3275 2373l16-17-12-4-16 16z"/><path class="c24" d="M3259 2391l16-18-12-5-17 17z"/><path class="c22" d="M3243 2408l16-17-13-6-16 18z"/><path class="c20" d="M3227 2426l16-18-13-5-16 17z"/><path class="c19" d="M3210 2444l17-18-13-6-16 18z"/><path class="c17" d="M3194 2461l16-17-12-6-16 17z"/><path class="c15" d="M3178 2478l16-17-12-6-17 18z"/><path class="c14" d="M3162 2495l16-17-13-5-16 17z"/><path class="c12" d="M3146 2511l16-16-13-5-16 17z"/><path class="c10" d="M3129 2527l17-16-13-4-16 16z"/><path class="c9" d="M3113 2541l16-14-12-4-16 15z"/><path class="c8" d="M3097 2556l16-15-12-3-17 15z"/><path class="c6" d="M3081 2569l16-13-13-3-16 15z"/><path class="c5" d="M3064 2582l17-13-13-1-16 13z"/><path class="c4" d="M3048 2593l16-11-12-1-16 12z"/><path class="c3" d="M3032 2604l16-11-12 0-16 11zm-16 10l16-10-12 0-17 10z"/><path class="c2" d="M3000 2622l16-8-13 0-16 9z"/><path class="c1" d="M2984 2630l16-8-13 1-16 8zm-17 7l17-7-13 1-16 6zm-16 5l16-5-12 0-16 5zm-16 5l16-5-12 0-17 4zm-16 4l16-4-13-1-16 3zm-17 2l17-2-13-2-16 2z"/><path class="c2" d="M2886 2655l16-2-12-2-16 1zm-16 1l16-1-12-3-16 0z"/><path class="c3" d="M2854 2657l16-1-12-4-17 0zm-16 0l16 0-13-5-16-1z"/><path class="c4" d="M2822 2656l16 1-13-6-16-2z"/><path class="c5" d="M2805 2654l17 2-13-7-16-2z"/><path class="c6" d="M2789 2652l16 2-12-7-16-2z"/><path class="c7" d="M2773 2650l16 2-12-7-17-3z"/><path class="c8" d="M2757 2647l16 3-13-8-16-3z"/><path class="c9" d="M2740 2643l17 4-13-8-16-3z"/><path class="c10" d="M2724 2640l16 3-12-7-16-4z"/><path class="c11" d="M2708 2636l16 4-12-8-16-4z"/><path class="c12" d="M2692 2632l16 4-12-8-17-3z"/><path class="c13" d="M2676 2628l16 4-13-7-16-4z"/><path class="c14" d="M2660 2623l16 5-13-7-16-4z"/><path class="c15" d="M2643 2619l17 4-13-6-16-5z"/><path class="c16" d="M2627 2615l16 4-12-7-16-4z"/><path class="c18" d="M2611 2610l16 5-12-7-17-4z"/><path class="c19" d="M2595 2606l16 4-13-6-16-4z"/><path class="c20" d="M2578 2602l17 4-13-6-16-4z"/><path class="c21" d="M2562 2598l16 4-12-6-16-4z"/><path class="c22" d="M2546 2594l16 4-12-6-16-3z"/><path class="c23" d="M2530 2591l16 3-12-5-17-3z"/><path class="c30" d="M3336 2325l16-15-12-1-16 15z"/><path class="c29" d="M3320 2341l16-16-12-1-16 16z"/><path class="c27" d="M3304 2359l16-18-12-1-17 16z"/><path class="c26" d="M3288 2376l16-17-13-3-16 17z"/><path class="c24" d="M3271 2394l17-18-13-3-16 18z"/><path class="c22" d="M3255 2412l16-18-12-3-16 17z"/><path class="c20" d="M3239 2430l16-18-12-4-16 18z"/><path class="c19" d="M3223 2447l16-17-12-4-17 18z"/><path class="c17" d="M3207 2465l16-18-13-3-16 17z"/><path class="c15" d="M3190 2481l17-16-13-4-16 17z"/><path class="c14" d="M3174 2498l16-17-12-3-16 17z"/><path class="c12" d="M3158 2513l16-15-12-3-16 16z"/><path class="c11" d="M3142 2528l16-15-12-2-17 16z"/><path class="c9" d="M3126 2542l16-14-13-1-16 14z"/><path class="c8" d="M3109 2556l17-14-13-1-16 15z"/><path class="c7" d="M3093 2569l16-13-12 0-16 13z"/><path class="c6" d="M3077 2580l16-11-12 0-17 13z"/><path class="c5" d="M3061 2591l16-11-13 2-16 11z"/><path class="c4" d="M3045 2602l16-11-13 2-16 11zm-17 9l17-9-13 2-16 10z"/><path class="c3" d="M3012 2620l16-9-12 3-16 8z"/><path class="c2" d="M2996 2628l16-8-12 2-16 8zm-16 6l16-6-12 2-17 7zm-16 6l16-6-13 3-16 5zm-17 6l17-6-13 2-16 5zm-16 4l16-4-12 1-16 4zm-16 3l16-3-12 1-17 2zm-16 3l16-3-13 0-16 2z"/><path class="c3" d="M2883 2658l16-2-13-1-16 1zm-17 1l17-1-13-2-16 1z"/><path class="c4" d="M2850 2659l16 0-12-2-16 0zm-16 0l16 0-12-2-16-1z"/><path class="c5" d="M2818 2658l16 1-12-3-17-2z"/><path class="c6" d="M2802 2656l16 2-13-4-16-2z"/><path class="c7" d="M2785 2654l17 2-13-4-16-2z"/><path class="c8" d="M2769 2651l16 3-12-4-16-3z"/><path class="c9" d="M2753 2647l16 4-12-4-17-4z"/><path class="c10" d="M2737 2644l16 3-13-4-16-3z"/><path class="c11" d="M2721 2640l16 4-13-4-16-4z"/><path class="c12" d="M2704 2636l17 4-13-4-16-4z"/><path class="c13" d="M2688 2631l16 5-12-4-16-4z"/><path class="c14" d="M2672 2627l16 4-12-3-16-5z"/><path class="c15" d="M2656 2622l16 5-12-4-17-4z"/><path class="c17" d="M2640 2617l16 5-13-3-16-4z"/><path class="c18" d="M2623 2613l17 4-13-2-16-5z"/><path class="c19" d="M2607 2608l16 5-12-3-16-4z"/><path class="c20" d="M2591 2604l16 4-12-2-17-4z"/><path class="c21" d="M2575 2601l16 3-13-2-16-4z"/><path class="c22" d="M2559 2597l16 4-13-3-16-4z"/><path class="c23" d="M2542 2594l17 3-13-3-16-3z"/><path class="c31" d="M3349 2324l16-16-13 2-16 15z"/><path class="c29" d="M3333 2341l16-17-13 1-16 16z"/><path class="c28" d="M3316 2359l17-18-13 0-16 18z"/><path class="c26" d="M3300 2377l16-18-12 0-16 17z"/><path class="c24" d="M3284 2395l16-18-12-1-17 18z"/><path class="c23" d="M3268 2413l16-18-13-1-16 18z"/><path class="c21" d="M3252 2431l16-18-13-1-16 18z"/><path class="c19" d="M3235 2449l17-18-13-1-16 17z"/><path class="c17" d="M3219 2466l16-17-12-2-16 18z"/><path class="c16" d="M3203 2482l16-16-12-1-17 16z"/><path class="c14" d="M3187 2498l16-16-13-1-16 17z"/><path class="c13" d="M3171 2514l16-16-13 0-16 15z"/><path class="c11" d="M3154 2528l17-14-13-1-16 15z"/><path class="c10" d="M3138 2542l16-14-12 0-16 14z"/><path class="c9" d="M3122 2554l16-12-12 0-17 14z"/><path class="c8" d="M3106 2566l16-12-13 2-16 13z"/><path class="c7" d="M3090 2578l16-12-13 3-16 11z"/><path class="c6" d="M3073 2588l17-10-13 2-16 11z"/><path class="c5" d="M3057 2598l16-10-12 3-16 11zm-16 9l16-9-12 4-17 9z"/><path class="c4" d="M3025 2616l16-9-13 4-16 9zm-16 7l16-7-13 4-16 8z"/><path class="c3" d="M2992 2630l17-7-13 5-16 6zm-16 7l16-7-12 4-16 6zm-16 5l16-5-12 3-17 6zm-16 5l16-5-13 4-16 4zm-16 4l16-4-13 3-16 3zm-17 3l17-3-13 2-16 3zm-16 2l16-2-12 2-16 2z"/><path class="c4" d="M2879 2658l16-2-12 2-17 1zm-16 0l16 0-13 1-16 0z"/><path class="c5" d="M2847 2658l16 0-13 1-16 0z"/><path class="c6" d="M2830 2658l17 0-13 1-16-1zm-16-2l16 2-12 0-16-2z"/><path class="c7" d="M2798 2654l16 2-12 0-17-2z"/><path class="c8" d="M2782 2651l16 3-13 0-16-3z"/><path class="c9" d="M2766 2648l16 3-13 0-16-4z"/><path class="c10" d="M2749 2644l17 4-13-1-16-3z"/><path class="c11" d="M2733 2640l16 4-12 0-16-4z"/><path class="c12" d="M2717 2635l16 5-12 0-17-4z"/><path class="c14" d="M2701 2631l16 4-13 1-16-5z"/><path class="c15" d="M2685 2626l16 5-13 0-16-4z"/><path class="c16" d="M2668 2621l17 5-13 1-16-5z"/><path class="c17" d="M2652 2617l16 4-12 1-16-5z"/><path class="c18" d="M2636 2612l16 5-12 0-17-4z"/><path class="c20" d="M2620 2608l16 4-13 1-16-5z"/><path class="c21" d="M2604 2604l16 4-13 0-16-4z"/><path class="c22" d="M2587 2601l17 3-13 0-16-3z"/><path class="c23" d="M2571 2598l16 3-12 0-16-4z"/><path class="c24" d="M2555 2595l16 3-12-1-17-3z"/><path class="c32" d="M3361 2322l17-17-13 3-16 16z"/><path class="c30" d="M3345 2339l16-17-12 2-16 17z"/><path class="c29" d="M3329 2357l16-18-12 2-17 18z"/><path class="c27" d="M3313 2375l16-18-13 2-16 18z"/><path class="c25" d="M3297 2393l16-18-13 2-16 18z"/><path class="c23" d="M3280 2412l17-19-13 2-16 18z"/><path class="c22" d="M3264 2430l16-18-12 1-16 18z"/><path class="c20" d="M3248 2448l16-18-12 1-17 18z"/><path class="c18" d="M3232 2465l16-17-13 1-16 17z"/><path class="c17" d="M3216 2482l16-17-13 1-16 16z"/><path class="c15" d="M3199 2497l17-15-13 0-16 16z"/><path class="c14" d="M3183 2512l16-15-12 1-16 16z"/><path class="c12" d="M3167 2526l16-14-12 2-17 14z"/><path class="c11" d="M3151 2539l16-13-13 2-16 14z"/><path class="c10" d="M3135 2551l16-12-13 3-16 12z"/><path class="c9" d="M3118 2563l17-12-13 3-16 12z"/><path class="c8" d="M3102 2574l16-11-12 3-16 12z"/><path class="c7" d="M3086 2584l16-10-12 4-17 10zm-16 9l16-9-13 4-16 10z"/><path class="c6" d="M3054 2602l16-9-13 5-16 9zm-17 8l17-8-13 5-16 9z"/><path class="c5" d="M3021 2618l16-8-12 6-16 7zm-16 7l16-7-12 5-17 7z"/><path class="c4" d="M2989 2632l16-7-13 5-16 7zm-16 5l16-5-13 5-16 5zm-17 5l17-5-13 5-16 5zm-16 4l16-4-12 5-16 4zm-16 4l16-4-12 5-17 3z"/><path class="c5" d="M2908 2652l16-2-13 4-16 2zm-16 2l16-2-13 4-16 2zm-17 1l17-1-13 4-16 0z"/><path class="c6" d="M2859 2655l16 0-12 3-16 0z"/><path class="c7" d="M2843 2654l16 1-12 3-17 0zm-16-1l16 1-13 4-16-2z"/><path class="c8" d="M2811 2651l16 2-13 3-16-2z"/><path class="c9" d="M2794 2648l17 3-13 3-16-3z"/><path class="c10" d="M2778 2644l16 4-12 3-16-3z"/><path class="c11" d="M2762 2640l16 4-12 4-17-4z"/><path class="c12" d="M2746 2636l16 4-13 4-16-4z"/><path class="c13" d="M2730 2632l16 4-13 4-16-5z"/><path class="c15" d="M2713 2627l17 5-13 3-16-4z"/><path class="c16" d="M2697 2622l16 5-12 4-16-5z"/><path class="c17" d="M2681 2618l16 4-12 4-17-5z"/><path class="c18" d="M2665 2613l16 5-13 3-16-4z"/><path class="c19" d="M2649 2609l16 4-13 4-16-5z"/><path class="c21" d="M2632 2605l17 4-13 3-16-4z"/><path class="c22" d="M2616 2602l16 3-12 3-16-4z"/><path class="c23" d="M2600 2599l16 3-12 2-17-3z"/><path class="c24" d="M2584 2596l16 3-13 2-16-3z"/><path class="c25" d="M2568 2594l16 2-13 2-16-3z"/><path class="c33" d="M3374 2317l16-16-12 4-17 17z"/><path class="c32" d="M3358 2335l16-18-13 5-16 17z"/><path class="c30" d="M3341 2353l17-18-13 4-16 18z"/><path class="c28" d="M3325 2372l16-19-12 4-16 18z"/><path class="c26" d="M3309 2390l16-18-12 3-16 18z"/><path class="c24" d="M3293 2409l16-19-12 3-17 19z"/><path class="c23" d="M3277 2428l16-19-13 3-16 18z"/><path class="c21" d="M3260 2445l17-17-13 2-16 18z"/><path class="c19" d="M3244 2463l16-18-12 3-16 17z"/><path class="c18" d="M3228 2479l16-16-12 2-16 17z"/><path class="c16" d="M3212 2495l16-16-12 3-17 15z"/><path class="c15" d="M3196 2509l16-14-13 2-16 15z"/><path class="c13" d="M3179 2523l17-14-13 3-16 14z"/><path class="c12" d="M3163 2536l16-13-12 3-16 13z"/><path class="c11" d="M3147 2547l16-11-12 3-16 12z"/><path class="c10" d="M3131 2558l16-11-12 4-17 12z"/><path class="c9" d="M3115 2569l16-11-13 5-16 11zm-17 10l17-10-13 5-16 10z"/><path class="c8" d="M3082 2588l16-9-12 5-16 9zm-16 8l16-8-12 5-16 9z"/><path class="c7" d="M3050 2604l16-8-12 6-17 8zm-16 8l16-8-13 6-16 8z"/><path class="c6" d="M3017 2619l17-7-13 6-16 7zm-16 6l16-6-12 6-16 7zm-16 6l16-6-12 7-16 5zm-16 5l16-5-12 6-17 5zm-16 4l16-4-13 6-16 4zm-17 4l17-4-13 6-16 4zm-16 2l16-2-12 6-16 2zm-16 2l16-2-12 6-16 2z"/><path class="c7" d="M2888 2649l16-1-12 6-17 1zm-16 0l16 0-13 6-16 0z"/><path class="c8" d="M2855 2648l17 1-13 6-16-1z"/><path class="c9" d="M2839 2647l16 1-12 6-16-1z"/><path class="c10" d="M2823 2644l16 3-12 6-16-2zm-16-3l16 3-12 7-17-3z"/><path class="c11" d="M2791 2638l16 3-13 7-16-4z"/><path class="c13" d="M2774 2634l17 4-13 6-16-4z"/><path class="c14" d="M2758 2630l16 4-12 6-16-4z"/><path class="c15" d="M2742 2625l16 5-12 6-16-4z"/><path class="c16" d="M2726 2620l16 5-12 7-17-5z"/><path class="c17" d="M2710 2616l16 4-13 7-16-5z"/><path class="c19" d="M2693 2612l17 4-13 6-16-4z"/><path class="c20" d="M2677 2607l16 5-12 6-16-5z"/><path class="c21" d="M2661 2604l16 3-12 6-16-4z"/><path class="c22" d="M2645 2600l16 4-12 5-17-4z"/><path class="c23" d="M2629 2597l16 3-13 5-16-3z"/><path class="c24" d="M2612 2595l17 2-13 5-16-3z"/><path class="c25" d="M2596 2593l16 2-12 4-16-3z"/><path class="c26" d="M2580 2592l16 1-12 3-16-2z"/><path class="c35" d="M3386 2312l17-16-13 5-16 16z"/><path class="c33" d="M3370 2330l16-18-12 5-16 18z"/><path class="c31" d="M3354 2348l16-18-12 5-17 18z"/><path class="c29" d="M3338 2367l16-19-13 5-16 19z"/><path class="c28" d="M3322 2386l16-19-13 5-16 18z"/><path class="c26" d="M3305 2405l17-19-13 4-16 19z"/><path class="c24" d="M3289 2423l16-18-12 4-16 19z"/><path class="c22" d="M3273 2441l16-18-12 5-17 17z"/><path class="c20" d="M3257 2459l16-18-13 4-16 18z"/><path class="c19" d="M3241 2475l16-16-13 4-16 16z"/><path class="c17" d="M3224 2491l17-16-13 4-16 16z"/><path class="c16" d="M3208 2505l16-14-12 4-16 14z"/><path class="c15" d="M3192 2518l16-13-12 4-17 14z"/><path class="c14" d="M3176 2531l16-13-13 5-16 13z"/><path class="c13" d="M3160 2542l16-11-13 5-16 11z"/><path class="c12" d="M3143 2553l17-11-13 5-16 11z"/><path class="c11" d="M3127 2563l16-10-12 5-16 11z"/><path class="c10" d="M3111 2572l16-9-12 6-17 10zm-16 9l16-9-13 7-16 9z"/><path class="c9" d="M3079 2589l16-8-13 7-16 8zm-17 8l17-8-13 7-16 8z"/><path class="c8" d="M3046 2604l16-7-12 7-16 8zm-16 7l16-7-12 8-17 7zm-16 6l16-6-13 8-16 6z"/><path class="c7" d="M2998 2623l16-6-13 8-16 6zm-17 5l17-5-13 8-16 5zm-16 4l16-4-12 8-16 4zm-16 4l16-4-12 8-17 4z"/><path class="c8" d="M2933 2638l16-2-13 8-16 2zm-16 2l16-2-13 8-16 2zm-17 1l17-1-13 8-16 1z"/><path class="c9" d="M2884 2641l16 0-12 8-16 0z"/><path class="c10" d="M2868 2640l16 1-12 8-17-1zm-16-2l16 2-13 8-16-1z"/><path class="c11" d="M2836 2635l16 3-13 9-16-3z"/><path class="c12" d="M2819 2632l17 3-13 9-16-3z"/><path class="c13" d="M2803 2629l16 3-12 9-16-3z"/><path class="c14" d="M2787 2624l16 5-12 9-17-4z"/><path class="c16" d="M2771 2620l16 4-13 10-16-4z"/><path class="c17" d="M2755 2616l16 4-13 10-16-5z"/><path class="c18" d="M2738 2611l17 5-13 9-16-5z"/><path class="c19" d="M2722 2607l16 4-12 9-16-4z"/><path class="c20" d="M2706 2603l16 4-12 9-17-4z"/><path class="c21" d="M2690 2599l16 4-13 9-16-5z"/><path class="c23" d="M2674 2596l16 3-13 8-16-3z"/><path class="c24" d="M2657 2593l17 3-13 8-16-4z"/><path class="c25" d="M2641 2591l16 2-12 7-16-3zm-16-2l16 2-12 6-17-2z"/><path class="c26" d="M2609 2588l16 1-13 6-16-2z"/><path class="c27" d="M2593 2588l16 0-13 5-16-1z"/><path class="c36" d="M3399 2306l16-16-12 6-17 16z"/><path class="c35" d="M3383 2324l16-18-13 6-16 18z"/><path class="c33" d="M3367 2342l16-18-13 6-16 18z"/><path class="c31" d="M3350 2361l17-19-13 6-16 19z"/><path class="c29" d="M3334 2380l16-19-12 6-16 19z"/><path class="c27" d="M3318 2399l16-19-12 6-17 19z"/><path class="c25" d="M3302 2418l16-19-13 6-16 18z"/><path class="c24" d="M3286 2436l16-18-13 5-16 18z"/><path class="c22" d="M3269 2454l17-18-13 5-16 18z"/><path class="c20" d="M3253 2470l16-16-12 5-16 16z"/><path class="c19" d="M3237 2485l16-15-12 5-17 16z"/><path class="c17" d="M3221 2500l16-15-13 6-16 14z"/><path class="c16" d="M3205 2513l16-13-13 5-16 13z"/><path class="c15" d="M3188 2525l17-12-13 5-16 13z"/><path class="c14" d="M3172 2537l16-12-12 6-16 11z"/><path class="c13" d="M3156 2547l16-10-12 5-17 11zm-16 10l16-10-13 6-16 10z"/><path class="c12" d="M3124 2566l16-9-13 6-16 9z"/><path class="c11" d="M3107 2574l17-8-13 6-16 9zm-16 8l16-8-12 7-16 8z"/><path class="c10" d="M3075 2590l16-8-12 7-17 8zm-16 7l16-7-13 7-16 7zm-16 6l16-6-13 7-16 7z"/><path class="c9" d="M3026 2609l17-6-13 8-16 6zm-16 5l16-5-12 8-16 6zm-16 5l16-5-12 9-17 5zm-16 4l16-4-13 9-16 4zm-16 3l16-3-13 9-16 4z"/><path class="c10" d="M2945 2629l17-3-13 10-16 2zm-16 1l16-1-12 9-16 2zm-16 1l16-1-12 10-17 1z"/><path class="c11" d="M2897 2630l16 1-13 10-16 0z"/><path class="c12" d="M2881 2629l16 1-13 11-16-1zm-17-2l17 2-13 11-16-2z"/><path class="c13" d="M2848 2624l16 3-12 11-16-3z"/><path class="c14" d="M2832 2621l16 3-12 11-17-3z"/><path class="c15" d="M2816 2617l16 4-13 11-16-3z"/><path class="c17" d="M2800 2613l16 4-13 12-16-5z"/><path class="c18" d="M2783 2609l17 4-13 11-16-4z"/><path class="c19" d="M2767 2604l16 5-12 11-16-4z"/><path class="c20" d="M2751 2600l16 4-12 12-17-5z"/><path class="c21" d="M2735 2596l16 4-13 11-16-4z"/><path class="c22" d="M2719 2593l16 3-13 11-16-4z"/><path class="c23" d="M2702 2589l17 4-13 10-16-4z"/><path class="c24" d="M2686 2587l16 2-12 10-16-3z"/><path class="c25" d="M2670 2585l16 2-12 9-17-3z"/><path class="c26" d="M2654 2584l16 1-13 8-16-2z"/><path class="c27" d="M2638 2583l16 1-13 7-16-2z"/><path class="c28" d="M2621 2583l17 0-13 6-16-1zm-16 0l16 0-12 5-16 0z"/><path class="c38" d="M3411 2300l17-16-13 6-16 16z"/><path class="c36" d="M3395 2318l16-18-12 6-16 18z"/><path class="c34" d="M3379 2336l16-18-12 6-16 18z"/><path class="c33" d="M3363 2355l16-19-12 6-17 19z"/><path class="c31" d="M3347 2374l16-19-13 6-16 19z"/><path class="c29" d="M3330 2393l17-19-13 6-16 19z"/><path class="c27" d="M3314 2412l16-19-12 6-16 19z"/><path class="c25" d="M3298 2430l16-18-12 6-16 18z"/><path class="c23" d="M3282 2448l16-18-12 6-17 18z"/><path class="c22" d="M3266 2464l16-16-13 6-16 16z"/><path class="c20" d="M3249 2479l17-15-13 6-16 15z"/><path class="c19" d="M3233 2494l16-15-12 6-16 15z"/><path class="c18" d="M3217 2507l16-13-12 6-16 13z"/><path class="c17" d="M3201 2519l16-12-12 6-17 12z"/><path class="c16" d="M3185 2530l16-11-13 6-16 12z"/><path class="c15" d="M3168 2540l17-10-13 7-16 10z"/><path class="c14" d="M3152 2550l16-10-12 7-16 10zm-16 9l16-9-12 7-16 9z"/><path class="c13" d="M3120 2567l16-8-12 7-17 8zm-16 7l16-7-13 7-16 8z"/><path class="c12" d="M3087 2582l17-8-13 8-16 8zm-16 6l16-6-12 8-16 7zm-16 6l16-6-12 9-16 6z"/><path class="c11" d="M3039 2600l16-6-12 9-17 6zm-16 5l16-5-13 9-16 5zm-17 4l17-4-13 9-16 5zm-16 4l16-4-12 10-16 4zm-16 3l16-3-12 10-16 3z"/><path class="c12" d="M2958 2618l16-2-12 10-17 3zm-16 1l16-1-13 11-16 1z"/><path class="c13" d="M2925 2619l17 0-13 11-16 1zm-16-1l16 1-12 12-16-1z"/><path class="c14" d="M2893 2617l16 1-12 12-16-1z"/><path class="c15" d="M2877 2614l16 3-12 12-17-2z"/><path class="c16" d="M2861 2611l16 3-13 13-16-3z"/><path class="c17" d="M2844 2608l17 3-13 13-16-3z"/><path class="c18" d="M2828 2604l16 4-12 13-16-4z"/><path class="c19" d="M2812 2600l16 4-12 13-16-4z"/><path class="c20" d="M2796 2595l16 5-12 13-17-4z"/><path class="c21" d="M2780 2591l16 4-13 14-16-5z"/><path class="c22" d="M2763 2587l17 4-13 13-16-4z"/><path class="c24" d="M2747 2584l16 3-12 13-16-4z"/><path class="c25" d="M2731 2581l16 3-12 12-16-3z"/><path class="c26" d="M2715 2578l16 3-12 12-17-4z"/><path class="c27" d="M2699 2577l16 1-13 11-16-2zm-17-1l17 1-13 10-16-2z"/><path class="c28" d="M2666 2575l16 1-12 9-16-1z"/><path class="c29" d="M2650 2576l16-1-12 9-16-1zm-16 1l16-1-12 7-17 0z"/><path class="c30" d="M2618 2578l16-1-13 6-16 0z"/><path class="c39" d="M3424 2295l16-16-12 5-17 16z"/><path class="c38" d="M3408 2312l16-17-13 5-16 18z"/><path class="c36" d="M3392 2330l16-18-13 6-16 18z"/><path class="c34" d="M3375 2349l17-19-13 6-16 19z"/><path class="c32" d="M3359 2368l16-19-12 6-16 19z"/><path class="c30" d="M3343 2387l16-19-12 6-17 19z"/><path class="c28" d="M3327 2405l16-18-13 6-16 19z"/><path class="c27" d="M3311 2424l16-19-13 7-16 18z"/><path class="c25" d="M3294 2441l17-17-13 6-16 18z"/><path class="c23" d="M3278 2458l16-17-12 7-16 16z"/><path class="c22" d="M3262 2473l16-15-12 6-17 15z"/><path class="c20" d="M3246 2487l16-14-13 6-16 15z"/><path class="c19" d="M3230 2500l16-13-13 7-16 13z"/><path class="c18" d="M3213 2512l17-12-13 7-16 12z"/><path class="c17" d="M3197 2523l16-11-12 7-16 11z"/><path class="c16" d="M3181 2534l16-11-12 7-17 10zm-16 9l16-9-13 6-16 10z"/><path class="c15" d="M3149 2551l16-8-13 7-16 9zm-17 8l17-8-13 8-16 8z"/><path class="c14" d="M3116 2566l16-7-12 8-16 7zm-16 7l16-7-12 8-17 8zm-16 6l16-6-13 9-16 6zm-16 6l16-6-13 9-16 6z"/><path class="c13" d="M3051 2590l17-5-13 9-16 6zm-16 5l16-5-12 10-16 5zm-16 4l16-4-12 10-17 4zm-16 3l16-3-13 10-16 4z"/><path class="c14" d="M2987 2604l16-2-13 11-16 3zm-17 2l17-2-13 12-16 2zm-16 0l16 0-12 12-16 1z"/><path class="c15" d="M2938 2606l16 0-12 13-17 0z"/><path class="c16" d="M2922 2605l16 1-13 13-16-1zm-16-2l16 2-13 13-16-1z"/><path class="c17" d="M2889 2600l17 3-13 14-16-3z"/><path class="c18" d="M2873 2597l16 3-12 14-16-3z"/><path class="c19" d="M2857 2594l16 3-12 14-17-3z"/><path class="c20" d="M2841 2590l16 4-13 14-16-4z"/><path class="c22" d="M2825 2585l16 5-13 14-16-4z"/><path class="c23" d="M2808 2581l17 4-13 15-16-5z"/><path class="c24" d="M2792 2578l16 3-12 14-16-4z"/><path class="c25" d="M2776 2574l16 4-12 13-17-4z"/><path class="c26" d="M2760 2571l16 3-13 13-16-3z"/><path class="c27" d="M2744 2569l16 2-13 13-16-3z"/><path class="c28" d="M2727 2567l17 2-13 12-16-3z"/><path class="c29" d="M2711 2566l16 1-12 11-16-1zm-16 0l16 0-12 11-17-1z"/><path class="c30" d="M2679 2567l16-1-13 10-16-1z"/><path class="c31" d="M2663 2568l16-1-13 8-16 1zm-17 2l17-2-13 8-16 1zm-16 3l16-3-12 7-16 1z"/><path class="c41" d="M3437 2290l16-16-13 5-16 16z"/><path class="c39" d="M3420 2306l17-16-13 5-16 17z"/><path class="c37" d="M3404 2324l16-18-12 6-16 18z"/><path class="c36" d="M3388 2343l16-19-12 6-17 19z"/><path class="c34" d="M3372 2361l16-18-13 6-16 19z"/><path class="c32" d="M3356 2380l16-19-13 7-16 19z"/><path class="c30" d="M3339 2399l17-19-13 7-16 18z"/><path class="c28" d="M3323 2417l16-18-12 6-16 19z"/><path class="c27" d="M3307 2435l16-18-12 7-17 17z"/><path class="c25" d="M3291 2451l16-16-13 6-16 17z"/><path class="c23" d="M3275 2466l16-15-13 7-16 15z"/><path class="c22" d="M3258 2481l17-15-13 7-16 14z"/><path class="c21" d="M3242 2494l16-13-12 6-16 13z"/><path class="c20" d="M3226 2506l16-12-12 6-17 12z"/><path class="c19" d="M3210 2517l16-11-13 6-16 11z"/><path class="c18" d="M3194 2527l16-10-13 6-16 11zm-17 9l17-9-13 7-16 9z"/><path class="c17" d="M3161 2544l16-8-12 7-16 8zm-16 7l16-7-12 7-17 8z"/><path class="c16" d="M3129 2558l16-7-13 8-16 7zm-16 7l16-7-13 8-16 7zm-17 6l17-6-13 8-16 6z"/><path class="c15" d="M3080 2576l16-5-12 8-16 6zm-16 5l16-5-12 9-17 5zm-16 4l16-4-13 9-16 5zm-16 3l16-3-13 10-16 4z"/><path class="c16" d="M3015 2591l17-3-13 11-16 3zm-16 2l16-2-12 11-16 2zm-16 1l16-1-12 11-17 2z"/><path class="c17" d="M2967 2594l16 0-13 12-16 0zm-16-1l16 1-13 12-16 0z"/><path class="c18" d="M2934 2591l17 2-13 13-16-1z"/><path class="c19" d="M2918 2589l16 2-12 14-16-2z"/><path class="c20" d="M2902 2586l16 3-12 14-17-3z"/><path class="c21" d="M2886 2583l16 3-13 14-16-3z"/><path class="c22" d="M2870 2579l16 4-13 14-16-3z"/><path class="c23" d="M2853 2575l17 4-13 15-16-4z"/><path class="c24" d="M2837 2571l16 4-12 15-16-5z"/><path class="c25" d="M2821 2567l16 4-12 14-17-4z"/><path class="c26" d="M2805 2564l16 3-13 14-16-3z"/><path class="c28" d="M2789 2561l16 3-13 14-16-4z"/><path class="c29" d="M2772 2558l17 3-13 13-16-3zm-16-2l16 2-12 13-16-2z"/><path class="c30" d="M2740 2556l16 0-12 13-17-2z"/><path class="c31" d="M2724 2556l16 0-13 11-16-1z"/><path class="c32" d="M2708 2556l16 0-13 10-16 0zm-17 2l17-2-13 10-16 1zm-16 3l16-3-12 9-16 1z"/><path class="c33" d="M2659 2564l16-3-12 7-17 2zm-16 4l16-4-13 6-16 3z"/><path class="c42" d="M3449 2286l16-15-12 3-16 16z"/><path class="c41" d="M3433 2302l16-16-12 4-17 16z"/><path class="c39" d="M3417 2319l16-17-13 4-16 18z"/><path class="c37" d="M3400 2337l17-18-13 5-16 19z"/><path class="c35" d="M3384 2356l16-19-12 6-16 18z"/><path class="c34" d="M3368 2375l16-19-12 5-16 19z"/><path class="c32" d="M3352 2393l16-18-12 5-17 19z"/><path class="c30" d="M3336 2411l16-18-13 6-16 18z"/><path class="c28" d="M3320 2428l16-17-13 6-16 18z"/><path class="c27" d="M3303 2445l17-17-13 7-16 16z"/><path class="c25" d="M3287 2460l16-15-12 6-16 15z"/><path class="c24" d="M3271 2474l16-14-12 6-17 15z"/><path class="c23" d="M3255 2487l16-13-13 7-16 13z"/><path class="c22" d="M3238 2499l17-12-13 7-16 12z"/><path class="c21" d="M3222 2510l16-11-12 7-16 11z"/><path class="c20" d="M3206 2520l16-10-12 7-16 10z"/><path class="c19" d="M3190 2528l16-8-12 7-17 9zm-16 9l16-9-13 8-16 8z"/><path class="c18" d="M3157 2544l17-7-13 7-16 7zm-16 7l16-7-12 7-16 7zm-16 6l16-6-12 7-16 7zm-16 5l16-5-12 8-17 6z"/><path class="c17" d="M3093 2567l16-5-13 9-16 5zm-17 4l17-4-13 9-16 5zm-16 4l16-4-12 10-16 4z"/><path class="c18" d="M3044 2578l16-3-12 10-16 3zm-16 2l16-2-12 10-17 3zm-16 1l16-1-13 11-16 2z"/><path class="c19" d="M2995 2581l17 0-13 12-16 1zm-16 0l16 0-12 13-16 0z"/><path class="c20" d="M2963 2580l16 1-12 13-16-1z"/><path class="c21" d="M2947 2578l16 2-12 13-17-2z"/><path class="c22" d="M2931 2575l16 3-13 13-16-2z"/><path class="c23" d="M2914 2572l17 3-13 14-16-3z"/><path class="c24" d="M2898 2568l16 4-12 14-16-3z"/><path class="c25" d="M2882 2564l16 4-12 15-16-4z"/><path class="c26" d="M2866 2561l16 3-12 15-17-4z"/><path class="c27" d="M2850 2557l16 4-13 14-16-4z"/><path class="c28" d="M2833 2553l17 4-13 14-16-4z"/><path class="c29" d="M2817 2550l16 3-12 14-16-3z"/><path class="c30" d="M2801 2547l16 3-12 14-16-3z"/><path class="c31" d="M2785 2546l16 1-12 14-17-3z"/><path class="c32" d="M2769 2545l16 1-13 12-16-2z"/><path class="c33" d="M2752 2545l17 0-13 11-16 0zm-16 1l16-1-12 11-16 0z"/><path class="c34" d="M2720 2547l16-1-12 10-16 0zm-16 3l16-3-12 9-17 2zm-16 4l16-4-13 8-16 3zm-16 4l16-4-13 7-16 3zm-17 5l17-5-13 6-16 4z"/><path class="c43" d="M3462 2283l16-14-13 2-16 15z"/><path class="c42" d="M3445 2299l17-16-13 3-16 16z"/><path class="c40" d="M3429 2316l16-17-12 3-16 17z"/><path class="c39" d="M3413 2333l16-17-12 3-17 18z"/><path class="c37" d="M3397 2351l16-18-13 4-16 19z"/><path class="c35" d="M3381 2370l16-19-13 5-16 19z"/><path class="c33" d="M3364 2388l17-18-13 5-16 18z"/><path class="c31" d="M3348 2405l16-17-12 5-16 18z"/><path class="c30" d="M3332 2422l16-17-12 6-16 17z"/><path class="c28" d="M3316 2439l16-17-12 6-17 17z"/><path class="c27" d="M3300 2454l16-15-13 6-16 15z"/><path class="c25" d="M3283 2468l17-14-13 6-16 14z"/><path class="c24" d="M3267 2481l16-13-12 6-16 13z"/><path class="c23" d="M3251 2493l16-12-12 6-17 12z"/><path class="c22" d="M3235 2503l16-10-13 6-16 11zm-16 10l16-10-13 7-16 10z"/><path class="c21" d="M3202 2522l17-9-13 7-16 8z"/><path class="c20" d="M3186 2530l16-8-12 6-16 9zm-16 7l16-7-12 7-17 7zm-16 6l16-6-13 7-16 7zm-16 6l16-6-13 8-16 6z"/><path class="c19" d="M3121 2554l17-5-13 8-16 5zm-16 4l16-4-12 8-16 5zm-16 4l16-4-12 9-17 4zm-16 3l16-3-13 9-16 4z"/><path class="c20" d="M3057 2567l16-2-13 10-16 3zm-17 2l17-2-13 11-16 2zm-16 1l16-1-12 11-16 1z"/><path class="c21" d="M3008 2570l16 0-12 11-17 0z"/><path class="c22" d="M2992 2569l16 1-13 11-16 0zm-16-2l16 2-13 12-16-1z"/><path class="c23" d="M2959 2565l17 2-13 13-16-2z"/><path class="c24" d="M2943 2562l16 3-12 13-16-3z"/><path class="c25" d="M2927 2559l16 3-12 13-17-3z"/><path class="c26" d="M2911 2555l16 4-13 13-16-4z"/><path class="c27" d="M2895 2551l16 4-13 13-16-4z"/><path class="c28" d="M2878 2547l17 4-13 13-16-3z"/><path class="c29" d="M2862 2543l16 4-12 14-16-4z"/><path class="c31" d="M2846 2540l16 3-12 14-17-4z"/><path class="c32" d="M2830 2537l16 3-13 13-16-3z"/><path class="c33" d="M2814 2536l16 1-13 13-16-3zm-17-2l17 2-13 11-16-1z"/><path class="c34" d="M2781 2534l16 0-12 12-16-1z"/><path class="c35" d="M2765 2535l16-1-12 11-17 0zm-16 2l16-2-13 10-16 1z"/><path class="c36" d="M2733 2540l16-3-13 9-16 1zm-17 3l17-3-13 7-16 3zm-16 5l16-5-12 7-16 4zm-16 5l16-5-12 6-16 4zm-16 6l16-6-12 5-17 5z"/><path class="c44" d="M3474 2283l16-14-12 0-16 14z"/><path class="c43" d="M3458 2298l16-15-12 0-17 16z"/><path class="c41" d="M3442 2314l16-16-13 1-16 17z"/><path class="c40" d="M3426 2331l16-17-13 2-16 17z"/><path class="c38" d="M3409 2348l17-17-13 2-16 18z"/><path class="c36" d="M3393 2366l16-18-12 3-16 19z"/><path class="c35" d="M3377 2384l16-18-12 4-17 18z"/><path class="c33" d="M3361 2401l16-17-13 4-16 17z"/><path class="c31" d="M3345 2418l16-17-13 4-16 17z"/><path class="c30" d="M3328 2433l17-15-13 4-16 17z"/><path class="c28" d="M3312 2448l16-15-12 6-16 15z"/><path class="c27" d="M3296 2462l16-14-12 6-17 14z"/><path class="c26" d="M3280 2475l16-13-13 6-16 13z"/><path class="c25" d="M3264 2487l16-12-13 6-16 12z"/><path class="c24" d="M3247 2497l17-10-13 6-16 10z"/><path class="c23" d="M3231 2507l16-10-12 6-16 10zm-16 8l16-8-12 6-17 9z"/><path class="c22" d="M3199 2523l16-8-13 7-16 8zm-16 7l16-7-13 7-16 7z"/><path class="c21" d="M3166 2536l17-6-13 7-16 6zm-16 5l16-5-12 7-16 6zm-16 5l16-5-12 8-17 5zm-16 4l16-4-13 8-16 4zm-16 3l16-3-13 8-16 4zm-17 3l17-3-13 9-16 3z"/><path class="c22" d="M3069 2558l16-2-12 9-16 2zm-16 1l16-1-12 9-17 2z"/><path class="c23" d="M3037 2559l16 0-13 10-16 1zm-16 0l16 0-13 11-16 0z"/><path class="c24" d="M3004 2557l17 2-13 11-16-1z"/><path class="c25" d="M2988 2556l16 1-12 12-16-2z"/><path class="c26" d="M2972 2553l16 3-12 11-17-2z"/><path class="c27" d="M2956 2550l16 3-13 12-16-3z"/><path class="c28" d="M2940 2546l16 4-13 12-16-3z"/><path class="c29" d="M2923 2542l17 4-13 13-16-4z"/><path class="c30" d="M2907 2539l16 3-12 13-16-4z"/><path class="c31" d="M2891 2535l16 4-12 12-17-4z"/><path class="c32" d="M2875 2532l16 3-13 12-16-4z"/><path class="c33" d="M2859 2529l16 3-13 11-16-3z"/><path class="c34" d="M2842 2526l17 3-13 11-16-3z"/><path class="c35" d="M2826 2525l16 1-12 11-16-1z"/><path class="c36" d="M2810 2525l16 0-12 11-17-2zm-16 0l16 0-13 9-16 0z"/><path class="c37" d="M2778 2527l16-2-13 9-16 1zm-17 2l17-2-13 8-16 2zm-16 4l16-4-12 8-16 3zm-16 5l16-5-12 7-17 3zm-16 5l16-5-13 5-16 5zm-16 6l16-6-13 5-16 5zm-17 7l17-7-13 4-16 6z"/><path class="c45" d="M3487 2284l16-13-13-2-16 14z"/><path class="c44" d="M3471 2298l16-14-13-1-16 15z"/><path class="c42" d="M3454 2314l17-16-13 0-16 16z"/><path class="c41" d="M3438 2330l16-16-12 0-16 17z"/><path class="c39" d="M3422 2347l16-17-12 1-17 17z"/><path class="c37" d="M3406 2364l16-17-13 1-16 18z"/><path class="c36" d="M3390 2381l16-17-13 2-16 18z"/><path class="c34" d="M3373 2398l17-17-13 3-16 17z"/><path class="c32" d="M3357 2414l16-16-12 3-16 17z"/><path class="c31" d="M3341 2429l16-15-12 4-17 15z"/><path class="c30" d="M3325 2444l16-15-13 4-16 15z"/><path class="c28" d="M3309 2458l16-14-13 4-16 14z"/><path class="c27" d="M3292 2470l17-12-13 4-16 13z"/><path class="c26" d="M3276 2482l16-12-12 5-16 12z"/><path class="c25" d="M3260 2492l16-10-12 5-17 10zm-16 9l16-9-13 5-16 10z"/><path class="c24" d="M3228 2510l16-9-13 6-16 8zm-17 7l17-7-13 5-16 8z"/><path class="c23" d="M3195 2524l16-7-12 6-16 7zm-16 6l16-6-12 6-17 6zm-16 5l16-5-13 6-16 5zm-16 4l16-4-13 6-16 5zm-17 4l17-4-13 7-16 4zm-16 3l16-3-12 7-16 3zm-16 2l16-2-12 7-17 3z"/><path class="c24" d="M3082 2549l16-1-13 8-16 2zm-16 1l16-1-13 9-16 1z"/><path class="c25" d="M3049 2550l17 0-13 9-16 0zm-16-1l16 1-12 9-16 0z"/><path class="c26" d="M3017 2547l16 2-12 10-17-2z"/><path class="c27" d="M3001 2545l16 2-13 10-16-1z"/><path class="c28" d="M2985 2542l16 3-13 11-16-3z"/><path class="c29" d="M2968 2539l17 3-13 11-16-3z"/><path class="c30" d="M2952 2535l16 4-12 11-16-4z"/><path class="c31" d="M2936 2532l16 3-12 11-17-4z"/><path class="c32" d="M2920 2528l16 4-13 10-16-3z"/><path class="c33" d="M2904 2525l16 3-13 11-16-4z"/><path class="c34" d="M2887 2522l17 3-13 10-16-3z"/><path class="c35" d="M2871 2519l16 3-12 10-16-3z"/><path class="c36" d="M2855 2517l16 2-12 10-17-3z"/><path class="c37" d="M2839 2517l16 0-13 9-16-1z"/><path class="c38" d="M2823 2517l16 0-13 8-16 0zm-17 1l17-1-13 8-16 0zm-16 2l16-2-12 7-16 2z"/><path class="c39" d="M2774 2524l16-4-12 7-17 2zm-16 4l16-4-13 5-16 4zm-16 6l16-6-13 5-16 5zm-17 6l17-6-13 4-16 5zm-16 7l16-7-12 3-16 6z"/><path class="c38" d="M2693 2555l16-8-12 2-17 7z"/><path class="c45" d="M3499 2287l16-12-12-4-16 13z"/><path class="c44" d="M3483 2301l16-14-12-3-16 14z"/><path class="c43" d="M3467 2315l16-14-12-3-17 16z"/><path class="c41" d="M3451 2331l16-16-13-1-16 16z"/><path class="c40" d="M3434 2347l17-16-13-1-16 17z"/><path class="c38" d="M3418 2363l16-16-12 0-16 17z"/><path class="c37" d="M3402 2380l16-17-12 1-16 17z"/><path class="c35" d="M3386 2396l16-16-12 1-17 17z"/><path class="c34" d="M3370 2412l16-16-13 2-16 16z"/><path class="c32" d="M3353 2427l17-15-13 2-16 15z"/><path class="c31" d="M3337 2441l16-14-12 2-16 15z"/><path class="c30" d="M3321 2454l16-13-12 3-16 14z"/><path class="c29" d="M3305 2466l16-12-12 4-17 12z"/><path class="c28" d="M3289 2477l16-11-13 4-16 12z"/><path class="c27" d="M3272 2488l17-11-13 5-16 10z"/><path class="c26" d="M3256 2497l16-9-12 4-16 9zm-16 8l16-8-12 4-16 9z"/><path class="c25" d="M3224 2512l16-7-12 5-17 7zm-16 7l16-7-13 5-16 7zm-17 5l17-5-13 5-16 6zm-16 5l16-5-12 6-16 5zm-16 4l16-4-12 6-16 4zm-16 3l16-3-12 6-17 4zm-16 3l16-3-13 7-16 3zm-17 2l17-2-13 7-16 2zm-16 1l16-1-12 7-16 1z"/><path class="c26" d="M3078 2542l16 0-12 7-16 1z"/><path class="c27" d="M3062 2542l16 0-12 8-17 0zm-16-1l16 1-13 8-16-1z"/><path class="c28" d="M3029 2539l17 2-13 8-16-2z"/><path class="c29" d="M3013 2537l16 2-12 8-16-2z"/><path class="c30" d="M2997 2534l16 3-12 8-16-3z"/><path class="c31" d="M2981 2530l16 4-12 8-17-3z"/><path class="c32" d="M2965 2527l16 3-13 9-16-4z"/><path class="c33" d="M2948 2523l17 4-13 8-16-3z"/><path class="c34" d="M2932 2520l16 3-12 9-16-4z"/><path class="c35" d="M2916 2517l16 3-12 8-16-3z"/><path class="c36" d="M2900 2514l16 3-12 8-17-3z"/><path class="c37" d="M2884 2512l16 2-13 8-16-3z"/><path class="c38" d="M2867 2511l17 1-13 7-16-2z"/><path class="c39" d="M2851 2511l16 0-12 6-16 0zm-16 0l16 0-12 6-16 0z"/><path class="c40" d="M2819 2513l16-2-12 6-17 1zm-16 3l16-3-13 5-16 2zm-17 4l17-4-13 4-16 4zm-16 6l16-6-12 4-16 4zm-16 6l16-6-12 2-16 6zm-16 7l16-7-12 2-17 6zm-16 7l16-7-13 1-16 7z"/><path class="c39" d="M2705 2555l17-9-13 1-16 8z"/><path class="c45" d="M3512 2293l16-12-13-6-16 12z"/><path class="c44" d="M3496 2305l16-12-13-6-16 14z"/><path class="c43" d="M3479 2319l17-14-13-4-16 14z"/><path class="c42" d="M3463 2334l16-15-12-4-16 16z"/><path class="c40" d="M3447 2349l16-15-12-3-17 16z"/><path class="c39" d="M3431 2365l16-16-13-2-16 16z"/><path class="c37" d="M3415 2380l16-15-13-2-16 17z"/><path class="c36" d="M3398 2396l17-16-13 0-16 16z"/><path class="c35" d="M3382 2411l16-15-12 0-16 16z"/><path class="c33" d="M3366 2425l16-14-12 1-17 15z"/><path class="c32" d="M3350 2439l16-14-13 2-16 14z"/><path class="c31" d="M3334 2452l16-13-13 2-16 13z"/><path class="c30" d="M3317 2464l17-12-13 2-16 12z"/><path class="c29" d="M3301 2474l16-10-12 2-16 11z"/><path class="c28" d="M3285 2484l16-10-12 3-17 11z"/><path class="c27" d="M3269 2493l16-9-13 4-16 9zm-16 8l16-8-13 4-16 8z"/><path class="c26" d="M3236 2508l17-7-13 4-16 7zm-16 6l16-6-12 4-16 7zm-16 6l16-6-12 5-17 5zm-16 4l16-4-13 4-16 5zm-16 4l16-4-13 5-16 4zm-17 3l17-3-13 5-16 3zm-16 3l16-3-12 5-16 3z"/><path class="c27" d="M3123 2535l16-1-12 5-17 2zm-16 1l16-1-13 6-16 1z"/><path class="c28" d="M3091 2536l16 0-13 6-16 0zm-17 0l17 0-13 6-16 0z"/><path class="c29" d="M3058 2534l16 2-12 6-16-1z"/><path class="c30" d="M3042 2532l16 2-12 7-17-2z"/><path class="c31" d="M3026 2530l16 2-13 7-16-2z"/><path class="c32" d="M3010 2527l16 3-13 7-16-3z"/><path class="c33" d="M2993 2524l17 3-13 7-16-4z"/><path class="c34" d="M2977 2520l16 4-12 6-16-3z"/><path class="c35" d="M2961 2517l16 3-12 7-17-4z"/><path class="c36" d="M2945 2514l16 3-13 6-16-3z"/><path class="c37" d="M2929 2511l16 3-13 6-16-3z"/><path class="c38" d="M2912 2509l17 2-13 6-16-3z"/><path class="c39" d="M2896 2507l16 2-12 5-16-2zm-16 0l16 0-12 5-17-1z"/><path class="c40" d="M2864 2507l16 0-13 4-16 0z"/><path class="c41" d="M2848 2508l16-1-13 4-16 0zm-17 3l17-3-13 3-16 2zm-16 3l16-3-12 2-16 3zm-16 5l16-5-12 2-17 4zm-16 6l16-6-13 1-16 6zm-16 7l16-7-13 1-16 6zm-17 7l17-7-13 0-16 7z"/><path class="c40" d="M2734 2547l16-8-12 0-16 7zm-16 9l16-9-12-1-17 9z"/></g>
<path d="M209.1 261.4L209.1 196.2M209.1 261.4L271.8 291M271.8 291L352.8 268M209.1 261.4h-1.5M209.1 245.1h-1.5M209.1 228.8h-1.5M209.1 212.5h-1.5M209.1 196.2h-1.5" stroke="#262626" stroke-width="0.5" fill="none"/>
<text x="205.5" y="263.4" class="tk" text-anchor="end">20</text>
<text x="205.5" y="247.1" class="tk" text-anchor="end">21</text>
<text x="205.5" y="230.8" class="tk" text-anchor="end">22</text>
<text x="205.5" y="214.5" class="tk" text-anchor="end">23</text>
<text x="205.5" y="198.2" class="tk" text-anchor="end">24</text>
<text x="203.7" y="269.1" class="tk" text-anchor="middle">1</text>
<text x="234.6" y="284" class="tk" text-anchor="middle">0</text>
<text x="263.7" y="298.9" class="tk" text-anchor="middle">-1</text>
<text x="275.1" y="299.1" class="tk">-1</text>
<text x="295.4" y="293.4" class="tk">-0.5</text>
<text x="315.6" y="287.6" class="tk">0</text>
<text x="335.9" y="281.9" class="tk">0.5</text>
<text x="356.1" y="276.1" class="tk">1</text>
<text x="311.4" y="301.3" class="lb" text-anchor="middle">x</text>
<path d="M271.8 291L270.5 290.4M292.1 285.2L290.8 284.7M312.3 279.5L311 278.9M332.6 273.8L331.3 273.2M352.8 268L351.5 267.4M271.8 291L273.4 290.5M240.4 276.2L242.1 275.7M209.1 261.4L210.7 260.9" stroke="#262626" stroke-width="0.5" fill="none"/>
<text x="239.9" y="300.7" class="lb" text-anchor="middle">y</text>
<text class="lb" text-anchor="middle" transform="translate(194.6 230.3) rotate(-90)">z</text>
<path d="M459.8 291L397.1 261.4M397.1 261.4L397.1 196.2M480.1 285.2L417.3 255.6M417.3 255.6L417.3 190.4M500.3 279.5L437.6 249.9M437.6 249.9L437.6 184.7M520.5 273.8L457.8 244.1M457.8 244.1L457.8 178.9M540.8 268L478.1 238.4M478.1 238.4L478.1 173.2M459.8 291L540.8 268M540.8 268L540.8 202.8M428.4 276.2L509.4 253.2M509.4 253.2L509.4 188M397.1 261.4L478.1 238.4M478.1 238.4L478.1 173.2M397.1 261.4L478.1 238.4M478.1 238.4L540.8 268M397.1 245.1L478.1 222.1M478.1 222.1L540.8 251.7M397.1 228.8L478.1 205.8M478.1 205.8L540.8 235.4M397.1 212.5L478.1 189.5M478.1 189.5L540.8 219.1M397.1 196.2L478.1 173.2M478.1 173.2L540.8 202.8" stroke="#e3e3e3" stroke-width="0.5" fill="none"/>
<g class="sf" transform="scale(.1)"><path class="c19" d="M4777 2167l17-19-13 5-16 18z"/><path class="c17" d="M4761 2184l16-17-12 4-16 17z"/><path class="c16" d="M4745 2201l16-17-12 4-17 17z"/><path class="c14" d="M4729 2217l16-16-13 4-16 16z"/><path class="c13" d="M4713 2232l16-15-13 4-16 15z"/><path class="c12" d="M4696 2246l17-14-13 4-16 14z"/><path class="c11" d="M4680 2259l16-13-12 4-16 13z"/><path class="c10" d="M4664 2272l16-13-12 4-17 13z"/><path class="c9" d="M4648 2284l16-12-13 4-16 12z"/><path class="c8" d="M4632 2296l16-12-13 4-16 12z"/><path class="c7" d="M4615 2307l17-11-13 4-16 11z"/><path class="c6" d="M4599 2317l16-10-12 4-16 10z"/><path class="c5" d="M4583 2327l16-10-12 4-17 10zm-16 9l16-9-13 4-16 9z"/><path class="c4" d="M4551 2345l16-9-13 4-16 9zm-17 8l17-8-13 4-16 8z"/><path class="c3" d="M4518 2361l16-8-12 4-16 8zm-16 8l16-8-12 4-17 8zm-16 7l16-7-13 4-16 7z"/><path class="c2" d="M4470 2382l16-6-13 4-16 7zm-17 7l17-7-13 5-16 6zm-16 6l16-6-12 4-16 6zm-16 5l16-5-12 4-17 5zm-16 5l16-5-13 4-16 5zm-16 5l16-5-13 4-16 5zm-17 5l17-5-13 4-16 5zm-16 4l16-4-12 4-16 4zm-16 3l16-3-12 4-17 3zm-16 4l16-4-13 4-16 4zm-16 2l16-2-13 4-16 3zm-17 3l17-3-13 5-16 2z"/><path class="c3" d="M4275 2433l16-2-12 4-16 2zm-16 2l16-2-12 4-17 2zm-16 1l16-1-13 4-16 1z"/><path class="c4" d="M4227 2437l16-1-13 4-16 1zm-17 0l17 0-13 4-16 0z"/><path class="c5" d="M4194 2437l16 0-12 4-16 0zm-16 0l16 0-12 4-17 0z"/><path class="c6" d="M4162 2435l16 2-13 4-16-1z"/><path class="c7" d="M4146 2434l16 1-13 5-16-2z"/><path class="c8" d="M4129 2431l17 3-13 4-16-3z"/><path class="c9" d="M4113 2428l16 3-12 4-16-2z"/><path class="c10" d="M4097 2425l16 3-12 5-17-4z"/><path class="c11" d="M4081 2421l16 4-13 4-16-4z"/><path class="c12" d="M4065 2416l16 5-13 4-16-5z"/><path class="c13" d="M4048 2410l17 6-13 4-16-6z"/><path class="c14" d="M4032 2403l16 7-12 4-16-7z"/><path class="c16" d="M4016 2396l16 7-12 4-17-7z"/><path class="c17" d="M4000 2388l16 8-13 4-16-8z"/><path class="c19" d="M3984 2378l16 10-13 4-16-9z"/><path class="c20" d="M4790 2159l16-19-12 8-17 19z"/><path class="c19" d="M4774 2176l16-17-13 8-16 17z"/><path class="c17" d="M4757 2192l17-16-13 8-16 17z"/><path class="c16" d="M4741 2208l16-16-12 9-16 16z"/><path class="c15" d="M4725 2223l16-15-12 9-16 15z"/><path class="c13" d="M4709 2237l16-14-12 9-17 14z"/><path class="c12" d="M4693 2251l16-14-13 9-16 13z"/><path class="c11" d="M4676 2264l17-13-13 8-16 13z"/><path class="c10" d="M4660 2276l16-12-12 8-16 12z"/><path class="c9" d="M4644 2287l16-11-12 8-16 12z"/><path class="c8" d="M4628 2298l16-11-12 9-17 11zm-16 10l16-10-13 9-16 10z"/><path class="c7" d="M4595 2318l17-10-13 9-16 10z"/><path class="c6" d="M4579 2328l16-10-12 9-16 9zm-16 8l16-8-12 8-16 9z"/><path class="c5" d="M4547 2345l16-9-12 9-17 8zm-16 8l16-8-13 8-16 8z"/><path class="c4" d="M4514 2360l17-7-13 8-16 8zm-16 7l16-7-12 9-16 7zm-16 7l16-7-12 9-16 6zm-16 6l16-6-12 8-17 7z"/><path class="c3" d="M4450 2386l16-6-13 9-16 6zm-17 6l17-6-13 9-16 5zm-16 5l16-5-12 8-16 5zm-16 5l16-5-12 8-16 5zm-16 4l16-4-12 8-17 5zm-16 4l16-4-13 9-16 4zm-17 4l17-4-13 9-16 3zm-16 3l16-3-12 8-16 4z"/><path class="c4" d="M4320 2420l16-3-12 9-16 2zm-16 3l16-3-12 8-17 3zm-16 2l16-2-13 8-16 2zm-17 1l17-1-13 8-16 2z"/><path class="c5" d="M4255 2428l16-2-12 9-16 1zm-16 0l16 0-12 8-16 1z"/><path class="c6" d="M4223 2429l16-1-12 9-17 0zm-16 0l16 0-13 8-16 0z"/><path class="c7" d="M4190 2428l17 1-13 8-16 0z"/><path class="c8" d="M4174 2427l16 1-12 9-16-2zm-16-2l16 2-12 8-16-1z"/><path class="c9" d="M4142 2423l16 2-12 9-17-3z"/><path class="c10" d="M4126 2420l16 3-13 8-16-3z"/><path class="c11" d="M4109 2416l17 4-13 8-16-3z"/><path class="c12" d="M4093 2412l16 4-12 9-16-4z"/><path class="c13" d="M4077 2407l16 5-12 9-16-5z"/><path class="c15" d="M4061 2401l16 6-12 9-17-6z"/><path class="c16" d="M4045 2395l16 6-13 9-16-7z"/><path class="c17" d="M4028 2388l17 7-13 8-16-7z"/><path class="c19" d="M4012 2379l16 9-12 8-16-8z"/><path class="c20" d="M3996 2370l16 9-12 9-16-10z"/><path class="c22" d="M4802 2148l17-18-13 10-16 19z"/><path class="c21" d="M4786 2165l16-17-12 11-16 17z"/><path class="c19" d="M4770 2182l16-17-12 11-17 16z"/><path class="c18" d="M4754 2197l16-15-13 10-16 16z"/><path class="c16" d="M4738 2212l16-15-13 11-16 15z"/><path class="c15" d="M4721 2226l17-14-13 11-16 14z"/><path class="c14" d="M4705 2240l16-14-12 11-16 14z"/><path class="c13" d="M4689 2253l16-13-12 11-17 13z"/><path class="c12" d="M4673 2265l16-12-13 11-16 12z"/><path class="c11" d="M4657 2276l16-11-13 11-16 11z"/><path class="c10" d="M4640 2287l17-11-13 11-16 11zm-16 10l16-10-12 11-16 10z"/><path class="c9" d="M4608 2307l16-10-12 11-17 10z"/><path class="c8" d="M4592 2317l16-10-13 11-16 10zm-16 9l16-9-13 11-16 8z"/><path class="c7" d="M4559 2334l17-8-13 10-16 9zm-16 8l16-8-12 11-16 8z"/><path class="c6" d="M4527 2349l16-7-12 11-17 7zm-16 8l16-8-13 11-16 7zm-16 6l16-6-13 10-16 7z"/><path class="c5" d="M4478 2370l17-7-13 11-16 6zm-16 6l16-6-12 10-16 6zm-16 5l16-5-12 10-17 6zm-16 5l16-5-13 11-16 5zm-16 5l16-5-13 11-16 5zm-17 5l17-5-13 11-16 4zm-16 4l16-4-12 10-16 4zm-16 3l16-3-12 10-17 4zm-16 3l16-3-13 11-16 3zm-16 3l16-3-13 11-16 3z"/><path class="c6" d="M4316 2412l17-3-13 11-16 3zm-16 2l16-2-12 11-16 2zm-16 1l16-1-12 11-17 1z"/><path class="c7" d="M4268 2417l16-2-13 11-16 2zm-16 1l16-1-13 11-16 0z"/><path class="c8" d="M4235 2418l17 0-13 10-16 1zm-16 0l16 0-12 11-16 0z"/><path class="c9" d="M4203 2417l16 1-12 11-17-1z"/><path class="c10" d="M4187 2416l16 1-13 11-16-1zm-16-2l16 2-13 11-16-2z"/><path class="c11" d="M4154 2412l17 2-13 11-16-2z"/><path class="c12" d="M4138 2409l16 3-12 11-16-3z"/><path class="c13" d="M4122 2405l16 4-12 11-17-4z"/><path class="c14" d="M4106 2401l16 4-13 11-16-4z"/><path class="c15" d="M4090 2396l16 5-13 11-16-5z"/><path class="c16" d="M4073 2391l17 5-13 11-16-6z"/><path class="c18" d="M4057 2384l16 7-12 10-16-6z"/><path class="c19" d="M4041 2377l16 7-12 11-17-7z"/><path class="c21" d="M4025 2369l16 8-13 11-16-9z"/><path class="c22" d="M4009 2360l16 9-13 10-16-9z"/><path class="c24" d="M4815 2138l16-18-12 10-17 18z"/><path class="c23" d="M4799 2155l16-17-13 10-16 17z"/><path class="c21" d="M4783 2171l16-16-13 10-16 17z"/><path class="c20" d="M4766 2187l17-16-13 11-16 15z"/><path class="c19" d="M4750 2202l16-15-12 10-16 15z"/><path class="c17" d="M4734 2216l16-14-12 10-17 14z"/><path class="c16" d="M4718 2229l16-13-13 10-16 14z"/><path class="c15" d="M4702 2241l16-12-13 11-16 13z"/><path class="c14" d="M4685 2253l17-12-13 12-16 12z"/><path class="c13" d="M4669 2265l16-12-12 12-16 11z"/><path class="c12" d="M4653 2276l16-11-12 11-17 11zm-16 10l16-10-13 11-16 10z"/><path class="c11" d="M4621 2296l16-10-13 11-16 10z"/><path class="c10" d="M4604 2305l17-9-13 11-16 10zm-16 9l16-9-12 12-16 9z"/><path class="c9" d="M4572 2322l16-8-12 12-17 8zm-16 8l16-8-13 12-16 8z"/><path class="c8" d="M4540 2338l16-8-13 12-16 7zm-17 7l17-7-13 11-16 8zm-16 7l16-7-12 12-16 6zm-16 6l16-6-12 11-17 7z"/><path class="c7" d="M4475 2364l16-6-13 12-16 6zm-16 6l16-6-13 12-16 5zm-17 5l17-5-13 11-16 5zm-16 5l16-5-12 11-16 5zm-16 4l16-4-12 11-17 5zm-16 4l16-4-13 12-16 4zm-16 4l16-4-13 12-16 3zm-17 3l17-3-13 11-16 3z"/><path class="c8" d="M4345 2398l16-3-12 11-16 3zm-16 2l16-2-12 11-17 3zm-16 2l16-2-13 12-16 2zm-16 2l16-2-13 12-16 1z"/><path class="c9" d="M4280 2405l17-1-13 11-16 2zm-16 1l16-1-12 12-16 1z"/><path class="c10" d="M4248 2406l16 0-12 12-17 0zm-16 0l16 0-13 12-16 0z"/><path class="c11" d="M4216 2406l16 0-13 12-16-1z"/><path class="c12" d="M4199 2405l17 1-13 11-16-1zm-16-2l16 2-12 11-16-2z"/><path class="c13" d="M4167 2401l16 2-12 11-17-2z"/><path class="c14" d="M4151 2398l16 3-13 11-16-3z"/><path class="c15" d="M4135 2394l16 4-13 11-16-4z"/><path class="c16" d="M4118 2390l17 4-13 11-16-4z"/><path class="c17" d="M4102 2386l16 4-12 11-16-5z"/><path class="c19" d="M4086 2380l16 6-12 10-17-5z"/><path class="c20" d="M4070 2374l16 6-13 11-16-7z"/><path class="c21" d="M4054 2367l16 7-13 10-16-7z"/><path class="c23" d="M4037 2359l17 8-13 10-16-8z"/><path class="c24" d="M4021 2350l16 9-12 10-16-9z"/><path class="c26" d="M4828 2126l16-17-13 11-16 18z"/><path class="c25" d="M4811 2143l17-17-13 12-16 17z"/><path class="c23" d="M4795 2159l16-16-12 12-16 16z"/><path class="c22" d="M4779 2174l16-15-12 12-17 16z"/><path class="c21" d="M4763 2188l16-14-13 13-16 15z"/><path class="c20" d="M4746 2202l17-14-13 14-16 14z"/><path class="c18" d="M4730 2215l16-13-12 14-16 13z"/><path class="c17" d="M4714 2227l16-12-12 14-16 12z"/><path class="c16" d="M4698 2239l16-12-12 14-17 12zm-16 12l16-12-13 14-16 12z"/><path class="c15" d="M4666 2261l16-10-13 14-16 11z"/><path class="c14" d="M4649 2272l17-11-13 15-16 10z"/><path class="c13" d="M4633 2281l16-9-12 14-16 10zm-16 10l16-10-12 15-17 9z"/><path class="c12" d="M4601 2300l16-9-13 14-16 9zm-17 8l17-8-13 14-16 8z"/><path class="c11" d="M4568 2316l16-8-12 14-16 8zm-16 8l16-8-12 14-16 8z"/><path class="c10" d="M4536 2331l16-7-12 14-17 7zm-16 7l16-7-13 14-16 7zm-16 6l16-6-13 14-16 6zm-17 6l17-6-13 14-16 6zm-16 6l16-6-12 14-16 6z"/><path class="c9" d="M4455 2361l16-5-12 14-17 5zm-16 5l16-5-13 14-16 5zm-17 4l17-4-13 14-16 4zm-16 4l16-4-12 14-16 4z"/><path class="c10" d="M4390 2378l16-4-12 14-16 4zm-16 3l16-3-12 14-17 3zm-16 3l16-3-13 14-16 3zm-16 2l16-2-13 14-16 2zm-17 2l17-2-13 14-16 2z"/><path class="c11" d="M4309 2390l16-2-12 14-16 2zm-16 1l16-1-12 14-17 1z"/><path class="c12" d="M4277 2392l16-1-13 14-16 1zm-17 0l17 0-13 14-16 0z"/><path class="c13" d="M4244 2392l16 0-12 14-16 0zm-16-1l16 1-12 14-16 0z"/><path class="c14" d="M4212 2390l16 1-12 15-17-1z"/><path class="c15" d="M4196 2389l16 1-13 15-16-2z"/><path class="c16" d="M4180 2387l16 2-13 14-16-2zm-17-3l17 3-13 14-16-3z"/><path class="c17" d="M4147 2381l16 3-12 14-16-4z"/><path class="c18" d="M4131 2377l16 4-12 13-17-4z"/><path class="c20" d="M4115 2372l16 5-13 13-16-4z"/><path class="c21" d="M4098 2367l17 5-13 14-16-6z"/><path class="c22" d="M4082 2361l16 6-12 13-16-6z"/><path class="c23" d="M4066 2355l16 6-12 13-16-7z"/><path class="c25" d="M4050 2347l16 8-12 12-17-8z"/><path class="c26" d="M4034 2339l16 8-13 12-16-9z"/><path class="c29" d="M4840 2108l16-17-12 18-16 17z"/><path class="c28" d="M4824 2124l16-16-12 18-17 17z"/><path class="c26" d="M4808 2140l16-16-13 19-16 16z"/><path class="c25" d="M4791 2155l17-15-13 19-16 15z"/><path class="c24" d="M4775 2169l16-14-12 19-16 14z"/><path class="c22" d="M4759 2182l16-13-12 19-17 14z"/><path class="c21" d="M4743 2195l16-13-13 20-16 13z"/><path class="c20" d="M4727 2207l16-12-13 20-16 12z"/><path class="c19" d="M4710 2219l17-12-13 20-16 12z"/><path class="c18" d="M4694 2230l16-11-12 20-16 12zm-16 11l16-11-12 21-16 10z"/><path class="c17" d="M4662 2251l16-10-12 20-17 11z"/><path class="c16" d="M4646 2261l16-10-13 21-16 9zm-17 9l17-9-13 20-16 10z"/><path class="c15" d="M4613 2279l16-9-12 21-16 9zm-16 8l16-8-12 21-17 8z"/><path class="c14" d="M4581 2295l16-8-13 21-16 8zm-16 8l16-8-13 21-16 8z"/><path class="c13" d="M4548 2310l17-7-13 21-16 7zm-16 7l16-7-12 21-16 7zm-16 7l16-7-12 21-16 6zm-16 6l16-6-12 20-17 6z"/><path class="c12" d="M4484 2335l16-5-13 20-16 6zm-17 6l17-6-13 21-16 5zm-16 4l16-4-12 20-16 5zm-16 5l16-5-12 21-17 4zm-16 4l16-4-13 20-16 4zm-16 3l16-3-13 20-16 4z"/><path class="c13" d="M4386 2360l17-3-13 21-16 3zm-16 3l16-3-12 21-16 3zm-16 2l16-2-12 21-16 2zm-16 2l16-2-12 21-17 2z"/><path class="c14" d="M4322 2369l16-2-13 21-16 2zm-17 1l17-1-13 21-16 1z"/><path class="c15" d="M4289 2371l16-1-12 21-16 1zm-16 0l16 0-12 21-17 0z"/><path class="c16" d="M4257 2371l16 0-13 21-16 0zm-16-1l16 1-13 21-16-1z"/><path class="c17" d="M4224 2369l17 1-13 21-16-1z"/><path class="c18" d="M4208 2368l16 1-12 21-16-1zm-16-2l16 2-12 21-16-2z"/><path class="c19" d="M4176 2364l16 2-12 21-17-3z"/><path class="c20" d="M4160 2360l16 4-13 20-16-3z"/><path class="c21" d="M4143 2357l17 3-13 21-16-4z"/><path class="c22" d="M4127 2353l16 4-12 20-16-5z"/><path class="c24" d="M4111 2348l16 5-12 19-17-5z"/><path class="c25" d="M4095 2342l16 6-13 19-16-6z"/><path class="c26" d="M4079 2336l16 6-13 19-16-6z"/><path class="c28" d="M4062 2329l17 7-13 19-16-8z"/><path class="c29" d="M4046 2321l16 8-12 18-16-8z"/><path class="c32" d="M4853 2085l16-16-13 22-16 17z"/><path class="c31" d="M4836 2101l17-16-13 23-16 16z"/><path class="c29" d="M4820 2116l16-15-12 23-16 16z"/><path class="c28" d="M4804 2130l16-14-12 24-17 15z"/><path class="c27" d="M4788 2144l16-14-13 25-16 14z"/><path class="c26" d="M4772 2157l16-13-13 25-16 13z"/><path class="c25" d="M4755 2169l17-12-13 25-16 13z"/><path class="c24" d="M4739 2181l16-12-12 26-16 12z"/><path class="c23" d="M4723 2193l16-12-12 26-17 12z"/><path class="c22" d="M4707 2204l16-11-13 26-16 11z"/><path class="c21" d="M4691 2215l16-11-13 26-16 11zm-17 10l17-10-13 26-16 10z"/><path class="c20" d="M4658 2234l16-9-12 26-16 10z"/><path class="c19" d="M4642 2244l16-10-12 27-17 9zm-16 9l16-9-13 26-16 9z"/><path class="c18" d="M4610 2261l16-8-13 26-16 8zm-17 8l17-8-13 26-16 8z"/><path class="c17" d="M4577 2277l16-8-12 26-16 8zm-16 8l16-8-12 26-17 7zm-16 7l16-7-13 25-16 7z"/><path class="c16" d="M4529 2298l16-6-13 25-16 7zm-17 6l17-6-13 26-16 6zm-16 6l16-6-12 26-16 5zm-16 5l16-5-12 25-17 6zm-16 5l16-5-13 26-16 4zm-16 5l16-5-13 25-16 5zm-17 4l17-4-13 25-16 4zm-16 3l16-3-12 25-16 3zm-16 3l16-3-12 25-17 3zm-16 3l16-3-13 25-16 3z"/><path class="c17" d="M4367 2340l16-2-13 25-16 2zm-17 2l17-2-13 25-16 2zm-16 1l16-1-12 25-16 2z"/><path class="c18" d="M4318 2344l16-1-12 26-17 1zm-16 1l16-1-13 26-16 1z"/><path class="c19" d="M4286 2345l16 0-13 26-16 0zm-17 0l17 0-13 26-16 0z"/><path class="c20" d="M4253 2344l16 1-12 26-16-1z"/><path class="c21" d="M4237 2343l16 1-12 26-17-1zm-16-1l16 1-13 26-16-1z"/><path class="c22" d="M4205 2340l16 2-13 26-16-2z"/><path class="c23" d="M4188 2338l17 2-13 26-16-2z"/><path class="c24" d="M4172 2335l16 3-12 26-16-4z"/><path class="c25" d="M4156 2331l16 4-12 25-17-3z"/><path class="c26" d="M4140 2328l16 3-13 26-16-4z"/><path class="c27" d="M4124 2323l16 5-13 25-16-5z"/><path class="c28" d="M4107 2318l17 5-13 25-16-6z"/><path class="c29" d="M4091 2312l16 6-12 24-16-6z"/><path class="c31" d="M4075 2306l16 6-12 24-17-7z"/><path class="c32" d="M4059 2299l16 7-13 23-16-8z"/><path class="c36" d="M4865 2060l16-16-12 25-16 16z"/><path class="c35" d="M4849 2075l16-15-12 25-17 16z"/><path class="c33" d="M4833 2089l16-14-13 26-16 15z"/><path class="c32" d="M4817 2103l16-14-13 27-16 14z"/><path class="c31" d="M4800 2116l17-13-13 27-16 14z"/><path class="c30" d="M4784 2129l16-13-12 28-16 13z"/><path class="c29" d="M4768 2141l16-12-12 28-17 12z"/><path class="c28" d="M4752 2153l16-12-13 28-16 12z"/><path class="c27" d="M4736 2165l16-12-13 28-16 12z"/><path class="c26" d="M4719 2175l17-10-13 28-16 11z"/><path class="c25" d="M4703 2186l16-11-12 29-16 11zm-16 10l16-10-12 29-17 10z"/><path class="c24" d="M4671 2206l16-10-13 29-16 9z"/><path class="c23" d="M4655 2215l16-9-13 28-16 10zm-17 9l17-9-13 29-16 9z"/><path class="c22" d="M4622 2233l16-9-12 29-16 8zm-16 8l16-8-12 28-17 8z"/><path class="c21" d="M4590 2249l16-8-13 28-16 8zm-16 8l16-8-13 28-16 8zm-17 7l17-7-13 28-16 7z"/><path class="c20" d="M4541 2271l16-7-12 28-16 6zm-16 6l16-6-12 27-17 6zm-16 6l16-6-13 27-16 6zm-16 5l16-5-13 27-16 5zm-17 5l17-5-13 27-16 5zm-16 4l16-4-12 27-16 5zm-16 4l16-4-12 28-17 4zm-16 4l16-4-13 28-16 3zm-16 3l16-3-13 27-16 3zm-17 2l17-2-13 27-16 3z"/><path class="c21" d="M4379 2312l16-2-12 28-16 2zm-16 2l16-2-12 28-17 2zm-16 1l16-1-13 28-16 1z"/><path class="c22" d="M4331 2316l16-1-13 28-16 1zm-17 0l17 0-13 28-16 1z"/><path class="c23" d="M4298 2317l16-1-12 29-16 0zm-16-1l16 1-12 28-17 0z"/><path class="c24" d="M4266 2316l16 0-13 29-16-1z"/><path class="c25" d="M4250 2315l16 1-13 28-16-1zm-17-2l17 2-13 28-16-1z"/><path class="c26" d="M4217 2312l16 1-12 29-16-2z"/><path class="c27" d="M4201 2310l16 2-12 28-17-2z"/><path class="c28" d="M4185 2307l16 3-13 28-16-3z"/><path class="c29" d="M4169 2304l16 3-13 28-16-4z"/><path class="c30" d="M4152 2300l17 4-13 27-16-3z"/><path class="c31" d="M4136 2296l16 4-12 28-16-5z"/><path class="c32" d="M4120 2292l16 4-12 27-17-5z"/><path class="c33" d="M4104 2286l16 6-13 26-16-6z"/><path class="c35" d="M4088 2281l16 5-13 26-16-6z"/><path class="c36" d="M4071 2274l17 7-13 25-16-7z"/><path class="c40" d="M4878 2031l16-15-13 28-16 16z"/><path class="c39" d="M4861 2045l17-14-13 29-16 15z"/><path class="c38" d="M4845 2059l16-14-12 30-16 14z"/><path class="c36" d="M4829 2072l16-13-12 30-16 14z"/><path class="c35" d="M4813 2085l16-13-12 31-17 13z"/><path class="c34" d="M4797 2097l16-12-13 31-16 13z"/><path class="c33" d="M4780 2109l17-12-13 32-16 12z"/><path class="c32" d="M4764 2121l16-12-12 32-16 12zm-16 11l16-11-12 32-16 12z"/><path class="c31" d="M4732 2143l16-11-12 33-17 10z"/><path class="c30" d="M4716 2153l16-10-13 32-16 11z"/><path class="c29" d="M4699 2163l17-10-13 33-16 10zm-16 10l16-10-12 33-16 10z"/><path class="c28" d="M4667 2183l16-10-12 33-16 9z"/><path class="c27" d="M4651 2192l16-9-12 32-17 9zm-16 9l16-9-13 32-16 9z"/><path class="c26" d="M4618 2209l17-8-13 32-16 8zm-16 8l16-8-12 32-16 8zm-16 8l16-8-12 32-16 8z"/><path class="c25" d="M4570 2233l16-8-12 32-17 7zm-16 7l16-7-13 31-16 7zm-17 6l17-6-13 31-16 6z"/><path class="c24" d="M4521 2252l16-6-12 31-16 6zm-16 6l16-6-12 31-16 5zm-16 4l16-4-12 30-17 5zm-16 5l16-5-13 31-16 4zm-17 3l17-3-13 30-16 4zm-16 4l16-4-12 31-16 4z"/><path class="c25" d="M4424 2276l16-2-12 31-16 3zm-16 3l16-3-12 32-17 2zm-16 1l16-1-13 31-16 2z"/><path class="c26" d="M4375 2282l17-2-13 32-16 2zm-16 1l16-1-12 32-16 1zm-16 1l16-1-12 32-16 1z"/><path class="c27" d="M4327 2284l16 0-12 32-17 0zm-16 0l16 0-13 32-16 1z"/><path class="c28" d="M4294 2284l17 0-13 33-16-1z"/><path class="c29" d="M4278 2283l16 1-12 32-16 0zm-16-1l16 1-12 33-16-1z"/><path class="c30" d="M4246 2281l16 1-12 33-17-2z"/><path class="c31" d="M4230 2279l16 2-13 32-16-1z"/><path class="c32" d="M4213 2277l17 2-13 33-16-2zm-16-2l16 2-12 33-16-3z"/><path class="c33" d="M4181 2272l16 3-12 32-16-3z"/><path class="c34" d="M4165 2269l16 3-12 32-17-4z"/><path class="c35" d="M4149 2265l16 4-13 31-16-4z"/><path class="c36" d="M4132 2261l17 4-13 31-16-4z"/><path class="c38" d="M4116 2257l16 4-12 31-16-6z"/><path class="c39" d="M4100 2252l16 5-12 29-16-5z"/><path class="c40" d="M4084 2246l16 6-12 29-17-7z"/><path class="c44" d="M4890 2001l16-14-12 29-16 15z"/><path class="c43" d="M4874 2014l16-13-12 30-17 14z"/><path class="c42" d="M4858 2027l16-13-13 31-16 14z"/><path class="c41" d="M4842 2040l16-13-13 32-16 13z"/><path class="c40" d="M4825 2053l17-13-13 32-16 13z"/><path class="c39" d="M4809 2065l16-12-12 32-16 12z"/><path class="c38" d="M4793 2076l16-11-12 32-17 12z"/><path class="c37" d="M4777 2088l16-12-13 33-16 12z"/><path class="c36" d="M4761 2099l16-11-13 33-16 11zm-17 11l17-11-13 33-16 11z"/><path class="c35" d="M4728 2120l16-10-12 33-16 10z"/><path class="c34" d="M4712 2131l16-11-12 33-17 10z"/><path class="c33" d="M4696 2141l16-10-13 32-16 10zm-16 9l16-9-13 32-16 10z"/><path class="c32" d="M4663 2160l17-10-13 33-16 9zm-16 9l16-9-12 32-16 9z"/><path class="c31" d="M4631 2177l16-8-12 32-17 8zm-16 9l16-9-13 32-16 8z"/><path class="c30" d="M4599 2194l16-8-13 31-16 8zm-17 8l17-8-13 31-16 8z"/><path class="c29" d="M4566 2209l16-7-12 31-16 7zm-16 7l16-7-12 31-17 6zm-16 6l16-6-13 30-16 6zm-16 5l16-5-13 30-16 6zm-17 5l17-5-13 31-16 4zm-16 5l16-5-12 30-16 5zm-16 3l16-3-12 30-17 3zm-16 3l16-3-13 30-16 4zm-16 3l16-3-13 31-16 2zm-17 2l17-2-13 30-16 3z"/><path class="c30" d="M4404 2249l16-1-12 31-16 1zm-16 1l16-1-12 31-17 2z"/><path class="c31" d="M4372 2251l16-1-13 32-16 1zm-16 1l16-1-13 32-16 1z"/><path class="c32" d="M4339 2252l17 0-13 32-16 0zm-16-1l16 1-12 32-16 0z"/><path class="c33" d="M4307 2251l16 0-12 33-17 0zm-16-1l16 1-13 33-16-1z"/><path class="c34" d="M4275 2249l16 1-13 33-16-1z"/><path class="c35" d="M4258 2248l17 1-13 33-16-1z"/><path class="c36" d="M4242 2246l16 2-12 33-16-2zm-16-2l16 2-12 33-17-2z"/><path class="c37" d="M4210 2242l16 2-13 33-16-2z"/><path class="c38" d="M4194 2239l16 3-13 33-16-3z"/><path class="c39" d="M4177 2237l17 2-13 33-16-3z"/><path class="c40" d="M4161 2233l16 4-12 32-16-4z"/><path class="c41" d="M4145 2230l16 3-12 32-17-4z"/><path class="c42" d="M4129 2226l16 4-13 31-16-4z"/><path class="c43" d="M4113 2222l16 4-13 31-16-5z"/><path class="c44" d="M4096 2217l17 5-13 30-16-6z"/><path class="c49" d="M4903 1968l16-13-13 32-16 14z"/><path class="c48" d="M4887 1981l16-13-13 33-16 13z"/><path class="c47" d="M4870 1994l17-13-13 33-16 13z"/><path class="c46" d="M4854 2006l16-12-12 33-16 13z"/><path class="c45" d="M4838 2018l16-12-12 34-17 13z"/><path class="c44" d="M4822 2030l16-12-13 35-16 12z"/><path class="c43" d="M4806 2042l16-12-13 35-16 11z"/><path class="c42" d="M4789 2053l17-11-13 34-16 12z"/><path class="c41" d="M4773 2065l16-12-12 35-16 11zm-16 11l16-11-12 34-17 11z"/><path class="c40" d="M4741 2086l16-10-13 34-16 10z"/><path class="c39" d="M4725 2097l16-11-13 34-16 11z"/><path class="c38" d="M4708 2107l17-10-13 34-16 10zm-16 10l16-10-12 34-16 9z"/><path class="c37" d="M4676 2127l16-10-12 33-17 10z"/><path class="c36" d="M4660 2136l16-9-13 33-16 9zm-16 9l16-9-13 33-16 8z"/><path class="c35" d="M4627 2154l17-9-13 32-16 9zm-16 9l16-9-12 32-16 8z"/><path class="c34" d="M4595 2171l16-8-12 31-17 8zm-16 7l16-7-13 31-16 7zm-16 7l16-7-13 31-16 7z"/><path class="c33" d="M4546 2192l17-7-13 31-16 6zm-16 5l16-5-12 30-16 5zm-16 5l16-5-12 30-17 5zm-16 5l16-5-13 30-16 5zm-16 3l16-3-13 30-16 3zm-17 3l17-3-13 30-16 3z"/><path class="c34" d="M4449 2215l16-2-12 30-16 3zm-16 2l16-2-12 31-17 2zm-16 1l16-1-13 31-16 1z"/><path class="c35" d="M4401 2219l16-1-13 31-16 1zm-17 0l17 0-13 31-16 1z"/><path class="c36" d="M4368 2219l16 0-12 32-16 1zm-16 0l16 0-12 33-17 0z"/><path class="c37" d="M4336 2218l16 1-13 33-16-1z"/><path class="c38" d="M4320 2217l16 1-13 33-16 0zm-17-1l17 1-13 34-16-1z"/><path class="c39" d="M4287 2215l16 1-12 34-16-1z"/><path class="c40" d="M4271 2214l16 1-12 34-17-1z"/><path class="c41" d="M4255 2212l16 2-13 34-16-2zm-16-2l16 2-13 34-16-2z"/><path class="c42" d="M4222 2208l17 2-13 34-16-2z"/><path class="c43" d="M4206 2205l16 3-12 34-16-3z"/><path class="c44" d="M4190 2202l16 3-12 34-17-2z"/><path class="c45" d="M4174 2199l16 3-13 35-16-4z"/><path class="c46" d="M4158 2196l16 3-13 34-16-3z"/><path class="c47" d="M4141 2193l17 3-13 34-16-4z"/><path class="c48" d="M4125 2189l16 4-12 33-16-4z"/><path class="c49" d="M4109 2185l16 4-12 33-17-5z"/><path class="c54" d="M4915 1935l16-13-12 33-16 13z"/><path class="c53" d="M4899 1948l16-13-12 33-16 13z"/><path class="c52" d="M4883 1960l16-12-12 33-17 13z"/><path class="c51" d="M4867 1973l16-13-13 34-16 12z"/><path class="c50" d="M4850 1985l17-12-13 33-16 12z"/><path class="c49" d="M4834 1997l16-12-12 33-16 12z"/><path class="c48" d="M4818 2008l16-11-12 33-16 12z"/><path class="c47" d="M4802 2020l16-12-12 34-17 11z"/><path class="c46" d="M4786 2031l16-11-13 33-16 12z"/><path class="c45" d="M4769 2043l17-12-13 34-16 11zm-16 11l16-11-12 33-16 10z"/><path class="c44" d="M4737 2065l16-11-12 32-16 11z"/><path class="c43" d="M4721 2075l16-10-12 32-17 10z"/><path class="c42" d="M4705 2086l16-11-13 32-16 10zm-17 10l17-10-13 31-16 10z"/><path class="c41" d="M4672 2106l16-10-12 31-16 9z"/><path class="c40" d="M4656 2116l16-10-12 30-16 9zm-16 9l16-9-12 29-17 9z"/><path class="c39" d="M4624 2134l16-9-13 29-16 9zm-17 8l17-8-13 29-16 8z"/><path class="c38" d="M4591 2150l16-8-12 29-16 7zm-16 8l16-8-12 28-16 7zm-16 6l16-6-12 27-17 7zm-16 6l16-6-13 28-16 5zm-17 5l17-5-13 27-16 5zm-16 4l16-4-12 27-16 5zm-16 4l16-4-12 28-16 3zm-16 2l16-2-12 27-17 3zm-16 2l16-2-13 28-16 2zm-17 1l17-1-13 28-16 2z"/><path class="c39" d="M4429 2189l16-1-12 29-16 1zm-16 0l16 0-12 29-16 1z"/><path class="c40" d="M4397 2189l16 0-12 30-17 0zm-16 0l16 0-13 30-16 0z"/><path class="c41" d="M4364 2188l17 1-13 30-16 0z"/><path class="c42" d="M4348 2187l16 1-12 31-16-1zm-16-1l16 1-12 31-16-1z"/><path class="c43" d="M4316 2184l16 2-12 31-17-1z"/><path class="c44" d="M4300 2183l16 1-13 32-16-1z"/><path class="c45" d="M4283 2181l17 2-13 32-16-1zm-16-2l16 2-12 33-16-2z"/><path class="c46" d="M4251 2176l16 3-12 33-16-2z"/><path class="c47" d="M4235 2174l16 2-12 34-17-2z"/><path class="c48" d="M4219 2171l16 3-13 34-16-3z"/><path class="c49" d="M4202 2169l17 2-13 34-16-3z"/><path class="c50" d="M4186 2166l16 3-12 33-16-3z"/><path class="c51" d="M4170 2163l16 3-12 33-16-3z"/><path class="c52" d="M4154 2159l16 4-12 33-17-3z"/><path class="c53" d="M4138 2156l16 3-13 34-16-4z"/><path class="c54" d="M4121 2152l17 4-13 33-16-4z"/><path class="c58" d="M4928 1911l16-13-13 24-16 13z"/><path class="c57" d="M4912 1923l16-12-13 24-16 13z"/><path class="c56" d="M4895 1936l17-13-13 25-16 12z"/><path class="c55" d="M4879 1948l16-12-12 24-16 13z"/><path class="c54" d="M4863 1960l16-12-12 25-17 12z"/><path class="c53" d="M4847 1972l16-12-13 25-16 12z"/><path class="c52" d="M4831 1984l16-12-13 25-16 11z"/><path class="c51" d="M4814 1996l17-12-13 24-16 12zm-16 12l16-12-12 24-16 11z"/><path class="c50" d="M4782 2019l16-11-12 23-17 12z"/><path class="c49" d="M4766 2031l16-12-13 24-16 11z"/><path class="c48" d="M4750 2042l16-11-13 23-16 11z"/><path class="c47" d="M4733 2053l17-11-13 23-16 10zm-16 11l16-11-12 22-16 11z"/><path class="c46" d="M4701 2075l16-11-12 22-17 10z"/><path class="c45" d="M4685 2085l16-10-13 21-16 10z"/><path class="c44" d="M4669 2095l16-10-13 21-16 10zm-17 10l17-10-13 21-16 9z"/><path class="c43" d="M4636 2115l16-10-12 20-16 9zm-16 9l16-9-12 19-17 8z"/><path class="c42" d="M4604 2132l16-8-13 18-16 8zm-16 8l16-8-13 18-16 8z"/><path class="c41" d="M4571 2147l17-7-13 18-16 6zm-16 6l16-6-12 17-16 6zm-16 5l16-5-12 17-17 5zm-16 4l16-4-13 17-16 4zm-16 3l16-3-13 17-16 4zm-17 2l17-2-13 18-16 2z"/><path class="c42" d="M4474 2169l16-2-12 18-16 2zm-16 1l16-1-12 18-17 1z"/><path class="c43" d="M4442 2170l16 0-13 18-16 1zm-16 0l16 0-13 19-16 0z"/><path class="c44" d="M4409 2169l17 1-13 19-16 0zm-16-1l16 1-12 20-16 0z"/><path class="c45" d="M4377 2167l16 1-12 21-17-1z"/><path class="c46" d="M4361 2165l16 2-13 21-16-1z"/><path class="c47" d="M4345 2164l16 1-13 22-16-1zm-17-2l17 2-13 22-16-2z"/><path class="c48" d="M4312 2160l16 2-12 22-16-1z"/><path class="c49" d="M4296 2157l16 3-12 23-17-2z"/><path class="c50" d="M4280 2155l16 2-13 24-16-2z"/><path class="c51" d="M4264 2152l16 3-13 24-16-3zm-17-2l17 2-13 24-16-2z"/><path class="c52" d="M4231 2147l16 3-12 24-16-3z"/><path class="c53" d="M4215 2144l16 3-12 24-17-2z"/><path class="c54" d="M4199 2141l16 3-13 25-16-3z"/><path class="c55" d="M4183 2138l16 3-13 25-16-3z"/><path class="c56" d="M4166 2135l17 3-13 25-16-4z"/><path class="c57" d="M4150 2131l16 4-12 24-16-3z"/><path class="c58" d="M4134 2128l16 3-12 25-17-4z"/><path class="c61" d="M4940 1898l17-13-13 13-16 13z"/><path class="c60" d="M4924 1910l16-12-12 13-16 12z"/><path class="c59" d="M4908 1923l16-13-12 13-17 13z"/><path class="c58" d="M4892 1935l16-12-13 13-16 12z"/><path class="c57" d="M4876 1947l16-12-13 13-16 12z"/><path class="c56" d="M4859 1959l17-12-13 13-16 12z"/><path class="c55" d="M4843 1972l16-13-12 13-16 12z"/><path class="c54" d="M4827 1984l16-12-12 12-17 12zm-16 12l16-12-13 12-16 12z"/><path class="c53" d="M4795 2008l16-12-13 12-16 11z"/><path class="c52" d="M4778 2020l17-12-13 11-16 12z"/><path class="c51" d="M4762 2031l16-11-12 11-16 11z"/><path class="c50" d="M4746 2043l16-12-12 11-17 11z"/><path class="c49" d="M4730 2054l16-11-13 10-16 11z"/><path class="c48" d="M4714 2065l16-11-13 10-16 11zm-17 11l17-11-13 10-16 10z"/><path class="c47" d="M4681 2087l16-11-12 9-16 10z"/><path class="c46" d="M4665 2097l16-10-12 8-17 10zm-16 10l16-10-13 8-16 10z"/><path class="c45" d="M4633 2117l16-10-13 8-16 9z"/><path class="c44" d="M4616 2125l17-8-13 7-16 8zm-16 8l16-8-12 7-16 8zm-16 7l16-7-12 7-17 7z"/><path class="c43" d="M4568 2147l16-7-13 7-16 6zm-16 5l16-5-13 6-16 5zm-17 4l17-4-13 6-16 4zm-16 3l16-3-12 6-16 3z"/><path class="c44" d="M4503 2161l16-2-12 6-17 2zm-16 1l16-1-13 6-16 2zm-16 1l16-1-13 7-16 1z"/><path class="c45" d="M4454 2162l17 1-13 7-16 0z"/><path class="c46" d="M4438 2162l16 0-12 8-16 0zm-16-1l16 1-12 8-17-1z"/><path class="c47" d="M4406 2159l16 2-13 8-16-1z"/><path class="c48" d="M4390 2157l16 2-13 9-16-1zm-17-2l17 2-13 10-16-2z"/><path class="c49" d="M4357 2153l16 2-12 10-16-1z"/><path class="c50" d="M4341 2151l16 2-12 11-17-2z"/><path class="c51" d="M4325 2148l16 3-13 11-16-2z"/><path class="c52" d="M4309 2146l16 2-13 12-16-3z"/><path class="c53" d="M4292 2143l17 3-13 11-16-2z"/><path class="c54" d="M4276 2140l16 3-12 12-16-3zm-16-3l16 3-12 12-17-2z"/><path class="c55" d="M4244 2134l16 3-13 13-16-3z"/><path class="c56" d="M4228 2131l16 3-13 13-16-3z"/><path class="c57" d="M4211 2128l17 3-13 13-16-3z"/><path class="c58" d="M4195 2125l16 3-12 13-16-3z"/><path class="c59" d="M4179 2122l16 3-12 13-17-3z"/><path class="c60" d="M4163 2118l16 4-13 13-16-4z"/><path class="c61" d="M4147 2115l16 3-13 13-16-3z"/><path class="c63" d="M4953 1895l16-12-12 2-17 13z"/><path class="c62" d="M4937 1908l16-13-13 3-16 12z"/><path class="c61" d="M4920 1921l17-13-13 2-16 13z"/><path class="c60" d="M4904 1933l16-12-12 2-16 12z"/><path class="c59" d="M4888 1946l16-13-12 2-16 12z"/><path class="c58" d="M4872 1958l16-12-12 1-17 12z"/><path class="c57" d="M4856 1970l16-12-13 1-16 13z"/><path class="c56" d="M4840 1983l16-13-13 2-16 12z"/><path class="c55" d="M4823 1995l17-12-13 1-16 12z"/><path class="c54" d="M4807 2007l16-12-12 1-16 12z"/><path class="c53" d="M4791 2019l16-12-12 1-17 12z"/><path class="c52" d="M4775 2031l16-12-13 1-16 11z"/><path class="c51" d="M4758 2043l17-12-13 0-16 12zm-16 12l16-12-12 0-16 11z"/><path class="c50" d="M4726 2066l16-11-12-1-16 11z"/><path class="c49" d="M4710 2077l16-11-12-1-17 11z"/><path class="c48" d="M4694 2088l16-11-13-1-16 11z"/><path class="c47" d="M4677 2099l17-11-13-1-16 10zm-16 10l16-10-12-2-16 10z"/><path class="c46" d="M4645 2118l16-9-12-2-16 10z"/><path class="c45" d="M4629 2127l16-9-12-1-17 8zm-16 9l16-9-13-2-16 8zm-17 7l17-7-13-3-16 7z"/><path class="c44" d="M4580 2149l16-6-12-3-16 7zm-16 5l16-5-12-2-16 5zm-16 4l16-4-12-2-17 4zm-16 3l16-3-13-2-16 3z"/><path class="c45" d="M4516 2163l16-2-13-2-16 2zm-17 1l17-1-13-2-16 1zm-16 0l16 0-12-2-16 1z"/><path class="c46" d="M4467 2164l16 0-12-1-17-1z"/><path class="c47" d="M4451 2163l16 1-13-2-16 0zm-17-1l17 1-13-1-16-1z"/><path class="c48" d="M4418 2160l16 2-12-1-16-2z"/><path class="c49" d="M4402 2158l16 2-12-1-16-2z"/><path class="c50" d="M4386 2156l16 2-12-1-17-2z"/><path class="c51" d="M4370 2153l16 3-13-1-16-2zm-16-2l16 2-13 0-16-2z"/><path class="c52" d="M4337 2148l17 3-13 0-16-3z"/><path class="c53" d="M4321 2145l16 3-12 0-16-2z"/><path class="c54" d="M4305 2142l16 3-12 1-17-3z"/><path class="c55" d="M4289 2139l16 3-13 1-16-3z"/><path class="c56" d="M4272 2136l17 3-13 1-16-3z"/><path class="c57" d="M4256 2133l16 3-12 1-16-3z"/><path class="c58" d="M4240 2130l16 3-12 1-16-3z"/><path class="c59" d="M4224 2126l16 4-12 1-17-3z"/><path class="c60" d="M4208 2123l16 3-13 2-16-3z"/><path class="c61" d="M4192 2120l16 3-13 2-16-3z"/><path class="c62" d="M4175 2116l17 4-13 2-16-4z"/><path class="c63" d="M4159 2113l16 3-12 2-16-3zm806-211l17-13-13-6-16 12z"/><path class="c62" d="M4949 1915l16-13-12-7-16 13z"/><path class="c61" d="M4933 1928l16-13-12-7-17 13z"/><path class="c60" d="M4917 1941l16-13-13-7-16 12z"/><path class="c59" d="M4901 1954l16-13-13-8-16 13z"/><path class="c58" d="M4884 1966l17-12-13-8-16 12z"/><path class="c57" d="M4868 1979l16-13-12-8-16 12z"/><path class="c56" d="M4852 1991l16-12-12-9-16 13z"/><path class="c55" d="M4836 2004l16-13-12-8-17 12z"/><path class="c54" d="M4820 2016l16-12-13-9-16 12z"/><path class="c53" d="M4803 2028l17-12-13-9-16 12zm-16 12l16-12-12-9-16 12z"/><path class="c52" d="M4771 2052l16-12-12-9-17 12z"/><path class="c51" d="M4755 2064l16-12-13-9-16 12z"/><path class="c50" d="M4739 2075l16-11-13-9-16 11z"/><path class="c49" d="M4722 2086l17-11-13-9-16 11z"/><path class="c48" d="M4706 2097l16-11-12-9-16 11z"/><path class="c47" d="M4690 2108l16-11-12-9-17 11zm-16 10l16-10-13-9-16 10z"/><path class="c46" d="M4658 2128l16-10-13-9-16 9zm-17 9l17-9-13-10-16 9z"/><path class="c45" d="M4625 2145l16-8-12-10-16 9zm-16 7l16-7-12-9-17 7z"/><path class="c44" d="M4593 2158l16-6-13-9-16 6zm-16 6l16-6-13-9-16 5zm-17 4l17-4-13-10-16 4zm-16 3l16-3-12-10-16 3z"/><path class="c45" d="M4528 2173l16-2-12-10-16 2zm-16 1l16-1-12-10-17 1z"/><path class="c46" d="M4496 2174l16 0-13-10-16 0zm-17-1l17 1-13-10-16 0z"/><path class="c47" d="M4463 2172l16 1-12-9-16-1zm-16-1l16 1-12-9-17-1z"/><path class="c48" d="M4431 2169l16 2-13-9-16-2z"/><path class="c49" d="M4415 2167l16 2-13-9-16-2z"/><path class="c50" d="M4398 2165l17 2-13-9-16-2z"/><path class="c51" d="M4382 2162l16 3-12-9-16-3z"/><path class="c52" d="M4366 2160l16 2-12-9-16-2z"/><path class="c53" d="M4350 2157l16 3-12-9-17-3zm-16-3l16 3-13-9-16-3z"/><path class="c54" d="M4317 2151l17 3-13-9-16-3z"/><path class="c55" d="M4301 2148l16 3-12-9-16-3z"/><path class="c56" d="M4285 2144l16 4-12-9-17-3z"/><path class="c57" d="M4269 2141l16 3-13-8-16-3z"/><path class="c58" d="M4253 2138l16 3-13-8-16-3z"/><path class="c59" d="M4236 2134l17 4-13-8-16-4z"/><path class="c60" d="M4220 2131l16 3-12-8-16-3z"/><path class="c61" d="M4204 2127l16 4-12-8-16-3z"/><path class="c62" d="M4188 2123l16 4-12-7-17-4z"/><path class="c63" d="M4172 2119l16 4-13-7-16-3zm806-202l16-13-12-15-17 13z"/><path class="c62" d="M4962 1931l16-14-13-15-16 13z"/><path class="c61" d="M4946 1944l16-13-13-16-16 13z"/><path class="c60" d="M4929 1957l17-13-13-16-16 13z"/><path class="c59" d="M4913 1970l16-13-12-16-16 13z"/><path class="c58" d="M4897 1983l16-13-12-16-17 12z"/><path class="c57" d="M4881 1996l16-13-13-17-16 13z"/><path class="c56" d="M4865 2008l16-12-13-17-16 12z"/><path class="c55" d="M4848 2021l17-13-13-17-16 13z"/><path class="c54" d="M4832 2033l16-12-12-17-16 12z"/><path class="c53" d="M4816 2046l16-13-12-17-17 12z"/><path class="c52" d="M4800 2058l16-12-13-18-16 12z"/><path class="c51" d="M4784 2070l16-12-13-18-16 12z"/><path class="c50" d="M4767 2081l17-11-13-18-16 12z"/><path class="c49" d="M4751 2093l16-12-12-17-16 11z"/><path class="c48" d="M4735 2104l16-11-12-18-17 11z"/><path class="c47" d="M4719 2115l16-11-13-18-16 11zm-16 10l16-10-13-18-16 11z"/><path class="c46" d="M4686 2135l17-10-13-17-16 10z"/><path class="c45" d="M4670 2145l16-10-12-17-16 10zm-16 8l16-8-12-17-17 9z"/><path class="c44" d="M4638 2161l16-8-13-16-16 8zm-16 8l16-8-13-16-16 7z"/><path class="c43" d="M4605 2175l17-6-13-17-16 6zm-16 5l16-5-12-17-16 6zm-16 4l16-4-12-16-17 4zm-16 3l16-3-13-16-16 3z"/><path class="c44" d="M4541 2189l16-2-13-16-16 2zm-17 1l17-1-13-16-16 1z"/><path class="c45" d="M4508 2191l16-1-12-16-16 0zm-16-1l16 1-12-17-17-1z"/><path class="c46" d="M4476 2189l16 1-13-17-16-1z"/><path class="c47" d="M4460 2188l16 1-13-17-16-1zm-17-1l17 1-13-17-16-2z"/><path class="c48" d="M4427 2185l16 2-12-18-16-2z"/><path class="c49" d="M4411 2182l16 3-12-18-17-2z"/><path class="c50" d="M4395 2180l16 2-13-17-16-3z"/><path class="c51" d="M4379 2177l16 3-13-18-16-2z"/><path class="c52" d="M4362 2174l17 3-13-17-16-3z"/><path class="c53" d="M4346 2171l16 3-12-17-16-3z"/><path class="c54" d="M4330 2168l16 3-12-17-17-3z"/><path class="c55" d="M4314 2165l16 3-13-17-16-3z"/><path class="c56" d="M4298 2161l16 4-13-17-16-4z"/><path class="c57" d="M4281 2158l17 3-13-17-16-3z"/><path class="c58" d="M4265 2154l16 4-12-17-16-3z"/><path class="c59" d="M4249 2150l16 4-12-16-17-4z"/><path class="c60" d="M4233 2146l16 4-13-16-16-3z"/><path class="c61" d="M4217 2142l16 4-13-15-16-4z"/><path class="c62" d="M4200 2138l17 4-13-15-16-4z"/><path class="c63" d="M4184 2134l16 4-12-15-16-4z"/><path class="c61" d="M4991 1941l16-14-13-23-16 13z"/><path class="c60" d="M4974 1955l17-14-13-24-16 14z"/><path class="c59" d="M4958 1970l16-15-12-24-16 13z"/><path class="c58" d="M4942 1983l16-13-12-26-17 13z"/><path class="c57" d="M4926 1997l16-14-13-26-16 13z"/><path class="c56" d="M4910 2010l16-13-13-27-16 13z"/><path class="c54" d="M4893 2024l17-14-13-27-16 13z"/><path class="c53" d="M4877 2037l16-13-12-28-16 12z"/><path class="c52" d="M4861 2049l16-12-12-29-17 13z"/><path class="c51" d="M4845 2062l16-13-13-28-16 12z"/><path class="c50" d="M4829 2074l16-12-13-29-16 13zm-17 12l17-12-13-28-16 12z"/><path class="c49" d="M4796 2098l16-12-12-28-16 12z"/><path class="c48" d="M4780 2110l16-12-12-28-17 11z"/><path class="c47" d="M4764 2121l16-11-13-29-16 12z"/><path class="c46" d="M4748 2132l16-11-13-28-16 11z"/><path class="c45" d="M4731 2143l17-11-13-28-16 11z"/><path class="c44" d="M4715 2153l16-10-12-28-16 10zm-16 10l16-10-12-28-17 10z"/><path class="c43" d="M4683 2172l16-9-13-28-16 10zm-16 9l16-9-13-27-16 8z"/><path class="c42" d="M4650 2189l17-8-13-28-16 8zm-16 7l16-7-12-28-16 8zm-16 6l16-6-12-27-17 6z"/><path class="c41" d="M4602 2207l16-5-13-27-16 5zm-16 4l16-4-13-27-16 4z"/><path class="c42" d="M4569 2214l17-3-13-27-16 3zm-16 3l16-3-12-27-16 2zm-16 1l16-1-12-28-17 1z"/><path class="c43" d="M4521 2218l16 0-13-28-16 1zm-16 0l16 0-13-27-16-1z"/><path class="c44" d="M4488 2218l17 0-13-28-16-1zm-16-1l16 1-12-29-16-1z"/><path class="c45" d="M4456 2215l16 2-12-29-17-1z"/><path class="c46" d="M4440 2213l16 2-13-28-16-2z"/><path class="c47" d="M4424 2211l16 2-13-28-16-3z"/><path class="c48" d="M4407 2209l17 2-13-29-16-2z"/><path class="c49" d="M4391 2206l16 3-12-29-16-3z"/><path class="c50" d="M4375 2203l16 3-12-29-17-3zm-16-3l16 3-13-29-16-3z"/><path class="c51" d="M4343 2197l16 3-13-29-16-3z"/><path class="c52" d="M4326 2193l17 4-13-29-16-3z"/><path class="c53" d="M4310 2189l16 4-12-28-16-4z"/><path class="c54" d="M4294 2185l16 4-12-28-17-3z"/><path class="c56" d="M4278 2181l16 4-13-27-16-4z"/><path class="c57" d="M4262 2177l16 4-13-27-16-4z"/><path class="c58" d="M4245 2172l17 5-13-27-16-4z"/><path class="c59" d="M4229 2167l16 5-12-26-16-4z"/><path class="c60" d="M4213 2162l16 5-12-25-17-4z"/><path class="c61" d="M4197 2157l16 5-13-24-16-4z"/><path class="c59" d="M5003 1972l16-16-12-29-16 14z"/><path class="c57" d="M4987 1988l16-16-12-31-17 14z"/><path class="c56" d="M4971 2003l16-15-13-33-16 15z"/><path class="c55" d="M4954 2018l17-15-13-33-16 13z"/><path class="c53" d="M4938 2033l16-15-12-35-16 14z"/><path class="c52" d="M4922 2047l16-14-12-36-16 13z"/><path class="c51" d="M4906 2061l16-14-12-37-17 14z"/><path class="c50" d="M4890 2074l16-13-13-37-16 13z"/><path class="c49" d="M4873 2088l17-14-13-37-16 12z"/><path class="c48" d="M4857 2101l16-13-12-39-16 13z"/><path class="c47" d="M4841 2113l16-12-12-39-16 12z"/><path class="c46" d="M4825 2126l16-13-12-39-17 12z"/><path class="c45" d="M4809 2138l16-12-13-40-16 12z"/><path class="c44" d="M4792 2149l17-11-13-40-16 12z"/><path class="c43" d="M4776 2161l16-12-12-39-16 11zm-16 11l16-11-12-40-16 11z"/><path class="c42" d="M4744 2182l16-10-12-40-17 11z"/><path class="c41" d="M4728 2192l16-10-13-39-16 10z"/><path class="c40" d="M4711 2202l17-10-13-39-16 10zm-16 9l16-9-12-39-16 9z"/><path class="c39" d="M4679 2220l16-9-12-39-16 9zm-16 7l16-7-12-39-17 8z"/><path class="c38" d="M4647 2234l16-7-13-38-16 7zm-17 6l17-6-13-38-16 6zm-16 6l16-6-12-38-16 5zm-16 4l16-4-12-39-16 4zm-16 3l16-3-12-39-17 3zm-16 2l16-2-13-39-16 3z"/><path class="c39" d="M4549 2257l17-2-13-38-16 1zm-16 0l16 0-12-39-16 0z"/><path class="c40" d="M4517 2257l16 0-12-39-16 0zm-16 0l16 0-12-39-17 0z"/><path class="c41" d="M4485 2256l16 1-13-39-16-1z"/><path class="c42" d="M4468 2254l17 2-13-39-16-2z"/><path class="c43" d="M4452 2253l16 1-12-39-16-2zm-16-2l16 2-12-40-16-2z"/><path class="c44" d="M4420 2248l16 3-12-40-17-2z"/><path class="c45" d="M4404 2245l16 3-13-39-16-3z"/><path class="c46" d="M4387 2242l17 3-13-39-16-3z"/><path class="c47" d="M4371 2239l16 3-12-39-16-3z"/><path class="c48" d="M4355 2235l16 4-12-39-16-3z"/><path class="c49" d="M4339 2231l16 4-12-38-17-4z"/><path class="c50" d="M4323 2226l16 5-13-38-16-4z"/><path class="c51" d="M4306 2222l17 4-13-37-16-4z"/><path class="c52" d="M4290 2217l16 5-12-37-16-4z"/><path class="c53" d="M4274 2211l16 6-12-36-16-4z"/><path class="c55" d="M4258 2206l16 5-12-34-17-5z"/><path class="c56" d="M4242 2200l16 6-13-34-16-5z"/><path class="c57" d="M4225 2193l17 7-13-33-16-5z"/><path class="c59" d="M4209 2186l16 7-12-31-16-5z"/><path class="c56" d="M5016 1996l16-18-13-22-16 16z"/><path class="c54" d="M4999 2013l17-17-13-24-16 16z"/><path class="c53" d="M4983 2030l16-17-12-25-16 15z"/><path class="c52" d="M4967 2046l16-16-12-27-17 15z"/><path class="c50" d="M4951 2062l16-16-13-28-16 15z"/><path class="c49" d="M4935 2077l16-15-13-29-16 14z"/><path class="c48" d="M4918 2092l17-15-13-30-16 14z"/><path class="c47" d="M4902 2106l16-14-12-31-16 13z"/><path class="c45" d="M4886 2120l16-14-12-32-17 14z"/><path class="c44" d="M4870 2134l16-14-13-32-16 13z"/><path class="c43" d="M4854 2147l16-13-13-33-16 12z"/><path class="c42" d="M4837 2159l17-12-13-34-16 13z"/><path class="c41" d="M4821 2172l16-13-12-33-16 12z"/><path class="c40" d="M4805 2183l16-11-12-34-17 11z"/><path class="c39" d="M4789 2195l16-12-13-34-16 12zm-16 11l16-11-13-34-16 11z"/><path class="c38" d="M4756 2216l17-10-13-34-16 10z"/><path class="c37" d="M4740 2226l16-10-12-34-16 10zm-16 10l16-10-12-34-17 10z"/><path class="c36" d="M4708 2245l16-9-13-34-16 9z"/><path class="c35" d="M4692 2253l16-8-13-34-16 9zm-17 8l17-8-13-33-16 7zm-16 7l16-7-12-34-16 7z"/><path class="c34" d="M4643 2274l16-6-12-34-17 6zm-16 5l16-5-13-34-16 6zm-16 4l16-4-13-33-16 4zm-17 3l17-3-13-33-16 3z"/><path class="c35" d="M4578 2288l16-2-12-33-16 2zm-16 2l16-2-12-33-17 2zm-16 1l16-1-13-33-16 0z"/><path class="c36" d="M4530 2291l16 0-13-34-16 0z"/><path class="c37" d="M4513 2291l17 0-13-34-16 0zm-16-1l16 1-12-34-16-1z"/><path class="c38" d="M4481 2289l16 1-12-34-17-2z"/><path class="c39" d="M4465 2287l16 2-13-35-16-1zm-16-2l16 2-13-34-16-2z"/><path class="c40" d="M4432 2282l17 3-13-34-16-3z"/><path class="c41" d="M4416 2279l16 3-12-34-16-3z"/><path class="c42" d="M4400 2276l16 3-12-34-17-3z"/><path class="c43" d="M4384 2272l16 4-13-34-16-3z"/><path class="c44" d="M4368 2267l16 5-13-33-16-4z"/><path class="c45" d="M4351 2263l17 4-13-32-16-4z"/><path class="c47" d="M4335 2258l16 5-12-32-16-5z"/><path class="c48" d="M4319 2252l16 6-12-32-17-4z"/><path class="c49" d="M4303 2246l16 6-13-30-16-5z"/><path class="c50" d="M4287 2239l16 7-13-29-16-6z"/><path class="c52" d="M4270 2232l17 7-13-28-16-5z"/><path class="c53" d="M4254 2225l16 7-12-26-16-6z"/><path class="c54" d="M4238 2217l16 8-12-25-17-7z"/><path class="c56" d="M4222 2208l16 9-13-24-16-7z"/><path class="c54" d="M5028 2016l16-19-12-19-16 18z"/><path class="c52" d="M5012 2036l16-20-12-20-17 17z"/><path class="c51" d="M4996 2054l16-18-13-23-16 17z"/><path class="c49" d="M4980 2071l16-17-13-24-16 16z"/><path class="c48" d="M4963 2088l17-17-13-25-16 16z"/><path class="c46" d="M4947 2105l16-17-12-26-16 15z"/><path class="c45" d="M4931 2120l16-15-12-28-17 15z"/><path class="c43" d="M4915 2136l16-16-13-28-16 14z"/><path class="c42" d="M4899 2150l16-14-13-30-16 14z"/><path class="c41" d="M4882 2164l17-14-13-30-16 14z"/><path class="c40" d="M4866 2178l16-14-12-30-16 13z"/><path class="c39" d="M4850 2191l16-13-12-31-17 12z"/><path class="c38" d="M4834 2203l16-12-13-32-16 13z"/><path class="c37" d="M4818 2215l16-12-13-31-16 11z"/><path class="c36" d="M4801 2226l17-11-13-32-16 12z"/><path class="c35" d="M4785 2237l16-11-12-31-16 11zm-16 11l16-11-12-31-17 10z"/><path class="c34" d="M4753 2258l16-10-13-32-16 10z"/><path class="c33" d="M4737 2267l16-9-13-32-16 10zm-17 9l17-9-13-31-16 9z"/><path class="c32" d="M4704 2284l16-8-12-31-16 8zm-16 8l16-8-12-31-17 8z"/><path class="c31" d="M4672 2298l16-6-13-31-16 7zm-16 6l16-6-13-30-16 6zm-17 5l17-5-13-30-16 5zm-16 4l16-4-12-30-16 4zm-16 4l16-4-12-30-17 3zm-16 2l16-2-13-31-16 2z"/><path class="c32" d="M4575 2321l16-2-13-31-16 2zm-17 1l17-1-13-31-16 1z"/><path class="c33" d="M4542 2322l16 0-12-31-16 0zm-16 0l16 0-12-31-17 0z"/><path class="c34" d="M4510 2321l16 1-13-31-16-1z"/><path class="c35" d="M4494 2320l16 1-13-31-16-1zm-17-2l17 2-13-31-16-2z"/><path class="c36" d="M4461 2316l16 2-12-31-16-2z"/><path class="c37" d="M4445 2313l16 3-12-31-17-3z"/><path class="c38" d="M4429 2310l16 3-13-31-16-3z"/><path class="c39" d="M4413 2306l16 4-13-31-16-3z"/><path class="c40" d="M4396 2302l17 4-13-30-16-4z"/><path class="c41" d="M4380 2297l16 5-12-30-16-5z"/><path class="c42" d="M4364 2292l16 5-12-30-17-4z"/><path class="c43" d="M4348 2286l16 6-13-29-16-5z"/><path class="c45" d="M4332 2280l16 6-13-28-16-6z"/><path class="c46" d="M4315 2272l17 8-13-28-16-6z"/><path class="c48" d="M4299 2265l16 7-12-26-16-7z"/><path class="c49" d="M4283 2256l16 9-12-26-17-7z"/><path class="c51" d="M4267 2247l16 9-13-24-16-7z"/><path class="c52" d="M4251 2237l16 10-13-22-16-8z"/><path class="c54" d="M4234 2227l17 10-13-20-16-9z"/><path class="c52" d="M5041 2038l16-22-13-19-16 19z"/><path class="c50" d="M5024 2058l17-20-13-22-16 20z"/><path class="c48" d="M5008 2078l16-20-12-22-16 18z"/><path class="c47" d="M4992 2097l16-19-12-24-16 17z"/><path class="c45" d="M4976 2115l16-18-12-26-17 17z"/><path class="c44" d="M4960 2132l16-17-13-27-16 17z"/><path class="c42" d="M4943 2149l17-17-13-27-16 15z"/><path class="c41" d="M4927 2165l16-16-12-29-16 16z"/><path class="c39" d="M4911 2180l16-15-12-29-16 14z"/><path class="c38" d="M4895 2194l16-14-12-30-17 14z"/><path class="c37" d="M4879 2208l16-14-13-30-16 14z"/><path class="c36" d="M4862 2221l17-13-13-30-16 13z"/><path class="c35" d="M4846 2234l16-13-12-30-16 12z"/><path class="c34" d="M4830 2246l16-12-12-31-16 12z"/><path class="c33" d="M4814 2258l16-12-12-31-17 11z"/><path class="c32" d="M4798 2268l16-10-13-32-16 11z"/><path class="c31" d="M4781 2279l17-11-13-31-16 11zm-16 10l16-10-12-31-16 10z"/><path class="c30" d="M4749 2298l16-9-12-31-16 9zm-16 8l16-8-12-31-17 9z"/><path class="c29" d="M4717 2314l16-8-13-30-16 8zm-17 8l17-8-13-30-16 8z"/><path class="c28" d="M4684 2328l16-6-12-30-16 6zm-16 6l16-6-12-30-16 6zm-16 5l16-5-12-30-17 5zm-16 4l16-4-13-30-16 4zm-17 4l17-4-13-30-16 4zm-16 2l16-2-12-30-16 2z"/><path class="c29" d="M4587 2351l16-2-12-30-16 2zm-16 1l16-1-12-30-17 1z"/><path class="c30" d="M4555 2353l16-1-13-30-16 0zm-17 0l17 0-13-31-16 0z"/><path class="c31" d="M4522 2352l16 1-12-31-16-1zm-16-1l16 1-12-31-16-1z"/><path class="c32" d="M4490 2350l16 1-12-31-17-2z"/><path class="c33" d="M4474 2347l16 3-13-32-16-2z"/><path class="c34" d="M4457 2344l17 3-13-31-16-3z"/><path class="c35" d="M4441 2341l16 3-12-31-16-3z"/><path class="c36" d="M4425 2337l16 4-12-31-16-4z"/><path class="c37" d="M4409 2332l16 5-12-31-17-4z"/><path class="c38" d="M4393 2327l16 5-13-30-16-5z"/><path class="c39" d="M4376 2321l17 6-13-30-16-5z"/><path class="c41" d="M4360 2315l16 6-12-29-16-6z"/><path class="c42" d="M4344 2307l16 8-12-29-16-6z"/><path class="c44" d="M4328 2299l16 8-12-27-17-8z"/><path class="c45" d="M4312 2290l16 9-13-27-16-7z"/><path class="c47" d="M4295 2280l17 10-13-25-16-9z"/><path class="c48" d="M4279 2270l16 10-12-24-16-9z"/><path class="c50" d="M4263 2258l16 12-12-23-16-10z"/><path class="c52" d="M4247 2246l16 12-12-21-17-10z"/><path class="c50" d="M5053 2062l16-23-12-23-16 22z"/><path class="c48" d="M5037 2084l16-22-12-24-17 20z"/><path class="c46" d="M5021 2105l16-21-13-26-16 20z"/><path class="c44" d="M5005 2125l16-20-13-27-16 19z"/><path class="c42" d="M4988 2144l17-19-13-28-16 18z"/><path class="c41" d="M4972 2162l16-18-12-29-16 17z"/><path class="c39" d="M4956 2179l16-17-12-30-17 17z"/><path class="c38" d="M4940 2196l16-17-13-30-16 16z"/><path class="c36" d="M4924 2211l16-15-13-31-16 15z"/><path class="c35" d="M4907 2226l17-15-13-31-16 14z"/><path class="c34" d="M4891 2240l16-14-12-32-16 14z"/><path class="c33" d="M4875 2254l16-14-12-32-17 13z"/><path class="c32" d="M4859 2266l16-12-13-33-16 13z"/><path class="c31" d="M4843 2278l16-12-13-32-16 12z"/><path class="c30" d="M4826 2290l17-12-13-32-16 12z"/><path class="c29" d="M4810 2301l16-11-12-32-16 10z"/><path class="c28" d="M4794 2311l16-10-12-33-17 11zm-16 9l16-9-13-32-16 10z"/><path class="c27" d="M4762 2329l16-9-13-31-16 9z"/><path class="c26" d="M4745 2338l17-9-13-31-16 8zm-16 8l16-8-12-32-16 8zm-16 7l16-7-12-32-17 8z"/><path class="c25" d="M4697 2359l16-6-13-31-16 6zm-16 6l16-6-13-31-16 6zm-17 5l17-5-13-31-16 5zm-16 4l16-4-12-31-16 4zm-16 3l16-3-12-31-17 4zm-16 3l16-3-13-30-16 2z"/><path class="c26" d="M4600 2382l16-2-13-31-16 2zm-17 2l17-2-13-31-16 1zm-16 1l16-1-12-32-16 1z"/><path class="c27" d="M4551 2385l16 0-12-32-17 0z"/><path class="c28" d="M4535 2384l16 1-13-32-16-1zm-16-1l16 1-13-32-16-1z"/><path class="c29" d="M4502 2382l17 1-13-32-16-1z"/><path class="c30" d="M4486 2380l16 2-12-32-16-3z"/><path class="c31" d="M4470 2377l16 3-12-33-17-3z"/><path class="c32" d="M4454 2373l16 4-13-33-16-3z"/><path class="c33" d="M4438 2369l16 4-13-32-16-4z"/><path class="c34" d="M4421 2364l17 5-13-32-16-5z"/><path class="c35" d="M4405 2359l16 5-12-32-16-5z"/><path class="c36" d="M4389 2352l16 7-12-32-17-6z"/><path class="c38" d="M4373 2345l16 7-13-31-16-6z"/><path class="c39" d="M4357 2337l16 8-13-30-16-8z"/><path class="c41" d="M4340 2328l17 9-13-30-16-8z"/><path class="c42" d="M4324 2318l16 10-12-29-16-9z"/><path class="c44" d="M4308 2308l16 10-12-28-17-10z"/><path class="c46" d="M4292 2296l16 12-13-28-16-10z"/><path class="c48" d="M4276 2283l16 13-13-26-16-12z"/><path class="c50" d="M4259 2269l17 14-13-25-16-12z"/><path class="c48" d="M5066 2090l16-24-13-27-16 23z"/><path class="c45" d="M5050 2114l16-24-13-28-16 22z"/><path class="c43" d="M5033 2135l17-21-13-30-16 21z"/><path class="c41" d="M5017 2156l16-21-12-30-16 20z"/><path class="c39" d="M5001 2176l16-20-12-31-17 19z"/><path class="c38" d="M4985 2195l16-19-13-32-16 18z"/><path class="c36" d="M4969 2213l16-18-13-33-16 17z"/><path class="c34" d="M4952 2229l17-16-13-34-16 17z"/><path class="c33" d="M4936 2245l16-16-12-33-16 15z"/><path class="c32" d="M4920 2260l16-15-12-34-17 15z"/><path class="c30" d="M4904 2275l16-15-13-34-16 14z"/><path class="c29" d="M4888 2288l16-13-13-35-16 14z"/><path class="c28" d="M4871 2301l17-13-13-34-16 12z"/><path class="c27" d="M4855 2313l16-12-12-35-16 12z"/><path class="c26" d="M4839 2325l16-12-12-35-17 12z"/><path class="c25" d="M4823 2335l16-10-13-35-16 11zm-16 11l16-11-13-34-16 10z"/><path class="c24" d="M4790 2355l17-9-13-35-16 9zm-16 9l16-9-12-35-16 9z"/><path class="c23" d="M4758 2372l16-8-12-35-17 9zm-16 8l16-8-13-34-16 8z"/><path class="c22" d="M4726 2387l16-7-13-34-16 7zm-17 6l17-6-13-34-16 6zm-16 6l16-6-12-34-16 6zm-16 5l16-5-12-34-17 5zm-16 4l16-4-13-34-16 4zm-16 3l16-3-13-34-16 3zm-17 3l17-3-13-34-16 3zm-16 3l16-3-12-34-16 2z"/><path class="c23" d="M4596 2418l16-1-12-35-17 2zm-16 1l16-1-13-34-16 1z"/><path class="c24" d="M4564 2419l16 0-13-34-16 0zm-17 0l17 0-13-34-16-1z"/><path class="c25" d="M4531 2418l16 1-12-35-16-1zm-16-1l16 1-12-35-17-1z"/><path class="c26" d="M4499 2414l16 3-13-35-16-2z"/><path class="c27" d="M4483 2412l16 2-13-34-16-3z"/><path class="c28" d="M4466 2408l17 4-13-35-16-4z"/><path class="c29" d="M4450 2404l16 4-12-35-16-4z"/><path class="c30" d="M4434 2398l16 6-12-35-17-5z"/><path class="c32" d="M4418 2393l16 5-13-34-16-5z"/><path class="c33" d="M4402 2386l16 7-13-34-16-7z"/><path class="c34" d="M4385 2378l17 8-13-34-16-7z"/><path class="c36" d="M4369 2370l16 8-12-33-16-8z"/><path class="c38" d="M4353 2360l16 10-12-33-17-9z"/><path class="c39" d="M4337 2349l16 11-13-32-16-10z"/><path class="c41" d="M4321 2338l16 11-13-31-16-10z"/><path class="c43" d="M4304 2325l17 13-13-30-16-12z"/><path class="c45" d="M4288 2311l16 14-12-29-16-13z"/><path class="c48" d="M4272 2296l16 15-12-28-17-14z"/><path class="c45" d="M5078 2123l16-26-12-31-16 24z"/><path class="c42" d="M5062 2147l16-24-12-33-16 24z"/><path class="c40" d="M5046 2170l16-23-12-33-17 21z"/><path class="c38" d="M5030 2192l16-22-13-35-16 21z"/><path class="c36" d="M5014 2212l16-20-13-36-16 20z"/><path class="c34" d="M4997 2231l17-19-13-36-16 19z"/><path class="c32" d="M4981 2250l16-19-12-36-16 18z"/><path class="c31" d="M4965 2267l16-17-12-37-17 16z"/><path class="c29" d="M4949 2283l16-16-13-38-16 16z"/><path class="c28" d="M4932 2299l17-16-13-38-16 15z"/><path class="c27" d="M4916 2313l16-14-12-39-16 15z"/><path class="c25" d="M4900 2327l16-14-12-38-16 13z"/><path class="c24" d="M4884 2340l16-13-12-39-17 13z"/><path class="c23" d="M4868 2352l16-12-13-39-16 12z"/><path class="c22" d="M4852 2364l16-12-13-39-16 12zm-17 10l17-10-13-39-16 10z"/><path class="c21" d="M4819 2385l16-11-12-39-16 11z"/><path class="c20" d="M4803 2394l16-9-12-39-17 9zm-16 9l16-9-13-39-16 9z"/><path class="c19" d="M4770 2411l17-8-13-39-16 8zm-16 7l16-7-12-39-16 8z"/><path class="c18" d="M4738 2425l16-7-12-38-16 7zm-16 7l16-7-12-38-17 6zm-16 5l16-5-13-39-16 6zm-16 5l16-5-13-38-16 5zm-17 4l17-4-13-38-16 4zm-16 4l16-4-12-38-16 3zm-16 3l16-3-12-39-17 3zm-16 2l16-2-13-39-16 3z"/><path class="c19" d="M4608 2457l17-2-13-38-16 1zm-16 1l16-1-12-39-16 1z"/><path class="c20" d="M4576 2458l16 0-12-39-16 0zm-16 0l16 0-12-39-17 0z"/><path class="c21" d="M4544 2457l16 1-13-39-16-1z"/><path class="c22" d="M4528 2456l16 1-13-39-16-1zm-17-3l17 3-13-39-16-3z"/><path class="c23" d="M4495 2450l16 3-12-39-16-2z"/><path class="c24" d="M4479 2447l16 3-12-38-17-4z"/><path class="c25" d="M4463 2442l16 5-13-39-16-4z"/><path class="c27" d="M4446 2437l17 5-13-38-16-6z"/><path class="c28" d="M4430 2430l16 7-12-39-16-5z"/><path class="c29" d="M4414 2423l16 7-12-37-16-7z"/><path class="c31" d="M4398 2415l16 8-12-37-17-8z"/><path class="c32" d="M4382 2406l16 9-13-37-16-8z"/><path class="c34" d="M4366 2396l16 10-13-36-16-10z"/><path class="c36" d="M4349 2385l17 11-13-36-16-11z"/><path class="c38" d="M4333 2372l16 13-12-36-16-11z"/><path class="c40" d="M4317 2359l16 13-12-34-17-13z"/><path class="c42" d="M4301 2344l16 15-13-34-16-14z"/><path class="c45" d="M4284 2327l17 17-13-33-16-15z"/><path class="c42" d="M5091 2150l16-26-13-27-16 26z"/><path class="c39" d="M5075 2175l16-25-13-27-16 24z"/><path class="c37" d="M5058 2199l17-24-13-28-16 23z"/><path class="c35" d="M5042 2221l16-22-12-29-16 22z"/><path class="c33" d="M5026 2242l16-21-12-29-16 20z"/><path class="c31" d="M5010 2262l16-20-12-30-17 19z"/><path class="c29" d="M4994 2281l16-19-13-31-16 19z"/><path class="c27" d="M4977 2299l17-18-13-31-16 17z"/><path class="c26" d="M4961 2315l16-16-12-32-16 16z"/><path class="c24" d="M4945 2331l16-16-12-32-17 16z"/><path class="c23" d="M4929 2346l16-15-13-32-16 14z"/><path class="c22" d="M4913 2360l16-14-13-33-16 14z"/><path class="c21" d="M4896 2373l17-13-13-33-16 13z"/><path class="c20" d="M4880 2385l16-12-12-33-16 12z"/><path class="c19" d="M4864 2397l16-12-12-33-16 12z"/><path class="c18" d="M4848 2407l16-10-12-33-17 10z"/><path class="c17" d="M4832 2418l16-11-13-33-16 11z"/><path class="c16" d="M4815 2427l17-9-13-33-16 9zm-16 9l16-9-12-33-16 9z"/><path class="c15" d="M4783 2444l16-8-12-33-17 8zm-16 7l16-7-13-33-16 7zm-16 7l16-7-13-33-16 7z"/><path class="c14" d="M4734 2464l17-6-13-33-16 7zm-16 6l16-6-12-32-16 5zm-16 5l16-5-12-33-16 5zm-16 4l16-4-12-33-17 4zm-16 4l16-4-13-33-16 4zm-17 3l17-3-13-33-16 3z"/><path class="c15" d="M4637 2488l16-2-12-33-16 2zm-16 2l16-2-12-33-17 2zm-16 1l16-1-13-33-16 1z"/><path class="c16" d="M4589 2491l16 0-13-33-16 0zm-17 0l17 0-13-33-16 0z"/><path class="c17" d="M4556 2490l16 1-12-33-16-1z"/><path class="c18" d="M4540 2489l16 1-12-33-16-1z"/><path class="c19" d="M4524 2486l16 3-12-33-17-3z"/><path class="c20" d="M4508 2483l16 3-13-33-16-3z"/><path class="c21" d="M4491 2479l17 4-13-33-16-3z"/><path class="c22" d="M4475 2475l16 4-12-32-16-5z"/><path class="c23" d="M4459 2469l16 6-12-33-17-5z"/><path class="c24" d="M4443 2462l16 7-13-32-16-7z"/><path class="c26" d="M4427 2455l16 7-13-32-16-7z"/><path class="c27" d="M4410 2446l17 9-13-32-16-8z"/><path class="c29" d="M4394 2437l16 9-12-31-16-9z"/><path class="c31" d="M4378 2426l16 11-12-31-16-10z"/><path class="c33" d="M4362 2414l16 12-12-30-17-11z"/><path class="c35" d="M4346 2401l16 13-13-29-16-13z"/><path class="c37" d="M4329 2387l17 14-13-29-16-13z"/><path class="c39" d="M4313 2371l16 16-12-28-16-15z"/><path class="c42" d="M4297 2354l16 17-12-27-17-17z"/><path class="c39" d="M5103 2176l17-27-13-25-16 26z"/><path class="c37" d="M5087 2201l16-25-12-26-16 25z"/><path class="c34" d="M5071 2225l16-24-12-26-17 24z"/><path class="c32" d="M5055 2248l16-23-13-26-16 22z"/><path class="c30" d="M5039 2270l16-22-13-27-16 21z"/><path class="c28" d="M5022 2290l17-20-13-28-16 20z"/><path class="c26" d="M5006 2309l16-19-12-28-16 19z"/><path class="c24" d="M4990 2327l16-18-12-28-17 18z"/><path class="c23" d="M4974 2344l16-17-13-28-16 16z"/><path class="c21" d="M4958 2360l16-16-13-29-16 16z"/><path class="c20" d="M4941 2375l17-15-13-29-16 15z"/><path class="c19" d="M4925 2389l16-14-12-29-16 14z"/><path class="c17" d="M4909 2402l16-13-12-29-17 13z"/><path class="c16" d="M4893 2414l16-12-13-29-16 12zm-16 12l16-12-13-29-16 12z"/><path class="c15" d="M4860 2437l17-11-13-29-16 10z"/><path class="c14" d="M4844 2447l16-10-12-30-16 11z"/><path class="c13" d="M4828 2457l16-10-12-29-17 9zm-16 8l16-8-13-30-16 9z"/><path class="c12" d="M4796 2473l16-8-13-29-16 8zm-17 8l17-8-13-29-16 7zm-16 7l16-7-12-30-16 7z"/><path class="c11" d="M4747 2494l16-6-12-30-17 6zm-16 5l16-5-13-30-16 6zm-16 5l16-5-13-29-16 5zm-17 5l17-5-13-29-16 4zm-16 3l16-3-12-30-16 4zm-16 3l16-3-12-29-17 3z"/><path class="c12" d="M4650 2518l16-3-13-29-16 2zm-16 1l16-1-13-30-16 2zm-17 2l17-2-13-29-16 1z"/><path class="c13" d="M4601 2521l16 0-12-30-16 0zm-16 0l16 0-12-30-17 0z"/><path class="c14" d="M4569 2520l16 1-13-30-16-1z"/><path class="c15" d="M4553 2518l16 2-13-30-16-1z"/><path class="c16" d="M4536 2516l17 2-13-29-16-3zm-16-4l16 4-12-30-16-3z"/><path class="c17" d="M4504 2508l16 4-12-29-17-4z"/><path class="c19" d="M4488 2504l16 4-13-29-16-4z"/><path class="c20" d="M4472 2498l16 6-13-29-16-6z"/><path class="c21" d="M4455 2491l17 7-13-29-16-7z"/><path class="c23" d="M4439 2483l16 8-12-29-16-7z"/><path class="c24" d="M4423 2474l16 9-12-28-17-9z"/><path class="c26" d="M4407 2465l16 9-13-28-16-9z"/><path class="c28" d="M4391 2454l16 11-13-28-16-11z"/><path class="c30" d="M4374 2441l17 13-13-28-16-12z"/><path class="c32" d="M4358 2428l16 13-12-27-16-13z"/><path class="c34" d="M4342 2413l16 15-12-27-17-14z"/><path class="c37" d="M4326 2396l16 17-13-26-16-16z"/><path class="c39" d="M4310 2379l16 17-13-25-16-17z"/><path class="c37" d="M5116 2198l16-27-12-22-17 27z"/><path class="c34" d="M5100 2224l16-26-13-22-16 25z"/><path class="c32" d="M5084 2249l16-25-13-23-16 24z"/><path class="c30" d="M5067 2272l17-23-13-24-16 23z"/><path class="c27" d="M5051 2294l16-22-12-24-16 22z"/><path class="c25" d="M5035 2314l16-20-12-24-17 20z"/><path class="c23" d="M5019 2333l16-19-13-24-16 19z"/><path class="c22" d="M5003 2352l16-19-13-24-16 18z"/><path class="c20" d="M4986 2369l17-17-13-25-16 17z"/><path class="c19" d="M4970 2385l16-16-12-25-16 16z"/><path class="c17" d="M4954 2400l16-15-12-25-17 15z"/><path class="c16" d="M4938 2414l16-14-13-25-16 14z"/><path class="c15" d="M4922 2427l16-13-13-25-16 13z"/><path class="c14" d="M4905 2440l17-13-13-25-16 12z"/><path class="c13" d="M4889 2451l16-11-12-26-16 12z"/><path class="c12" d="M4873 2462l16-11-12-25-17 11z"/><path class="c11" d="M4857 2473l16-11-13-25-16 10zm-16 9l16-9-13-26-16 10z"/><path class="c10" d="M4824 2491l17-9-13-25-16 8zm-16 8l16-8-12-26-16 8z"/><path class="c9" d="M4792 2506l16-7-12-26-17 8zm-16 7l16-7-13-25-16 7zm-16 6l16-6-13-25-16 6zm-17 6l17-6-13-25-16 5z"/><path class="c8" d="M4727 2530l16-5-12-26-16 5zm-16 4l16-4-12-26-17 5z"/><path class="c9" d="M4695 2538l16-4-13-25-16 3zm-16 3l16-3-13-26-16 3zm-17 2l17-2-13-26-16 3zm-16 2l16-2-12-25-16 1z"/><path class="c10" d="M4630 2546l16-1-12-26-17 2zm-16 0l16 0-13-25-16 0z"/><path class="c11" d="M4598 2546l16 0-13-25-16 0zm-17-1l17 1-13-25-16-1z"/><path class="c12" d="M4565 2543l16 2-12-25-16-2z"/><path class="c13" d="M4549 2541l16 2-12-25-17-2z"/><path class="c14" d="M4533 2538l16 3-13-25-16-4z"/><path class="c15" d="M4517 2534l16 4-13-26-16-4z"/><path class="c16" d="M4500 2529l17 5-13-26-16-4z"/><path class="c17" d="M4484 2523l16 6-12-25-16-6z"/><path class="c19" d="M4468 2516l16 7-12-25-17-7z"/><path class="c20" d="M4452 2508l16 8-13-25-16-8z"/><path class="c22" d="M4436 2499l16 9-13-25-16-9z"/><path class="c23" d="M4419 2489l17 10-13-25-16-9z"/><path class="c25" d="M4403 2478l16 11-12-24-16-11z"/><path class="c27" d="M4387 2465l16 13-12-24-17-13z"/><path class="c30" d="M4371 2451l16 14-13-24-16-13z"/><path class="c32" d="M4355 2436l16 15-13-23-16-15z"/><path class="c34" d="M4338 2419l17 17-13-23-16-17z"/><path class="c37" d="M4322 2401l16 18-12-23-16-17z"/><path class="c35" d="M5128 2220l17-27-13-22-16 27z"/><path class="c32" d="M5112 2246l16-26-12-22-16 26z"/><path class="c30" d="M5096 2271l16-25-12-22-16 25z"/><path class="c27" d="M5080 2294l16-23-12-22-17 23z"/><path class="c25" d="M5064 2316l16-22-13-22-16 22z"/><path class="c23" d="M5047 2336l17-20-13-22-16 20z"/><path class="c21" d="M5031 2356l16-20-12-22-16 19z"/><path class="c19" d="M5015 2374l16-18-12-23-16 19z"/><path class="c18" d="M4999 2391l16-17-12-22-17 17z"/><path class="c16" d="M4983 2407l16-16-13-22-16 16z"/><path class="c15" d="M4966 2422l17-15-13-22-16 15z"/><path class="c14" d="M4950 2437l16-15-12-22-16 14z"/><path class="c13" d="M4934 2450l16-13-12-23-16 13z"/><path class="c12" d="M4918 2462l16-12-12-23-17 13z"/><path class="c11" d="M4902 2474l16-12-13-22-16 11z"/><path class="c10" d="M4885 2485l17-11-13-23-16 11z"/><path class="c9" d="M4869 2495l16-10-12-23-16 11z"/><path class="c8" d="M4853 2505l16-10-12-22-16 9zm-16 8l16-8-12-23-17 9z"/><path class="c7" d="M4821 2521l16-8-13-22-16 8zm-17 8l17-8-13-22-16 7zm-16 7l16-7-12-23-16 7z"/><path class="c6" d="M4772 2542l16-6-12-23-16 6zm-16 5l16-5-12-23-17 6zm-16 5l16-5-13-22-16 5zm-17 4l17-4-13-22-16 4zm-16 4l16-4-12-22-16 4zm-16 3l16-3-12-22-16 3z"/><path class="c7" d="M4675 2566l16-3-12-22-17 2zm-16 1l16-1-13-23-16 2zm-17 1l17-1-13-22-16 1z"/><path class="c8" d="M4626 2569l16-1-12-22-16 0zm-16 0l16 0-12-23-16 0z"/><path class="c9" d="M4594 2568l16 1-12-23-17-1z"/><path class="c10" d="M4578 2566l16 2-13-23-16-2z"/><path class="c11" d="M4561 2564l17 2-13-23-16-2z"/><path class="c12" d="M4545 2560l16 4-12-23-16-3z"/><path class="c13" d="M4529 2556l16 4-12-22-16-4z"/><path class="c14" d="M4513 2551l16 5-12-22-17-5z"/><path class="c15" d="M4497 2545l16 6-13-22-16-6z"/><path class="c16" d="M4480 2538l17 7-13-22-16-7z"/><path class="c18" d="M4464 2530l16 8-12-22-16-8z"/><path class="c19" d="M4448 2521l16 9-12-22-16-9z"/><path class="c21" d="M4432 2511l16 10-12-22-17-10z"/><path class="c23" d="M4416 2500l16 11-13-22-16-11z"/><path class="c25" d="M4399 2487l17 13-13-22-16-13z"/><path class="c27" d="M4383 2473l16 14-12-22-16-14z"/><path class="c30" d="M4367 2458l16 15-12-22-16-15z"/><path class="c32" d="M4351 2441l16 17-12-22-17-17z"/><path class="c35" d="M4335 2423l16 18-13-22-16-18z"/><path class="c33" d="M5141 2241l16-28-12-20-17 27z"/><path class="c30" d="M5125 2267l16-26-13-21-16 26z"/><path class="c28" d="M5109 2291l16-24-13-21-16 25z"/><path class="c26" d="M5092 2314l17-23-13-20-16 23z"/><path class="c23" d="M5076 2336l16-22-12-20-16 22z"/><path class="c21" d="M5060 2357l16-21-12-20-17 20z"/><path class="c19" d="M5044 2376l16-19-13-21-16 20z"/><path class="c18" d="M5028 2394l16-18-13-20-16 18z"/><path class="c16" d="M5011 2411l17-17-13-20-16 17z"/><path class="c14" d="M4995 2427l16-16-12-20-16 16z"/><path class="c13" d="M4979 2442l16-15-12-20-17 15z"/><path class="c12" d="M4963 2456l16-14-13-20-16 15z"/><path class="c11" d="M4947 2470l16-14-13-19-16 13z"/><path class="c10" d="M4930 2482l17-12-13-20-16 12z"/><path class="c9" d="M4914 2494l16-12-12-20-16 12z"/><path class="c8" d="M4898 2505l16-11-12-20-17 11z"/><path class="c7" d="M4882 2515l16-10-13-20-16 10zm-16 9l16-9-13-20-16 10z"/><path class="c6" d="M4849 2533l17-9-13-19-16 8z"/><path class="c5" d="M4833 2541l16-8-12-20-16 8zm-16 7l16-7-12-20-17 8zm-16 7l16-7-13-19-16 7zm-16 6l16-6-13-19-16 6z"/><path class="c4" d="M4768 2567l17-6-13-19-16 5zm-16 5l16-5-12-20-16 5zm-16 4l16-4-12-20-17 4zm-16 4l16-4-13-20-16 4z"/><path class="c5" d="M4704 2583l16-3-13-20-16 3zm-17 2l17-2-13-20-16 3zm-16 2l16-2-12-19-16 1zm-16 1l16-1-12-20-17 1z"/><path class="c6" d="M4639 2588l16 0-13-20-16 1z"/><path class="c7" d="M4623 2588l16 0-13-19-16 0zm-17-1l17 1-13-19-16-1z"/><path class="c8" d="M4590 2586l16 1-12-19-16-2z"/><path class="c9" d="M4574 2583l16 3-12-20-17-2z"/><path class="c10" d="M4558 2580l16 3-13-19-16-4z"/><path class="c11" d="M4542 2576l16 4-13-20-16-4z"/><path class="c12" d="M4525 2571l17 5-13-20-16-5z"/><path class="c13" d="M4509 2565l16 6-12-20-16-6z"/><path class="c14" d="M4493 2558l16 7-12-20-17-7z"/><path class="c16" d="M4477 2550l16 8-13-20-16-8z"/><path class="c18" d="M4461 2542l16 8-13-20-16-9z"/><path class="c19" d="M4444 2531l17 11-13-21-16-10z"/><path class="c21" d="M4428 2520l16 11-12-20-16-11z"/><path class="c23" d="M4412 2508l16 12-12-20-17-13z"/><path class="c26" d="M4396 2494l16 14-13-21-16-14z"/><path class="c28" d="M4380 2478l16 16-13-21-16-15z"/><path class="c30" d="M4363 2462l17 16-13-20-16-17z"/><path class="c33" d="M4347 2443l16 19-12-21-16-18z"/><path class="c32" d="M5154 2260l16-27-13-20-16 28z"/><path class="c29" d="M5137 2286l17-26-13-19-16 26z"/><path class="c26" d="M5121 2310l16-24-12-19-16 24z"/><path class="c24" d="M5105 2333l16-23-12-19-17 23z"/><path class="c22" d="M5089 2354l16-21-13-19-16 22z"/><path class="c20" d="M5073 2375l16-21-13-18-16 21z"/><path class="c18" d="M5056 2394l17-19-13-18-16 19z"/><path class="c16" d="M5040 2412l16-18-12-18-16 18z"/><path class="c14" d="M5024 2429l16-17-12-18-17 17z"/><path class="c13" d="M5008 2445l16-16-13-18-16 16z"/><path class="c11" d="M4992 2460l16-15-13-18-16 15z"/><path class="c10" d="M4975 2474l17-14-13-18-16 14z"/><path class="c9" d="M4959 2487l16-13-12-18-16 14z"/><path class="c8" d="M4943 2499l16-12-12-17-17 12z"/><path class="c7" d="M4927 2511l16-12-13-17-16 12z"/><path class="c6" d="M4911 2521l16-10-13-17-16 11zm-17 10l17-10-13-16-16 10z"/><path class="c5" d="M4878 2541l16-10-12-16-16 9z"/><path class="c4" d="M4862 2549l16-8-12-17-17 9zm-16 8l16-8-13-16-16 8zm-16 8l16-8-13-16-16 7z"/><path class="c3" d="M4813 2571l17-6-13-17-16 7zm-16 7l16-7-12-16-16 6zm-16 5l16-5-12-17-17 6zm-16 5l16-5-13-16-16 5zm-16 4l16-4-13-16-16 4zm-17 4l17-4-13-16-16 4zm-16 3l16-3-12-16-16 3zm-16 3l16-3-12-16-17 2z"/><path class="c4" d="M4684 2603l16-1-13-17-16 2zm-16 2l16-2-13-16-16 1zm-17 0l17 0-13-17-16 0z"/><path class="c5" d="M4635 2605l16 0-12-17-16 0z"/><path class="c6" d="M4619 2604l16 1-12-17-17-1zm-16-1l16 1-13-17-16-1z"/><path class="c7" d="M4587 2600l16 3-13-17-16-3z"/><path class="c8" d="M4570 2597l17 3-13-17-16-3z"/><path class="c9" d="M4554 2593l16 4-12-17-16-4z"/><path class="c10" d="M4538 2588l16 5-12-17-17-5z"/><path class="c11" d="M4522 2583l16 5-13-17-16-6z"/><path class="c13" d="M4506 2576l16 7-13-18-16-7z"/><path class="c14" d="M4489 2568l17 8-13-18-16-8z"/><path class="c16" d="M4473 2559l16 9-12-18-16-8z"/><path class="c18" d="M4457 2549l16 10-12-17-17-11z"/><path class="c20" d="M4441 2538l16 11-13-18-16-11z"/><path class="c22" d="M4425 2526l16 12-13-18-16-12z"/><path class="c24" d="M4408 2512l17 14-13-18-16-14z"/><path class="c26" d="M4392 2497l16 15-12-18-16-16z"/><path class="c29" d="M4376 2481l16 16-12-19-17-16z"/><path class="c32" d="M4360 2463l16 18-13-19-16-19z"/><path class="c30" d="M5166 2278l16-27-12-18-16 27z"/><path class="c27" d="M5150 2303l16-25-12-18-17 26z"/><path class="c25" d="M5134 2327l16-24-13-17-16 24z"/><path class="c22" d="M5117 2350l17-23-13-17-16 23z"/><path class="c20" d="M5101 2371l16-21-12-17-16 21z"/><path class="c18" d="M5085 2391l16-20-12-17-16 21z"/><path class="c16" d="M5069 2410l16-19-12-16-17 19z"/><path class="c15" d="M5053 2428l16-18-13-16-16 18z"/><path class="c13" d="M5036 2445l17-17-13-16-16 17z"/><path class="c11" d="M5020 2460l16-15-12-16-16 16z"/><path class="c10" d="M5004 2475l16-15-12-15-16 15z"/><path class="c9" d="M4988 2489l16-14-12-15-17 14z"/><path class="c8" d="M4972 2502l16-13-13-15-16 13z"/><path class="c7" d="M4955 2514l17-12-13-15-16 12z"/><path class="c6" d="M4939 2526l16-12-12-15-16 12z"/><path class="c5" d="M4923 2536l16-10-12-15-16 10z"/><path class="c4" d="M4907 2546l16-10-12-15-17 10zm-16 10l16-10-13-15-16 10z"/><path class="c3" d="M4874 2564l17-8-13-15-16 8zm-16 8l16-8-12-15-16 8z"/><path class="c2" d="M4842 2579l16-7-12-15-16 8zm-16 7l16-7-12-14-17 6zm-16 6l16-6-13-15-16 7zm-17 6l17-6-13-14-16 5zm-16 5l16-5-12-15-16 5zm-16 4l16-4-12-15-16 4zm-16 4l16-4-12-15-17 4zm-16 3l16-3-13-15-16 3zm-17 2l17-2-13-15-16 3zm-16 2l16-2-12-14-16 1z"/><path class="c3" d="M4680 2619l16-1-12-15-16 2zm-16 1l16-1-12-14-17 0z"/><path class="c4" d="M4648 2620l16 0-13-15-16 0zm-17-1l17 1-13-15-16-1z"/><path class="c5" d="M4615 2618l16 1-12-15-16-1z"/><path class="c6" d="M4599 2616l16 2-12-15-16-3z"/><path class="c7" d="M4583 2613l16 3-12-16-17-3z"/><path class="c8" d="M4567 2609l16 4-13-16-16-4z"/><path class="c9" d="M4550 2604l17 5-13-16-16-5z"/><path class="c10" d="M4534 2598l16 6-12-16-16-5z"/><path class="c11" d="M4518 2592l16 6-12-15-16-7z"/><path class="c13" d="M4502 2584l16 8-12-16-17-8z"/><path class="c15" d="M4486 2576l16 8-13-16-16-9z"/><path class="c16" d="M4469 2566l17 10-13-17-16-10z"/><path class="c18" d="M4453 2555l16 11-12-17-16-11z"/><path class="c20" d="M4437 2543l16 12-12-17-16-12z"/><path class="c22" d="M4421 2530l16 13-12-17-17-14z"/><path class="c25" d="M4405 2515l16 15-13-18-16-15z"/><path class="c27" d="M4388 2499l17 16-13-18-16-16z"/><path class="c30" d="M4372 2481l16 18-12-18-16-18z"/><path class="c29" d="M5179 2294l16-27-13-16-16 27z"/><path class="c26" d="M5162 2319l17-25-13-16-16 25z"/><path class="c23" d="M5146 2342l16-23-12-16-16 24z"/><path class="c21" d="M5130 2364l16-22-12-15-17 23z"/><path class="c19" d="M5114 2385l16-21-13-14-16 21z"/><path class="c17" d="M5098 2405l16-20-13-14-16 20z"/><path class="c15" d="M5081 2424l17-19-13-14-16 19z"/><path class="c13" d="M5065 2441l16-17-12-14-16 18z"/><path class="c12" d="M5049 2458l16-17-12-13-17 17z"/><path class="c10" d="M5033 2473l16-15-13-13-16 15z"/><path class="c9" d="M5017 2488l16-15-13-13-16 15z"/><path class="c8" d="M5000 2501l17-13-13-13-16 14z"/><path class="c7" d="M4984 2514l16-13-12-12-16 13z"/><path class="c6" d="M4968 2526l16-12-12-12-17 12z"/><path class="c5" d="M4952 2538l16-12-13-12-16 12z"/><path class="c4" d="M4936 2548l16-10-13-12-16 10z"/><path class="c3" d="M4919 2558l17-10-13-12-16 10zm-16 9l16-9-12-12-16 10z"/><path class="c2" d="M4887 2576l16-9-12-11-17 8zm-16 7l16-7-13-12-16 8z"/><path class="c1" d="M4855 2591l16-8-13-11-16 7zm-17 6l17-6-13-12-16 7zm-16 6l16-6-12-11-16 6zm-16 6l16-6-12-11-17 6zm-16 5l16-5-13-11-16 5zm-16 4l16-4-13-11-16 4zm-17 4l17-4-13-11-16 4zm-16 3l16-3-12-11-16 3zm-16 3l16-3-12-11-17 2zm-16 1l16-1-13-12-16 2z"/><path class="c2" d="M4693 2631l16-2-13-11-16 1zm-17 0l17 0-13-12-16 1z"/><path class="c3" d="M4660 2632l16-1-12-11-16 0zm-16-1l16 1-12-12-17-1z"/><path class="c4" d="M4628 2630l16 1-13-12-16-1z"/><path class="c5" d="M4612 2627l16 3-13-12-16-2z"/><path class="c6" d="M4595 2625l17 2-13-11-16-3z"/><path class="c7" d="M4579 2621l16 4-12-12-16-4z"/><path class="c8" d="M4563 2617l16 4-12-12-17-5z"/><path class="c9" d="M4547 2611l16 6-13-13-16-6z"/><path class="c10" d="M4531 2605l16 6-13-13-16-6z"/><path class="c12" d="M4514 2598l17 7-13-13-16-8z"/><path class="c13" d="M4498 2589l16 9-12-14-16-8z"/><path class="c15" d="M4482 2580l16 9-12-13-17-10z"/><path class="c17" d="M4466 2569l16 11-13-14-16-11z"/><path class="c19" d="M4450 2558l16 11-13-14-16-12z"/><path class="c21" d="M4433 2545l17 13-13-15-16-13z"/><path class="c23" d="M4417 2530l16 15-12-15-16-15z"/><path class="c26" d="M4401 2515l16 15-12-15-17-16z"/><path class="c29" d="M4385 2497l16 18-13-16-16-18z"/><path class="c27" d="M5191 2308l16-26-12-15-16 27z"/><path class="c25" d="M5175 2333l16-25-12-14-17 25z"/><path class="c22" d="M5159 2356l16-23-13-14-16 23z"/><path class="c20" d="M5143 2377l16-21-13-14-16 22z"/><path class="c18" d="M5126 2398l17-21-13-13-16 21z"/><path class="c16" d="M5110 2417l16-19-12-13-16 20z"/><path class="c14" d="M5094 2436l16-19-12-12-17 19z"/><path class="c13" d="M5078 2453l16-17-13-12-16 17z"/><path class="c11" d="M5062 2469l16-16-13-12-16 17z"/><path class="c10" d="M5045 2484l17-15-13-11-16 15z"/><path class="c8" d="M5029 2498l16-14-12-11-16 15z"/><path class="c7" d="M5013 2512l16-14-12-10-17 13z"/><path class="c6" d="M4997 2525l16-13-13-11-16 13z"/><path class="c5" d="M4981 2536l16-11-13-11-16 12z"/><path class="c4" d="M4964 2548l17-12-13-10-16 12zm-16 10l16-10-12-10-16 10z"/><path class="c3" d="M4932 2568l16-10-12-10-17 10z"/><path class="c2" d="M4916 2577l16-9-13-10-16 9zm-16 8l16-8-13-10-16 9z"/><path class="c1" d="M4883 2593l17-8-13-9-16 7zm-16 7l16-7-12-10-16 8zm-16 7l16-7-12-9-17 6z"/><path class="c0" d="M4835 2613l16-6-13-10-16 6zm-16 5l16-5-13-10-16 6zm-17 5l17-5-13-9-16 5zm-16 5l16-5-12-9-16 4zm-16 3l16-3-12-10-17 4zm-16 3l16-3-13-9-16 3z"/><path class="c1" d="M4738 2637l16-3-13-9-16 3zm-17 2l17-2-13-9-16 1zm-16 1l16-1-12-10-16 2z"/><path class="c2" d="M4689 2641l16-1-12-9-17 0zm-16 0l16 0-13-10-16 1z"/><path class="c3" d="M4657 2641l16 0-13-9-16-1z"/><path class="c4" d="M4640 2640l17 1-13-10-16-1zm-16-2l16 2-12-10-16-3z"/><path class="c5" d="M4608 2635l16 3-12-11-17-2z"/><path class="c6" d="M4592 2632l16 3-13-10-16-4z"/><path class="c7" d="M4576 2627l16 5-13-11-16-4z"/><path class="c8" d="M4559 2622l17 5-13-10-16-6z"/><path class="c10" d="M4543 2616l16 6-12-11-16-6z"/><path class="c11" d="M4527 2609l16 7-12-11-17-7z"/><path class="c13" d="M4511 2601l16 8-13-11-16-9z"/><path class="c14" d="M4495 2592l16 9-13-12-16-9z"/><path class="c16" d="M4478 2582l17 10-13-12-16-11z"/><path class="c18" d="M4462 2571l16 11-12-13-16-11z"/><path class="c20" d="M4446 2558l16 13-12-13-17-13z"/><path class="c22" d="M4430 2544l16 14-13-13-16-15z"/><path class="c25" d="M4414 2529l16 15-13-14-16-15z"/><path class="c27" d="M4397 2512l17 17-13-14-16-18z"/><path class="c26" d="M5204 2321l16-25-13-14-16 26z"/><path class="c24" d="M5188 2345l16-24-13-13-16 25z"/><path class="c21" d="M5171 2368l17-23-13-12-16 23z"/><path class="c19" d="M5155 2389l16-21-12-12-16 21z"/><path class="c17" d="M5139 2409l16-20-12-12-17 21z"/><path class="c15" d="M5123 2428l16-19-13-11-16 19z"/><path class="c14" d="M5106 2446l17-18-13-11-16 19z"/><path class="c12" d="M5090 2462l16-16-12-10-16 17z"/><path class="c11" d="M5074 2478l16-16-12-9-16 16z"/><path class="c9" d="M5058 2493l16-15-12-9-17 15z"/><path class="c8" d="M5042 2507l16-14-13-9-16 14z"/><path class="c7" d="M5026 2521l16-14-13-9-16 14z"/><path class="c6" d="M5009 2533l17-12-13-9-16 13z"/><path class="c5" d="M4993 2545l16-12-12-8-16 11z"/><path class="c4" d="M4977 2556l16-11-12-9-17 12z"/><path class="c3" d="M4961 2566l16-10-13-8-16 10z"/><path class="c2" d="M4944 2576l17-10-13-8-16 10zm-16 9l16-9-12-8-16 9z"/><path class="c1" d="M4912 2593l16-8-12-8-16 8zm-16 8l16-8-12-8-17 8zm-16 7l16-7-13-8-16 7z"/><path class="c0" d="M4864 2615l16-7-13-8-16 7zm-17 6l17-6-13-8-16 6zm-16 5l16-5-12-8-16 5zm-16 5l16-5-12-8-17 5zm-16 4l16-4-13-8-16 5zm-17 4l17-4-13-7-16 3zm-16 3l16-3-12-8-16 3zm-16 3l16-3-12-8-16 3z"/><path class="c1" d="M4734 2647l16-2-12-8-17 2zm-16 1l16-1-13-8-16 1zm-16 1l16-1-13-8-16 1z"/><path class="c2" d="M4685 2649l17 0-13-8-16 0zm-16 0l16 0-12-8-16 0z"/><path class="c3" d="M4653 2648l16 1-12-8-17-1z"/><path class="c4" d="M4637 2646l16 2-13-8-16-2z"/><path class="c5" d="M4620 2643l17 3-13-8-16-3z"/><path class="c6" d="M4604 2640l16 3-12-8-16-3z"/><path class="c7" d="M4588 2636l16 4-12-8-16-5z"/><path class="c8" d="M4572 2631l16 5-12-9-17-5z"/><path class="c9" d="M4556 2625l16 6-13-9-16-6z"/><path class="c11" d="M4540 2619l16 6-13-9-16-7z"/><path class="c12" d="M4523 2611l17 8-13-10-16-8z"/><path class="c14" d="M4507 2603l16 8-12-10-16-9z"/><path class="c15" d="M4491 2593l16 10-12-11-17-10z"/><path class="c17" d="M4475 2582l16 11-13-11-16-11z"/><path class="c19" d="M4458 2570l17 12-13-11-16-13z"/><path class="c21" d="M4442 2557l16 13-12-12-16-14z"/><path class="c24" d="M4426 2542l16 15-12-13-16-15z"/><path class="c26" d="M4410 2526l16 16-12-13-17-17z"/><path class="c25" d="M5216 2333l16-24-12-13-16 25z"/><path class="c23" d="M5200 2356l16-23-12-12-16 24z"/><path class="c21" d="M5184 2377l16-21-12-11-17 23z"/><path class="c19" d="M5168 2398l16-21-13-9-16 21z"/><path class="c17" d="M5151 2417l17-19-13-9-16 20z"/><path class="c15" d="M5135 2435l16-18-12-8-16 19z"/><path class="c13" d="M5119 2453l16-18-12-7-17 18z"/><path class="c12" d="M5103 2469l16-16-13-7-16 16z"/><path class="c10" d="M5087 2484l16-15-13-7-16 16z"/><path class="c9" d="M5070 2499l17-15-13-6-16 15z"/><path class="c8" d="M5054 2513l16-14-12-6-16 14z"/><path class="c7" d="M5038 2526l16-13-12-6-16 14z"/><path class="c6" d="M5022 2538l16-12-12-5-17 12z"/><path class="c5" d="M5006 2550l16-12-13-5-16 12z"/><path class="c4" d="M4989 2561l17-11-13-5-16 11z"/><path class="c3" d="M4973 2571l16-10-12-5-16 10z"/><path class="c2" d="M4957 2580l16-9-12-5-17 10zm-16 9l16-9-13-4-16 9z"/><path class="c1" d="M4925 2598l16-9-13-4-16 8zm-17 8l17-8-13-5-16 8zm-16 7l16-7-12-5-16 7z"/><path class="c0" d="M4876 2620l16-7-12-5-16 7zm-16 6l16-6-12-5-17 6zm-16 5l16-5-13-5-16 5zm-17 5l17-5-13-5-16 5zm-16 5l16-5-12-5-16 4zm-16 3l16-3-12-6-17 4zm-16 3l16-3-13-5-16 3zm-16 3l16-3-13-5-16 3z"/><path class="c1" d="M4746 2652l17-2-13-5-16 2zm-16 1l16-1-12-5-16 1zm-16 1l16-1-12-5-16 1z"/><path class="c2" d="M4698 2654l16 0-12-5-17 0zm-16 0l16 0-13-5-16 0z"/><path class="c3" d="M4665 2653l17 1-13-5-16-1z"/><path class="c4" d="M4649 2651l16 2-12-5-16-2z"/><path class="c5" d="M4633 2648l16 3-12-5-17-3z"/><path class="c6" d="M4617 2645l16 3-13-5-16-3z"/><path class="c7" d="M4601 2642l16 3-13-5-16-4z"/><path class="c8" d="M4584 2637l17 5-13-6-16-5z"/><path class="c9" d="M4568 2632l16 5-12-6-16-6z"/><path class="c10" d="M4552 2625l16 7-12-7-16-6z"/><path class="c12" d="M4536 2618l16 7-12-6-17-8z"/><path class="c13" d="M4520 2610l16 8-13-7-16-8z"/><path class="c15" d="M4503 2601l17 9-13-7-16-10z"/><path class="c17" d="M4487 2591l16 10-12-8-16-11z"/><path class="c19" d="M4471 2580l16 11-12-9-17-12z"/><path class="c21" d="M4455 2567l16 13-13-10-16-13z"/><path class="c23" d="M4439 2554l16 13-13-10-16-15z"/><path class="c25" d="M4422 2539l17 15-13-12-16-16zm807-194l16-22-13-14-16 24z"/><path class="c22" d="M5213 2366l16-21-13-12-16 23z"/><path class="c20" d="M5196 2386l17-20-13-10-16 21z"/><path class="c18" d="M5180 2405l16-19-12-9-16 21z"/><path class="c17" d="M5164 2423l16-18-12-7-17 19z"/><path class="c15" d="M5148 2441l16-18-13-6-16 18z"/><path class="c13" d="M5132 2457l16-16-13-6-16 18z"/><path class="c12" d="M5115 2473l17-16-13-4-16 16z"/><path class="c10" d="M5099 2487l16-14-12-4-16 15z"/><path class="c9" d="M5083 2502l16-15-12-3-17 15z"/><path class="c8" d="M5067 2515l16-13-13-3-16 14z"/><path class="c7" d="M5051 2528l16-13-13-2-16 13z"/><path class="c6" d="M5034 2540l17-12-13-2-16 12z"/><path class="c5" d="M5018 2551l16-11-12-2-16 12z"/><path class="c4" d="M5002 2562l16-11-12-1-17 11z"/><path class="c3" d="M4986 2572l16-10-13-1-16 10zm-16 10l16-10-13-1-16 9z"/><path class="c2" d="M4953 2591l17-9-13-2-16 9zm-16 9l16-9-12-2-16 9z"/><path class="c1" d="M4921 2608l16-8-12-2-17 8zm-16 7l16-7-13-2-16 7z"/><path class="c0" d="M4889 2622l16-7-13-2-16 7zm-17 7l17-7-13-2-16 6zm-16 5l16-5-12-3-16 5zm-16 5l16-5-12-3-17 5zm-16 5l16-5-13-3-16 5zm-16 3l16-3-13-3-16 3zm-17 3l17-3-13-3-16 3zm-16 2l16-2-12-3-16 3z"/><path class="c1" d="M4759 2654l16-2-12-2-17 2zm-16 1l16-1-13-2-16 1z"/><path class="c2" d="M4727 2656l16-1-13-2-16 1zm-17 0l17 0-13-2-16 0z"/><path class="c3" d="M4694 2655l16 1-12-2-16 0zm-16-1l16 1-12-1-17-1z"/><path class="c4" d="M4662 2652l16 2-13-1-16-2z"/><path class="c5" d="M4646 2650l16 2-13-1-16-3z"/><path class="c6" d="M4629 2647l17 3-13-2-16-3z"/><path class="c7" d="M4613 2644l16 3-12-2-16-3z"/><path class="c8" d="M4597 2640l16 4-12-2-17-5z"/><path class="c9" d="M4581 2635l16 5-13-3-16-5z"/><path class="c10" d="M4565 2629l16 6-13-3-16-7z"/><path class="c12" d="M4548 2623l17 6-13-4-16-7z"/><path class="c13" d="M4532 2616l16 7-12-5-16-8z"/><path class="c15" d="M4516 2607l16 9-12-6-17-9z"/><path class="c17" d="M4500 2599l16 8-13-6-16-10z"/><path class="c18" d="M4484 2589l16 10-13-8-16-11z"/><path class="c20" d="M4467 2578l17 11-13-9-16-13z"/><path class="c22" d="M4451 2566l16 12-12-11-16-13z"/><path class="c25" d="M4435 2553l16 13-12-12-17-15z"/><path class="c24" d="M5241 2356l17-20-13-13-16 22z"/><path class="c22" d="M5225 2375l16-19-12-11-16 21z"/><path class="c20" d="M5209 2393l16-18-12-9-17 20z"/><path class="c18" d="M5193 2410l16-17-13-7-16 19z"/><path class="c17" d="M5177 2427l16-17-13-5-16 18z"/><path class="c15" d="M5160 2443l17-16-13-4-16 18z"/><path class="c14" d="M5144 2458l16-15-12-2-16 16z"/><path class="c12" d="M5128 2473l16-15-12-1-17 16z"/><path class="c11" d="M5112 2487l16-14-13 0-16 14z"/><path class="c10" d="M5096 2500l16-13-13 0-16 15z"/><path class="c9" d="M5079 2513l17-13-13 2-16 13z"/><path class="c8" d="M5063 2526l16-13-12 2-16 13z"/><path class="c7" d="M5047 2538l16-12-12 2-17 12z"/><path class="c6" d="M5031 2549l16-11-13 2-16 11z"/><path class="c5" d="M5015 2560l16-11-13 2-16 11z"/><path class="c4" d="M4998 2571l17-11-13 2-16 10zm-16 10l16-10-12 1-16 10z"/><path class="c3" d="M4966 2590l16-9-12 1-17 9z"/><path class="c2" d="M4950 2599l16-9-13 1-16 9zm-16 9l16-9-13 1-16 8z"/><path class="c1" d="M4917 2616l17-8-13 0-16 7zm-16 7l16-7-12-1-16 7zm-16 7l16-7-12-1-17 7zm-16 6l16-6-13-1-16 5z"/><path class="c0" d="M4853 2641l16-5-13-2-16 5zm-17 4l17-4-13-2-16 5z"/><path class="c1" d="M4820 2649l16-4-12-1-16 3zm-16 2l16-2-12-2-17 3zm-16 2l16-2-13-1-16 2zm-16 1l16-1-13-1-16 2z"/><path class="c2" d="M4755 2655l17-1-13 0-16 1zm-16 0l16 0-12 0-16 1z"/><path class="c3" d="M4723 2654l16 1-12 1-17 0z"/><path class="c4" d="M4707 2654l16 0-13 2-16-1zm-16-2l16 2-13 1-16-1z"/><path class="c5" d="M4674 2650l17 2-13 2-16-2z"/><path class="c6" d="M4658 2648l16 2-12 2-16-2z"/><path class="c7" d="M4642 2645l16 3-12 2-17-3z"/><path class="c8" d="M4626 2642l16 3-13 2-16-3z"/><path class="c9" d="M4610 2638l16 4-13 2-16-4z"/><path class="c10" d="M4593 2634l17 4-13 2-16-5z"/><path class="c11" d="M4577 2629l16 5-12 1-16-6z"/><path class="c12" d="M4561 2624l16 5-12 0-17-6z"/><path class="c14" d="M4545 2618l16 6-13-1-16-7z"/><path class="c15" d="M4529 2611l16 7-13-2-16-9z"/><path class="c17" d="M4512 2603l17 8-13-4-16-8z"/><path class="c18" d="M4496 2595l16 8-12-4-16-10z"/><path class="c20" d="M4480 2586l16 9-12-6-17-11z"/><path class="c22" d="M4464 2577l16 9-13-8-16-12z"/><path class="c24" d="M4448 2566l16 11-13-11-16-13z"/><path class="c23" d="M5254 2361l16-17-12-8-17 20z"/><path class="c22" d="M5238 2378l16-17-13-5-16 19z"/><path class="c20" d="M5221 2394l17-16-13-3-16 18z"/><path class="c19" d="M5205 2409l16-15-12-1-16 17z"/><path class="c17" d="M5189 2424l16-15-12 1-16 17z"/><path class="c16" d="M5173 2439l16-15-12 3-17 16z"/><path class="c14" d="M5157 2453l16-14-13 4-16 15z"/><path class="c13" d="M5140 2467l17-14-13 5-16 15z"/><path class="c12" d="M5124 2480l16-13-12 6-16 14z"/><path class="c11" d="M5108 2493l16-13-12 7-16 13z"/><path class="c10" d="M5092 2506l16-13-12 7-17 13z"/><path class="c9" d="M5076 2518l16-12-13 7-16 13z"/><path class="c8" d="M5059 2530l17-12-13 8-16 12z"/><path class="c7" d="M5043 2542l16-12-12 8-16 11z"/><path class="c6" d="M5027 2553l16-11-12 7-16 11z"/><path class="c5" d="M5011 2564l16-11-12 7-17 11zm-16 11l16-11-13 7-16 10z"/><path class="c4" d="M4978 2585l17-10-13 6-16 9z"/><path class="c3" d="M4962 2595l16-10-12 5-16 9zm-16 9l16-9-12 4-16 9z"/><path class="c2" d="M4930 2613l16-9-12 4-17 8zm-16 8l16-8-13 3-16 7zm-17 7l17-7-13 2-16 7z"/><path class="c1" d="M4881 2635l16-7-12 2-16 6zm-16 5l16-5-12 1-16 5zm-16 4l16-4-12 1-17 4zm-16 3l16-3-13 1-16 4z"/><path class="c2" d="M4816 2649l17-2-13 2-16 2zm-16 1l16-1-12 2-16 2zm-16 0l16 0-12 3-16 1z"/><path class="c3" d="M4768 2650l16 0-12 4-17 1zm-16-1l16 1-13 5-16 0z"/><path class="c4" d="M4735 2648l17 1-13 6-16-1z"/><path class="c5" d="M4719 2647l16 1-12 6-16 0zm-16-2l16 2-12 7-16-2z"/><path class="c6" d="M4687 2643l16 2-12 7-17-2z"/><path class="c7" d="M4671 2641l16 2-13 7-16-2z"/><path class="c8" d="M4654 2638l17 3-13 7-16-3z"/><path class="c9" d="M4638 2635l16 3-12 7-16-3z"/><path class="c10" d="M4622 2631l16 4-12 7-16-4z"/><path class="c11" d="M4606 2627l16 4-12 7-17-4z"/><path class="c12" d="M4590 2623l16 4-13 7-16-5z"/><path class="c13" d="M4573 2619l17 4-13 6-16-5z"/><path class="c14" d="M4557 2614l16 5-12 5-16-6z"/><path class="c16" d="M4541 2608l16 6-12 4-16-7z"/><path class="c17" d="M4525 2602l16 6-12 3-17-8z"/><path class="c19" d="M4509 2596l16 6-13 1-16-8z"/><path class="c20" d="M4492 2589l17 7-13-1-16-9z"/><path class="c22" d="M4476 2582l16 7-12-3-16-9z"/><path class="c23" d="M4460 2574l16 8-12-5-16-11z"/><path class="c24" d="M5266 2358l17-14-13 0-16 17z"/><path class="c22" d="M5250 2372l16-14-12 3-16 17z"/><path class="c21" d="M5234 2386l16-14-12 6-17 16z"/><path class="c20" d="M5218 2400l16-14-13 8-16 15z"/><path class="c19" d="M5202 2413l16-13-13 9-16 15z"/><path class="c17" d="M5185 2426l17-13-13 11-16 15z"/><path class="c16" d="M5169 2439l16-13-12 13-16 14z"/><path class="c15" d="M5153 2452l16-13-12 14-17 14z"/><path class="c14" d="M5137 2465l16-13-13 15-16 13z"/><path class="c13" d="M5121 2478l16-13-13 15-16 13z"/><path class="c12" d="M5104 2490l17-12-13 15-16 13z"/><path class="c11" d="M5088 2502l16-12-12 16-16 12z"/><path class="c10" d="M5072 2514l16-12-12 16-17 12z"/><path class="c9" d="M5056 2526l16-12-13 16-16 12z"/><path class="c8" d="M5040 2538l16-12-13 16-16 11zm-17 11l17-11-13 15-16 11z"/><path class="c7" d="M5007 2561l16-12-12 15-16 11z"/><path class="c6" d="M4991 2571l16-10-12 14-17 10z"/><path class="c5" d="M4975 2582l16-11-13 14-16 10zm-16 10l16-10-13 13-16 9z"/><path class="c4" d="M4942 2601l17-9-13 12-16 9z"/><path class="c3" d="M4926 2610l16-9-12 12-16 8zm-16 8l16-8-12 11-17 7zm-16 7l16-7-13 10-16 7zm-16 5l16-5-13 10-16 5zm-17 4l17-4-13 10-16 4zm-16 2l16-2-12 10-16 3zm-16 2l16-2-12 11-17 2zm-16 0l16 0-13 11-16 1z"/><path class="c4" d="M4797 2638l16 0-13 12-16 0z"/><path class="c5" d="M4780 2637l17 1-13 12-16 0zm-16-1l16 1-12 13-16-1z"/><path class="c6" d="M4748 2634l16 2-12 13-17-1z"/><path class="c7" d="M4732 2632l16 2-13 14-16-1z"/><path class="c8" d="M4716 2630l16 2-13 15-16-2zm-17-2l17 2-13 15-16-2z"/><path class="c9" d="M4683 2625l16 3-12 15-16-2z"/><path class="c10" d="M4667 2622l16 3-12 16-17-3z"/><path class="c11" d="M4651 2619l16 3-13 16-16-3z"/><path class="c12" d="M4635 2616l16 3-13 16-16-4z"/><path class="c13" d="M4618 2612l17 4-13 15-16-4z"/><path class="c14" d="M4602 2609l16 3-12 15-16-4z"/><path class="c15" d="M4586 2605l16 4-12 14-17-4z"/><path class="c16" d="M4570 2601l16 4-13 14-16-5z"/><path class="c17" d="M4554 2597l16 4-13 13-16-6z"/><path class="c19" d="M4537 2593l17 4-13 11-16-6z"/><path class="c20" d="M4521 2588l16 5-12 9-16-6z"/><path class="c21" d="M4505 2584l16 4-12 8-17-7z"/><path class="c22" d="M4489 2579l16 5-13 5-16-7z"/><path class="c24" d="M4473 2574l16 5-13 3-16-8z"/><path class="c25" d="M5279 2347l16-12-12 9-17 14z"/><path class="c24" d="M5263 2360l16-13-13 11-16 14z"/><path class="c23" d="M5247 2372l16-12-13 12-16 14z"/><path class="c22" d="M5230 2385l17-13-13 14-16 14z"/><path class="c21" d="M5214 2397l16-12-12 15-16 13z"/><path class="c20" d="M5198 2410l16-13-12 16-17 13z"/><path class="c19" d="M5182 2422l16-12-13 16-16 13z"/><path class="c18" d="M5166 2434l16-12-13 17-16 13z"/><path class="c17" d="M5149 2446l17-12-13 18-16 13z"/><path class="c16" d="M5133 2459l16-13-12 19-16 13z"/><path class="c15" d="M5117 2471l16-12-12 19-17 12z"/><path class="c14" d="M5101 2483l16-12-13 19-16 12z"/><path class="c13" d="M5085 2495l16-12-13 19-16 12z"/><path class="c12" d="M5068 2507l17-12-13 19-16 12z"/><path class="c11" d="M5052 2518l16-11-12 19-16 12z"/><path class="c10" d="M5036 2530l16-12-12 20-17 11zm-16 11l16-11-13 19-16 12z"/><path class="c9" d="M5004 2552l16-11-13 20-16 10z"/><path class="c8" d="M4987 2563l17-11-13 19-16 11z"/><path class="c7" d="M4971 2574l16-11-12 19-16 10zm-16 10l16-10-12 18-17 9z"/><path class="c6" d="M4939 2593l16-9-13 17-16 9zm-16 8l16-8-13 17-16 8z"/><path class="c5" d="M4906 2608l17-7-13 17-16 7zm-16 5l16-5-12 17-16 5zm-16 4l16-4-12 17-17 4zm-16 2l16-2-13 17-16 2z"/><path class="c6" d="M4842 2620l16-1-13 17-16 2zm-17 0l17 0-13 18-16 0z"/><path class="c7" d="M4809 2620l16 0-12 18-16 0zm-16-1l16 1-12 18-17-1z"/><path class="c8" d="M4777 2617l16 2-13 18-16-1z"/><path class="c9" d="M4761 2615l16 2-13 19-16-2z"/><path class="c10" d="M4744 2613l17 2-13 19-16-2zm-16-3l16 3-12 19-16-2z"/><path class="c11" d="M4712 2608l16 2-12 20-17-2z"/><path class="c12" d="M4696 2605l16 3-13 20-16-3z"/><path class="c13" d="M4680 2602l16 3-13 20-16-3z"/><path class="c14" d="M4663 2600l17 2-13 20-16-3z"/><path class="c15" d="M4647 2597l16 3-12 19-16-3z"/><path class="c16" d="M4631 2594l16 3-12 19-17-4z"/><path class="c17" d="M4615 2591l16 3-13 18-16-3z"/><path class="c18" d="M4599 2588l16 3-13 18-16-4z"/><path class="c19" d="M4582 2584l17 4-13 17-16-4z"/><path class="c20" d="M4566 2581l16 3-12 17-16-4z"/><path class="c21" d="M4550 2578l16 3-12 16-17-4z"/><path class="c22" d="M4534 2575l16 3-13 15-16-5z"/><path class="c23" d="M4518 2571l16 4-13 13-16-4z"/><path class="c24" d="M4501 2568l17 3-13 13-16-5z"/><path class="c25" d="M4485 2565l16 3-12 11-16-5z"/><path class="c28" d="M5291 2330l17-12-13 17-16 12z"/><path class="c27" d="M5275 2342l16-12-12 17-16 13z"/><path class="c26" d="M5259 2354l16-12-12 18-16 12z"/><path class="c25" d="M5243 2366l16-12-12 18-17 13z"/><path class="c24" d="M5227 2379l16-13-13 19-16 12z"/><path class="c23" d="M5210 2391l17-12-13 18-16 13z"/><path class="c22" d="M5194 2403l16-12-12 19-16 12z"/><path class="c21" d="M5178 2415l16-12-12 19-16 12z"/><path class="c20" d="M5162 2427l16-12-12 19-17 12z"/><path class="c19" d="M5146 2439l16-12-13 19-16 13z"/><path class="c18" d="M5129 2450l17-11-13 20-16 12z"/><path class="c17" d="M5113 2462l16-12-12 21-16 12z"/><path class="c16" d="M5097 2474l16-12-12 21-16 12z"/><path class="c15" d="M5081 2485l16-11-12 21-17 12zm-16 12l16-12-13 22-16 11z"/><path class="c14" d="M5048 2508l17-11-13 21-16 12z"/><path class="c13" d="M5032 2519l16-11-12 22-16 11z"/><path class="c12" d="M5016 2530l16-11-12 22-16 11z"/><path class="c11" d="M5000 2541l16-11-12 22-17 11zm-16 10l16-10-13 22-16 11z"/><path class="c10" d="M4967 2561l17-10-13 23-16 10z"/><path class="c9" d="M4951 2569l16-8-12 23-16 9zm-16 8l16-8-12 24-16 8z"/><path class="c8" d="M4919 2584l16-7-12 24-17 7zm-16 6l16-6-13 24-16 5zm-17 3l17-3-13 23-16 4zm-16 3l16-3-12 24-16 2z"/><path class="c9" d="M4854 2597l16-1-12 23-16 1zm-16 0l16 0-12 23-17 0z"/><path class="c10" d="M4822 2597l16 0-13 23-16 0z"/><path class="c11" d="M4805 2596l17 1-13 23-16-1zm-16-1l16 1-12 23-16-2z"/><path class="c12" d="M4773 2593l16 2-12 22-16-2z"/><path class="c13" d="M4757 2591l16 2-12 22-17-2z"/><path class="c14" d="M4741 2589l16 2-13 22-16-3z"/><path class="c15" d="M4724 2587l17 2-13 21-16-2zm-16-3l16 3-12 21-16-3z"/><path class="c16" d="M4692 2582l16 2-12 21-16-3z"/><path class="c17" d="M4676 2579l16 3-12 20-17-2z"/><path class="c18" d="M4660 2577l16 2-13 21-16-3z"/><path class="c19" d="M4643 2574l17 3-13 20-16-3z"/><path class="c20" d="M4627 2571l16 3-12 20-16-3z"/><path class="c21" d="M4611 2568l16 3-12 20-16-3z"/><path class="c22" d="M4595 2565l16 3-12 20-17-4z"/><path class="c23" d="M4579 2563l16 2-13 19-16-3z"/><path class="c24" d="M4562 2560l17 3-13 18-16-3z"/><path class="c25" d="M4546 2557l16 3-12 18-16-3z"/><path class="c26" d="M4530 2554l16 3-12 18-16-4z"/><path class="c27" d="M4514 2551l16 3-12 17-17-3z"/><path class="c28" d="M4498 2548l16 3-13 17-16-3z"/><path class="c31" d="M5304 2310l16-13-12 21-17 12z"/><path class="c30" d="M5288 2323l16-13-13 20-16 12z"/><path class="c29" d="M5272 2336l16-13-13 19-16 12z"/><path class="c28" d="M5255 2349l17-13-13 18-16 12z"/><path class="c27" d="M5239 2361l16-12-12 17-16 13z"/><path class="c26" d="M5223 2374l16-13-12 18-17 12z"/><path class="c25" d="M5207 2386l16-12-13 17-16 12z"/><path class="c24" d="M5191 2398l16-12-13 17-16 12z"/><path class="c23" d="M5174 2410l17-12-13 17-16 12z"/><path class="c22" d="M5158 2422l16-12-12 17-16 12z"/><path class="c21" d="M5142 2433l16-11-12 17-17 11z"/><path class="c20" d="M5126 2445l16-12-13 17-16 12zm-16 11l16-11-13 17-16 12z"/><path class="c19" d="M5093 2467l17-11-13 18-16 11z"/><path class="c18" d="M5077 2478l16-11-12 18-16 12z"/><path class="c17" d="M5061 2489l16-11-12 19-17 11z"/><path class="c16" d="M5045 2499l16-10-13 19-16 11z"/><path class="c15" d="M5029 2509l16-10-13 20-16 11zm-17 10l17-10-13 21-16 11z"/><path class="c14" d="M4996 2529l16-10-12 22-16 10z"/><path class="c13" d="M4980 2538l16-9-12 22-17 10zm-16 8l16-8-13 23-16 8z"/><path class="c12" d="M4948 2553l16-7-13 23-16 8zm-17 7l17-7-13 24-16 7zm-16 5l16-5-12 24-16 6zm-16 4l16-4-12 25-17 3zm-16 3l16-3-13 24-16 3zm-16 2l16-2-13 24-16 1z"/><path class="c13" d="M4850 2574l17 0-13 23-16 0zm-16 1l16-1-12 23-16 0z"/><path class="c14" d="M4818 2574l16 1-12 22-17-1z"/><path class="c15" d="M4802 2574l16 0-13 22-16-1zm-16-1l16 1-13 21-16-2z"/><path class="c16" d="M4769 2571l17 2-13 20-16-2z"/><path class="c17" d="M4753 2570l16 1-12 20-16-2z"/><path class="c18" d="M4737 2568l16 2-12 19-17-2z"/><path class="c19" d="M4721 2566l16 2-13 19-16-3z"/><path class="c20" d="M4705 2564l16 2-13 18-16-2zm-17-2l17 2-13 18-16-3z"/><path class="c21" d="M4672 2560l16 2-12 17-16-2z"/><path class="c22" d="M4656 2557l16 3-12 17-17-3z"/><path class="c23" d="M4640 2555l16 2-13 17-16-3z"/><path class="c24" d="M4624 2552l16 3-13 16-16-3z"/><path class="c25" d="M4607 2549l17 3-13 16-16-3z"/><path class="c26" d="M4591 2545l16 4-12 16-16-2z"/><path class="c27" d="M4575 2542l16 3-12 18-17-3z"/><path class="c28" d="M4559 2539l16 3-13 18-16-3z"/><path class="c29" d="M4543 2535l16 4-13 18-16-3z"/><path class="c30" d="M4526 2531l17 4-13 19-16-3z"/><path class="c31" d="M4510 2527l16 4-12 20-16-3z"/><path class="c34" d="M5317 2298l16-16-13 15-16 13z"/><path class="c32" d="M5300 2314l17-16-13 12-16 13z"/><path class="c31" d="M5284 2329l16-15-12 9-16 13z"/><path class="c30" d="M5268 2343l16-14-12 7-17 13z"/><path class="c29" d="M5252 2357l16-14-13 6-16 12z"/><path class="c28" d="M5236 2370l16-13-13 4-16 13z"/><path class="c27" d="M5219 2383l17-13-13 4-16 12z"/><path class="c26" d="M5203 2395l16-12-12 3-16 12z"/><path class="c25" d="M5187 2407l16-12-12 3-17 12z"/><path class="c24" d="M5171 2418l16-11-13 3-16 12z"/><path class="c23" d="M5155 2429l16-11-13 4-16 11z"/><path class="c22" d="M5138 2440l17-11-13 4-16 12zm-16 10l16-10-12 5-16 11z"/><path class="c21" d="M5106 2460l16-10-12 6-17 11z"/><path class="c20" d="M5090 2470l16-10-13 7-16 11z"/><path class="c19" d="M5074 2479l16-9-13 8-16 11zm-17 10l17-10-13 10-16 10z"/><path class="c18" d="M5041 2498l16-9-12 10-16 10zm-16 8l16-8-12 11-17 10z"/><path class="c17" d="M5009 2514l16-8-13 13-16 10zm-16 8l16-8-13 15-16 9z"/><path class="c16" d="M4976 2529l17-7-13 16-16 8zm-16 7l16-7-12 17-16 7zm-16 6l16-6-12 17-17 7z"/><path class="c15" d="M4928 2547l16-5-13 18-16 5zm-16 4l16-4-13 18-16 4z"/><path class="c16" d="M4895 2554l17-3-13 18-16 3zm-16 3l16-3-12 18-16 2zm-16 2l16-2-12 17-17 0z"/><path class="c17" d="M4847 2560l16-1-13 15-16 1zm-16 1l16-1-13 15-16-1z"/><path class="c18" d="M4814 2562l17-1-13 13-16 0zm-16 0l16 0-12 12-16-1z"/><path class="c19" d="M4782 2562l16 0-12 11-17-2zm-16 0l16 0-13 9-16-1z"/><path class="c20" d="M4750 2561l16 1-13 8-16-2z"/><path class="c21" d="M4733 2561l17 0-13 7-16-2z"/><path class="c22" d="M4717 2559l16 2-12 5-16-2zm-16-1l16 1-12 5-17-2z"/><path class="c23" d="M4685 2556l16 2-13 4-16-2z"/><path class="c24" d="M4669 2554l16 2-13 4-16-3z"/><path class="c25" d="M4652 2551l17 3-13 3-16-2z"/><path class="c26" d="M4636 2548l16 3-12 4-16-3z"/><path class="c27" d="M4620 2545l16 3-12 4-17-3z"/><path class="c28" d="M4604 2541l16 4-13 4-16-4z"/><path class="c29" d="M4588 2537l16 4-13 4-16-3z"/><path class="c30" d="M4571 2531l17 6-13 5-16-3z"/><path class="c31" d="M4555 2526l16 5-12 8-16-4z"/><path class="c32" d="M4539 2519l16 7-12 9-17-4z"/><path class="c34" d="M4523 2512l16 7-13 12-16-4z"/><path class="c36" d="M5329 2289l16-21-12 14-16 16z"/><path class="c34" d="M5313 2309l16-20-12 9-17 16z"/><path class="c33" d="M5297 2327l16-18-13 5-16 15z"/><path class="c31" d="M5280 2343l17-16-13 2-16 14z"/><path class="c30" d="M5264 2358l16-15-12 0-16 14z"/><path class="c29" d="M5248 2372l16-14-12-1-16 13z"/><path class="c28" d="M5232 2385l16-13-12-2-17 13z"/><path class="c27" d="M5216 2397l16-12-13-2-16 12z"/><path class="c26" d="M5200 2408l16-11-13-2-16 12z"/><path class="c25" d="M5183 2419l17-11-13-1-16 11z"/><path class="c24" d="M5167 2429l16-10-12-1-16 11zm-16 9l16-9-12 0-17 11z"/><path class="c23" d="M5135 2448l16-10-13 2-16 10z"/><path class="c22" d="M5118 2456l17-8-13 2-16 10zm-16 9l16-9-12 4-16 10z"/><path class="c21" d="M5086 2473l16-8-12 5-16 9zm-16 8l16-8-12 6-17 10z"/><path class="c20" d="M5054 2488l16-7-13 8-16 9zm-17 7l17-7-13 10-16 8z"/><path class="c19" d="M5021 2502l16-7-12 11-16 8zm-16 7l16-7-12 12-16 8zm-16 6l16-6-12 13-17 7zm-16 6l16-6-13 14-16 7z"/><path class="c18" d="M4956 2526l17-5-13 15-16 6zm-16 5l16-5-12 16-16 5zm-16 4l16-4-12 16-16 4zm-16 4l16-4-12 16-17 3z"/><path class="c19" d="M4892 2542l16-3-13 15-16 3zm-16 3l16-3-13 15-16 2zm-17 3l17-3-13 14-16 1zm-16 3l16-3-12 12-16 1z"/><path class="c20" d="M4827 2553l16-2-12 10-17 1zm-16 1l16-1-13 9-16 0z"/><path class="c21" d="M4794 2556l17-2-13 8-16 0zm-16 1l16-1-12 6-16 0z"/><path class="c22" d="M4762 2558l16-1-12 5-16-1zm-16 0l16 0-12 3-17 0z"/><path class="c23" d="M4730 2558l16 0-13 3-16-2z"/><path class="c24" d="M4714 2557l16 1-13 1-16-1zm-17 0l17 0-13 1-16-2z"/><path class="c25" d="M4681 2555l16 2-12-1-16-2z"/><path class="c26" d="M4665 2553l16 2-12-1-17-3z"/><path class="c27" d="M4649 2550l16 3-13-2-16-3z"/><path class="c28" d="M4632 2546l17 4-13-2-16-3z"/><path class="c29" d="M4616 2542l16 4-12-1-16-4z"/><path class="c30" d="M4600 2536l16 6-12-1-16-4z"/><path class="c31" d="M4584 2529l16 7-12 1-17-6z"/><path class="c33" d="M4568 2520l16 9-13 2-16-5z"/><path class="c34" d="M4552 2510l16 10-13 6-16-7z"/><path class="c36" d="M4535 2498l17 12-13 9-16-7z"/><path class="c38" d="M5342 2278l16-25-13 15-16 21z"/><path class="c36" d="M5325 2301l17-23-13 11-16 20z"/><path class="c34" d="M5309 2321l16-20-12 8-16 18z"/><path class="c32" d="M5293 2339l16-18-12 6-17 16z"/><path class="c31" d="M5277 2354l16-15-13 4-16 15z"/><path class="c30" d="M5261 2369l16-15-13 4-16 14z"/><path class="c29" d="M5244 2381l17-12-13 3-16 13z"/><path class="c28" d="M5228 2393l16-12-12 4-16 12z"/><path class="c27" d="M5212 2404l16-11-12 4-16 11z"/><path class="c26" d="M5196 2414l16-10-12 4-17 11z"/><path class="c25" d="M5180 2423l16-9-13 5-16 10zm-17 9l17-9-13 6-16 9z"/><path class="c24" d="M5147 2440l16-8-12 6-16 10zm-16 8l16-8-12 8-17 8z"/><path class="c23" d="M5115 2456l16-8-13 8-16 9zm-16 7l16-7-13 9-16 8z"/><path class="c22" d="M5082 2469l17-6-13 10-16 8zm-16 7l16-7-12 12-16 7zm-16 6l16-6-12 12-17 7zm-16 6l16-6-13 13-16 7z"/><path class="c21" d="M5018 2494l16-6-13 14-16 7zm-17 6l17-6-13 15-16 6zm-16 5l16-5-12 15-16 6zm-16 5l16-5-12 16-17 5zm-16 5l16-5-13 16-16 5zm-16 4l16-4-13 16-16 4zm-17 4l17-4-13 16-16 4zm-16 4l16-4-12 16-16 3zm-16 4l16-4-12 15-16 3zm-16 3l16-3-12 14-17 3z"/><path class="c22" d="M4856 2537l16-3-13 14-16 3zm-17 3l17-3-13 14-16 2zm-16 3l16-3-12 13-16 1zm-16 2l16-2-12 11-17 2z"/><path class="c23" d="M4791 2548l16-3-13 11-16 1zm-16 1l16-1-13 9-16 1z"/><path class="c24" d="M4758 2551l17-2-13 9-16 0zm-16 1l16-1-12 7-16 0z"/><path class="c25" d="M4726 2552l16 0-12 6-16-1zm-16 0l16 0-12 5-17 0z"/><path class="c26" d="M4694 2551l16 1-13 5-16-2z"/><path class="c27" d="M4677 2550l17 1-13 4-16-2z"/><path class="c28" d="M4661 2547l16 3-12 3-16-3z"/><path class="c29" d="M4645 2543l16 4-12 3-17-4z"/><path class="c30" d="M4629 2538l16 5-13 3-16-4z"/><path class="c31" d="M4613 2532l16 6-13 4-16-6z"/><path class="c32" d="M4596 2523l17 9-13 4-16-7z"/><path class="c34" d="M4580 2513l16 10-12 6-16-9z"/><path class="c36" d="M4564 2499l16 14-12 7-16-10z"/><path class="c38" d="M4548 2483l16 16-12 11-17-12z"/><path class="c41" d="M5354 2264l16-28-12 17-16 25z"/><path class="c38" d="M5338 2288l16-24-12 14-17 23z"/><path class="c36" d="M5322 2309l16-21-13 13-16 20z"/><path class="c34" d="M5306 2327l16-18-13 12-16 18z"/><path class="c33" d="M5289 2344l17-17-13 12-16 15z"/><path class="c31" d="M5273 2358l16-14-12 10-16 15z"/><path class="c30" d="M5257 2371l16-13-12 11-17 12z"/><path class="c29" d="M5241 2382l16-11-13 10-16 12z"/><path class="c28" d="M5225 2393l16-11-13 11-16 11zm-17 9l17-9-13 11-16 10z"/><path class="c27" d="M5192 2411l16-9-12 12-16 9zm-16 8l16-8-12 12-17 9z"/><path class="c26" d="M5160 2427l16-8-13 13-16 8zm-16 7l16-7-13 13-16 8z"/><path class="c25" d="M5127 2441l17-7-13 14-16 8zm-16 7l16-7-12 15-16 7zm-16 6l16-6-12 15-17 6zm-16 6l16-6-13 15-16 7z"/><path class="c24" d="M5063 2466l16-6-13 16-16 6zm-17 6l17-6-13 16-16 6zm-16 5l16-5-12 16-16 6zm-16 6l16-6-12 17-17 6zm-16 5l16-5-13 17-16 5zm-16 5l16-5-13 17-16 5zm-17 4l17-4-13 17-16 5zm-16 5l16-5-12 18-16 4zm-16 4l16-4-12 17-17 4zm-16 4l16-4-13 17-16 4zm-16 4l16-4-13 17-16 4zm-17 4l17-4-13 17-16 3zm-16 3l16-3-12 16-16 3zm-16 4l16-4-12 16-17 3z"/><path class="c25" d="M4836 2528l16-3-13 15-16 3zm-16 3l16-3-13 15-16 2zm-17 2l17-2-13 14-16 3zm-16 2l16-2-12 15-16 1z"/><path class="c26" d="M4771 2537l16-2-12 14-17 2zm-16 2l16-2-13 14-16 1z"/><path class="c27" d="M4739 2540l16-1-13 13-16 0zm-17 0l17 0-13 12-16 0z"/><path class="c28" d="M4706 2540l16 0-12 12-16-1zm-16-1l16 1-12 11-17-1z"/><path class="c29" d="M4674 2536l16 3-13 11-16-3z"/><path class="c30" d="M4658 2533l16 3-13 11-16-4z"/><path class="c31" d="M4641 2528l17 5-13 10-16-5z"/><path class="c33" d="M4625 2521l16 7-12 10-16-6z"/><path class="c34" d="M4609 2511l16 10-12 11-17-9z"/><path class="c36" d="M4593 2499l16 12-13 12-16-10z"/><path class="c38" d="M4577 2484l16 15-13 14-16-14z"/><path class="c41" d="M4560 2466l17 18-13 15-16-16z"/><path class="c44" d="M5367 2246l16-28-13 18-16 28z"/><path class="c41" d="M5351 2271l16-25-13 18-16 24z"/><path class="c39" d="M5334 2292l17-21-13 17-16 21z"/><path class="c37" d="M5318 2311l16-19-12 17-16 18z"/><path class="c35" d="M5302 2327l16-16-12 16-17 17z"/><path class="c34" d="M5286 2341l16-14-13 17-16 14z"/><path class="c33" d="M5270 2354l16-13-13 17-16 13z"/><path class="c32" d="M5253 2366l17-12-13 17-16 11z"/><path class="c31" d="M5237 2376l16-10-12 16-16 11z"/><path class="c30" d="M5221 2385l16-9-12 17-17 9zm-16 9l16-9-13 17-16 9z"/><path class="c29" d="M5189 2402l16-8-13 17-16 8zm-17 8l17-8-13 17-16 8z"/><path class="c28" d="M5156 2417l16-7-12 17-16 7zm-16 7l16-7-12 17-17 7zm-16 6l16-6-13 17-16 7zm-16 7l16-7-13 18-16 6z"/><path class="c27" d="M5091 2443l17-6-13 17-16 6zm-16 6l16-6-12 17-16 6zm-16 5l16-5-12 17-17 6zm-16 6l16-6-13 18-16 5zm-16 5l16-5-13 17-16 6zm-17 5l17-5-13 18-16 5zm-16 5l16-5-12 18-16 5zm-16 5l16-5-12 18-17 4zm-16 4l16-4-13 17-16 5zm-16 5l16-5-13 18-16 4zm-17 4l17-4-13 17-16 4zm-16 4l16-4-12 17-16 4zm-16 3l16-3-12 17-17 4zm-16 4l16-4-13 18-16 3zm-16 3l16-3-13 17-16 4zm-17 3l17-3-13 18-16 3z"/><path class="c28" d="M4832 2513l16-3-12 18-16 3zm-16 3l16-3-12 18-17 2zm-16 2l16-2-13 17-16 2zm-16 2l16-2-13 17-16 2z"/><path class="c29" d="M4767 2522l17-2-13 17-16 2zm-16 1l16-1-12 17-16 1z"/><path class="c30" d="M4735 2523l16 0-12 17-17 0zm-16 0l16 0-13 17-16 0z"/><path class="c31" d="M4703 2522l16 1-13 17-16-1z"/><path class="c32" d="M4686 2520l17 2-13 17-16-3z"/><path class="c33" d="M4670 2516l16 4-12 16-16-3z"/><path class="c34" d="M4654 2511l16 5-12 17-17-5z"/><path class="c35" d="M4638 2504l16 7-13 17-16-7z"/><path class="c37" d="M4622 2495l16 9-13 17-16-10z"/><path class="c39" d="M4605 2482l17 13-13 16-16-12z"/><path class="c41" d="M4589 2467l16 15-12 17-16-15z"/><path class="c44" d="M4573 2448l16 19-12 17-17-18z"/><path class="c46" d="M5379 2229l16-29-12 18-16 28z"/><path class="c44" d="M5363 2253l16-24-12 17-16 25z"/><path class="c41" d="M5347 2275l16-22-12 18-17 21z"/><path class="c40" d="M5331 2293l16-18-13 17-16 19z"/><path class="c38" d="M5314 2310l17-17-13 18-16 16z"/><path class="c37" d="M5298 2324l16-14-12 17-16 14z"/><path class="c35" d="M5282 2337l16-13-12 17-16 13zm-16 11l16-11-12 17-17 12z"/><path class="c34" d="M5250 2358l16-10-13 18-16 10z"/><path class="c33" d="M5233 2368l17-10-13 18-16 9zm-16 9l16-9-12 17-16 9z"/><path class="c32" d="M5201 2385l16-8-12 17-16 8zm-16 7l16-7-12 17-17 8z"/><path class="c31" d="M5169 2400l16-8-13 18-16 7zm-17 6l17-6-13 17-16 7zm-16 7l16-7-12 18-16 6zm-16 6l16-6-12 17-16 7z"/><path class="c30" d="M5104 2425l16-6-12 18-17 6zm-16 6l16-6-13 18-16 6zm-17 6l17-6-13 18-16 5zm-16 5l16-5-12 17-16 6zm-16 5l16-5-12 18-16 5zm-16 6l16-6-12 18-17 5zm-16 4l16-4-13 17-16 5zm-17 5l17-5-13 18-16 5zm-16 5l16-5-12 18-16 4zm-16 4l16-4-12 17-16 5zm-16 4l16-4-12 18-17 4zm-16 4l16-4-13 18-16 4zm-17 4l17-4-13 18-16 3zm-16 3l16-3-12 17-16 4zm-16 4l16-4-12 18-16 3zm-16 3l16-3-12 17-17 3z"/><path class="c31" d="M4845 2496l16-3-13 17-16 3zm-17 2l17-2-13 17-16 3zm-16 3l16-3-12 18-16 2zm-16 2l16-2-12 17-16 2z"/><path class="c32" d="M4780 2504l16-1-12 17-17 2zm-16 1l16-1-13 18-16 1z"/><path class="c33" d="M4747 2506l17-1-13 18-16 0zm-16 0l16 0-12 17-16 0z"/><path class="c34" d="M4715 2504l16 2-12 17-16-1z"/><path class="c35" d="M4699 2502l16 2-12 18-17-2zm-16-3l16 3-13 18-16-4z"/><path class="c37" d="M4666 2494l17 5-13 17-16-5z"/><path class="c38" d="M4650 2486l16 8-12 17-16-7z"/><path class="c40" d="M4634 2477l16 9-12 18-16-9z"/><path class="c41" d="M4618 2465l16 12-12 18-17-13z"/><path class="c44" d="M4602 2450l16 15-13 17-16-15z"/><path class="c46" d="M4585 2430l17 20-13 17-16-19z"/><path class="c49" d="M5392 2211l16-28-13 17-16 29z"/><path class="c47" d="M5376 2236l16-25-13 18-16 24z"/><path class="c44" d="M5359 2257l17-21-13 17-16 22z"/><path class="c42" d="M5343 2276l16-19-12 18-16 18z"/><path class="c41" d="M5327 2292l16-16-12 17-17 17z"/><path class="c40" d="M5311 2306l16-14-13 18-16 14z"/><path class="c38" d="M5295 2319l16-13-13 18-16 13z"/><path class="c37" d="M5278 2331l17-12-13 18-16 11zm-16 10l16-10-12 17-16 10z"/><path class="c36" d="M5246 2350l16-9-12 17-17 10z"/><path class="c35" d="M5230 2359l16-9-13 18-16 9zm-16 8l16-8-13 18-16 8zm-17 8l17-8-13 18-16 7z"/><path class="c34" d="M5181 2382l16-7-12 17-16 8zm-16 7l16-7-12 18-17 6zm-16 6l16-6-13 17-16 7z"/><path class="c33" d="M5133 2402l16-7-13 18-16 6zm-17 6l17-6-13 17-16 6zm-16 6l16-6-12 17-16 6zm-16 5l16-5-12 17-17 6zm-16 6l16-6-13 18-16 5zm-16 5l16-5-13 17-16 5zm-17 5l17-5-13 17-16 6zm-16 5l16-5-12 18-16 4zm-16 5l16-5-12 17-17 5zm-16 4l16-4-13 17-16 5zm-16 4l16-4-13 18-16 4zm-17 5l17-5-13 18-16 4zm-16 3l16-3-12 17-16 4zm-16 4l16-4-12 18-17 4zm-16 4l16-4-13 18-16 3zm-16 3l16-3-13 17-16 4zm-17 3l17-3-13 18-16 3zm-16 3l16-3-12 18-16 3z"/><path class="c34" d="M4841 2481l16-3-12 18-17 2zm-16 2l16-2-13 17-16 3zm-16 2l16-2-13 18-16 2z"/><path class="c35" d="M4792 2487l17-2-13 18-16 1zm-16 1l16-1-12 17-16 1zm-16 0l16 0-12 17-17 1z"/><path class="c36" d="M4744 2488l16 0-13 18-16 0z"/><path class="c37" d="M4728 2487l16 1-13 18-16-2zm-17-2l17 2-13 17-16-2z"/><path class="c38" d="M4695 2481l16 4-12 17-16-3z"/><path class="c40" d="M4679 2476l16 5-12 18-17-5z"/><path class="c41" d="M4663 2469l16 7-13 18-16-8z"/><path class="c42" d="M4647 2459l16 10-13 17-16-9z"/><path class="c44" d="M4630 2447l17 12-13 18-16-12z"/><path class="c47" d="M4614 2432l16 15-12 18-16-15z"/><path class="c49" d="M4598 2413l16 19-12 18-17-20z"/></g>
<path d="M397.1 261.4L397.1 196.2M397.1 261.4L459.8 291M459.8 291L540.8 268M397.1 261.4h-1.5M397.1 245.1h-1.5M397.1 228.8h-1.5M397.1 212.5h-1.5M397.1 196.2h-1.5" stroke="#262626" stroke-width="0.5" fill="none"/>
<text x="393.5" y="263.4" class="tk" text-anchor="end">20</text>
<text x="393.5" y="247.1" class="tk" text-anchor="end">21</text>
<text x="393.5" y="230.8" class="tk" text-anchor="end">22</text>
<text x="393.5" y="214.5" class="tk" text-anchor="end">23</text>
<text x="393.5" y="198.2" class="tk" text-anchor="end">24</text>
<text x="391.7" y="269.1" class="tk" text-anchor="middle">1</text>
<text x="422.6" y="284" class="tk" text-anchor="middle">0</text>
<text x="451.7" y="298.9" class="tk" text-anchor="middle">-1</text>
<text x="463.1" y="299.1" class="tk">-1</text>
<text x="483.4" y="293.4" class="tk">-0.5</text>
<text x="503.6" y="287.6" class="tk">0</text>
<text x="523.8" y="281.9" class="tk">0.5</text>
<text x="544.1" y="276.1" class="tk">1</text>
<text x="499.4" y="301.3" class="lb" text-anchor="middle">x</text>
<path d="M459.8 291L458.5 290.4M480.1 285.2L478.8 284.7M500.3 279.5L499 278.9M520.5 273.8L519.3 273.2M540.8 268L539.5 267.4M459.8 291L461.4 290.5M428.4 276.2L430.1 275.7M397.1 261.4L398.7 260.9" stroke="#262626" stroke-width="0.5" fill="none"/>
<text x="427.9" y="300.7" class="lb" text-anchor="middle">y</text>
<text class="lb" text-anchor="middle" transform="translate(382.6 230.3) rotate(-90)">z</text>
</svg>
</body></html>
